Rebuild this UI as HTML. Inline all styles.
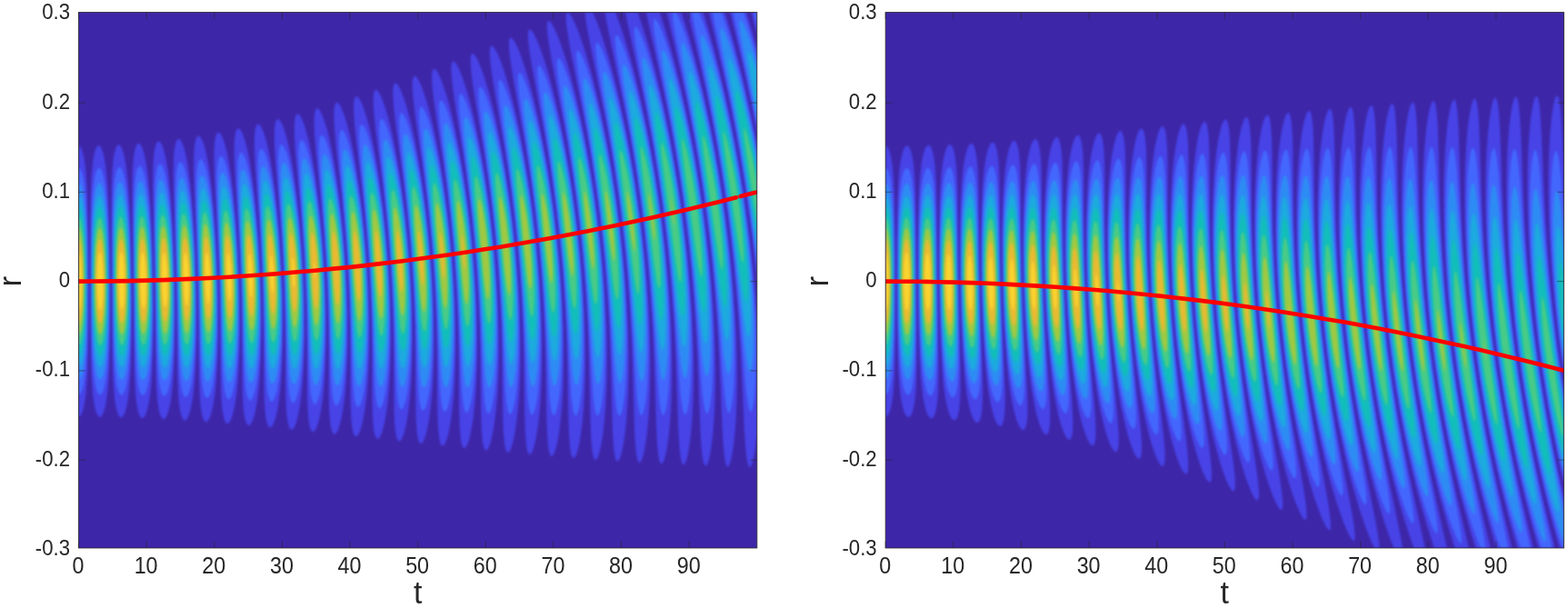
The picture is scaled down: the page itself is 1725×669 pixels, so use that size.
<!DOCTYPE html>
<html><head><meta charset="utf-8"><title>r versus t</title>
<style>
html,body{margin:0;padding:0;background:#fff}
body{width:1725px;height:669px;overflow:hidden}
svg{display:block}
text{font-family:"Liberation Sans",Arial,Helvetica,sans-serif;font-size:24px;fill:#262626;letter-spacing:0px}
text.l{font-size:34px;letter-spacing:0}
text.x{letter-spacing:0}
</style></head><body>
<svg width="1725" height="669" viewBox="0 0 1725 669" shape-rendering="geometricPrecision">
<defs>
<filter id="b" x="-1%" y="-1%" width="102%" height="102%" color-interpolation-filters="sRGB"><feGaussianBlur stdDeviation="0.8"/></filter>
<clipPath id="c0"><rect x="86.5" y="13.5" width="746.3" height="589.5"/></clipPath>
<clipPath id="c1"><rect x="974.2" y="13.5" width="746.3" height="589.5"/></clipPath>
</defs>
<rect width="1725" height="669" fill="#fff"/>
<g clip-path="url(#c0)"><g filter="url(#b)">
<rect x="80.5" y="7.5" width="758.3" height="601.5" fill="#3e26a8"/>
<path fill="#4743e7" d="M623.5 14.1l0.3-0.3 0.6-0.2 0.6 0.1 0.5 0.4 1.5 1.6 1.7 2.5 1.9 3.4 2 4.4 2.1 4.9 2.2 5.7 4.7 13.4 4.6 15 4.9 17.2 4.6 18.2 4.3 18.2 4.1 18.9 4 19.6 3.5 19.4 3.4 20 3.1 20.9 2.8 20.6 2.5 20.1 2.1 20.1 1.8 20 1.5 19.5 1.2 20 0.8 19.5 0.6 18.8 0.2 18.9-0.1 17.7-0.5 18.3-0.9 17.1-1.1 15.6-1.5 13.9-1 6.8-0.9 5.6-0.9 4.8-1.2 4.7-1.1 3.6-0.9 2.3-1.1 1.7-0.6 0.5-0.4 0.1-0.7-0.2-0.8-0.9-0.7-1.7-0.6-2.1-0.5-2.8-0.6-3.9-0.8-9.1-0.6-9.5-0.4-12.4-1.3-49.5-0.8-23.5-0.8-20.1-1-19.4-1.5-24.2-1.8-23.6-2.2-23.6-2.5-23.5-2.8-23-3-22.4-3.4-23-3.8-23.1-3.2-18.8-3.7-19.7-4.1-21.2-9.3-46.9-2.2-11.8-1.7-10-1.3-8.9-0.6-7-0.1-2.4 0.1-2.4 0.3-1.7zM643.6 13.5l8.4 0 0.9 2 2.5 5.6 2.4 6.2 2.6 7.2 2.8 8.2 5.6 18.1 5.6 20.1 4.7 18.5 4.6 20 4.5 20.9 4.1 21 3.9 21.9 3.6 21.9 3.1 21.8 2.9 21.8 2.3 20.6 2 20.7 1.8 20.6 1.3 20.1 1.1 20 0.7 20 0.3 18.9 0.1 18.9-0.4 18.8-0.7 18.3-1.1 16.2-1.5 15.2-0.9 7.3-1 6-0.9 5.1-1.1 5-0.9 3.2-1.2 3-1.1 1.9-0.5 0.5-0.4 0.1-0.8-0.1-0.7-0.9-0.7-1.7-0.6-2.1-0.6-2.8-0.5-3.8-0.9-9.1-0.6-10-0.5-12.4-1.5-50.7-0.8-24.7-1-21.8-1.2-20.7-1.7-25.3-2.1-25.4-2.5-25.3-2.8-24.8-2.8-21.8-3-21.2-3.3-21.2-3.7-22.1-3.9-21.8-4.3-22.5-12.7-62.1-3-15.4-2.7-15.3-0.8-5.9zM665.5 13.5l11.4 0 4.2 11.1 4.5 13.1 4.5 14.5 4.6 16.3 5.1 19.2 5 20.9 4.9 21.9 4.4 22.2 4.2 22.3 3.9 23.2 3.5 23.4 3 23 2.5 21.2 2.2 20.6 1.8 21.3 1.5 20.6 1.2 20.6 0.8 20.1 0.4 20 0.1 18.9-0.2 19.4-0.7 18.3-1.1 17.1-1.4 15.4-1.7 12.6-0.9 5.3-1.2 5.2-1.1 4.1-1.1 2.9-1.1 1.8-0.6 0.4-0.3 0.1-0.8-0.3-0.5-0.8-0.8-1.7-0.6-2-0.5-2.8-0.6-3.9-0.9-9.2-0.6-9.5-0.5-12.5-1.7-51.1-0.9-25.3-1.1-22.4-1.3-21.8-1.9-26-2.2-25.9-2.6-25.4-3-25.9-3.2-23.6-3.3-23-3.9-24.1-4.1-23.6-4-21.4-4.5-22.6-15.1-72.2-2.1-10.6zM688 13.5l13.4 0 3.6 10.3 3.5 10.8 3.8 12.2 3.5 12.3 5.4 20.2 5.4 22 5.1 22.3 4.8 23.5 4.3 22.8 4.1 24 3.7 24.2 3.3 23.5 2.5 21.3 2.3 21.2 1.9 21.2 1.6 21.2 1.3 20.7 0.8 20 0.6 20 0.2 19.5-0.2 19.5-0.6 18.8-1 17.1-1.3 15.9-1.8 13.6-1 5.9-0.9 4.5-1.1 4.2-1.1 3.1-0.6 1-0.6 0.8-0.5 0.4-0.4 0.1-0.4 0-0.3-0.3-0.6-0.7-0.7-1.8-0.6-2.1-0.6-2.8-0.5-3.9-0.9-9-0.6-9.4-0.7-13-1.8-51.9-1-24.7-1.2-23.6-1.4-21.8-2-26.6-2.3-25.9-2.8-26.5-3.1-26-3.4-24.7-3.6-24.2-4.1-24.8-4.4-24.7-4.1-21.2-4.6-22.7-4.8-22.9-9.8-44.6zM710.8 13.5l14.8 0 5.7 17.5 5.6 18.7 5.8 21.2 5.6 22.4 5.4 23.5 5 23.9 4.7 24.3 4.3 24.6 3.9 24.9 3.4 24.2 2.6 21.2 2.4 21.8 2 21.2 1.6 20.7 1.4 20.6 1 20.6 0.6 20.1 0.3 20-0.1 20.1-0.5 18.8-0.8 17.7-1.3 15.9-0.8 7.7-0.9 6.5-1 6.4-0.9 4.7-1 3.7-1.1 3.4-1.1 2.1-0.6 0.5-0.3 0.2-0.4 0-0.4-0.2-0.7-0.9-0.6-1.3-0.6-2.1-1.1-6-1-9.3-0.7-9.6-0.6-13.4-2.1-52.5-1.1-25.9-1.3-23.6-1.5-22.4-2.1-26.5-2.5-27.2-2.9-26.5-3.3-26.5-3.4-24.8-3.9-25.3-4.3-25.4-4.6-25.3-4.6-23.4-5.2-25.1zM733.7 13.5l15.9 0 4.5 13.9 4.3 14.4 5.9 21.6 6 23.5 5.6 24 5.2 24.5 4.9 24.8 4.5 25.4 4.1 25.4 3.6 25.9 2.7 21.2 2.5 21.9 2.1 21.8 1.7 21.2 1.4 21.2 1.1 20.6 0.7 20.7 0.4 19.4-0.1 20.1-0.4 19.4-0.8 17.7-1.2 15.9-1.6 14.2-1 6.1-0.9 4.9-0.9 3.9-1.1 3.5-1.2 2.1-0.5 0.6-0.4 0.1-0.4 0-0.3-0.2-0.6-0.7-0.7-1.7-0.6-2-1.1-6.3-1-9.1-0.7-9.5-0.7-13.6-2.3-53.6-1.2-25.3-1.4-24.2-1.6-22.4-2.2-27.1-2.6-27.1-3-27.2-3.4-26.5-3.6-25.3-4-26-4.5-25.9-4.8-25.8-5-25.2-5.4-25.5-5.6-25zM756.8 13.5l16.8 0 6 19.8 6.4 22.7 6.1 23.9 5.8 24.4 5.6 25.8 5.1 25.5 4.8 26.5 4.3 26.5 3.7 26 3.8 29.4 3.2 30.1 2.5 29.5 1.9 28.9 0 120.9-0.7 8.7-0.9 7.7-0.9 7.1-1 5.8-1.2 5-1.1 3.5-0.5 1.3-0.6 0.9-0.6 0.5-0.3 0.1-0.4 0-0.4-0.3-0.5-0.7-0.8-1.8-0.5-2.1-1.2-6.5-0.9-8.6-0.7-9.7-0.8-12.7-2.5-54.9-1.4-25.9-1.4-23.6-1.7-23-2.3-27.1-2.7-27.7-3-26.5-3.4-26.6-3.7-25.9-4.2-26.5-4.5-26-5-26.4-5.2-25.8-5.8-26.9-6.2-27.1zM780 13.5l17.4 0 4.8 15.9 4.9 17.2 4.6 17.5 4.7 18.7 4.5 19.1 4.1 18.6 4.1 19.8 3.7 19.3 0 152.8-1.8-18.3-2.1-18.3-2.2-18.2-2.4-18.3-2.6-18.3-2.6-17.7-3-18.3-3.1-18.2-3.2-17.7-3.4-17.7-3.6-18.1-4-18.6-8.2-36.6zM803.3 13.5l17.9 0 5.8 19.8 5.8 21.2 0 92.3-6.2-31.2-6.8-31.9-7.3-32.2zM826.5 13.5l6.3 0 0 25.4zM602.7 23.5l0.4-0.3 0.6-0.2 0.5 0.2 0.6 0.3 1.3 1.4 1.7 2.5 1.9 3.5 1.8 3.9 2.1 4.9 2.2 5.8 4.5 12.9 4.5 14.6 4.6 16.9 4.5 17.7 4.1 17.8 3.9 18.4 3.8 19.1 3.5 19.8 3.2 19.5 3 20.3 2.6 19.8 2.3 20 2 19.4 1.7 19.5 1.4 19.4 1 19.5 0.8 18.8 0.5 18.9 0.1 18.3-0.2 17.7-0.6 18.2-0.9 16.6-1.3 15.3-1.5 13.5-1 6.7-1 5.3-0.9 4.5-1.1 4.4-1.1 3.4-1 2.2-1.1 1.6-0.5 0.4-0.4 0.1-0.8-0.3-0.7-0.9-0.8-1.8-0.5-2.1-0.6-3-0.5-4-0.8-8.8-0.5-9.5-0.5-12.3-1.1-48.9-0.7-22.4-0.7-19.5-0.9-18.9-1.3-22.9-1.7-23-2-23-2.3-22.4-2.5-21.8-2.9-22.4-3.2-22.3-3.6-22.6-3-18.2-3.4-18.9-13-67.8-2.1-11.8-1.5-9.4-1.2-8.8-0.6-7.1 0-2.4 0.1-2.3 0.3-1.8zM582.4 32.4l0.4-0.1 0.5 0.1 1.4 1.1 1.4 1.9 1.7 2.8 1.7 3.4 1.9 4.2 2 5.1 2.1 5.5 4.3 12.9 4.3 14.4 4.3 16 4.2 17.6 4 17.5 3.7 18.2 3.5 18.8 3.2 18.4 3 19 2.7 19.5 2.5 19.4 2.2 19.5 1.8 18.8 1.5 19.5 1.3 18.9 0.9 18.8 0.7 18.3 0.3 18.3 0.1 17.7-0.3 17-0.7 17.1-0.9 16.6-1.3 14.7-1.7 13.4-1.8 11.2-1 4.3-1.1 4.3-1.1 3.4-0.9 2.1-1.2 1.6-0.5 0.4-0.4 0.1-0.5 0-0.4-0.3-0.8-1-0.7-1.9-0.6-2.2-0.5-3.1-0.6-4-0.7-9.2-0.5-9.7-0.4-11.8-1-47.1-0.5-21.8-0.7-18.3-0.7-17.7-1.3-22.4-1.4-21.8-1.8-21.8-2.1-21.8-2.4-21.8-2.7-21.3-3-21.8-3.3-22.4-2.9-17.4-3-18-12.6-68.3-2.1-11.8-1.5-9.5-1.2-10-0.3-4.1-0.1-3 0.2-2.9 0.3-1.8 0.5-1.1zM561 41.8l0.3-0.3 0.6-0.1 0.6 0.1 0.5 0.4 1.3 1.3 1.7 2.5 1.7 3.1 1.8 4 1.9 4.5 2.1 5.4 4.1 12.2 4.1 13.7 4.3 16 4.1 16.9 3.7 16.8 3.7 18.3 3.4 18 3.2 18.7 2.9 19.4 2.7 19 2.3 19.4 2.1 19.4 1.8 18.9 1.4 18.8 1.2 18.9 0.9 18.3 0.5 18.3 0.3 17.6-0.1 17.7-0.3 16.5-0.7 17.1-1 15.6-1.4 14.1-1.6 13.2-1.9 10.8-0.9 4.2-1.2 4.2-1.1 3.3-0.9 2-1.1 1.6-1 0.6-0.5-0.1-0.4-0.2-0.7-1-0.8-1.7-0.5-2.1-0.6-2.9-0.6-4.1-0.7-9.1-0.5-10-0.4-11.8-0.8-47.2-0.5-21.2-0.6-17.7-0.7-17.7-1.2-21.8-1.4-21.8-1.7-21.2-2-21.3-2.2-20.6-2.4-20.6-2.8-20.7-3.1-21.2-5.5-33.7-11.6-65.3-1.9-11.8-1.5-9.4-1.1-9.5-0.4-7 0-2.4 0.1-2.4 0.4-1.7zM540 50.6l0.4-0.2 0.6-0.1 0.6 0.1 0.5 0.4 1.3 1.4 1.5 2.2 1.7 3.1 1.7 3.6 1.8 4.5 1.9 5 3.9 11.6 4.1 13.9 4.1 15.6 4 16.4 3.7 17.2 3.3 16.9 3.4 18.5 3 18.1 2.8 18.8 2.5 18.7 2.2 18.9 1.9 18.9 1.7 18.8 1.3 18.3 1.1 18.3 0.7 17.7 0.5 17.6 0.2 17.7-0.1 17.1-0.4 16.5-0.8 16.5-1.1 15.4-1.3 13.8-1.7 12.6-1.9 10.3-0.9 4.1-1.1 4-1.1 3.2-1 2-1.1 1.6-0.9 0.5-0.6-0.1-0.4-0.2-0.7-0.9-0.7-1.7-0.6-2.1-0.6-2.7-0.5-4-0.9-10.4-0.4-9.2-0.4-12-1.1-66.6-1.1-33.6-1.1-21.2-1.2-20.7-1.6-20.6-1.8-20.6-2.1-20.1-2.2-19.4-2.6-20.7-2.8-20-5.1-32.4-11.1-64.9-1.8-11.8-1.4-9.4-1-9.4-0.4-7.1 0-2.9 0.3-2.4 0.4-1.5zM518.8 59.5l0.4-0.3 0.5-0.3 0.6 0.1 0.5 0.3 1.4 1.3 1.3 1.8 1.5 2.7 1.6 3.5 1.9 4.4 1.9 4.9 3.7 11.1 3.9 13.3 3.9 15 3.8 15.8 3.5 16.6 3.4 17.2 3.1 17.8 2.9 18 2.7 18.6 2.4 18.6 2.1 18.2 1.9 18.9 1.5 18.3 1.3 18.3 1 18.2 0.6 17.7 0.4 17.7 0.1 17.1-0.1 16.5-0.5 15.9-0.8 15.9-1.1 14.8-1.5 13.9-1.7 12-1.8 9.9-1 3.9-1.1 3.9-1.1 3-0.9 1.9-1.2 1.5-0.9 0.5-0.6-0.1-0.3-0.2-0.8-0.9-0.7-1.7-0.8-2.8-0.5-3.1-0.5-4-0.8-9.4-0.4-9.2-0.3-12.1-1-65.4-1-32.4-0.9-20.6-1.2-20.1-1.4-20-1.8-20.1-1.8-18.8-2.1-18.9-2.4-19.5-2.6-19.4-4.6-30.9-10.3-62.8-1.8-11.8-1.3-9.5-1-9.4-0.4-7.7 0.1-2.5 0.2-2.2 0.4-1.7zM497.9 67.7l0.4-0.2 0.5-0.1 0.6 0.2 0.6 0.3 1.3 1.4 1.3 2 1.5 2.7 1.6 3.6 3.4 8.6 3.5 10.7 3.8 13 3.7 14.6 3.5 15.4 3.4 16.1 3.2 16.7 3 17.2 2.8 18 2.5 18.4 2.3 18.2 2 18.4 1.7 18.2 1.5 18.3 1.1 17.7 0.9 17.7 0.5 17.1 0.3 17.1 0.1 17.1-0.3 16.5-0.6 15.3-0.8 15.3-1.2 14.2-1.5 13.4-1.6 11.4-1.9 9.4-0.9 3.8-1.2 3.7-1.1 2.9-0.9 1.8-1.1 1.4-1 0.4-0.5-0.1-0.4-0.3-0.7-0.9-0.8-1.7-0.7-2.8-0.6-3.1-0.5-4-0.8-10-0.6-17.7-0.7-61.3-0.5-18.8-0.5-17.7-0.9-19.5-1-19.4-1.3-18.9-1.5-18.9-1.7-18.2-1.9-18.3-2.2-18.9-2.4-18.8-2.5-17.7-2.6-18.1-9.4-59.7-2.4-17.7-1-10-0.3-7.7 0.1-3 0.3-1.9 0.4-1.6zM476.7 76l0.5-0.3 0.4-0.1 0.9 0.4 1.3 1.2 1.3 1.8 1.5 2.7 1.5 3.2 1.7 4 1.6 4.5 3.4 10.2 3.6 12.5 3.5 14 3.5 15.7 3.2 15.6 3.2 17.1 2.8 16.8 2.6 17.3 2.4 17.9 2.1 17.6 1.9 17.7 1.6 18.3 1.4 17.7 1 17.7 0.8 17 0.5 17.1 0.2 16.5 0 16.6-0.4 15.9-0.6 15.3-0.8 14.6-1.2 13.7-1.4 12.7-1.7 11.2-1.9 9.2-0.9 3.7-1.1 3.6-1.2 2.9-0.9 1.8-1.1 1.4-0.9 0.5-0.6-0.1-0.4-0.2-0.7-0.8-0.8-1.6-0.7-2.6-0.6-2.8-0.5-4.1-0.9-10.6-0.6-18.3-0.6-60.1-0.9-34.8-0.7-18.9-1-18.8-1.2-18.3-1.4-18.3-1.5-17.7-1.8-17.7-2-17.7-2.2-18-4.6-34.1-8.8-58.7-2.3-17.7-0.9-10-0.2-7.6 0.2-3 0.2-1.9 0.5-1.6zM456 83.7l0.9 0 1.1 0.9 1.3 1.6 1.3 2.1 1.5 3 1.5 3.4 3.1 8.6 3.2 10.2 3.4 12.3 3.3 14 3.2 14.7 3 15.3 3 16.9 2.6 16.5 2.4 16.9 2.2 17.4 2 17.1 1.6 17.1 1.5 17.7 1.2 17.1 0.9 17.1 0.7 17.1 0.3 16.5 0.2 16.5-0.2 15.9-0.4 15.3-0.6 14.8-1 14.7-1.3 13.5-1.5 12-1.7 10.2-1.8 8.5-1 3.4-1.1 3.3-1.1 2.5-0.9 1.6-1 0.9-0.9 0.4-0.6-0.1-0.3-0.3-0.8-0.9-0.7-1.7-0.8-2.7-0.5-3-0.6-4.3-0.8-10.3-0.6-18.3-0.5-57.7-0.7-33-0.7-17.7-0.8-17.1-1-17.7-1.2-17.1-1.4-17.1-1.6-17.1-1.8-17.7-2-17.7-4.4-33.6-8.3-58.3-1.2-10-1-8.9-0.8-10.6-0.1-4.1 0.1-3.6 0.3-2.5 0.5-2.2 0.6-1.2 0.3-0.3zM433.9 91.9l0.7-0.5 0.6 0 0.6 0.2 1.1 0.9 1.3 1.7 1.3 2.3 1.5 3.1 3 7.5 3.1 9.8 3.2 11.5 3.2 12.9 3.2 14.7 2.8 14.3 2.8 15.9 2.6 16.4 2.4 17.2 2.2 17.1 1.9 17.2 1.7 17.6 1.4 17.7 1.2 17.1 0.9 17.1 0.6 16.5 0.3 16.5 0.1 15.9-0.1 15.9-0.5 15.3-0.6 14.2-1 14.1-1.2 12.8-1.5 12-1.7 10.3-1.8 8.6-1 3.4-1.1 3.3-1.1 2.6-0.9 1.6-1 1.1-0.9 0.4-0.6 0-0.3-0.2-1-1.1-0.7-1.6-0.8-2.6-0.5-2.8-0.6-4.1-0.8-10.6-0.4-8.3-0.2-10.6-0.5-57.2-0.6-32.4-0.6-17.7-0.8-17.1-1-17.1-1.2-17.1-1.2-15.9-1.5-16.5-3.4-32.4-3.8-31.1-7.3-54.4-2.2-18.9-0.8-10.6-0.1-7.6 0.1-3 0.4-2.3 0.4-1.8zM412.9 99l0.9-0.2 0.5 0.2 0.6 0.4 1.1 1.1 1.1 1.7 1.3 2.4 1.3 2.8 1.5 3.7 1.5 4.1 3 9.6 3 11.1 3 12.7 2.9 14.3 2.8 15 2.7 15.5 2.4 16.1 2.2 16.7 2 16.6 1.8 16.7 1.5 16.9 1.3 17.1 1 16.5 0.8 16.5 0.5 16.5 0.2 15.9 0.1 16-0.3 15.3-0.5 14.7-0.7 14.2-1 13.5-1.3 12.7-1.5 11.2-1.6 9.7-1.9 8.1-0.9 3.2-1 2.6-1.1 2.5-0.9 1.6-1 0.9-0.9 0.4-0.5 0-0.4-0.2-0.8-0.8-0.7-1.4-0.8-2.3-0.6-2.8-0.5-3.5-0.9-8.9-0.4-9.4-0.3-12.4-0.4-54.2-0.5-28.3-0.9-27.7-1.3-26.5-1.1-17.7-1.4-17.7-1.5-17.7-1.8-18.3-3.8-33.6-7.3-58.3-2-18.9-0.6-10.6-0.1-4.1 0.1-3.6 0.3-2.9 0.4-2.3 0.6-1.5 0.3-0.5zM391.6 106.1l0.3-0.2 0.6 0.1 0.9 0.5 1.1 1.2 1.3 1.9 1.3 2.5 1.4 3 2.6 7 2.8 9.2 2.8 10.7 2.8 12.2 2.8 13.8 2.6 14.4 2.4 15 2.3 15.9 2.2 16.7 1.8 16.4 1.7 16.9 1.4 16.7 1.2 16.5 0.9 16.5 0.7 15.9 0.4 15.9 0.2 15.9 0 15.3-0.3 15.4-0.5 14.7-0.8 13.4-1 12.5-1.2 12.1-1.5 11-1.7 9.4-1.9 7.8-0.9 3-1 2.6-1.1 2.4-0.9 1.4-0.9 0.9-1 0.3-0.5-0.1-0.4-0.2-0.9-1.1-0.8-1.7-0.7-2.4-0.6-3-0.5-3.4-0.8-8.9-0.4-9.4-0.3-12.4-0.3-51.9-0.4-26.5-0.8-25.4-1.1-24.7-1-17.1-1.2-17.7-1.4-17.1-1.6-17.7-3.4-33.1-6.8-57.7-1.1-10.6-0.7-8.8-0.6-10.6 0-4.1 0.1-3.6 0.4-2.9 0.5-2.4 0.7-1.7zM369.7 113.1l0.8-0.3 0.9 0.2 1.1 0.9 1.1 1.5 1.3 2.2 1.4 2.8 2.6 6.8 2.6 8.5 2.8 10.7 2.6 11.5 2.6 13.2 2.4 13.6 2.4 15.3 2.3 15.9 1.9 15.7 1.8 16.1 1.6 16.9 1.4 16.5 1.1 16.5 0.9 16.5 0.6 16 0.4 15.9 0.1 15.3-0.1 15.3-0.3 14.8-0.6 14.1-0.7 13-1 12.5-1.3 11.7-1.3 9.9-1.7 9.3-1.9 7.8-0.9 3.1-0.9 2.5-1.2 2.3-0.9 1.5-0.9 0.9-1 0.3-0.9-0.3-0.9-1-0.8-1.6-0.7-2.4-0.7-3.5-0.6-3.5-0.8-9.4-0.4-9.5-0.3-12.3-0.3-50.7-0.3-25.4-0.7-23.6-0.9-23-0.9-16.5-1-16.5-1.3-16.5-1.4-17.1-3.1-32-6.1-55.8-1.7-19.5-0.5-10.6 0-4.7 0.1-3.5 0.3-3 0.5-2.3 0.6-1.8zM348.1 119.6l0.4-0.2 0.5-0.2 0.9 0.3 1 0.8 1.1 1.4 1.1 1.9 1.3 2.8 2.4 6.3 2.5 7.9 2.6 10.1 2.6 11.8 2.4 12.5 2.4 14.2 2.2 14.1 2.1 15.9 1.9 15.4 1.7 16.2 1.4 16.2 1.3 15.9 1 16.5 0.8 15.9 0.5 15.9 0.4 15.4 0.1 15.3-0.1 14.7-0.4 14.8-0.6 14.1-0.8 13-1 12.4-1.3 11.4-1.4 9.8-1.6 8.4-1.9 7.5-0.9 2.9-0.9 2.3-1 1.9-0.9 1.4-0.9 0.9-1 0.3-0.9-0.2-0.9-1.1-1-1.9-0.7-2.6-0.7-3.3-0.6-4.1-0.4-4.7-0.4-5.9-0.4-9.5-0.3-11.8-0.2-48.3-0.3-23.6-0.6-21.8-0.7-21.2-1.7-31.9-2.3-32.4-2.8-31-5.5-55.6-1.6-19.5-0.4-11.2 0.1-4.6 0.1-3.6 0.4-3 0.4-2.3 0.7-2zM326.8 125.5l0.8-0.1 0.9 0.3 0.9 0.9 1.1 1.5 1.2 2 1.1 2.5 2.4 6.5 2.4 8.3 2.3 9 2.4 11.4 2.2 12.1 2.3 13.7 2 14.2 1.9 15 1.8 15.9 1.5 15.5 1.4 16.3 1.1 15.9 1 16.5 0.7 16 0.4 15.3 0.3 15.3 0 14.8-0.2 14.7-0.4 14-0.6 13.7-0.8 12.4-1 11.8-1.3 10.8-1.4 9.2-1.6 8.3-1.7 6.5-0.9 2.9-0.9 2.3-1 1.8-0.9 1.4-0.9 0.8-1 0.3-0.5-0.1-0.6-0.4-0.9-1.1-0.9-2.2-0.8-2.7-0.7-4-0.6-4.3-0.8-11.3-0.4-9.4-0.2-11.2-0.3-49.5-0.4-25.9-0.6-25.4-1.1-25.3-1.3-24.2-1.8-24.8-2.1-26.5-4.9-54.2-1-13-0.5-10-0.1-10 0.1-3.6 0.3-3.5 0.4-2.4 0.6-2.3 0.7-1.5zM304.8 131.4l0.7-0.3 1 0.2 0.9 0.7 1.1 1.4 1.1 1.9 1.2 2.3 2.2 6 2.2 7.6 2.3 9.2 2.2 10.8 2.1 11.4 2 12.9 1.9 13.4 1.9 15.2 1.6 15.5 1.5 16 1.3 15.5 1 15.9 0.9 15.9 0.6 15.4 0.4 15.3 0.3 15.3 0 14.8-0.2 14.1-0.4 14.2-0.7 13.5-0.8 12.4-1 11.8-1.2 10.1-1.4 9.3-1.6 8.1-1.7 6.5-0.9 2.7-0.9 2.3-0.9 1.8-1 1.2-0.9 0.8-0.8 0.2-0.5 0-0.6-0.3-0.5-0.6-0.6-0.8-0.9-2.2-0.9-3.2-0.7-4.1-0.6-4.7-0.5-5.3-0.4-6.5-0.3-9-0.2-11.6-0.3-48.4-0.4-24.1-0.6-24.2-0.8-23.6-1.2-22.4-1.5-23.6-1.8-25.3-4.2-51.9-0.9-13-0.5-10.6-0.1-10 0.2-4.1 0.2-3.5 0.5-3.5 0.6-2.2 0.7-1.7zM283 136.7l0.7-0.3 0.9 0.1 1 0.7 1.1 1.4 0.9 1.5 1.1 2.3 2.1 5.5 2.1 6.9 2 8.5 2.1 10 2 11.7 1.9 12.2 1.8 14 1.7 14.4 1.6 15.4 1.3 15.4 1.2 15.9 1 15.9 0.8 16.5 0.6 15.3 0.4 15.4 0.1 15.3 0 14.7-0.2 14.2-0.5 13.5-0.6 13-0.8 12.1-1.1 11.5-1.2 9.9-1.3 8.4-1.5 7.5-1.6 6.3-1.7 4.5-1 1.8-0.9 1.2-0.9 0.8-0.8 0.3-0.7-0.1-0.6-0.4-0.5-0.6-0.6-0.8-0.9-2.3-1-3.5-0.7-4.2-0.6-5.2-0.5-6-0.4-7-0.5-20.6-0.4-46.6-0.3-23-0.5-22.4-0.7-21.8-1-21.2-1.1-21.3-1.6-24.1-3.7-51.3-0.7-13-0.4-10.6-0.1-11.2 0.2-4.1 0.4-4 0.4-3.1 0.7-2.6 0.7-1.7zM261.4 141.4l0.9-0.2 0.9 0.4 0.9 0.8 1 1.3 0.9 1.6 0.9 2 2.1 5.7 2 7.3 1.9 8.2 1.9 9.7 1.8 11.4 1.7 11.8 1.7 13.5 1.5 14.4 1.5 15.3 1.2 15.3 1 15.3 0.9 16 0.7 15.9 0.5 15.3 0.3 15.3 0.1 14.8-0.1 14.7-0.3 14.1-0.4 13.1-0.7 12.9-0.8 11.6-1 10.8-1.2 9.9-1.4 8.1-1.4 7.1-1.7 5.9-1.7 4.1-0.9 1.6-0.8 0.9-0.9 0.7-0.8 0.2-0.7-0.2-0.6-0.4-0.5-0.7-0.6-0.9-1.1-2.9-0.9-3.9-0.8-4.7-0.6-5.4-0.5-7-0.4-7.8-0.4-19.9-0.7-65.5-0.4-21.2-0.6-20-0.8-19.5-0.9-19.4-1.3-23.6-3.1-50.1-0.7-13.6-0.3-10.6 0-11.8 0.3-4.7 0.4-4.1 0.5-3.3 0.7-2.9 0.8-1.6 0.5-0.7zM239.1 146.1l0.8-0.5 0.7 0 0.9 0.5 1 0.9 0.9 1.4 0.9 1.8 1.9 4.7 1.9 6.3 1.8 7.8 1.9 9.7 1.7 10.3 1.7 12.1 1.5 12.5 1.4 14.4 1.4 14.6 1.1 15.5 1.1 16 0.8 15.9 0.6 15.9 0.5 15.3 0.3 15.3 0.1 14.8-0.1 14.7-0.3 14.2-0.5 13.5-0.6 12.4-0.8 11.5-0.9 10.2-1.2 9.6-1.3 8.1-1.5 7.3-1.4 5.4-1.7 4.3-1 1.6-0.7 1-0.9 0.8-0.8 0.2-0.7-0.1-0.6-0.3-0.7-0.8-0.6-1-1.2-3-1-4.4-0.8-5-0.7-6.5-0.5-7.1-0.4-8.8-0.4-20-0.7-63.1-0.8-37.2-0.7-20-0.9-21.2-3.5-68.4-0.6-20.6 0-12.4 0.3-5.1 0.3-4.5 0.6-4 0.7-2.9 0.8-2.2zM217.6 149.7l0.8-0.3 0.8 0.2 0.9 0.7 0.9 1.2 1.7 3.2 1.9 5.1 1.6 6.2 1.7 7.7 1.7 9.4 1.5 10 1.5 11.8 1.3 12 1.3 14 1.2 14.9 1 15.5 0.9 15.7 0.7 15.9 0.6 15.9 0.4 15.4 0.2 15.3 0 14.7-0.1 14.2-0.4 14.1-0.4 13-0.7 11.8-0.8 11.2-0.9 10.2-1.1 9-1.3 8-1.4 6.2-1.4 5.2-0.8 2-0.9 2-0.8 1.3-0.9 1.1-0.7 0.5-0.8 0.2-0.7-0.1-0.8-0.5-0.7-0.9-0.6-1-0.7-1.8-0.6-1.9-1-4.7-0.9-5.9-0.7-7.6-0.5-8.9-0.4-10.1-0.4-18.8-0.6-58.4-0.7-33-1.2-38.3-2.7-65.4-0.5-22.4 0.1-7.7 0.1-6.5 0.3-5.3 0.5-4.9 0.7-3.9 0.8-3.3 0.9-2.1 0.6-0.7zM195.4 153.2l0.8-0.4 0.8 0 0.7 0.4 0.9 1 0.8 1.1 0.9 1.8 1.7 4.4 1.7 6 1.5 6.8 1.5 8.3 1.4 10.3 1.4 10.7 1.3 12.8 1.1 13.4 1.1 14.6 1 15.5 0.8 15.9 0.6 16.3 0.5 16.1 0.5 31.3 0 14.7-0.1 14.8-0.3 13.5-0.5 13-0.6 12-0.8 11-0.9 9.7-1.1 8.6-1.2 7.4-1.3 6.2-1.5 5.3-1.4 3.6-0.8 1.3-0.9 1.2-1 0.7-0.7 0.1-0.9-0.3-0.8-0.6-0.7-1-0.8-1.6-0.7-2.1-0.6-2.1-1-5.2-0.9-6.5-0.7-8.6-0.5-9.6-0.4-11.8-0.3-18.9-0.6-54.2-0.5-27.7-0.9-34.8-1.9-61.9-0.3-13.6-0.1-11.2 0.3-14.7 0.3-5.9 0.5-5.3 0.7-4.3 0.8-3.4 1-2.7zM174.1 155.6l0.8 0 0.8 0.3 0.7 0.7 0.8 1.1 0.9 1.7 0.8 1.7 1.4 4.6 1.5 6 1.3 6.6 1.4 8.2 1.3 10.3 1.1 10.6 1.1 12.4 1 13.6 1 14.7 1.4 31.3 0.9 33 0.4 31.2-0.3 28.9-0.3 13.6-0.5 12.3-0.6 11.3-0.8 10.3-0.8 9.1-1 8-1.1 6.9-1.4 6.1-1.3 4.5-1.5 3.6-0.7 1.2-0.9 1.1-0.8 0.5-0.7 0.2-1-0.2-0.9-0.8-0.9-1.4-0.8-1.7-0.7-2.3-0.7-2.7-1.1-6.5-1-8.2-0.7-10.1-0.5-11.8-0.4-15.3-1.1-90.2-1.9-90.2-0.2-14.1 0.1-11.2 0.1-8.9 0.4-7.6 0.5-6.5 0.7-5.3 0.8-4.1 1.1-3.5 1.1-2.1 0.5-0.6zM151.7 157.9l0.8-0.2 0.8 0.2 0.7 0.5 0.8 0.9 0.7 1.2 0.8 1.5 1.5 4.2 1.3 5.1 1.3 6.7 1.3 8.1 1.1 9 1.1 10.6 1 12 1.6 26.9 1.3 31.2 0.8 33.6 0.3 32.5-0.3 30-0.3 13.6-0.5 12.7-0.5 11-0.7 10.5-0.8 8.8-1 8.3-1.1 6.4-1.3 6.1-1.3 4.5-1.5 3.5-0.7 1.2-0.8 0.9-0.7 0.5-0.7 0.2-1-0.2-0.9-0.7-0.9-1.4-1-2-0.9-3-0.7-3.1-1.3-7.6-1-9.8-0.7-11.5-0.6-14.1-0.3-18.3-0.9-79-1-74.2-0.1-19.5 0.1-15.3 0.3-9.5 0.4-8.2 0.6-7.1 0.6-5.3 0.9-4.7 1.1-4 1.1-2.4 0.6-0.7zM129.4 159.7l0.8-0.4 0.7 0 0.8 0.3 0.7 0.8 0.7 1 0.8 1.5 1.5 4 1.3 5.1 1.3 6.6 1.1 7.6 0.9 8.3 1 10.1 0.8 10.5 1.4 26.5 1.1 31.9 0.6 34.2 0.2 34.2-0.3 31.2-0.7 25.9-0.6 11.2-0.7 10.1-0.7 8.4-0.9 7.9-1.2 7-1.1 5.3-1.3 4.4-0.7 1.9-0.8 1.6-0.7 1.1-0.8 0.8-0.7 0.5-0.8 0.1-0.5-0.1-0.6-0.3-1.1-1.2-0.9-1.6-1-2.5-0.9-3.3-0.7-3.5-0.8-4.6-0.6-4.8-1-11.8-0.8-14.2-0.5-17.7-0.4-23-0.9-119.6 0.1-27.1 0.3-20.1 0.4-9.4 0.4-8.1 0.7-7.3 0.7-5.8 0.9-5 1.1-4.2 1.1-2.7 0.6-0.9zM108 160.3l0.7-0.1 0.7 0.3 0.8 0.6 0.7 1 1.3 2.7 1.4 4.2 1.1 4.9 1.1 6.6 0.9 7.2 0.9 9.1 0.8 10.1 0.6 10.6 1.1 26.1 0.8 32.8 0.4 36.6 0 34.7-0.4 30.7-0.7 24.8-0.5 10-0.7 9.4-0.7 8.3-0.9 7-1 6.5-1.2 5.1-1.3 4.2-1.3 2.8-0.7 1.1-0.6 0.6-0.7 0.5-0.8 0.2-0.7-0.2-0.6-0.4-0.7-0.7-0.6-0.9-1.1-2.3-1.1-3.5-1-3.9-0.9-5.4-0.7-5.7-0.7-6.2-1-15.3-0.7-18.9-0.5-24.2-0.3-33-0.1-48.9 0.1-40.1 0.4-27.7 0.7-20.8 0.5-8.7 0.7-7.6 0.7-6.5 0.9-5.9 1.1-4.9 1.1-3.4 0.6-1.2 0.8-1.2 0.7-0.8zM86.5 160.9l0-0.4 0.6 0.1 0.5 0.3 0.8 0.8 0.7 1.1 1.3 3.1 1.2 4.4 1.1 5.1 0.9 6.4 0.8 7.4 0.7 8.8 0.6 9.4 0.5 11.3 0.7 26.4 0.5 34.9 0.2 40.6-0.1 35.4-0.5 28.9-0.7 22.4-1.1 17.7-0.7 7.6-0.8 6.5-0.9 5.5-1.1 5.1-1.1 3.7-1.3 2.9-0.6 0.9-0.7 0.8-0.8 0.5-0.7 0.2z"/>
<path fill="#4367fd" d="M740.1 14.1l0-0.6 3.4 0 1.4 2.4 1.5 2.9 3.6 8.3 4.1 11.2 4.4 13.6 4.7 15.7 4.5 16.4 4.1 16.2 3.9 16.7 3.7 16.9 3.8 18.3 3.5 18.7 3.2 18.1 3 18.5 2.8 18.9 2.4 18.2 2.1 17.2 1.9 18.3 1.7 17.6 1.4 17.1 1.1 17.1 0.9 17.1 0.6 16.5 0.3 16.5 0 16-0.3 14.7-0.7 13.6-1 11.5-1.2 8.5-0.6 3.4-0.8 2.5-0.7 1.6-0.4 0.4-0.4 0.2-0.4 0-0.3-0.2-0.6-0.9-0.7-1.9-0.6-2.1-1.1-6-1.2-9.4-2-20.9-5.3-67.5-3.2-34.8-2.2-21.8-2.5-21.2-2.6-21.2-2.8-20.7-2.7-18.8-3.1-19.5-3.1-18.9-3.4-19.4-5.9-31.8-12-60.8-3.8-20-1.3-8.3-0.8-5.9-0.4-4.7zM761.5 13.5l7.6 0 4.2 10.6 4.5 12.9 4.6 14.9 4.7 16.2 4.5 16.8 4.3 17.3 4.2 18.7 4 18.3 3.9 19.8 3.5 19.3 3.4 19.9 3 19.4 2.6 18.6 2.3 17.8 2.1 18.3 1.8 18.3 1.6 18.2 1.3 17.7 1 17.1 0.7 17.1 0.5 17.1 0.1 16.5-0.3 15.3-0.5 13.6-0.9 12-1.2 9.2-0.7 3.7-0.7 2.7-0.8 1.6-0.3 0.5-0.4 0.2-0.4 0-0.4-0.3-0.5-0.8-0.6-1.4-0.5-1.9-1.2-6-1.3-9.1-2-20.8-5.9-70.9-3.6-37.2-2.4-22.4-2.6-21.8-2.9-22.4-3-21.2-2.8-18.3-2.9-17.7-6.3-36.5-7.3-37.8-14-69.5-2.5-13.6zM783.9 13.5l9.8 0 3.5 9.5 3.7 11.3 4.3 13.9 4.3 15 4.3 16.1 4.1 16.5 3.9 16.7 3.9 17.9 3.7 18.2 3.4 17.6 0 132.5-3.8-32.9-4.2-31.2-4.6-31.3-5.2-31.8-4.8-27.1-5.4-28.3-5.9-28.9-11.1-53.1zM806.6 13.5l11.4 0 3.6 10.6 3.7 11.9 3.8 12.5 3.7 13.4 0 78.2-4.4-22.8-4.7-23-13.7-64.3zM829.5 13.5l3.3 0 0 15.1zM720.3 20.6l0.7 0.3 1.2 1.2 1.3 2 1.5 2.9 3.3 7.6 3.9 10.6 4 11.8 4.1 13.6 4.1 14.8 4.1 16 3.7 15.7 3.5 15.9 3.4 16.2 3.4 17.3 3.1 17.7 2.8 16.9 2.6 17.2 2.5 17.4 2.2 17.7 1.9 17.1 1.8 17.7 1.5 17.1 1.2 17.1 1 16.5 0.7 15.9 0.4 15.9 0.2 16-0.1 14.7-0.4 13.5-0.7 13-1 10.6-1.3 8.8-0.7 3.5-0.8 2.4-0.7 1.5-0.4 0.4-0.4 0.2-0.3 0-0.4-0.2-0.6-0.8-0.7-1.8-0.6-2.1-1.3-7.3-1.1-9.2-1.9-21.1-4.7-63.9-2.8-32.4-1.9-19.5-2.2-20-2.3-19.4-2.4-19.5-2.7-19.5-2.9-19.4-3.2-20.1-3.3-20-6.8-37.1-11.8-61.3-3.2-18.3-1.3-9.4-0.5-7.1 0-2.4 0.3-1.7 0.4-1zM698.5 30l0.5-0.5 0.4 0 0.6 0.3 1.1 1.2 1.3 2 1.5 2.9 1.7 3.6 3.7 9.5 3.9 11.4 4.1 13.3 4.1 14.6 4.1 15.9 3.8 15.6 3.5 15.9 3.4 16.2 3.3 17.5 3.2 17.9 2.8 17.1 2.6 17.5 2.4 17.8 2.1 17.3 2 17.6 1.6 17.1 1.4 17.1 1.1 16.5 1 17.1 0.6 16 0.3 15.3 0.1 15.9-0.2 15.3-0.6 13.6-0.8 12.4-1.1 10.6-1.3 7.9-0.8 3-0.7 2.1-0.8 1.3-0.3 0.3-0.4 0.1-0.4-0.1-0.4-0.3-0.5-1-0.8-2-0.5-2.3-1.1-6.4-1.2-9.4-1.6-19.6-4.6-65-2.6-31.2-1.9-20.1-2-19.4-2.3-19.5-2.4-19.4-2.4-18.3-2.8-19.5-2.9-18.2-3.1-19.5-5.4-30.7-11.5-61.3-3.3-19.4-1.4-9.4-0.7-7.1 0-4.7 0.2-1.3zM677.3 38.8l0.3-0.3 0.3-0.2 0.4 0.1 0.6 0.3 1.1 1.2 1.3 2 1.5 2.8 1.5 3.3 3.5 9 3.8 10.9 3.9 12.8 4.1 14.7 3.9 15.3 3.5 15 3.6 16.2 3.4 16.6 3.1 16.8 3 17.3 2.7 16.6 2.5 17.7 2.3 17.1 2 17.1 1.9 17.7 1.5 16.5 1.3 16.8 1.1 16.8 0.7 15.9 0.6 15.9 0.3 15.3 0 15.4-0.3 14.7-0.6 13.6-0.9 11.8-1.2 10.6-0.6 4.4-0.8 3.8-0.7 2.8-0.8 2.1-0.7 1.2-0.4 0.3-0.4 0.1-0.3-0.1-0.4-0.3-0.6-0.9-0.7-2-0.6-2.2-1.1-6.4-1.1-9.6-1.5-18-4-60.1-2.8-36-1.9-20-1.8-18.9-2.1-18.9-2.2-18.2-2.3-17.7-2.6-18.3-2.6-17.7-3-18.8-5-29.5-11-60.7-3.3-20.1-1.3-9.4-0.6-6.5-0.1-4.7 0.2-1.8zM656.5 47.1l0.4-0.1 0.5 0.2 1 0.8 1.1 1.5 1.3 2.2 1.5 3.1 1.5 3.5 3.5 9.4 3.7 11.3 3.8 12.6 3.7 13.8 3.7 15.1 3.4 14.7 3.4 15.8 3.1 16.1 3 16.5 2.8 16.7 2.5 16 2.3 17.1 2.1 16.5 1.9 16.5 1.7 16.5 1.4 17.1 1.2 16.5 1 15.9 0.6 15.9 0.5 15.4 0.2 15.3-0.1 15.3-0.4 14.2-0.7 13.5-0.9 11.5-1.2 9.7-0.7 4.2-0.8 3.5-0.7 2.8-0.8 1.9-0.7 1.2-0.4 0.3-0.3 0.1-0.4-0.1-0.4-0.3-0.6-0.8-0.7-2-0.6-2.1-1.1-6.4-1.1-9.8-1.5-18.8-3.7-58-2.5-34.7-1.6-18.9-1.8-18.3-1.8-17.7-2.1-17.6-2.1-17.1-2.4-18.3-2.6-17.7-2.8-18.3-5.6-34.2-10.2-57.7-2.8-17.7-1.3-10-0.5-7.1 0.1-3 0.2-1.7 0.3-1.2zM634.9 55.9l0.3-0.2 0.4-0.2 0.4 0.1 0.5 0.3 1.1 1.2 1.2 1.8 1.5 2.8 1.4 3.3 3.4 8.6 3.6 10.6 3.7 12.5 3.7 13.8 3.6 14.4 3.3 14.7 3.2 15.1 3 15.3 3 16.6 2.8 17 2.4 16.2 2.4 17.7 2 16.5 1.8 16.5 1.6 16.5 1.3 16.1 1.1 16.4 0.9 15.9 0.6 15.9 0.4 14.7 0.1 14.8-0.2 14.7-0.4 14.1-0.8 13-0.9 10.9-1.3 9.7-1.3 7.5-0.8 2.7-0.7 2.1-1 1.5-0.3 0.3-0.4 0.1-0.4 0-0.4-0.3-0.5-0.8-0.8-1.9-0.5-2.2-1.1-6.3-1.2-10-1.3-16.8-3.5-59.6-2.4-33.6-1.5-17.7-1.6-18.2-1.9-18.3-1.9-17.1-2-17.1-2.3-17.1-5-34.8-5.1-32.4-9.6-56-2.7-17.7-1.1-9.4-0.6-7.1 0-2.3 0.1-2.4 0.3-1.3zM613.7 64.2l0.6-0.3 0.4 0.1 0.6 0.3 1.1 1.2 1.3 2.1 1.3 2.5 1.5 3.4 3.3 8.8 3.4 10.1 3.5 12.1 3.6 13.4 3.5 14.6 3.2 14.2 3.2 15.5 2.8 14.8 2.8 16 2.6 16.4 2.4 16.7 2.1 16.1 2 16.5 1.7 16.5 1.4 16 1.3 15.9 1 15.9 0.7 15.3 0.5 15.3 0.3 14.8 0 14.7-0.2 14.8-0.5 13.4-0.8 12.5-1.1 11.3-1.3 9.4-0.7 4-0.8 3.2-0.7 2.5-0.8 1.8-0.7 1.1-0.8 0.4-0.4-0.1-0.3-0.3-0.6-0.8-0.7-1.8-0.6-2.1-1.1-6.4-1.1-10-1.3-17.7-3.3-57.6-2.2-33-2.9-34.8-1.6-17.1-1.9-17.1-3.9-33-4.7-33.6-4.8-31.2-9.1-55.4-2.6-17.7-1.1-9.5-0.5-7 0-2.4 0.2-2.3 0.3-1.4zM592.3 72.4l0.6-0.3 0.3 0 0.6 0.3 1.1 1.2 1.1 1.7 1.3 2.5 1.5 3.3 3.2 8.2 3.4 10.2 3.3 11.5 3.4 12.8 3.3 14 3.2 14.4 3 14.8 2.8 15 2.6 15.3 2.6 16.6 2.3 15.9 2 16.2 1.9 16.3 1.6 15.9 1.3 15.9 1.2 15.9 0.9 15.5 0.7 15.2 0.4 15.3 0.2 14.7 0 14.2-0.3 14.1-0.6 13.6-0.8 11.8-1.1 10.6-1.3 9-1.5 7.2-0.7 2.5-1 2.2-0.7 1-0.7 0.4-0.4 0-0.4-0.3-0.6-0.8-0.7-1.8-0.6-2.3-1.1-6.5-1.1-9.9-1.3-18.5-2.9-54.7-2.1-32.4-2.6-33.6-3.3-33.6-3.6-31.3-4.4-33-4.5-30.7-8.5-53.6-2.5-17.7-1.1-9.4-0.4-7.1 0-2.9 0.2-2.4 0.2-1.3zM571.5 80.1l0.8 0.3 1 1 1.1 1.6 1.3 2.4 2.8 6.4 3 8.4 3.2 10.1 3.1 11.4 3.2 12.6 3.2 13.8 3 14.2 2.8 14.5 2.6 14.7 2.4 14.9 2.3 15.8 2.2 15.9 1.8 15.6 1.7 15.6 1.5 16 1.2 15.3 1 15.3 0.8 15.3 0.5 14.8 0.4 14.7 0.1 14.2-0.2 13.5-0.4 13.6-0.6 12.4-0.9 11.4-1.1 10.2-1.4 8.5-1.4 6.7-0.8 2.4-0.9 2.1-0.8 1-0.7 0.3-0.4-0.1-0.4-0.3-0.7-1.1-0.6-1.6-0.6-2.4-1.2-7.1-1-9.2-1.3-19.1-2.6-53.6-1.8-29.5-2.3-31.8-2.9-31.3-3.4-30.6-4.1-32.4-4.2-30.1-8.3-54.8-2.5-18.3-1-10.6-0.2-7.1 0.1-2.5 0.4-2 0.5-1.1zM549.3 88.4l0.3-0.3 0.4-0.1 0.3 0 0.6 0.3 0.9 0.9 1.1 1.7 1.3 2.4 1.3 2.9 3 7.7 3 9.2 3.2 11 3.2 12.4 3.1 13.6 2.8 13.2 2.8 14.5 2.6 14.7 2.5 14.9 2.2 15.2 2.1 15.5 1.8 15.4 1.8 16.4 1.4 15.4 1.2 15.3 0.9 15.3 0.8 15.3 0.5 14.8 0.3 14.7 0.1 13.6-0.2 13.5-0.5 13.6-0.7 12.9-0.9 11.4-1.1 9.8-1.3 8.3-1.5 6.6-0.8 2.4-0.9 2.2-0.8 1-0.7 0.5-0.4 0-0.3-0.2-0.6-0.6-0.8-1.6-0.5-1.8-1.1-5.8-1-7.9-0.7-9-0.8-12.2-2.5-53.1-1.5-27.8-1.8-26.5-2.1-25.9-3.3-33-4-33.6-4.3-31.9-8.1-56-2.2-17.1-0.9-9.4-0.3-7.1 0-2.9 0.2-2.4 0.4-1.5zM527.7 96l0.6-0.4 0.4 0 0.5 0.3 1 0.9 1.1 1.6 1.1 2 1.3 2.8 2.8 7.2 3 9.2 3 10.4 3.2 12.5 2.9 13.1 2.8 13.4 2.7 13.8 2.4 13.9 2.4 15.3 2.1 14.9 2 15.3 1.8 15.9 1.6 15.4 1.3 14.7 1.1 15.3 0.9 15.4 0.7 14.7 0.4 14.7 0.2 14.2 0 13.8-0.2 13.3-0.5 13.1-0.8 12.2-0.9 11.3-1.3 10-1.3 7.8-1.5 6.2-0.7 2.3-1 2-0.7 1-0.8 0.3-0.3 0-0.4-0.2-0.6-0.7-0.7-1.5-0.6-1.9-1.1-5.8-0.9-8-0.8-9.4-0.7-12.2-2.3-51.8-1.4-26.6-1.6-25.3-1.9-24.2-3-31.8-3.7-33-3.9-30.7-7.6-54.8-2.2-17.7-0.8-9.4-0.3-7.1 0.1-3 0.2-2.2 0.4-1.5zM506.7 103.1l0.7 0.1 0.9 0.8 1 1.2 1.1 1.9 2.4 5.4 2.8 7.7 2.8 9 3 11 2.8 11.6 2.8 12.8 2.6 13.1 2.4 13.3 2.3 13.5 2.2 14.9 2.1 15.1 1.8 14.8 1.6 14.7 1.4 15.5 1.2 15.2 1 14.7 0.8 14.8 0.5 14.1 0.4 14.2 0.1 13.5-0.1 13-0.3 13-0.6 12.3-0.8 11.8-1.1 11-1.2 9.1-1.4 7.9-1.5 5.8-0.9 2.5-0.7 1.4-0.8 0.9-0.7 0.3-0.8-0.3-0.7-1-0.8-1.8-0.5-2.2-0.6-2.9-0.6-4.1-1-10.1-1.1-17.7-2.3-54.8-1.6-31.2-2.2-32.4-2.9-32.5-2.2-21.8-2.6-23-3.1-24.7-6.5-49-1.4-11.7-1-9.5-0.6-8.8 0-6.5 0.2-2.4 0.4-1.7 0.5-1.2 0.4-0.4zM484.3 110.8l0.7-0.4 0.8 0.1 0.9 0.8 1.1 1.5 1.1 2 1.3 2.8 2.7 6.8 2.6 8.1 2.8 10 2.8 11.4 2.8 12.6 2.6 13.1 2.4 13.4 2.2 13.6 2.2 14.4 1.9 14.6 1.8 14.9 1.6 15 1.4 15 1.1 14.8 0.9 14.1 0.8 14.8 0.5 14.1 0.3 14.2 0.1 13.5-0.1 13-0.4 13-0.6 12.3-0.8 11.3-1.1 10.6-1.2 8.8-1.5 8.2-1.4 5.7-1 2.5-0.7 1.4-0.8 0.9-0.7 0.4-0.8-0.2-0.7-0.9-0.8-1.7-0.5-1.9-1.1-6.2-1.1-9.4-0.6-9.3-0.6-10.7-1.9-49.5-1.1-23.6-1.2-21.8-1.5-21.9-2.6-30.6-3.1-31.2-3.4-28.9-6.6-53.1-1.9-17.7-0.7-9.5-0.2-7.6 0.1-2.9 0.2-1.9 0.4-1.7zM462.6 117.8l0.6-0.4 0.4 0 0.5 0.2 1 0.8 0.9 1.3 1.1 2 1.1 2.3 2.5 6.2 2.6 8.1 2.6 9.4 2.8 11.5 2.6 12 2.4 12.3 2.4 13.7 2.3 14 2 14.2 1.9 14.4 1.7 14.7 1.5 14.8 1.3 14.8 1 14.7 0.9 14.2 0.6 14.1 0.5 14.2 0.2 13.5 0 13.6-0.2 12.9-0.5 12.4-0.6 12.4-0.9 10.6-1 9.7-1.3 9.1-1.5 7.6-1.5 5.3-0.9 2.3-0.8 1.3-0.7 0.8-0.8 0.2-0.7-0.3-0.8-1-0.7-1.7-0.6-2-1.1-6.3-1-9.7-0.6-9.4-0.6-11.2-1.7-46.6-1-22.9-1.1-21.3-1.3-20-2.3-29.5-2.9-30.1-3.1-28.2-6-51.3-1.9-18.3-0.7-10-0.1-7.7 0.4-4.7 0.5-1.8zM441.1 124.3l0.5-0.1 0.3 0 0.8 0.4 0.9 1 0.9 1.4 1.2 2.2 1.1 2.4 2.4 6.6 2.4 7.8 2.6 9.8 2.7 11.2 2.4 11.6 2.2 11.9 2.3 13.2 2 13.4 1.9 13.5 1.7 14 1.6 14.7 1.3 14.2 1.2 14.7 1 14.2 0.8 14.1 0.5 14.2 0.4 13.5 0.1 13.6-0.1 12.9-0.2 12.4-0.5 11.8-0.7 11.8-0.9 10.6-1.1 9.4-1.2 8.3-1.5 7.1-1.5 5.2-0.9 2.2-0.8 1.3-0.7 0.8-0.8 0.2-0.5-0.1-0.4-0.3-0.7-1.1-0.8-1.9-0.6-2-0.6-3.2-0.6-4.1-0.9-10-1.1-19.5-1.6-48.3-1.1-24.2-1.3-24.1-1.5-23.6-1.9-23-2.1-23.6-2.7-25.3-5.6-50.7-1.1-11.8-0.8-9.5-0.3-8.8 0.1-6.1 0.3-2.7 0.4-1.8 0.5-1.2zM419.4 130.8l0.7 0 0.7 0.4 1 1 0.9 1.4 1.1 2.2 1.1 2.5 2.3 6.1 2.4 8 2.4 9.3 2.5 10.6 2.2 11 2.2 12.2 2.1 12.5 1.9 12.6 1.8 14 1.7 14.3 1.5 14 1.2 14.1 1.1 14.2 0.9 13.6 0.7 14.1 0.5 13.5 0.2 13.6 0.1 12.9-0.1 13-0.3 12.4-0.5 11.2-0.8 11.8-1 10.6-1.1 9.1-1.3 8-1.5 6.8-1.5 4.8-0.7 1.7-0.8 1.2-0.7 0.8-0.7 0.3-0.6-0.2-0.4-0.2-0.7-1.1-0.8-1.8-0.7-2.8-0.7-3.6-0.5-4.1-1-10.6-1-19.5-1.4-44.8-1-23.6-1.1-23-1.4-23-1.7-21.8-1.9-22.4-2.3-23.6-5.2-50.7-1.1-11.7-0.6-9.5-0.3-8.8 0.2-6.5 0.2-2.4 0.4-2 0.6-1.3 0.4-0.5zM397.1 137.3l0.8-0.3 0.7 0.3 1 0.8 0.9 1.3 0.9 1.7 1.2 2.4 2.2 5.9 2.2 7.3 2.5 9.3 2.2 9.9 2.2 11.1 2.1 11.4 2 12.8 1.9 12.9 1.7 13.1 1.6 13.9 1.4 14 1.1 13.7 1.1 14.1 0.8 13.6 0.6 14.1 0.5 13.6 0.2 13 0 12.9-0.1 12.4-0.4 11.8-0.5 11.8-0.8 11.2-1 10.5-1.2 8.7-1.3 7.8-1.5 6.5-1.4 4.6-0.8 1.6-0.7 1.2-0.8 0.7-0.7 0.3-0.6-0.1-0.4-0.3-0.9-1.4-0.7-2-0.7-2.7-0.6-3.4-0.6-4.3-1-11.2-0.9-18.9-1.4-44.8-0.8-22.4-1.1-21.8-1.2-21.2-1.4-20.1-1.7-21.2-2-23-4.7-48.9-1-11.2-0.6-9.4-0.3-9.5 0.2-7 0.2-2.4 0.5-2.3 0.4-1.3zM375.3 143.2l0.8-0.2 0.7 0.4 0.9 0.9 1 1.3 0.9 1.8 1.1 2.5 2.1 5.6 2 6.8 2.3 8.7 2.2 10.2 2.1 10.5 2 11.8 1.9 12.1 1.7 12.2 1.6 13.2 1.4 13 1.3 13.6 1.1 13.5 1 14.2 0.7 13.5 0.6 13.6 0.3 13 0.2 12.9 0 12.4-0.2 12.4-0.4 11.8-0.5 11.2-0.8 10.5-0.9 9.5-1.1 8.8-1.4 7.7-1.4 6.6-1.5 4.6-0.8 1.6-0.7 1.2-0.8 0.8-0.7 0.4-0.6-0.1-0.4-0.2-0.9-1.2-0.9-2.3-0.8-2.9-0.6-3.7-0.6-4.8-1-11.7-0.9-18.9-2-64.3-0.9-20.6-1.1-20.1-1.2-18.8-1.5-20.1-1.8-22.4-4.1-45.9-0.9-11.8-0.6-10.1-0.3-10 0.1-4.1 0.2-3.5 0.4-3 0.4-1.9 0.6-1.4zM353 149.1l0.7-0.4 0.7 0.1 1 0.7 0.9 1.2 0.9 1.6 1 2 2 5.4 2.1 6.7 2 8 2.1 9.3 2 10.6 1.9 10.9 1.8 12.3 1.7 12.5 1.5 12.5 1.4 13.3 1.2 13.5 1.1 14.2 0.9 13.5 0.7 13 0.5 13.6 0.3 12.9 0.1 13 0 12.4-0.2 12.4-0.5 11.8-0.6 10.6-0.8 10.4-0.9 9.1-1.1 8.3-1.3 7.4-1.5 6.3-1.5 4.4-0.8 1.6-0.7 1.1-0.8 0.7-0.7 0.3-0.6-0.1-0.5-0.4-0.9-1.4-0.8-2-0.8-3.3-0.7-3.8-0.6-5-1-13-0.8-18.7-1.8-61.5-0.8-18.8-1-18.9-2.3-36.5-5.2-66.7-0.9-11.7-0.5-9.5-0.2-10 0.3-7.7 0.2-2.9 0.5-2.4 0.6-1.7zM331 154.4l0.7-0.3 0.7 0.1 0.8 0.6 0.9 1.1 0.9 1.6 1 1.9 1.8 4.9 1.9 6.1 2 8 2.1 9.5 1.9 9.9 1.8 11.3 1.7 11.5 1.5 11.6 1.5 13.1 1.3 13.1 1.1 13.3 1 13.6 0.9 14.1 0.6 13.6 0.4 12.9 0.3 13 0.1 12.4-0.1 11.8-0.3 11.8-0.4 11.2-0.7 10.6-0.8 10.6-1 8.9-1.1 8-1.3 7.1-1.3 5.4-1.5 4.4-0.8 1.5-0.7 1.2-0.8 0.7-0.7 0.3-0.6 0-0.5-0.4-1-1.3-0.9-2.4-0.9-3.8-0.7-4.3-0.6-5.1-1-13.7-0.8-18.3-1.6-59-1.5-35.3-1.9-33-4.6-64.9-0.7-11.8-0.5-10-0.2-10.6 0.1-4.7 0.3-3.6 0.3-2.9 0.5-2.5 0.6-1.6zM309.6 159.1l0.8 0.2 0.7 0.6 0.8 0.9 0.9 1.5 1.7 3.8 1.9 5.5 1.8 6.8 1.7 7.2 1.9 9.3 1.7 9.7 1.6 11 1.5 11.1 1.5 12.6 1.3 12.4 1.1 12.6 1.1 13.3 0.8 13.1 0.7 13.4 0.5 13 0.4 13 0.1 12.3 0 12.4-0.1 11.8-0.4 11.8-0.5 10.6-0.6 10-0.8 9.1-1 8.6-1.1 7.2-1.3 6.8-1.3 5.1-1.5 4.2-0.7 1.4-0.8 1.1-0.7 0.6-0.8 0.2-0.5-0.1-0.6-0.4-0.6-0.7-0.5-1.1-1-2.7-0.9-4.3-0.7-4.9-0.6-5.5-0.6-7.3-0.4-8.4-0.6-17.7-1.5-53.7-1.2-33-1.9-35.9-3.9-60.7-0.9-20.1 0-11.8 0.2-4.7 0.4-4 0.5-3.1 0.6-2 0.8-1.5 0.5-0.4zM287.1 163.8l0.7 0 0.8 0.4 0.7 0.7 0.8 1.1 1.6 3.3 1.9 5.3 1.9 6.7 1.6 7.2 1.7 8.5 1.7 9.9 1.5 10 1.5 11.5 1.3 11.5 1.3 12.9 1.1 13 0.9 13 1.4 25.9 0.8 25.4 0.1 12.3 0 12.4-0.2 11.8-0.3 11.2-0.5 10.6-0.7 9.9-0.8 9-0.9 8.2-1.1 7.1-1.3 6.8-1.3 5.1-1.5 4.1-0.7 1.4-0.8 1-0.7 0.7-0.8 0.2-0.7-0.2-0.6-0.5-0.5-0.8-0.6-1.1-0.9-2.9-1-4.3-0.7-5.2-0.7-6.6-0.5-7.7-0.5-9.2-0.6-16.7-1.3-51.9-1-28.9-1.5-33-3.3-58.4-0.7-20.6-0.1-12.4 0.3-5.3 0.3-4.1 0.6-3.6 0.6-2.2 0.7-1.6 0.6-0.6zM264.2 168.5l0.7-0.4 0.7-0.1 0.8 0.4 0.7 0.8 0.8 1 0.9 1.8 1.7 4.2 1.6 5.6 1.7 6.8 1.7 8.2 1.5 8.6 1.5 10 1.5 11.5 1.3 11.6 1.1 12 1.1 12.8 1 13.2 0.7 13.5 0.7 13.5 0.7 26 0.1 24.7-0.2 11.8-0.4 11.2-0.5 10.6-0.7 10.1-0.8 9.4-0.9 7.9-1.2 7.4-1.3 6.4-1.3 4.8-1.5 3.9-0.7 1.3-0.8 0.9-0.7 0.5-0.6 0.1-0.7-0.2-0.6-0.5-0.5-0.8-0.6-1.1-1.1-3.4-1-4.5-0.7-5.6-0.7-7.1-0.6-8.2-0.4-9.5-0.6-17.7-1.2-48.9-0.8-25.3-1.2-30.1-2.6-55.4-0.7-21.2 0-13 0.2-5.3 0.3-4.1 0.5-3.5 0.6-3 0.7-2.2zM242.3 172.1l0.5-0.2 0.8 0.1 0.7 0.5 0.8 0.8 1.5 2.7 1.7 4.4 1.6 5.9 1.5 6.4 1.5 7.8 1.5 9.1 1.3 9.4 1.3 10.8 1.2 11.2 1.1 12.4 1.8 25.4 1.2 26.5 0.6 25.4 0 24.7-0.2 11.8-0.4 11.2-0.5 10-0.7 9.7-0.8 8.6-0.9 8.2-1.1 7.1-1.3 5.9-1.3 4.8-1.3 3.4-0.7 1.4-0.8 0.9-0.7 0.6-0.6 0.2-0.7-0.2-0.8-0.6-0.7-1.1-0.6-1.2-1.1-3.6-1-5.2-0.9-6.5-0.6-7.6-0.6-9.5-0.5-11.7-2.1-81.4-0.9-27.7-2.1-53.6-0.6-23 0.2-13.9 0.2-5.6 0.5-4.7 0.5-3.5 0.6-3 1-2.4 0.3-0.6zM219.8 175.6l0.7-0.3 0.7 0 0.8 0.5 0.7 0.8 1.5 2.6 1.5 3.9 1.5 5.2 1.5 6.5 1.5 8 1.3 8.4 1.3 9.9 1.1 9.9 2 22.8 1.7 25.6 1.1 26.5 0.5 25.9 0 24.8-0.3 11.2-0.4 11.2-0.5 10-0.7 9.4-0.8 8.7-0.9 7.6-1.1 7-1.2 5.4-1.3 4.7-1.3 3.3-1.3 2-0.7 0.6-0.8 0.3-0.7-0.2-0.8-0.6-0.7-1.1-0.8-1.7-1.1-4.1-1.1-5.9-0.9-7.1-0.7-8.8-0.5-10.6-0.5-13-1.9-77.2-2.2-73.1-0.3-23 0.2-14.8 0.4-5.9 0.4-4.7 0.6-3.9 0.7-3.2 0.9-2.3zM197.4 178.6l0.7-0.4 0.7 0 0.6 0.3 0.7 0.7 0.8 1 0.7 1.4 1.5 3.9 1.5 5.3 1.3 5.8 1.3 7.2 1.3 8.7 1.1 8.8 1.2 10.6 1.8 22.7 1.5 25.5 1 27 0.4 25.9-0.1 24.8-0.7 22.4-0.6 10-0.6 8.8-0.8 8.3-0.9 7.1-1 6.7-1.2 5.3-1.3 4.6-1.3 3.2-0.7 1.3-0.8 0.8-0.7 0.5-0.6 0.1-0.9-0.4-0.8-0.7-0.7-1.3-0.7-1.8-0.8-2.4-0.5-2.6-1.2-6.9-0.8-8.2-0.7-10-0.6-12.4-0.5-15.3-2.9-128.5-0.2-17.1-0.1-13 0.4-15.3 0.4-5.9 0.5-5.3 0.7-4.2 0.8-3.5 0.8-2.1 0.6-0.9zM175.2 180.9l0.7-0.3 0.5 0 0.6 0.3 0.7 0.7 0.8 1 0.7 1.5 1.3 3.4 1.3 4.6 1.3 5.9 1.4 7.5 1.1 7.9 1.1 9.5 0.9 9.5 1.7 22.4 1.3 25.3 0.9 27 0.3 26.5-0.2 24.8-0.7 21.8-0.5 10-0.7 8.8-0.8 8.4-0.8 7-1 6.2-1.2 5.3-1.3 4.5-1.3 3.1-0.7 1.2-0.6 0.6-0.7 0.5-0.6 0.2-0.9-0.3-0.8-0.7-0.9-1.6-0.7-1.8-0.8-2.6-0.7-3.3-1.2-7.8-1-10-0.7-11.8-0.6-14.8-0.5-18.8-1.9-105.5-0.1-21.3 0.1-16.5 0.5-15.3 0.5-6.5 0.6-5 0.7-4.4 0.8-3.1 0.9-2.4 0.6-1zM153 182.7l0.7-0.2 0.7 0.2 0.6 0.4 0.7 0.8 1.3 2.5 1.3 3.8 1.3 5.1 1.2 5.7 1.1 7.1 0.9 7.3 0.9 8.8 0.9 9.8 1.4 21.8 1.1 25.3 0.7 27.1 0.2 26.6-0.2 24.7-0.7 21.8-0.6 9.9-0.6 8.4-0.7 7.7-0.9 7.2-0.9 5.8-1.2 5.3-1.1 3.9-1.3 3.2-0.5 0.9-0.8 1-0.7 0.5-0.6 0.1-0.5 0-0.6-0.4-0.9-1-1-1.8-0.9-2.6-0.8-2.9-0.7-3.8-0.7-4.8-0.6-5-0.9-11.2-0.8-14.5-0.6-17.6-0.5-24.2-0.6-47.2-0.3-37.1 0-23.6 0.3-17.7 0.4-8.2 0.4-6.8 0.5-6 0.8-5.5 0.7-3.9 1-3.3 0.9-2.1 0.6-0.8zM131.1 183.9l0.7 0 0.6 0.4 0.6 0.5 0.7 1.2 1.3 2.9 1.1 3.7 1.1 4.9 1.1 5.8 1 7.1 0.8 7.7 1.5 18.2 1.2 22.5 0.9 26.5 0.5 27.7 0.1 27.1-0.4 24.2-0.8 20.6-1.1 17.1-0.7 7.1-0.9 6.6-0.9 5.5-1.1 5.1-1.2 3.6-1.1 2.5-0.5 0.9-0.8 0.8-0.7 0.5-0.6 0.1-0.5-0.1-0.6-0.4-1.1-1.4-1.1-2.5-1-3.1-0.9-4.3-0.8-4.5-0.7-5.8-0.6-6-0.9-14.1-0.7-18.3-0.6-23.5-0.4-30.1-0.2-36.5 0.1-28.9 0.3-21.8 0.6-16.5 0.5-7.7 0.6-6.3 0.7-5.9 0.8-4.3 0.9-3.8 1-2.5 1.1-1.8 0.5-0.5zM86.5 185l0.4 0 0.7 0.4 0.8 0.9 0.5 1 1.1 2.7 1.1 3.9 1 4.7 0.8 5.3 0.7 6.5 0.7 7.9 1.1 18 0.8 21.8 0.5 27.2 0.1 30-0.1 28.3-0.5 24.2-0.7 20-1.1 15.9-0.6 6.4-0.8 6-0.9 5.6-0.9 4.3-1.2 3.7-1.1 2.5-1.1 1.5-0.6 0.4-0.7 0.1zM107.9 185l0.6-0.3 0.6 0 0.5 0.2 0.8 0.6 0.7 1 0.6 1.1 1.1 3 1.1 4.2 1.1 5.7 1 6.3 0.8 7.1 0.8 8.3 0.6 9.2 1.1 20.8 0.8 26 0.4 28.3 0 28.9-0.3 25.9-0.7 21.8-1.1 17.7-0.7 7.5-0.9 6.6-0.9 5.9-1 4.8-1.2 3.8-1.1 2.6-0.5 0.9-0.8 0.9-0.5 0.4-0.8 0.2-0.6-0.2-0.5-0.3-1.1-1.4-1.1-2.4-1-2.9-0.9-4-0.8-4.2-0.7-5.4-0.6-5.7-1.1-14.2-0.7-16.6-0.6-21.6-0.3-26-0.2-33.6 0.2-30.7 0.5-23.6 0.7-18.7 0.6-8.4 0.6-6.6 0.7-6.3 0.8-5 0.9-4.5 0.9-3.2 1.1-2.5 0.6-0.8z"/>
<path fill="#2d8cf3" d="M814.2 22.3l0.5-0.3 0.6 0.3 0.7 0.8 0.8 1.1 2 4 2.2 5.3 2.7 7 2.9 8.8 3 9.6 3.2 10.8 0 63-13.1-67.9-3.5-19.5-1.5-9.4-0.8-6.5-0.2-4.7 0.3-1.8zM793.2 30.6l0.6 0 0.6 0.5 0.7 1 0.9 1.5 2.1 4.3 2.2 5.5 2.6 7.2 2.8 8.5 3 9.7 3 10.5 5.8 22 5.4 22.9 5 23.6 4.9 25.2 0 113.2-3.3-26.3-3.5-25.9-3.8-25.4-3.9-24.7-3.3-20.1-3.9-21.8-13.6-72.5-3.3-19.5-1.2-8.2-0.5-5.9 0-3.5 0.3-1.2zM771.5 39.4l0.5-0.5 0.3 0 0.4 0.3 1 1 0.9 1.5 1.3 2.5 1.3 3 3 7.7 3.3 9.9 3.6 11.6 3.5 12.6 3.6 13.6 3.3 13.7 3.2 13.9 3 13.9 3 14.8 2.8 14.9 2.6 14.8 2.4 14.8 2.4 16 2.1 14.6 1.9 14.7 1.8 15.9 1.5 14.4 1.3 14.1 1.2 14.6 0.9 14.1 0.8 14.2 0.5 14.1 0.2 13 0 12.4-0.3 10.6-0.6 9.4-0.8 7.6-0.4 2-0.5 2.1-0.6 1.3-0.6 0.4-0.5-0.2-0.6-0.8-0.5-1.4-0.8-2.6-1.3-6.7-1.3-8.9-2.1-17.2-5.8-55.8-3.4-30-4.1-33.1-4.4-31.8-4.5-29.5-5.1-30.6-5.2-29.5-9.4-51.3-2.8-16.5-1.5-10-0.7-6.5-0.2-4.7 0.1-1.2zM750.2 47.7l0.1-0.3 0.4-0.2 0.4 0 0.4 0.3 0.7 0.8 1.1 1.8 2.4 5.1 3 7.8 3.4 10 3.3 11.1 3.4 12 3.5 13.8 3.2 13.2 3.2 14.1 3 14.2 2.8 14.2 2.6 14.2 2.6 15.2 2.4 15.2 2.3 15.3 2 15.2 1.9 15.1 1.5 14.1 1.5 14.6 1.2 14.9 1 13.6 0.9 14.1 0.6 13.6 0.4 13.5 0.2 13-0.1 11.8-0.4 10.6-0.7 9.4-0.8 6.5-0.5 2.6-0.5 1.9-0.6 1.2-0.5 0.4-0.6-0.3-0.6-0.8-0.5-1.4-0.8-2.7-1.3-6.8-1.3-9.2-2-18-5.4-52.9-3.3-30.7-3.9-32.4-4.1-30.7-4.3-28.9-4.7-29.4-4.9-28.3-9-50.7-3-17.7-1.3-9.5-0.6-6.4-0.2-4.8 0.1-1.1zM729.1 55.4l0.3-0.1 0.4 0.1 0.8 0.7 0.9 1.4 1.1 2 2.6 6 3 8.2 3.2 9.9 3.2 10.8 3.1 11.7 3.4 13.4 3 12.8 3 13.7 2.7 13.7 2.7 13.7 2.6 14.6 2.4 14.7 2.2 14.6 2.1 14.5 1.9 14.6 1.8 15.3 1.5 14.7 1.3 14.2 1.1 14.1 1 13.8 0.7 13.9 0.5 12.4 0.3 13.6 0.1 12.9-0.2 11.8-0.5 10-0.6 8.3-0.9 6.7-0.5 2.7-0.6 1.8-0.6 1-0.5 0.4-0.6-0.3-0.5-0.8-0.6-1.4-0.6-1.9-1.1-5.5-1.1-7.4-1.1-9-1.3-12.2-4.9-50.7-2.7-26-2.9-25.9-3.1-24.8-4.5-33-5.1-34.2-5.3-31.8-9.4-54.2-2.8-17.7-1.1-8.9-0.6-7.1 0-2.3 0.1-1.8 0.3-1.2zM707.4 63.6l0.2-0.2 0.4-0.1 0.7 0.4 1 1.2 0.9 1.6 2.4 5.2 3 8 3 9.1 3.2 10.8 3.3 12.4 3.2 12.7 3 12.9 2.8 13 2.8 13.8 2.6 13.9 2.4 13.9 2.4 14.9 2.3 14.9 2 14.9 1.7 13.6 1.7 14.7 1.5 14.8 1.3 14.7 1 14.1 0.9 13.6 0.6 13.6 0.5 12.9 0.2 13 0 12.4-0.3 11.2-0.5 9.9-0.7 8.7-1 6.5-0.5 2.5-0.6 1.7-0.5 1-0.6 0.3-0.6-0.2-0.5-0.8-0.6-1.4-0.5-1.9-1.2-5.4-1.1-7.6-2.2-20.2-4.8-51.5-2.6-25.9-2.7-24.8-2.9-24.7-4.3-32.5-4.7-31.8-5-31.2-8.9-53.1-2.5-16.5-1.2-8.8-0.6-7.1 0-4.7 0.2-1.6zM686.1 71.3l0.2-0.1 0.4 0.1 0.8 0.6 0.9 1.2 1.1 2.1 2.4 5.5 2.8 7.7 3 9.4 3 10.3 3.2 12 3 12.2 2.8 12.4 2.8 13.2 2.6 13.3 2.6 14.3 2.4 14.3 2.2 14.3 2.1 14.2 1.9 14.1 1.6 14 1.6 14.7 1.4 14.7 1.1 13.6 1 13.6 0.8 13.5 0.5 13 0.4 12.7 0.1 13.2-0.1 11.8-0.3 11.2-0.6 9.5-0.8 8.8-1 6.1-0.5 2.3-0.6 1.7-0.5 0.9-0.6 0.4-0.5-0.2-0.6-0.8-0.6-1.3-0.5-1.9-1.1-5.4-1.4-9.1-2-19.5-4.4-49.2-2.4-25.4-2.4-23.6-2.6-23-4.1-32.4-4.6-31.8-4.6-30.1-8.7-53.6-2.5-17.1-1.2-9.5-0.4-6.4 0-3 0.1-1.8 0.3-1.1zM664.1 79.5l0.4-0.5 0.4-0.1 0.4 0.2 0.9 0.9 0.9 1.4 2.3 4.6 2.6 6.8 3 9 2.9 10.2 3 11.1 3.2 13 2.8 12.3 2.8 13.3 2.6 13.4 2.4 13.4 2.3 13.3 2.2 14.4 2.1 14.4 1.8 14.6 1.7 14.2 1.5 14.2 1.3 14.2 1.1 14 0.9 14.1 0.7 13 0.5 13 0.3 12.3 0.1 13-0.2 12.4-0.4 11.2-0.6 9.4-0.8 8.3-1 6.2-0.6 2.2-0.6 1.6-0.5 0.9-0.6 0.4-0.3 0-0.4-0.3-0.6-0.9-0.5-1.4-0.6-2.1-1.1-5.7-1.1-8.1-2.1-20.2-4.2-49.3-2.2-24.7-2.4-23.6-2.5-22.4-3.7-30.7-4.1-30-4.4-29.5-8-50.7-2.5-17.1-1-8.8-0.6-7.1-0.1-4.7 0.2-1.8zM642.9 86.6l0.3-0.1 0.4 0.2 0.8 0.6 0.9 1.4 0.9 1.7 2.5 5.5 2.6 7.3 2.8 8.9 2.8 9.9 2.9 11.6 2.8 11.9 2.7 11.9 2.6 12.9 2.4 12.9 2.4 13.9 2.3 13.9 2 13.9 1.9 13.8 1.7 13.7 1.4 13.5 1.4 14.1 1.2 14.1 1 13.3 0.8 13.2 0.6 13.6 0.4 12.4 0.2 12.3 0 12.4-0.3 11.8-0.5 10.6-0.6 9.3-0.9 7.8-1 5.5-0.6 2.1-0.5 1.6-0.6 0.9-0.4 0.4-0.3 0.1-0.4-0.2-0.4-0.3-0.5-1-0.6-1.6-0.6-2.1-1.1-6.1-1.1-8.6-1.9-19.2-5.7-69.3-2.1-21.8-2.2-21.3-3.5-30.6-4.1-31.3-4.2-29.4-7.8-51.3-2.5-17.7-1-9.4-0.4-7.1 0-3 0.2-1.7 0.4-1.2zM620.9 94.3l0.5-0.3 0.8 0.3 0.9 1 0.9 1.5 2.3 4.8 2.6 7.1 2.8 8.8 2.8 9.8 2.8 10.9 2.8 11.9 2.6 12 2.6 13.1 2.4 13.1 2.3 13.1 2 13 2.1 14.2 1.8 14.2 1.6 13 1.4 13.5 1.3 13.8 1.1 13.8 1 13.6 0.7 13.6 0.5 12.4 0.4 12.4 0.1 12.4-0.1 12.4-0.3 11.2-0.5 10.6-0.7 8.8-0.9 7.1-1.1 6.2-0.6 2.1-0.5 1.5-0.6 1-0.3 0.3-0.4 0.2-0.4-0.1-0.4-0.3-0.5-1-0.6-1.4-0.5-2.1-1.2-5.9-1.1-8.6-1.9-19.9-3.6-46.9-1.8-22.4-1.9-20.6-2.1-20.6-3.3-30.1-3.8-29.5-3.9-28.3-7.4-50.7-2.2-17-0.9-8.9-0.5-7.1 0.1-2.9 0.1-1.8 0.3-1.4zM599.6 101.3l0.4 0.1 0.3 0.2 0.8 0.7 0.9 1.4 0.9 1.7 2.3 5.2 2.4 6.9 2.6 8.5 2.6 9.5 2.8 11.2 2.6 11.4 2.5 11.6 2.4 12.4 2.2 12.5 2.3 13.5 2 13.6 1.9 13.5 1.7 13.4 1.4 13.1 1.4 13 1.2 13.5 1 13.6 0.8 12.9 0.6 13 0.5 12.4 0.2 12.4 0.1 11.8-0.2 11.7-0.3 10.8-0.6 9.9-0.7 8.8-1 7.4-1.1 5.8-0.5 2.1-0.6 1.4-0.6 1-0.3 0.4-0.4 0.2-0.4-0.1-0.3-0.3-0.6-0.8-0.8-2-0.5-2.1-1.1-6.3-1.2-9-1.6-18.8-3.5-47.3-2-25.3-2.3-24.8-2.4-24.1-2.6-23-3-24.2-3.4-25.3-6.9-49.6-1.5-11.8-1-8.8-0.7-8.3-0.1-5.8 0.2-1.8 0.2-1.6 0.4-0.9zM577.2 109l0.6-0.5 0.5 0.1 0.8 0.6 0.9 1.3 0.9 1.6 1.1 2.4 2.5 6.3 2.6 8.1 2.6 9.1 2.8 11 2.6 11.3 2.4 11.4 2.5 12.5 2.2 12.5 2 12.4 2.1 13.6 1.9 13.6 1.6 13.5 1.5 13.4 1.3 13.2 1.2 13.1 0.9 12.9 0.8 13.5 0.6 13 0.4 12.4 0.2 12.3 0.1 11.8-0.2 11.8-0.4 10.6-0.6 10.1-0.9 9.2-0.9 6.9-1.2 5.6-1.1 3.5-0.5 1-0.4 0.4-0.4 0.1-0.4 0-0.3-0.2-0.6-0.8-0.7-1.8-0.6-2-1.1-6.1-1.1-9-1.7-19.3-4.7-65.9-3.3-37.2-2.8-27.7-3.3-28.9-3.4-26.5-6.6-48.9-2-17.1-0.9-9.5-0.4-7 0.2-4.8 0.2-1.7zM556 115.5l0.7 0.2 0.7 0.7 0.9 1.4 1 1.7 2 4.8 2.5 7 2.4 8.1 2.4 9 2.6 10.8 2.4 11.1 2.3 11.1 2.2 12 2.1 12.1 2 13.1 1.9 13.2 1.6 12.8 1.6 13.1 1.3 12.7 1.2 13.1 1 13.4 0.8 12.5 0.7 13 0.5 12.4 0.3 11.8 0.1 11.8-0.1 11.2-0.3 11.2-0.5 10.4-0.6 9-0.9 8.3-1.1 7.5-1.1 5-1.1 3.1-0.8 1-0.6 0.3-0.3-0.1-0.4-0.3-0.6-0.9-0.5-1.3-0.6-2-1.1-5.8-1.1-8.9-1.7-19.8-3.2-48-1.7-23-1.8-21.8-2-21.8-2.2-21.8-2.6-23-2.8-23-6.1-47-2.1-18.4-0.8-10-0.1-7.1 0.1-2.4 0.3-1.7 0.6-1.4 0.3-0.3zM533.6 122.6l0.5-0.3 0.7 0.3 0.8 0.7 0.9 1.4 2.1 4.3 2.2 6.1 2.4 7.7 2.5 8.9 2.4 9.8 2.4 10.9 2.3 11.1 2.2 12.1 2 12.1 1.9 12 1.9 13.2 1.7 13.2 1.4 13.1 1.4 12.9 1.1 12.6 0.9 12.9 0.9 13 0.6 12.4 0.4 12.4 0.3 11.8 0 11.7-0.1 11.2-0.3 11.2-0.5 10.7-0.7 9.1-1 8.5-1.1 7.1-1.1 4.9-1.1 2.9-0.8 1.1-0.5 0.3-0.4-0.1-0.4-0.2-0.7-1.2-0.8-2-0.5-2.3-1.2-6.6-1.1-9.9-1.5-19.1-2.7-43.2-1.6-23.6-1.7-21.8-1.9-21.3-2-20.6-2.3-21.2-2.6-22.4-5.7-46.6-1.3-11.3-0.9-9.3-0.6-8.9 0-5.8 0.1-2.4 0.3-1.7 0.4-1.2zM511.8 129l0.7 0 0.7 0.5 0.7 0.9 1 1.6 1.8 4 2.3 6.2 2.2 7.3 2.4 9 2.5 10.2 2.2 10.4 2.2 11.4 2.1 11.5 1.9 11.4 1.8 12.5 1.7 12.4 1.5 12.2 1.4 12.9 1.3 13 1 13 0.9 12.4 0.7 12.3 0.6 12.4 0.3 11.8 0.2 11.8 0 11.2-0.2 11.2-0.4 11.2-0.6 10-0.7 8.9-1 7.9-1.1 6.8-1.1 4.6-1.1 2.9-0.8 1.1-0.5 0.3-0.4 0-0.4-0.2-0.7-1.1-0.8-1.9-0.5-2.1-0.7-3.6-0.6-4.2-1.1-10.5-1.3-17.5-4.1-65.1-1.6-21.8-1.7-20-1.7-18.9-2.1-20-2.4-21.8-5.5-47.2-1.9-20-0.5-8.9-0.1-6.5 0.2-2.3 0.3-1.8 0.5-1.2zM489.7 135.5l0.5-0.1 0.8 0.4 0.7 0.8 1 1.5 1.8 3.9 2.3 6.2 2.2 7.4 2.3 8.4 2.2 9.5 2.2 10.5 2.1 10.6 2 11.7 1.9 11.8 1.7 11.5 1.7 12.9 1.5 12.7 2.4 24.9 0.9 12.2 0.9 13 0.6 11.9 0.5 12.3 0.3 11.8 0.1 11.8-0.1 11.2-0.2 10.6-0.4 10-0.7 10-0.8 9-0.9 7.3-1.2 6.4-1.1 4.5-0.5 1.6-0.8 1.6-0.7 0.8-0.6 0.2-0.4 0-0.3-0.3-0.8-1.2-0.7-2-0.6-2.5-0.7-3.8-0.6-4-1.1-11.1-1.3-18.7-3.6-61.5-1.4-19.4-1.5-19.5-1.6-18.3-1.9-19.4-7.2-66.6-1.9-20.1-0.5-9.4 0-6.5 0.2-2.4 0.4-2.2 0.4-1.3zM467.4 142l0.6-0.3 0.6 0.1 0.8 0.7 0.7 1 0.9 1.6 1 2 2 5.4 2.1 6.5 2.2 8.2 2.2 9.4 2.3 10.5 2 10.7 1.9 10.7 1.9 11.8 1.6 11.8 1.6 11.9 1.4 12.7 1.3 12.9 1.2 12.8 1.6 24.7 0.6 11.8 0.5 12.3 0.2 11.8 0.1 11.2-0.1 11.2-0.3 10.6-0.5 10.1-0.7 9.4-0.8 8.8-1 7.5-1.1 6.1-1.3 4.8-0.6 1.5-0.7 1.3-0.6 0.6-0.6 0.2-0.3 0-0.4-0.3-0.8-1-0.7-2-0.8-3-0.6-3.3-0.6-4.7-1.1-11.2-1.2-17.8-3.4-61.2-2.6-37.1-3.2-36-6.5-63.7-1.7-20-0.5-9.4 0-6.5 0.2-2.7 0.3-2 0.4-1.6zM445.4 147.9l0.6-0.2 0.8 0.4 0.7 0.7 0.8 1.2 1.8 3.8 1.9 5.1 2.1 6.7 2 7.7 2.2 9.7 2.1 10 1.9 10 1.8 11.1 1.7 11.1 1.7 12.3 1.5 12.3 1.3 11.9 2.1 24.1 1.5 24.2 0.9 23.6 0.2 11.2 0 11.2-0.1 10.6-0.4 10.6-0.5 10-0.7 9.8-0.9 8.5-1 6.7-1.1 5.8-1.3 4.6-0.6 1.4-0.7 1.4-0.6 0.5-0.5 0.3-0.6-0.2-0.4-0.3-0.7-1.2-0.8-2.1-0.7-3.1-0.7-3.8-0.6-4.7-1.1-11.8-1.1-17.7-3-57.1-2.4-36-2.7-33.6-6-62.5-1.6-20.6-0.5-9.4 0.1-7.2 0.2-2.4 0.4-2.3 0.5-1.6zM423.2 153.8l0.6-0.2 0.6 0.1 0.7 0.7 0.8 1 0.9 1.7 0.9 2 1.9 5 2.1 6.8 2 7.8 2.1 9.1 1.8 9.2 1.9 10.3 1.7 10.2 1.7 11.4 1.5 11.2 1.4 12.1 1.2 11.8 1.1 12.4 1 12.4 1.4 23.7 0.8 23.5 0.1 11.2 0 10.6-0.2 10.6-0.4 10-0.6 10-0.7 8.9-0.9 7.6-1.1 7.6-1.1 5.5-1.3 4.5-0.7 1.7-0.6 0.9-0.6 0.5-0.5 0.3-0.6-0.2-0.4-0.3-0.7-1.1-0.8-2-0.7-3-0.7-4.4-0.6-4.3-1.2-12.7-1-18.1-2.8-55-2.1-33.1-2.3-31.2-5.5-61.9-1.5-20-0.4-10.1 0.1-7.6 0.3-2.9 0.3-1.8 0.4-1.4zM400.7 159.7l0.6-0.5 0.5 0 0.8 0.4 0.7 0.9 0.8 1.1 0.9 1.9 1.8 4.7 1.9 5.9 1.9 7 2 8.8 1.9 9.2 1.9 10.2 1.6 10.4 1.7 11.6 1.4 10.9 1.4 12 1.2 11.6 1.1 12.1 0.9 12.4 1.3 23.8 0.7 23 0.1 11.2-0.1 11.2-0.3 10.6-0.4 9.5-0.6 9.2-0.7 9.1-0.9 7.6-1.1 7.1-1.2 5.3-1.3 4.3-0.5 1.3-0.8 1.2-0.6 0.5-0.5 0.2-0.6-0.1-0.3-0.3-1-1.5-0.7-2.2-0.8-3.2-0.7-4.3-0.6-4.8-1.1-13.2-1-16.8-2.5-53.7-1.8-31.2-2.5-34.2-4.7-57.5-1.1-16.8-0.4-10 0.1-7.7 0.2-2.9 0.3-2.4 0.5-1.9zM378.4 165l0.6-0.5 0.6 0 0.8 0.5 0.7 0.9 0.7 1.2 1 1.8 1.7 4.3 1.8 6 1.9 7.1 1.9 8.3 1.6 8.4 1.7 9.5 1.7 10.6 1.5 10.6 1.5 11.9 1.3 11.9 1.1 11.6 1.8 23.8 1.2 23 0.6 23 0 11.2-0.1 10.6-0.3 10-0.4 9.5-0.7 9.4-0.7 8.3-1 7.6-1 6.3-1.1 5.2-1.3 4.4-0.5 1.3-0.8 1.3-0.7 0.7-0.6 0.2-0.6-0.1-0.3-0.3-1-1.5-0.9-2.8-0.7-3.4-0.8-4.8-0.5-4.9-1.2-14.1-0.9-17.5-2.3-50.7-1.5-28.3-2.1-31.9-4.2-55.1-1-17.4-0.3-10.6 0.1-8.2 0.3-3 0.3-2.4 0.5-1.7zM356.4 169.7l0.6-0.2 0.6 0.2 0.7 0.7 0.8 1 1.7 3.3 1.6 4.6 1.7 5.6 1.9 7.5 1.7 7.8 1.6 8.8 1.7 10.1 1.5 9.6 1.3 10.3 1.3 11.2 2.3 23.2 1.6 23.6 1 22.5 0.4 22.4 0 10.6-0.2 10.6-0.3 9.4-0.5 9.5-0.7 9.4-0.8 7.9-0.9 7.1-1.1 6.2-1.1 5-1.3 3.8-0.8 1.5-0.6 0.8-0.5 0.4-0.6 0.2-0.5-0.2-0.6-0.5-0.9-1.7-1-3.1-0.7-3.6-0.7-5-0.6-5.4-1.2-15.8-0.8-15.9-2-47.8-1.3-25.9-1.8-30.6-3.6-52.5-1-18.9-0.3-11.2 0.3-8.2 0.3-3.1 0.6-2.8 0.5-1.5zM334.2 174.4l0.6-0.1 0.6 0.3 0.7 0.7 0.8 1.1 1.5 3 1.7 4.7 1.6 5.8 1.7 6.9 1.7 8 1.5 8.2 1.5 9.3 1.4 9.9 2.5 21 2 22.5 1.6 23.1 0.9 22.4 0.3 21.8-0.3 20.7-0.4 10-0.5 8.8-0.6 8.7-0.8 7.8-0.9 6.5-1.1 6.4-1.1 4.8-1.3 3.8-0.6 1.2-0.7 1.1-0.6 0.6-0.6 0.2-0.5-0.1-0.6-0.4-0.9-1.6-1-2.7-0.9-4.3-0.7-5.1-0.8-6.8-1.1-16.8-2.5-60.5-1.1-23.5-1.5-27.7-3.1-50.7-1-20.1-0.1-11.8 0.1-4.7 0.2-4.1 0.4-3.4 0.6-2.5 0.5-1.4 0.4-0.6zM311.4 179.1l0.7-0.3 0.5 0.1 0.6 0.3 0.7 0.8 1.5 2.6 1.7 4.4 1.5 4.9 1.7 6.7 1.7 8 1.5 8.2 1.4 9.4 1.3 9.3 2.5 21 1.9 21.9 1.4 23.2 0.9 22.8 0.2 21.8-0.3 20.6-0.4 9.5-0.5 8.8-0.7 8.3-0.8 7.8-1 6.6-1.1 6.1-1.1 4.5-1.3 3.7-0.6 1.1-0.7 1-0.6 0.5-0.5 0.1-0.6-0.1-0.6-0.5-0.5-0.8-0.6-1.2-0.9-3-1-4.7-0.7-5.5-0.7-7.4-1.2-18.1-3-76.8-1.3-25.9-2.6-48.4-0.9-20.6-0.1-12.4 0.4-8.8 0.3-3.6 0.5-2.6 0.7-2.1zM289 183.3l0.5-0.3 0.7 0 0.6 0.4 0.7 0.8 1.5 2.7 1.5 3.9 1.5 5 1.5 6.1 1.5 7.2 1.5 8.4 1.3 8.4 1.3 9.7 2.3 20.2 1.8 22.4 1.3 23 0.8 22.4 0.1 21.2-0.3 20-0.4 9.5-0.6 8.8-0.7 8.3-0.8 7-0.9 6.6-1.1 6-1.1 4.5-1.3 3.7-0.8 1.4-0.5 0.8-0.6 0.4-0.5 0.2-0.8-0.1-0.6-0.6-0.5-0.8-0.6-1.2-1.1-3.8-0.8-4.7-0.9-6.4-0.6-7.1-0.7-9.6-0.5-11.1-2.6-68.4-3.2-71.3-0.8-21.8 0-13 0.2-5.3 0.3-4.1 0.4-3.5 0.6-3 0.6-1.7zM266.8 186.8l0.7-0.1 0.5 0.2 0.6 0.5 0.7 1 1.3 2.5 1.5 4.1 1.5 5.3 1.3 5.6 1.5 7.6 1.3 7.8 1.3 9 1.2 8.9 2.1 20.7 1.6 21.8 1.2 23 0.6 21.8 0 21.2-0.5 20.1-1 17.1-0.7 7.6-0.8 7.1-0.9 5.9-1.1 5.6-1.1 4.2-1.3 3.5-0.6 1-0.7 0.9-0.6 0.4-0.5 0.2-0.8-0.3-0.5-0.6-0.8-1.3-0.5-1.4-1.2-4.2-0.9-5.6-0.8-7.1-0.7-8.8-0.6-10.7-0.6-13.5-2.2-63.1-2.5-63.1-0.5-23 0.1-12.9 0.2-5.3 0.4-4.7 0.6-3.6 0.6-2.8 0.8-1.6 0.4-0.5zM244.1 190.4l0.6-0.3 0.6 0.1 0.5 0.4 0.8 0.8 1.3 2.4 1.5 4 1.3 4.6 1.3 5.6 1.3 6.6 1.3 7.9 1.1 7.9 1.2 9.5 2 20.6 1.5 21.8 1.1 23 0.5 21.8 0 21.2-0.5 19.5-1.1 17.1-0.7 7.6-0.8 7.1-0.9 6-1.1 5.2-1.2 4.3-1.1 2.9-0.6 1-0.7 0.9-0.6 0.4-0.5 0.2-0.8-0.3-0.7-0.7-0.8-1.4-0.5-1.5-1.1-4.3-1.1-6.2-0.8-7.7-0.8-9.8-0.6-12-0.6-14.7-3.5-110.2-0.4-16-0.1-12.3 0.2-13.6 0.3-5.3 0.4-4.7 0.5-3.6 0.7-2.8 0.7-1.9 0.4-0.6zM221.7 193.3l0.4-0.2 0.6 0.1 0.6 0.4 0.7 0.8 1.3 2.4 1.3 3.5 1.3 4.6 1.3 5.8 1.3 7 1.2 7.2 2 16.7 1.9 20.3 1.4 21.6 0.9 23 0.4 21.8 0 21.2-0.6 19.5-1.1 16.5-0.7 7.2-0.8 6.9-0.9 5.9-1.1 4.9-1.1 4.1-1.1 2.8-0.6 1-0.7 0.9-0.6 0.4-0.5 0.2-0.8-0.3-0.7-0.7-0.8-1.3-0.7-2-0.7-2.7-0.6-2.7-1.1-7.5-0.9-8.9-0.7-11.2-0.7-14-0.6-17.2-2.4-92-0.4-18.8 0-14.2 0.4-13.5 0.3-5.4 0.5-4.6 0.6-3.5 0.7-3 0.7-1.8 0.6-0.8zM198.6 196.2l0.6-0.4 0.6-0.1 0.5 0.2 0.8 0.6 1.1 1.8 1.3 3.1 1.3 4.3 1.3 5.6 1.1 5.9 1.1 7.2 1.2 8.5 0.9 8.4 1.7 19.4 1.3 21.6 0.9 23 0.3 22.4-0.1 21.8-0.6 19.1-1 16.9-0.8 7.6-0.8 6.5-0.9 5.8-0.9 4.4-1.2 4.1-1.1 2.8-1.1 1.7-0.8 0.6-0.5 0.1-0.6-0.1-0.3-0.3-0.8-0.8-0.7-1.4-0.8-2.1-0.7-2.8-0.6-2.8-1.1-7.7-0.9-9.8-0.8-11.7-0.6-14.2-0.6-18.2-1.8-79.6-0.2-20.7 0.1-15.9 0.4-13.5 0.3-5.3 0.5-5.1 0.6-3.8 0.8-3.4 0.7-2.2zM176.5 198l0.7-0.1 0.5 0.2 0.6 0.4 0.6 0.7 1.3 2.5 1.1 3.2 1.1 4.2 1.1 5.3 1.1 6.6 1 6.6 1.8 16.4 1.4 19.4 1.2 21.9 0.7 22.9 0.2 22.5-0.2 21.2-0.6 18.8-1.1 16-0.7 7-0.9 6.6-0.9 5.6-0.9 4.2-1.1 3.8-1.2 2.6-1.1 1.5-0.5 0.4-0.6 0.1-0.6-0.1-0.3-0.2-1-1.2-0.9-2-0.8-2.3-0.7-3.2-0.7-4-1.2-9.2-0.9-11.8-0.7-14.4-0.7-18.2-0.5-24.2-0.7-36-0.3-27.1 0-20 0.3-15.3 0.7-13.1 0.6-5.2 0.5-4.1 0.8-3.8 0.7-2.5 1-1.8zM153.8 199.8l0.6-0.2 0.6 0.1 0.5 0.4 0.6 0.6 1.1 2 1.1 3.1 1.2 4.1 1.1 5.4 0.9 5.6 1 7.2 1.6 16.1 1.3 18.8 1 21.7 0.6 23.5 0.2 22.5-0.2 21.2-0.7 18.8-1.1 16-0.7 7-0.8 6.2-0.9 5.6-0.9 4.3-1.1 3.7-1.2 2.6-1.1 1.5-0.5 0.3-0.6 0.1-0.9-0.3-1-1.2-0.9-2-0.8-2.5-0.7-2.9-0.8-4.2-1.2-10.1-1-11.8-0.8-15.2-0.6-18.9-0.5-24.1-0.4-30.7-0.1-26.5 0.2-20.1 0.5-15.9 0.8-12.9 0.5-5.3 0.6-3.9 0.8-3.8 0.7-2.6 0.9-2.1 0.6-0.8zM131.2 201l0.6-0.2 0.6 0.2 0.6 0.4 0.5 0.6 1.1 2.2 1.2 3.2 1.1 4.6 0.9 4.9 0.9 5.9 0.8 6.3 1.4 15.5 1.2 18.8 0.8 21.3 0.5 23.5 0.1 23-0.3 21.9-0.7 18.3-1.1 15.8-0.6 6.3-0.8 6.1-0.9 5.6-0.9 4.3-1 3.3-1.1 2.7-1.1 1.6-0.6 0.4-0.5 0.2-0.6-0.1-0.3-0.2-1-1-0.9-1.8-0.9-2.7-1-3.8-0.7-4.2-1.3-10.2-1-12.4-0.8-15.9-0.5-19.4-0.4-23.6-0.3-28.3 0.1-25.3 0.4-20.1 0.6-15.8 0.9-12.5 0.7-5.3 0.6-4.5 0.8-3.5 0.9-3.1 1-2 0.5-0.7zM109.1 201.6l0.5 0 0.6 0.4 0.6 0.6 0.5 1 1.1 2.6 1 3.3 0.9 4.3 0.8 4.8 0.8 5.9 0.7 6.5 1.2 15.8 1 18.8 0.6 22 0.3 24.2 0 23-0.4 21.2-0.7 17.7-1.1 15.3-0.7 6.5-0.8 5.9-0.8 4.6-0.9 4.2-0.9 3-1.2 2.5-0.9 1.2-0.5 0.4-0.6 0.2-0.6-0.1-0.5-0.4-1-1.1-0.9-2-0.9-2.9-1-4-0.7-4.3-0.7-5.5-0.7-5.8-1-14.2-0.8-17.1-0.5-21.2-0.2-24.2 0-26.5 0.3-23 0.6-18.8 0.8-15.4 0.6-6.5 0.7-6.2 0.7-5 0.8-3.8 0.9-3.5 0.9-2.4 1-1.4 0.5-0.5zM86.5 202.1l0-0.3 0.6 0.1 0.3 0.3 0.6 0.6 0.6 0.8 1.1 2.7 0.9 3.4 0.9 4.6 0.8 4.8 1.3 12.1 1 15.7 0.8 18.9 0.5 23 0.1 24.8-0.1 23.5-0.5 21.3-0.7 17.1-1.1 14.7-0.6 5.7-0.7 5.7-0.8 4.4-0.9 4.2-0.9 3-1.1 2.5-1 1.2-0.5 0.4-0.6 0.1z"/>
<path fill="#1caadf" d="M823.5 57.1l0.2 0 0.3 0.1 1 1 0.9 1.7 1.1 2.4 2.6 6.9 3.2 9.6 0 45-5.9-33.7-2.8-17.7-0.8-6.4-0.4-4.8 0.1-2.9 0.1-0.6zM801.7 64.8l0.3-0.3 0.4 0.1 0.5 0.6 0.6 0.8 1.5 2.9 1.9 4.6 2 5.9 2.1 6.4 4.6 16.2 4.5 17.6 4.5 19.5 4.3 20.6 3.9 20.9 0 93.5-5.5-40.1-5.9-39.5-4.9-30.1-10.4-60.1-3-18.5-1.1-8-0.6-6.5-0.2-4.2 0.1-1.1zM779.8 72.4l0.4-0.5 0.5 0.1 0.6 0.6 0.8 1.1 1.8 4 2.3 5.9 2.4 7.4 2.6 8.7 2.8 10.2 2.8 11 5.2 22.6 4.9 23.7 4.4 24.8 4 24.8 3.3 24.5 2.8 24.5 2.3 23.9 1.5 23.3 0.6 11.2 0.3 10.6 0.1 10-0.1 8.8-0.3 7.1-0.6 5.3-0.6 3.1-0.4 0.9-0.2 0.2-0.3 0.2-0.6-0.3-0.6-1-1.1-3.7-1.3-6.5-1.5-9.3-2.4-18.1-8.3-66.3-3-22.4-3-21.2-6.5-42.5-11.3-68-3-19.2-0.9-7.1-0.6-5.9-0.1-4.1 0.1-1.6zM758.1 79.5l0.4-0.3 0.6 0.2 0.6 0.6 0.7 1.1 1.9 4.1 2.2 6 2.4 7.4 2.7 8.9 2.6 9.7 2.8 11.1 5 22.3 4.7 23.3 4.3 24.4 3.7 24.3 3.2 24 2.7 25.1 2.1 23.6 1.3 21.8 0.5 11.2 0.3 10.6 0 10-0.1 8.3-0.4 7.1-0.6 5.3-0.6 3.2-0.4 1-0.6 0.6-0.5-0.3-0.6-0.9-1.1-3.5-1.3-6.4-1.5-9.5-2.4-18.6-7.9-65.9-5.6-41.8-6.2-41.9-10.9-67.4-2.8-18.6-1-7.7-0.5-6-0.1-4 0.1-1.2zM736.4 86.6l0.3-0.3 0.6 0.2 0.7 0.8 0.8 1.2 1.8 4.1 2.3 6.1 2.4 7.6 2.4 8.4 2.6 9.8 2.6 10.6 4.9 21.8 4.5 22.9 4.1 23.9 3.7 25 3 23.5 2.6 24.9 1.9 22.9 1.2 22.4 0.4 11.2 0.2 10 0 9.5-0.3 8.2-0.4 7.1-0.6 5-0.7 3.4-0.4 0.8-0.5 0.5-0.6-0.3-0.6-1-1.1-3.6-1.3-6.5-1.5-9.9-2.2-17.8-7.4-63.8-5.5-42.4-5.7-40.1-10.5-67.2-2.8-19.4-0.9-7.7-0.5-5.9 0-4.1 0.2-1.2zM714.5 93.7l0.4-0.3 0.5 0.1 0.8 0.9 0.7 1.2 1.9 4.1 2.2 6.1 2.5 7.7 2.4 8.5 2.6 10 2.4 10 4.7 21.4 4.5 23.4 3.9 23.5 3.5 24.7 2.8 23.1 2.5 24.4 1.6 22.2 1.2 22.4 0.3 11.2 0.1 10-0.1 8.9-0.3 8.2-0.5 6.5-0.7 5.5-0.7 2.9-0.4 0.8-0.5 0.4-0.6-0.3-0.6-1-0.5-1.5-0.8-2.9-1.3-7-1.3-9-2-16.9-7.2-64.1-5-40.7-5.5-39.5-9.9-65.5-2.8-20-0.9-7.6-0.4-5.9 0.1-4.2 0.2-1.1zM692.6 100.7l0.3-0.3 0.5 0 0.6 0.5 0.7 1 1.9 3.9 2.1 5.5 2.2 6.9 2.4 8.4 2.6 10 2.5 10 2.4 10.8 2.2 10.7 4.3 22.8 3.9 23.9 3.4 23.9 2.8 23.8 2.2 23.6 1.7 23.3 0.9 21.3 0.3 10.6 0 10-0.1 8.8-0.4 8.3-0.5 7.1-0.6 4.7-0.5 2.2-0.4 1.2-0.4 0.7-0.5 0.4-0.6-0.3-0.6-0.9-0.5-1.5-0.8-2.9-1.3-7-1.3-9.3-2-17.6-6.6-61.7-4.9-40.7-5.2-38.9-9.4-64.2-2.5-18.3-0.9-8.3-0.4-5.9 0-4.1 0.2-1.6zM670.9 107.2l0.5 0 0.6 0.4 0.7 1 0.8 1.3 1.8 4.4 2.1 5.8 2.2 7.2 2.4 8.8 2.3 8.8 2.4 10.4 4.3 20.5 4.1 22.4 3.7 23.7 3.2 23.7 2.6 23.5 2.1 23.2 1.4 22.4 0.8 20.7 0.1 10.6 0 9.4-0.2 8.9-0.4 7.6-0.6 7.1-0.7 4.7-0.8 2.8-0.4 0.7-0.5 0.5-0.6-0.3-0.6-0.8-0.5-1.5-0.8-2.8-1.3-7-1.5-11-1.8-16.7-6.2-60.6-4.5-38.9-4.7-36.5-9.2-65.2-2.5-18.8-0.8-8.6-0.3-5.9 0.1-4.1 0.3-1.2zM648.6 114.3l0.4-0.5 0.6 0.1 0.5 0.5 0.8 1.1 1.7 3.5 2 5.5 2.3 7 2.2 7.9 2.2 8.7 2.5 10.2 4.3 20.5 4.1 22.6 3.5 22.7 3.2 24 2.5 23 2 23.1 1.3 22.3 0.8 21.2 0.1 10.6-0.1 9.5-0.2 8.8-0.5 7.5-0.5 6.3-0.8 5.2-0.3 1.7-0.6 1.8-0.4 0.8-0.5 0.5-0.6-0.2-0.5-0.8-0.6-1.3-0.8-2.7-1.3-7-1.4-11.1-1.9-17.3-5.9-59.4-4.1-37.8-4.5-35.9-8.5-62-2.4-19.4-0.8-8.2-0.4-6.5 0.1-4.1 0.2-1.4zM626.6 120.8l0.4-0.4 0.6 0.1 0.5 0.5 0.8 1.1 1.7 3.5 2 5.5 2.1 6.4 2.2 8 2.4 9.6 2.3 9.6 4.1 20 3.9 22.1 3.5 23.5 3 23.6 2.4 23.7 1.8 21.8 1.2 22.4 0.5 20.6 0.1 10.1-0.2 9.4-0.3 8.8-0.5 7.1-0.7 6.7-0.7 4.3-0.4 1.5-0.6 1.6-0.3 0.6-0.6 0.4-0.6-0.3-0.7-1.3-0.6-1.6-0.7-3-1.3-7.7-1.3-10.3-1.7-16.2-5.5-58.4-4-37.1-4-34.2-8.2-61.9-2.2-18.9-0.8-8.2-0.3-6.5 0.1-4.2 0.3-1.4zM604.5 127.3l0.5-0.5 0.6 0.2 0.5 0.5 0.8 1.1 1.6 3.5 1.9 5 2.1 6.5 2.2 8 2.2 9 2.3 9.8 2 9.8 2.1 10.6 3.7 21.6 3.4 23 2.8 23 2.2 22.9 1.7 22.7 1 21.9 0.5 20.1-0.1 10-0.2 8.8-0.3 8.3-0.6 7.7-0.7 5.9-0.9 4.9-0.5 1.5-0.5 1.2-0.3 0.5-0.6 0.3-0.5-0.3-0.8-1.3-0.7-2.4-0.6-2.4-1.3-7.9-1.3-10.8-1.7-17.1-5.1-56.4-3.5-34.8-3.8-33-7.6-60.2-2.2-19.4-0.7-8.9-0.3-6.4 0.1-4.2 0.2-1.1zM582.8 133.2l0.5 0 0.6 0.5 0.8 1 0.7 1.4 1.7 3.9 1.8 5.4 2.1 6.9 2.1 7.7 2 8.5 2.1 9.3 3.9 20.2 3.5 21.4 3 21.3 2.7 22.7 2 21.9 1.5 22.4 0.9 21.2 0.3 20 0 10-0.3 8.8-0.4 7.8-0.6 7-0.7 5.9-0.9 5-1 2.7-0.3 0.6-0.6 0.4-0.4-0.1-0.3-0.3-0.8-1.3-0.7-2.4-0.6-2.5-1.3-8.1-1.3-11.2-1.5-15.8-4.8-55.4-3.3-34.2-3.3-30.6-7.4-61.6-2.1-19.2-0.7-8.9-0.1-6.4 0.1-2.4 0.2-1.8 0.3-1.1zM560.2 139.7l0.4-0.4 0.5 0.1 0.6 0.4 0.8 1 1.6 3.4 1.9 5 2.1 6.6 2 7.5 2.1 8.4 2 9.3 3.7 19.1 3.6 21.6 3 21.7 2.6 23 2 22.4 1.4 21.2 0.8 21.2 0.2 20.1-0.1 9.5-0.4 9.3-0.4 7.7-0.6 7.1-0.8 5.9-0.8 4.1-0.9 2.8-0.6 0.9-0.6 0.3-0.3-0.1-0.4-0.3-0.8-1.4-0.7-2.4-0.6-2.5-1.3-8.3-1.3-11.5-1.5-16.6-4.3-52.9-3-32.4-3.2-30.6-6.8-59.3-1.9-18.2-0.7-9.2-0.2-6.5 0.2-4.7 0.3-1.5zM538.1 145.5l0.5-0.2 0.5 0.2 0.8 0.8 0.7 1.2 1.5 3.2 1.9 5.1 1.8 6.1 2.1 7.7 1.9 7.8 2 9.4 1.9 9.5 1.8 10.3 3.4 21.2 2.8 21.1 2.4 22.6 1.9 22 1.2 21.2 0.7 20.7 0 19.4-0.2 9.5-0.3 8.2-0.6 7.7-0.6 6.7-0.8 5.4-0.9 4.4-0.9 2.6-0.6 0.9-0.5 0.3-0.4-0.1-0.4-0.4-0.7-1.4-0.8-2.4-0.5-2.5-1.4-8.3-1.3-12-1.5-17.3-4-51.4-2.8-31.2-3.3-33.6-6.1-55.4-1.5-16-0.6-9.4-0.2-7.1 0.3-4.1 0.3-1.5zM515.8 151.4l0.6-0.2 0.5 0.2 0.6 0.5 0.7 1.2 1.5 3.1 1.9 5.1 1.9 6.1 1.8 7 2.1 8.7 1.8 8.8 3.6 19.1 3.2 20.5 2.8 21.8 2.2 21.9 1.7 21.4 1.1 21.1 0.6 20.6-0.1 18.9-0.2 9.4-0.5 8.9-0.6 7.2-0.7 6.8-0.7 4.8-1 4.1-0.9 2.4-0.6 0.7-0.5 0.3-0.4-0.1-0.4-0.4-0.7-1.3-0.8-2.4-0.5-2.5-1.3-8.4-1.3-12.3-1.3-15.7-3.9-51-2.4-29.5-3.2-33-5.5-53.2-1.5-16.4-0.6-10-0.1-7.1 0.3-4.7 0.4-1.7zM493.3 157.3l0.5-0.4 0.6 0 0.5 0.4 0.8 1 1.5 2.9 1.6 4.4 1.9 6 1.9 6.9 1.8 7.8 1.9 8.8 3.4 18.1 3.1 20.7 2.8 21.9 2.1 21.8 1.7 21.7 1 21.3 0.5 20.1-0.2 18.8-0.3 8.9-0.5 8.2-0.5 7.2-0.8 6.5-0.9 5.7-1 3.7-0.9 2.3-0.6 0.7-0.5 0.2-0.4-0.1-0.4-0.3-0.7-1.4-0.7-2.3-0.8-3.5-1.3-9-1.3-13.2-1.3-16.8-3.3-46.3-2.3-28.3-2.8-31.2-5-52.1-1.4-16.3-0.6-10-0.2-7.1 0.3-4.7 0.4-1.8zM471.2 162.6l0.4-0.2 0.6 0.1 0.5 0.5 0.8 1 1.4 3 1.7 4.5 1.7 5.5 1.9 7.1 1.8 8 1.9 9 3.2 17.8 3 20.3 2.4 20.7 2.1 21.8 1.4 20.7 1 21.2 0.3 20-0.2 18.3-0.4 8.2-0.5 8.3-0.7 7.7-0.8 6.1-0.9 5.2-0.9 3.5-1 2.1-0.5 0.7-0.6 0.2-0.4-0.2-0.3-0.3-0.8-1.3-0.7-2.3-0.8-3.4-1.3-9.2-1.4-14.7-4.2-61.3-2-25.9-2.5-30.1-4.6-50.1-1.4-17.1-0.5-10-0.1-7.7 0.2-2.9 0.3-2.4 0.4-1.5zM448.8 167.9l0.4-0.2 0.6 0.1 0.5 0.5 0.8 1 1.5 3 1.6 4.5 1.7 5.6 1.7 6.5 1.9 8.1 1.6 8.3 3.2 18.2 2.8 19.7 2.4 20.8 1.8 20.7 1.4 21.2 0.8 20 0.2 19.5-0.3 17.7-0.4 8.2-0.5 7.7-0.7 7.7-0.8 5.8-0.9 5.2-0.9 3.6-1 2.2-0.5 0.8-0.6 0.3-0.5-0.1-0.4-0.4-0.8-1.3-0.7-2.2-0.8-3.4-0.7-4.6-0.8-6-1.3-14.5-3.9-60.3-1.7-24.2-2.3-28.3-4.2-48.8-1.2-16.6-0.5-10.6 0-7.7 0.2-2.9 0.3-2.4 0.5-1.5zM426.2 173.3l0.4-0.4 0.6 0 0.5 0.4 0.8 0.9 1.5 2.9 1.5 3.9 1.7 5.5 1.6 6.4 1.7 7.3 1.7 8.3 3 17.4 2.8 20 2.2 20.2 1.8 20.9 1.3 20.7 0.7 20 0.1 18.9-0.4 17.7-0.4 8.2-0.5 7.7-0.7 7-0.8 5.9-0.9 4.8-1.1 4.2-0.9 2.1-0.6 0.7-0.6 0.3-0.5-0.2-0.4-0.3-0.7-1.3-1-2.9-0.7-3.6-1.3-9.7-1.4-15.3-5.1-80.2-2-27.1-3.7-46-1.2-18.8-0.5-10.6 0.1-8 0.4-5 0.5-2zM404 178l0.4-0.2 0.6 0.2 0.5 0.5 0.8 1 1.5 3.1 1.5 4.1 1.5 5.1 1.6 6.6 1.7 7.7 1.5 7.7 2.8 16.9 2.6 19.6 2.1 19.6 1.7 20.7 1.1 20.3 0.6 19.8 0 18.8-0.5 17.1-0.5 8.3-0.6 7.2-0.7 6.8-0.8 5.4-0.9 4.5-1.1 3.9-0.9 2-0.6 0.6-0.6 0.3-0.5-0.2-0.4-0.3-0.9-1.7-0.9-3.2-0.8-3.9-0.7-5.2-0.7-6.2-1.3-16.5-4.4-73.7-5.1-70.7-1.2-18.9-0.3-11.2 0.1-8.3 0.3-2.9 0.4-2.4 0.4-1.4zM381.4 182.7l0.4-0.2 0.6 0.1 0.6 0.5 0.7 1 1.3 2.6 1.5 4 1.5 5 1.7 6.7 1.5 6.8 1.5 7.8 2.8 17.4 2.4 18.8 2 20.3 1.5 20 1 20.1 0.5 19.4 0 18.3-0.6 17.1-0.5 7.3-0.6 7.4-0.8 6.5-0.8 5.4-1 4.5-1.1 3.7-0.5 1.2-0.6 0.8-0.6 0.5-0.3 0.1-0.6-0.1-0.4-0.4-0.9-1.7-0.9-3.1-0.9-4.4-0.7-5.3-0.7-6.5-1.4-18.3-3.7-67.2-4.6-69-1-19.4-0.3-11.8 0.2-8.3 0.3-2.9 0.4-2.4 0.4-1.3zM358.6 187.4l0.5-0.4 0.5 0 0.6 0.4 0.6 0.6 1.3 2.2 1.5 3.8 1.5 4.8 1.4 5.8 1.5 6.8 1.5 7.8 2.6 16.2 2.5 19.2 1.9 19.5 1.5 20.6 0.9 20 0.4 19.5-0.1 18.3-0.6 16.5-0.5 7.6-0.7 7.5-0.8 6.1-0.9 5.7-0.9 4.1-1.2 3.5-0.5 1.1-0.6 0.8-0.5 0.5-0.4 0-0.6-0.1-0.5-0.6-1-2-0.9-3.4-0.7-4-0.8-5.5-0.7-7.4-1.3-18.3-3.3-62.2-4-66.1-0.9-20-0.3-11.8 0.2-8.3 0.3-3.5 0.4-2.3 0.5-1.8zM336.1 191.5l0.4-0.2 0.6 0 0.5 0.3 0.8 0.8 1.3 2.5 1.3 3.4 1.3 4.2 1.5 5.9 1.5 6.9 1.3 7 1.3 7.9 1.3 9 2.2 18.4 1.8 19.4 1.4 20 0.8 19.5 0.3 19.5-0.2 17.6-0.7 16.5-0.5 7.1-0.6 6.8-0.8 6-0.9 5.6-0.9 4.2-1.2 3.5-0.5 1.2-0.6 0.8-0.5 0.5-0.4 0.1-0.6-0.1-0.5-0.4-0.6-0.9-0.5-1.3-1-3.4-0.9-4.9-0.8-6.2-0.7-7.9-1.3-19.8-3.1-62.2-3.1-57.3-0.8-20.5-0.2-11.8 0.3-8.8 0.4-3.5 0.4-2.4 0.5-1.8zM313.3 195.7l0.4-0.4 0.6-0.1 0.6 0.2 0.5 0.5 1.3 2.2 1.3 3.2 1.3 4.2 1.5 5.8 1.5 7 1.3 7.1 2.5 16.2 2 17.6 1.7 19 1.3 20.5 0.7 19.6 0.3 18.8-0.3 17.7-0.7 16.1-0.6 7.5-0.7 7-0.8 5.6-0.9 5.2-0.9 3.9-1.1 3.3-0.6 1.1-0.6 0.8-0.5 0.4-0.4 0.1-0.5-0.1-0.6-0.5-0.6-0.9-0.5-1.3-1-3.4-0.9-5.3-0.8-6.5-0.8-8.2-1.4-22.6-5-107.7-0.8-23-0.1-12.4 0.3-8.8 0.3-3.5 0.5-2.6 0.5-2.1zM290.7 199.2l0.5-0.3 0.5-0.1 0.6 0.3 0.6 0.6 1.3 2.2 1.3 3.3 1.3 4.4 1.3 5.3 1.3 6.2 1.3 7.4 2.2 15.4 2.1 18.4 1.5 18.4 1.1 19.9 0.7 19.4 0.1 18.9-0.3 17.7-0.8 15.9-0.6 7.4-0.8 6.7-0.7 5.2-1 4.9-0.9 3.7-1.1 3.1-0.6 1-0.5 0.7-0.6 0.4-0.4 0-0.7-0.3-0.6-0.6-0.5-1.1-0.6-1.5-1.1-4.6-0.9-5.5-0.8-7.2-0.7-9.1-1.4-25-3.9-93.1-0.6-15.4-0.3-12.4 0.1-12.3 0.4-8.9 0.4-3.7 0.6-2.8 0.6-1.8zM267.9 202.7l0.3-0.3 0.6-0.2 0.5 0.1 0.6 0.4 1.1 1.7 1.3 3 1.3 4.1 1.3 5.1 1.3 6.3 1.2 6.3 1.1 7.2 1.1 8.4 1.9 17.3 1.5 19 1.1 20.1 0.6 19.4 0.1 18.9-0.4 17.1-0.8 15.9-0.6 7.1-0.8 6.6-0.7 5.2-1 4.9-0.9 3.7-1.1 3.1-0.9 1.6-0.6 0.5-0.6 0.2-0.7-0.2-0.6-0.6-0.7-1.4-0.6-1.5-1.1-4.6-0.9-5.9-0.9-8.1-0.7-9.4-0.7-11.2-0.7-15.4-3-80.7-0.6-18.3-0.2-13.5 0.1-12.4 0.5-9.5 0.4-3.5 0.5-3.1 0.6-1.9zM245.2 205.7l0.4-0.4 0.6-0.1 0.6 0.2 0.5 0.5 1.1 1.8 1.4 3.1 1.3 4.4 1.1 4.7 1.1 5.5 1.1 6.6 2.1 15.1 1.7 17.5 1.4 19.4 1 19.3 0.5 19.1 0 18.9-0.5 17.1-0.9 15.3-0.6 7.3-0.8 6.2-0.7 4.9-0.9 4.6-1 3.5-1.1 2.9-0.6 1-0.5 0.6-0.6 0.3-0.3 0.1-0.8-0.3-0.6-0.6-0.7-1.5-0.6-1.5-1.2-5.1-1-7.1-0.9-9.2-0.8-10.6-0.7-13.8-0.7-17.1-2.2-69-0.4-18.8-0.1-14.2 0.3-12.3 0.6-8.9 0.4-3.2 0.6-2.8 0.7-2.2zM222.8 208l0.5-0.1 0.5 0.1 0.6 0.4 0.5 0.6 1.2 2.1 1.1 3 1.1 4 1.1 4.9 1.1 5.9 1.2 7.1 1.8 15.1 1.5 16.5 1.2 18.8 0.9 19.5 0.3 18.9 0 18.2-0.5 16.5-1 15-0.5 6.3-0.8 6-0.7 4.8-0.9 4.7-1 3.5-1.1 2.9-0.9 1.5-0.6 0.4-0.5 0.2-0.8-0.3-0.7-0.8-0.8-1.5-0.7-2.2-0.8-3.1-0.5-3.1-1.1-8.3-0.9-10.6-0.8-12.4-0.7-15.3-0.7-20.7-0.9-32-0.5-25.7-0.3-18.3 0.1-14.2 0.5-11.8 0.8-8.1 0.5-3.3 0.6-2.2 0.8-1.9 0.3-0.5zM199.9 210.4l0.4-0.2 0.6 0 0.5 0.3 0.6 0.6 1.1 1.9 1.1 3 1.1 3.9 1 4.2 1.1 6 0.9 6 1.8 14.4 1.5 17.1 1.1 18.8 0.7 19.5 0.4 19.4-0.2 18.3-0.5 16.5-0.9 14.8-0.7 6.8-0.7 5.9-0.8 4.7-0.9 4.4-1 3.3-0.9 2.4-0.9 1.4-0.6 0.5-0.5 0.2-0.6-0.1-0.4-0.3-0.7-0.9-0.8-1.5-0.7-2.3-0.8-3.2-0.5-3-1.1-8.6-1-10.9-0.7-12.8-0.7-16.1-0.6-20.6-0.7-28.3-0.3-24.2-0.1-18.3 0.2-14.1 0.5-11.2 0.4-4.7 0.5-4.4 0.6-3.2 0.7-2.8 0.8-1.7zM177.4 212.2l0.5-0.1 0.6 0.2 0.9 1 1.1 2.2 1.2 3.2 0.9 3.6 0.9 4.6 1 5.2 0.9 6.5 1.5 14.2 1.3 16.5 1 18.9 0.7 19.5 0.2 18.8-0.2 18.3-0.6 16.5-0.9 14-1.3 11.8-0.8 4.7-0.9 4.6-0.9 3.3-1 2.3-0.9 1.5-0.6 0.5-0.5 0.2-0.6-0.1-0.4-0.2-0.7-0.9-0.9-1.9-0.8-2.4-0.7-3.2-0.6-3.1-1.2-9.3-0.9-11.2-0.8-14.1-0.6-17.5-0.6-22-0.4-25.4-0.2-22.4 0.1-17.1 0.4-14.1 0.8-11.2 0.4-4.4 0.6-3.7 0.5-2.8 0.8-2.5 0.7-1.6 0.6-0.7zM154.2 213.9l0.4-0.2 0.6-0.1 0.5 0.2 0.6 0.6 1.1 1.9 0.9 2.5 1 3.3 1 4.8 0.9 5.3 0.9 5.9 1.5 14.1 1.2 16.6 0.8 18.2 0.6 20.1 0.2 19.4-0.3 18.9-0.6 16.5-1 14.1-0.6 6.2-0.7 5.8-0.8 4.5-0.9 4.3-0.9 3.1-1 2.2-0.9 1.4-0.6 0.4-0.5 0.1-0.6-0.2-0.3-0.3-0.8-0.9-0.7-1.6-0.9-2.6-0.7-2.9-0.7-3.9-1.1-8.7-0.9-11-0.8-14.1-0.6-17.1-0.5-19.9-0.3-23.8 0-21.8 0.2-17.6 0.5-14.8 0.7-11.2 0.6-5.1 0.5-3.9 0.6-2.8 0.7-2.8 0.8-1.9zM131.2 215.1l0.5-0.3 0.5-0.1 0.4 0.1 0.5 0.3 0.6 0.7 0.6 1 0.9 2.2 0.9 3.2 1 4.2 0.9 5.4 0.7 5.4 1.5 13.9 1.1 16.5 0.8 18.8 0.4 20.1 0.1 20-0.2 18.9-0.7 16.7-0.9 13.9-1.3 11.5-0.8 4.6-0.9 4.4-0.9 3.2-1 2.2-0.9 1.4-0.6 0.4-0.5 0.1-0.6-0.2-0.3-0.2-0.8-1-0.9-2-0.8-2.3-0.7-3.1-0.7-3.6-1.2-9.4-0.9-11.3-0.8-14.1-0.6-16.5-0.3-19.5-0.2-22.4 0.1-20.6 0.3-17.7 0.6-14.7 0.9-11.6 1.1-8.8 0.8-3.8 0.7-2.7 0.7-1.9zM86.5 215.7l0-0.1 0.4 0 0.5 0.4 1 1.3 0.9 2.2 0.7 2.6 0.8 3.6 0.8 4.7 1.3 11.2 1 14.2 0.7 16.5 0.5 19.4 0.1 20.7-0.1 20-0.5 18.3-0.7 15.3-1 13-1.2 10.2-0.7 4.3-0.8 3.4-0.9 3.1-0.9 2.1-1 1.2-0.3 0.2-0.6 0.1zM108.5 215.7l0.4-0.3 0.5-0.1 0.6 0.2 0.6 0.6 0.9 1.5 0.9 2.5 1 3.4 0.7 3.7 0.8 4.5 0.7 5.8 1.3 13.6 0.9 16 0.7 18.7 0.4 20.7 0 20.6-0.3 18.9-0.7 17.1-1 13.9-1.3 11.3-0.7 4.5-0.9 3.9-0.8 2.8-1 2.3-0.9 1.3-0.5 0.5-0.6 0.1-0.6-0.2-0.3-0.2-1-1.2-0.9-2.2-0.7-2.4-0.8-3.3-0.7-4-1.2-9.1-0.9-11.5-0.8-14.2-0.5-17.1-0.3-18.8-0.1-21.3 0.3-20.6 0.5-17.2 0.7-14.5 1-11.3 0.6-4.8 0.7-4.5 0.7-3.5 0.8-2.7 0.9-2.2z"/>
<path fill="#12beb9" d="M832.2 93.1l0.2 0.1 0.4 0.3 0 15.7-0.9-7.3-0.3-4.7 0-2.9 0.3-1zM809.7 99.6l0.3-0.3 0.2 0 0.4 0.3 0.6 0.8 1.1 2.3 1.1 2.9 3 9.3 3.3 12.3 3.4 13.8 3.4 15.2 3.1 15.8 3.2 17.4 0 71.9-7.9-53.9-10.9-69.1-2.5-16.1-1.1-8.5-0.8-7.1-0.2-4.7 0.1-1.2zM787.7 105.5l0.3-0.1 0.4 0.2 1.1 1.7 1.3 3.1 1.7 4.8 1.9 6.1 1.8 6.7 3.9 15.8 3.8 16.9 3.5 18 3.4 19 3 19 2.6 19 2.2 18.8 1.9 19 1.3 17.1 0.8 15.9 0.2 13.5-0.1 4.8-0.3 4.1-0.6 2.9-0.2 0.5-0.4 0.3-0.2 0-0.3-0.4-0.6-1.1-0.7-2.5-0.8-3.1-1.7-9.1-2-13.2-11.7-82.8-4.3-28.9-7.3-47.4-2.5-16.7-1.1-9-0.6-7-0.1-4.2 0.2-1.1zM765.4 111.9l0.2-0.4 0.4-0.1 0.4 0.3 0.5 0.8 1.3 2.8 1.5 4 1.9 5.9 1.9 6.6 3.9 15.6 3.7 16.9 3.6 18.1 3.3 19.3 3 19.3 2.6 19.5 2.3 19.6 1.6 18.1 1.3 17.7 0.7 16.5 0.1 13.5-0.2 5-0.4 4-0.5 2.5-0.2 0.3-0.4 0.3-0.5-0.4-0.6-1.2-1.3-4.8-1.7-8.9-1.9-12.2-11.4-84.2-13.4-90.8-1.1-8.8-0.7-7.7-0.2-4.7zM743.2 117.8l0.2-0.4 0.4 0 0.4 0.3 0.5 0.7 1.3 2.8 1.5 4 1.7 5.3 1.9 6.5 3.9 15.7 3.7 17.2 3.6 18.4 3.1 18.6 3 19.9 2.5 18.8 2 18.6 1.7 18.7 1.1 17.1 0.7 17.1 0.1 7.1-0.1 6.5-0.3 5.3-0.4 4.1-0.6 2.4-0.1 0.3-0.4 0.4-0.2-0.1-0.4-0.3-0.5-1.1-0.6-1.7-0.7-3-1.7-9.1-1.9-12.6-11.1-84.3-3.9-27.7-6.8-47-2.1-15.1-1.1-9.2-0.6-7.1-0.1-4.7 0-1.2zM721 123.7l0.2-0.4 0.4 0 0.4 0.3 0.5 0.7 1.3 2.7 1.5 4.1 1.7 5.3 1.9 6.6 3.9 15.9 3.5 16.6 3.6 18.8 3.2 19.2 2.8 19.4 2.4 19.6 1.8 18 1.6 18.3 1 18.3 0.5 16.5 0 7.1-0.1 5.8-0.3 4.9-0.4 3.4-0.6 2.3-0.3 0.7-0.4 0.2-0.6-0.5-0.5-1.2-0.8-2.5-0.7-3.3-1.5-8.5-1.9-13.1-10.3-81.4-3.8-27.7-6.6-47.1-2.1-15.6-1.1-9.8-0.5-6.5-0.1-4.7 0.1-1.2zM698.7 129.6l0.3-0.5 0.4 0 0.4 0.3 0.5 0.8 1.2 2.3 1.4 3.9 1.7 5.3 1.9 6.6 3.7 15.2 3.6 16.7 3.3 18.1 3 18.3 2.8 19.7 2.4 20.1 1.9 18.8 1.4 17.7 0.9 17.1 0.4 15.9 0 7.1-0.1 6.5-0.3 5.3-0.4 3.8-0.6 2.7-0.4 0.9-0.3 0.3-0.2 0.1-0.4-0.3-0.7-1.5-0.6-1.8-0.8-3.2-1.4-8.5-1.9-13.3-10-81.8-3.6-27.1-6.2-45.8-2-16.1-1-8.8-0.6-7.1-0.1-4.7 0.1-1.8zM676.6 134.9l0.4-0.1 0.4 0.2 0.5 0.7 0.6 1 1.3 3 1.5 4.3 1.7 5.6 1.7 6.2 3.5 14.9 3.5 17.3 3.2 17.7 2.8 17.8 2.6 19.3 2.3 19.5 1.6 18 1.4 18.2 0.8 16.8 0.3 16.5-0.1 7.1-0.2 5.9-0.4 4.7-0.4 3.7-0.6 2.5-0.4 0.8-0.4 0.3-0.1 0-0.4-0.2-0.8-1.4-0.5-1.8-0.8-3.2-1.6-9.9-1.9-14-9.3-78.8-9.4-72.7-2-16.9-1-9.4-0.4-7.1 0.1-4.7 0.2-1zM654.1 140.8l0.3-0.3 0.4 0 0.4 0.3 0.5 0.7 1.3 2.7 1.5 4.1 1.7 5.4 1.7 6.1 1.9 7.5 1.8 8.2 3.4 16.5 3.2 17.9 2.8 18.3 2.6 19.9 2 18.7 1.7 19 1.2 17.7 0.6 17.1 0.2 15.9-0.1 7-0.3 6-0.5 5.2-0.5 3.5-0.6 1.9-0.4 0.6-0.3 0.1-0.6-0.4-0.8-1.6-0.5-1.9-0.8-3.3-1.4-9-1.9-14.4-8.9-78.5-8.8-71.2-1.9-16-0.9-9.5-0.5-7.1 0-4.7 0.3-1.7zM631.9 146.1l0.5-0.1 0.4 0.3 1.1 1.7 1.3 3 1.5 4.4 1.7 5.6 1.7 6.4 3.3 14.6 3.4 17.1 3 17.5 2.6 17.7 2.4 19.3 1.9 18 1.5 18.4 1.1 18.1 0.6 16.7 0 15.3-0.4 12.4-0.5 5.3-0.6 3.5-0.6 2.3-0.4 0.7-0.4 0.2-0.5-0.2-0.8-1.5-0.7-2.5-0.8-3.4-1.4-9.4-1.9-15-8.1-74.9-8.5-71.2-1.9-16.7-0.9-10-0.3-7.1 0.1-4.4 0.3-1.5zM609.3 152l0.4-0.5 0.3 0 0.4 0.2 0.6 0.7 1.3 2.6 1.3 3.5 1.5 4.7 1.6 6.1 1.9 7.5 1.7 7.5 3.3 16.9 3 17.5 2.6 17.8 2.5 19.7 1.8 18.4 1.5 18.9 1 17.7 0.5 17.1 0 15.3-0.2 7.1-0.4 5.9-0.5 4.8-0.6 3.4-0.7 2.4-0.4 0.6-0.3 0.2-0.6-0.4-0.8-1.4-0.7-2.6-0.7-3.5-1.5-9.6-1.7-14-7.8-74.8-7.9-69-1.7-15.7-0.9-10.2-0.4-7.1 0.1-4.7 0.1-1.8zM586.8 157.3l0.5-0.5 0.3 0 0.4 0.3 0.6 0.7 1.3 2.6 1.3 3.5 1.5 4.7 1.7 6.2 3.3 14.4 3.2 16.2 3 17.8 2.6 18.5 2.2 18.8 1.9 19.5 1.3 17.6 0.9 17.7 0.4 16.5-0.2 15.8-0.3 6.6-0.4 5.9-0.5 4.7-0.7 3.5-0.7 2.2-0.4 0.5-0.3 0.1-0.6-0.3-0.7-1.5-0.8-2.5-0.7-3.6-1.5-9.8-1.7-14.5-7.2-72.5-7.4-67.1-1.7-16.6-0.8-10.6-0.4-7.1 0.1-5.2 0.2-1.4zM565 162.1l0.4 0.1 0.4 0.4 1.1 1.9 1.3 3.2 1.5 4.5 1.5 5.2 1.5 5.9 3.2 14.5 3 16.1 2.6 16.5 2.4 18.1 2.1 18.5 1.6 18.8 1.2 17.2 0.7 17.6 0.2 15.9-0.2 14.8-0.3 6.5-0.5 5.3-0.5 4.4-0.7 3.9-0.8 2-0.4 0.5-0.3 0.1-0.6-0.3-0.6-0.9-0.5-1.6-0.8-3-1.1-6.4-1.3-10.1-1.9-17.8-6.4-68.1-7-66.8-1.5-16.5-0.6-11 0-4.1 0.2-3 0.4-1.7 0.4-0.6zM542.1 167.4l0.4-0.2 0.4 0.1 0.5 0.5 0.6 0.9 1.3 2.8 1.3 3.7 1.5 5 1.7 6.4 3.1 14.4 3 16.2 2.6 16.8 2.3 17.1 2 18.9 1.5 17.6 1.2 18.3 0.6 17.7 0.2 15.9-0.4 14.7-0.3 6.5-0.5 5.6-0.6 4.2-0.7 3.6-0.8 1.9-0.4 0.5-0.3 0.2-0.4-0.1-0.4-0.4-0.7-1.6-0.8-2.7-0.7-3.7-1.5-10.5-1.7-15.7-6-66.8-6.5-65.1-1.6-18-0.7-10-0.2-7.7 0.1-2.9 0.2-2 0.3-1.5zM519.3 172.7l0.4-0.5 0.4 0 0.4 0.2 0.5 0.6 1.2 2 1.4 3.9 1.5 4.7 1.5 5.6 1.7 7.1 1.5 7 3 16.2 2.6 16.9 2.3 17.6 1.9 18.9 1.5 18.3 1.1 17.6 0.5 17.1 0.1 16-0.4 14.7-0.4 6.5-0.5 5.3-0.7 4.6-0.7 3.4-0.8 2-0.4 0.4-0.3 0.3-0.4-0.1-0.4-0.4-0.7-1.4-0.8-2.6-0.7-3.6-1.5-10.4-1.7-16.2-5.7-65.6-5.9-62.8-1.4-17.4-0.7-10-0.2-7.7 0.2-5.3 0.2-1.8zM496.9 177.4l0.4-0.3 0.4 0 0.4 0.3 0.5 0.7 1.4 2.5 1.3 3.6 1.4 4.9 1.5 5.7 3 13.7 2.8 15.5 2.5 16.2 2.2 17.9 1.9 18.7 1.3 17.9 0.9 17.7 0.5 17.1 0 15.9-0.5 14.1-0.5 6.5-0.6 5.3-0.6 3.9-0.7 3.3-0.8 1.9-0.4 0.5-0.5 0.3-0.4-0.1-0.4-0.4-0.7-1.6-0.7-2.7-0.8-3.7-1.5-10.8-1.7-17.1-5.1-62.5-5.3-59.9-1.5-18.6-0.6-11.1-0.2-7.7 0.1-2.9 0.3-2.4 0.2-1.2zM474.3 182.1l0.5-0.3 0.3 0 0.4 0.3 0.6 0.7 1.3 2.6 1.3 3.5 1.3 4.3 1.5 5.7 1.5 6.5 1.5 7.3 2.6 14.8 2.4 16.6 2.2 18.7 1.7 17.7 1.3 17.7 0.8 17.1 0.4 17.1-0.2 15.3-0.6 14.2-0.4 5.9-0.6 5.3-0.7 4-0.7 3.1-0.8 2-0.3 0.5-0.6 0.4-0.6-0.2-0.3-0.5-0.8-1.6-0.7-2.7-0.8-3.9-1.5-11.2-1.6-17.8-4.6-58.8-5-59.3-1.3-18.5-0.6-10.6-0.1-8.2 0.4-5 0.3-1.8zM451.5 186.8l0.5-0.4 0.4 0 0.5 0.3 0.6 0.7 1.1 2.2 1.3 3.4 1.3 4.3 1.5 5.7 2.8 13 2.6 15.1 2.5 17 2 17.7 1.5 17.1 1.3 18.3 0.7 17.1 0.3 16.5-0.2 15.3-0.7 14.2-0.6 5.8-0.6 5.2-0.8 4.2-0.7 2.8-0.8 1.7-0.3 0.5-0.6 0.2-0.5-0.2-0.4-0.5-0.8-1.7-0.7-2.8-0.8-4-1.5-11.4-1.6-18.7-4.4-59.6-4.2-53.6-1.3-18.9-0.5-10.6 0-7.6 0.3-5.3 0.4-1.8zM429.1 190.9l0.5-0.1 0.4 0.1 0.5 0.5 0.6 0.8 1.1 2.4 1.3 3.6 1.3 4.5 1.3 5.2 1.5 6.7 1.3 6.7 2.5 14.6 2.2 16.4 1.9 17.1 1.5 17.5 1 17.2 0.7 17.1 0.1 16.5-0.2 14.8-0.8 13.5-0.6 5.9-0.6 4.8-0.8 4.1-0.7 2.8-0.7 1.7-0.4 0.5-0.6 0.4-0.5-0.2-0.4-0.4-0.9-2-1-3.7-0.7-4.2-0.8-5.6-0.7-6.9-1.7-20.2-3.8-54.8-3.7-50.3-1.2-20.4-0.4-11.2 0-7.7 0.2-2.9 0.3-2.2 0.4-1.5 0.4-0.8zM406.7 195.1l0.3-0.1 0.6 0.4 0.9 1.3 1.1 2.4 1.4 3.7 1.3 4.6 1.3 5.3 2.6 13 2.4 15.2 2.1 15.9 1.7 16.7 1.4 17.7 0.9 17 0.5 16.6 0.1 15.9-0.4 14.1-0.8 13-0.6 5.3-0.6 4.7-0.8 4-0.9 3.3-0.7 1.6-0.4 0.4-0.6 0.3-0.5-0.2-0.4-0.4-0.9-2.1-1-3.7-0.9-5.6-0.9-7-0.8-8.5-1.7-22.5-6.1-93-1.3-23.4-0.3-11.2 0.2-7.7 0.2-2.9 0.4-2.2 0.6-1.4zM383.8 199.2l0.5-0.1 0.3 0.2 0.6 0.5 0.6 0.8 1.1 2.4 1.3 3.7 1.3 4.6 1.3 5.5 2.4 12.3 2.3 14.3 2 16.4 1.7 17.1 1.2 16.6 0.9 17.1 0.4 16.5 0 15.9-0.5 14.2-0.9 12.7-0.5 5-0.8 4.9-0.7 3.6-1 3-0.7 1.4-0.6 0.5-0.3 0.1-0.6-0.2-0.6-0.8-0.9-2.4-0.9-4-1-6-0.7-6.6-0.9-9.5-1.7-25.1-5.2-85.1-1.2-23-0.2-11.2 0.2-8.1 0.3-2.5 0.4-2.3 0.5-1.6zM360.7 203.3l0.4-0.3 0.6 0 0.4 0.3 0.5 0.6 1.2 2 1.1 2.9 1.3 4.3 1.3 5.2 2.4 12.1 2.2 14.2 2 15.3 1.6 16.8 1.3 17.4 0.8 17.1 0.4 16.5-0.1 15.9-0.5 14.2-1 12.9-0.5 5-0.8 4.8-0.7 3.5-1 3.1-0.7 1.4-0.6 0.6-0.3 0.2-0.6-0.2-0.6-0.6-0.9-2.1-0.9-3.7-1-5.6-0.7-6.1-0.8-8.5-1.6-23.3-4.7-82.2-1.1-25.4-0.2-11.8 0.2-8.2 0.6-5.3 0.5-2zM338.1 206.9l0.5-0.3 0.3 0.1 1 0.8 1.1 2.1 1.1 2.9 1.1 3.7 1.3 5.2 1.3 6.2 1.2 6.1 2 13.5 1.9 15.7 1.5 16.5 1.2 17.6 0.7 17.1 0.3 16.6-0.1 15.3-0.6 14.1-1.1 12.4-0.6 5.1-0.8 4.4-0.7 3.2-0.9 2.8-0.8 1.3-0.5 0.5-0.4 0.1-0.6-0.2-0.5-0.6-0.6-1.1-0.6-1.6-0.9-4.1-0.9-6-0.9-7.9-0.8-9.5-1.7-27-3.6-69-0.7-16.5-0.4-12.4 0-10.6 0.3-8.3 0.3-3.2 0.4-2.2 0.5-1.9zM315.1 210.4l0.5-0.3 0.4 0 0.4 0.1 0.5 0.6 1.1 1.9 1.2 2.8 1.1 3.7 1.3 5.2 2.2 11.6 2.1 13.8 1.8 15.4 1.4 16.5 1.1 17.1 0.6 16.5 0.2 16.5-0.2 15.4-0.6 14.1-1.1 11.8-0.6 4.9-0.8 4.3-0.7 3.2-0.9 2.8-1 1.7-0.5 0.4-0.4 0.1-0.6-0.3-0.5-0.6-0.6-1.2-0.5-1.6-1.2-5.1-0.9-6.4-0.9-8.7-0.8-10.2-1.7-29.5-2.8-60.5-0.6-16.5-0.3-13 0.1-10.6 0.3-7.7 0.4-2.9 0.4-2.4 0.5-1.8zM292.6 213.3l0.4-0.1 0.4 0.1 0.6 0.5 0.5 0.8 1 1.8 1.1 3.1 1.1 3.9 1.1 4.8 2.1 11.1 1.8 13.1 1.7 15.4 1.4 16.3 0.9 17.1 0.6 16.5 0.1 15.9-0.2 14.7-0.7 13.8-1.1 11.6-0.6 4.5-0.8 4.3-0.7 3.2-0.9 2.8-1 1.7-0.5 0.5-0.4 0.1-0.4 0-0.3-0.2-0.6-0.7-0.8-1.7-0.5-1.8-1.1-5.5-1-6.9-0.8-9.2-0.8-11.2-1.7-32.6-2.2-54-0.5-15.9-0.1-12.4 0.2-10.6 0.5-7.7 0.4-2.6 0.6-2.4 0.5-1.4zM269.6 216.3l0.5-0.2 0.5 0.2 1 1 0.9 1.8 1.1 3.1 1.2 4 0.9 4 2 11.2 1.9 13.7 1.5 14.4 1.3 16.9 0.8 16.5 0.5 16.6 0.1 15.9-0.4 14.7-0.7 13.6-1.1 11.2-0.7 4.6-0.7 4-0.8 3-0.9 2.6-0.9 1.5-0.6 0.4-0.4 0.1-0.7-0.3-0.6-0.8-0.7-1.6-0.6-1.9-1.1-5.4-1-7.4-0.9-9.5-0.7-11.1-0.8-14.8-0.9-20-1.7-48.4-0.3-16.5-0.1-12.4 0.3-10 0.6-7.6 0.5-2.7 0.5-2.3 0.6-1.3zM246.4 219.2l0.4-0.3 0.3-0.1 0.4 0 0.6 0.4 0.9 1.3 1.1 2.5 1.1 3.6 1 3.7 1.1 5.4 0.9 5.4 1.9 13.5 1.5 14.6 1.2 16.1 0.8 17.1 0.5 16.5 0 15.9-0.3 14.7-0.8 13.6-1 11.2-0.8 5.2-0.7 3.9-0.8 3.1-0.9 2.6-0.9 1.6-0.6 0.5-0.4 0.1-0.7-0.3-0.6-0.6-0.7-1.5-0.6-1.7-1.1-5-1-6.7-0.9-9-0.7-10.5-0.8-13.4-0.7-17.8-0.9-25.4-0.6-22.4-0.3-17.1 0-13.5 0.3-10.3 0.6-8 0.4-3 0.5-2.7 0.5-1.8zM223.4 221.6l0.4-0.4 0.4-0.1 0.4 0 0.5 0.4 1 1.2 1.1 2.6 1.1 3.6 0.9 3.8 1.9 10.2 1.7 12.7 1.5 15.4 1.1 16.5 0.7 16.6 0.4 17.1-0.1 15.9-0.4 14.8-0.8 13.1-1.1 10.6-0.8 4.9-0.7 3.7-0.8 2.8-0.9 2.5-0.9 1.4-0.6 0.4-0.4 0.1-0.7-0.3-0.6-0.7-0.7-1.6-0.6-1.7-1.1-5.2-1.1-7.8-0.9-9.8-0.8-11.6-0.7-14.4-0.6-16.5-0.7-23-0.4-20.6-0.1-16.5 0.1-13 0.4-10.6 0.7-8.3 0.4-2.9 0.5-2.3 0.6-1.7zM200.7 223.4l0.5-0.3 0.4 0 0.4 0.2 0.5 0.6 1 1.5 0.9 2.4 0.9 3.2 1 4 0.9 5 0.9 5.9 1.5 12.3 1.3 14.8 1 15.8 0.7 16.5 0.2 16.5-0.1 15.9-0.4 14.8-0.8 12.3-1.1 10.7-0.8 4.8-0.7 3.7-0.8 2.9-0.9 2.5-0.9 1.5-0.4 0.3-0.6 0.2-0.7-0.2-0.7-0.9-0.8-1.6-0.6-1.8-1.2-5.6-1-7.6-0.9-9.9-0.8-11.9-0.7-15.4-0.6-18-0.5-22-0.2-19.5 0-15.3 0.3-13 0.5-10 0.9-7.7 0.5-3 0.6-2.2 0.5-1.4zM177.6 225.1l0.5-0.3 0.4 0 0.4 0.1 0.5 0.4 0.9 1.4 1 2.3 0.9 3.2 0.9 4 1.7 10 1.5 12.5 1.2 14.2 0.9 15.9 0.6 17.1 0.2 17.1-0.2 15.9-0.5 14.7-0.9 12.8-1.1 10-0.7 4.7-0.8 3.5-0.7 2.7-1 2.4-0.9 1.3-0.6 0.4-0.3 0.1-0.8-0.4-0.7-1-0.8-1.6-0.5-1.8-0.7-3-0.6-3.3-1.1-7.9-0.9-10-0.7-12.4-0.7-15.3-0.4-17.1-0.4-20.1-0.1-18.2 0.1-15.4 0.4-12.9 0.6-10.1 0.9-7.9 0.6-3 0.5-2.2 0.8-1.9zM154.8 226.3l0.5-0.2 0.4 0 0.4 0.2 0.6 0.6 0.9 1.6 0.7 2 1 3.3 0.8 3.7 0.8 5 0.8 5.2 1.3 12 1.1 14.9 0.8 15.4 0.4 17.1 0.2 17.1-0.2 15.9-0.6 14.1-0.8 12.4-1.3 10.8-0.7 4.4-0.7 3.1-0.8 2.8-0.9 2.2-0.8 1.1-0.4 0.3-0.5 0.1-0.8-0.2-0.7-0.9-0.8-1.6-0.7-2.3-0.8-3.3-0.5-3.1-1.1-8.1-0.9-10.6-0.7-12.4-0.6-15.3-0.4-17.1-0.2-19.5 0-17.6 0.3-15.4 0.5-12.3 0.7-10.1 1.1-7.9 0.5-2.7 0.8-2.5 0.7-1.5zM131.6 227.5l0.4-0.4 0.4-0.1 0.4 0.1 0.5 0.3 1 1.4 0.9 2.2 0.9 3.3 0.8 3.5 1.4 9.1 1.2 11.8 1 14.2 0.8 15.9 0.4 17.1 0.1 17.1-0.3 16.5-0.5 14.2-0.9 12.9-1.2 10.3-0.7 4.6-0.8 3.4-0.7 2.6-0.9 2.3-0.8 1.1-0.4 0.3-0.5 0.2-0.8-0.2-0.7-0.9-0.8-1.4-0.7-2.2-0.7-3-0.6-3-1.1-8.2-1-10.4-0.7-12.6-0.6-14.7-0.3-15.9-0.2-18.9 0.1-17.7 0.4-15.3 0.6-12.8 0.8-10.2 1.1-8 0.5-2.9 0.8-2.8 0.7-1.8zM86.5 228.1l0-0.3 0.6 0.2 0.9 1 0.9 2.2 0.8 2.5 0.7 3.4 0.7 3.9 1.1 10.1 1 12.3 0.6 14.2 0.5 16.5 0.1 17.1-0.1 17.1-0.5 15.9-0.6 13.6-0.9 11.4-1.1 9.2-0.8 4.2-0.7 3.3-0.8 2.3-0.7 1.7-0.8 1-0.3 0.3-0.6 0.2zM108.6 228.1l0.5-0.4 0.3-0.1 0.4 0.1 0.6 0.3 0.9 1.4 0.8 1.9 0.7 2.5 0.8 3.7 0.7 4.1 0.7 5.4 1.2 11.4 0.9 14.5 0.6 15.9 0.3 17.1 0.1 17.7-0.4 17.1-0.6 14.7-0.9 12.4-1.2 9.9-0.7 4.4-0.7 3.3-0.8 2.5-0.9 2.1-0.8 1-0.3 0.3-0.6 0.1-0.8-0.3-0.7-1-0.7-1.5-0.8-2.3-1.3-6.2-1.1-8.3-0.9-10.6-0.8-12.9-0.5-14.7-0.3-15.9 0-17.7 0.2-17.1 0.5-14.7 0.7-12.9 0.9-10.6 1.1-7.9 0.6-2.8 0.7-2.8 0.8-1.9z"/>
<path fill="#48cb86" d="M818.6 141.4l0.2-0.1 0.2 0.1 0.6 0.8 1.3 3.4 1.8 6.4 2.1 8.2 2 9.3 2.1 10.1 2 11 1.9 10.9 0 44.3-8-52.3-4.3-29.4-1.1-8.7-0.8-7-0.2-4.6 0-1.8zM795.8 145.5l0.2-0.4 0.2 0.1 0.4 0.4 0.8 1.5 0.9 2.6 2 7.2 2.3 9.2 2.4 11.2 2.2 11.6 2.3 12.7 2 13 1.9 13.3 1.5 11.9 1.3 12.2 0.9 10.4 0.8 11.1 0.2 8.2-0.1 5.3-0.3 1.7-0.4 0.5-0.2 0-0.3-0.6-0.8-2.1-0.9-3.9-1-4.6-2.4-14.2-3.5-23.1-7.1-48-3.6-25.4-1.6-14.7-0.3-4.7zM773.4 149.1l0.4 0.3 0.8 1.4 1.7 4.9 2 7.6 2.4 10.4 2.3 10.8 2.2 12 2.1 12.2 2 13.6 1.7 12.5 1.5 12.6 1.1 11.1 1 11.4 0.6 10.1 0.2 8.8-0.2 5.9-0.3 1.5-0.3 0.7-0.4-0.1-0.4-0.7-0.7-2.2-1-4-1.3-6.9-3-18.7-4.6-32.1-6.2-43.4-2.8-21.4-0.9-8.3-0.4-5.3 0-3.5 0.2-0.9zM750.5 153.2l0.2-0.1 0.2 0 0.7 1.1 0.8 1.8 0.9 2.8 2.1 7.3 2.4 10.3 2.4 11.7 2.3 12.1 2 12.3 2.1 13.8 1.6 12.7 1.5 13 1.3 13.7 0.9 10.7 0.5 10.6 0.2 8.9-0.3 5.9-0.3 1.8-0.4 0.6-0.2 0-0.4-0.4-0.7-2-0.9-3.7-1-4.8-2.4-14.9-3.5-24.6-7.9-56.9-3-23.1-0.9-8.6-0.5-6.1-0.1-4.1 0.2-1.2zM727.8 157.3l0.1-0.1 0.4 0.1 0.6 0.8 0.7 1.7 1 2.7 2.2 8 2.4 10.3 2.4 11.9 2.3 12.3 2.2 13.8 1.9 13 1.7 13.3 1.5 13.8 1.1 12.4 0.9 12.8 0.4 10.6 0 8.8-0.1 3.6-0.3 2.3-0.4 1.4-0.3 0.3-0.2-0.1-0.4-0.5-0.7-2.1-1-3.9-0.9-4.9-2.4-15.4-3.4-24.3-7.6-57.4-3-23.9-1-8.9-0.4-5.9-0.1-4.1 0.2-1.8zM705 161.5l0.2-0.2 0.4 0 0.5 0.7 0.9 2.1 1 2.7 2.2 8.1 2.4 10.5 2.5 12 2.2 12.6 2.2 14.2 1.9 13.4 1.7 14 1.3 12.7 1.1 13.3 0.8 12.4 0.4 11.2-0.1 8.8-0.1 3.3-0.4 2.6-0.4 1.4-0.4 0.3-0.5-0.6-0.8-2.1-0.9-3.9-0.9-5-2.3-14.6-3.3-25-7.7-59.5-2.8-23.3-0.9-9.2-0.5-6.5 0-4.1 0.1-1.6zM682.3 165.6l0.3-0.2 0.2 0 0.7 1 1 2.1 0.9 2.7 2.2 8.2 2.5 10.6 2.4 12.2 2.2 12.9 2.1 13.3 1.9 13.8 1.6 14.5 1.3 13.5 1 12.1 0.7 12.8 0.4 12-0.2 8.8-0.2 3.5-0.3 2.4-0.4 1.5-0.4 0.3-0.4-0.2-0.3-0.6-0.8-2.2-0.7-3.2-1-5-2-13.5-3-22.9-7.8-63.2-2.8-24-1-9.7-0.5-7 0-4.2 0.1-1.4zM659.6 169.7l0.2-0.2 0.2 0 0.4 0.3 0.4 0.6 0.9 2 0.9 2.7 2.3 8.1 2.4 10.6 2.4 12.4 2.3 13 2 13.6 1.9 14.3 1.5 13.3 1.3 14.2 1 13.6 0.6 13 0.3 11.8-0.2 8.8-0.3 3-0.3 2.5-0.4 1.4-0.2 0.4-0.3 0.2-0.4-0.2-0.4-0.7-0.7-2.2-0.8-3.2-0.9-5.1-2-14-3-23.8-7.7-64.2-2.6-23.5-0.9-9.7-0.3-6.5 0-4.1 0.1-1.3zM636.9 173.8l0.2-0.1 0.4 0 0.7 1 0.9 2.1 1 2.8 2.2 8.2 2.4 10.8 2.3 11.5 2.2 13.3 2.1 14 1.8 14.8 1.5 14 1.2 13.8 0.9 12.9 0.5 13 0.2 11.2-0.2 9.4-0.3 3.8-0.4 2.4-0.4 1.3-0.2 0.4-0.3 0.3-0.4-0.3-0.4-0.6-0.7-2.1-0.8-3.2-0.9-5.1-2.1-14.4-2.8-23.1-7.6-66.9-2.4-22.8-0.8-9.1-0.3-6.8 0-4.1 0.1-1.2zM614.1 178l0.2-0.2 0.4 0 0.7 0.9 1 2.1 0.9 2.7 2.2 8.1 2.5 10.9 2.2 11.7 2.2 13.6 2.1 14.4 1.7 13.7 1.5 14.6 1.1 13.6 0.8 13.5 0.5 12.4 0.1 11.8-0.3 9.1-0.3 3.9-0.4 2.7-0.4 1.3-0.2 0.4-0.4 0.4-0.3-0.1-0.4-0.5-0.8-2-0.7-3-0.9-5.1-1.9-13.1-2.6-22.2-7.5-67.9-2.4-23.9-0.8-9.1-0.4-7.7 0.1-4.7 0.2-1.2zM591.3 182.1l0.3-0.2 0.3 0 0.6 0.6 0.9 1.8 1 2.5 2.2 8 2.4 10.8 2.3 11.7 2.2 13.7 2.1 14.7 1.6 14.2 1.5 14.7 1 13.6 0.8 13.6 0.4 12.9 0 11.2-0.3 9.5-0.4 3.9-0.4 2.4-0.5 1.9-0.2 0.3-0.4 0.3-0.3-0.1-0.4-0.5-0.8-2-0.7-3.1-0.9-5.2-1.9-13.5-2.4-21.4-7.1-67.5-2.5-25.1-0.7-9.9-0.3-6.7 0.1-4.7 0.2-1.4zM568.5 186.2l0.3-0.3 0.2 0 0.4 0.1 0.3 0.5 1 1.8 0.9 2.5 2.2 7.9 2.5 10.9 2.2 11.9 2.2 14.1 1.9 13.7 1.7 14.7 1.3 14.2 1.1 14.7 0.7 13.6 0.3 12.4-0.1 11.8-0.5 9.4-0.3 3.5-0.5 2.5-0.5 1.8-0.6 0.6-0.4-0.1-0.3-0.5-0.8-2-0.7-3-1-5.2-1.8-13.8-2.3-20.6-6.9-68.8-2.2-24.4-0.7-9.7-0.2-7.1 0.1-4.7 0.2-1.6zM545.6 190.4l0.2-0.4 0.4-0.2 0.4 0.2 0.4 0.5 0.9 1.8 0.9 2.5 1.2 3.6 1.1 4.3 2.4 11 2.2 12.2 2.1 13.1 1.9 14.1 1.6 15.3 1.3 14.9 0.9 13.7 0.6 13.2 0.3 12.8-0.1 11.2-0.6 9.4-0.4 3.6-0.5 2.9-0.5 1.7-0.6 0.6-0.4-0.1-0.3-0.4-0.8-1.8-0.7-2.9-1-5.1-1.6-12.4-2.3-21.1-6.5-68.2-2.3-25.8-0.6-9.5-0.2-7.1 0.1-4.8 0.2-1.7zM523.1 193.9l0.4-0.1 0.3 0.2 0.8 1 0.9 2.1 0.9 2.8 2.3 8.3 2.2 10.6 2.1 11.5 2 13.6 1.9 14.9 1.5 14.4 1.2 14.4 0.8 14.8 0.5 12.9 0.1 12.4-0.2 11.2-0.7 9.4-0.4 3.3-0.6 2.6-0.5 1.4-0.6 0.4-0.4-0.1-0.3-0.5-1-2.5-0.7-3.3-0.9-5.5-1.9-15.1-2.6-26.8-5.6-62-1.9-23.5-0.5-9.8-0.1-6.5 0.2-4.2 0.4-1.7zM500 198l0.3-0.3 0.4-0.1 0.7 0.7 1 1.8 0.9 2.5 1.1 3.7 1.1 4.4 2.3 10.4 2.2 12.6 2.1 13.9 1.7 13.8 1.4 14.9 1.2 14.4 0.7 14 0.5 13.6 0 12.9-0.3 11.6-0.7 9.1-0.5 2.9-0.5 2.4-0.5 1.5-0.4 0.5-0.4 0.1-0.4-0.2-0.3-0.5-1-2.5-0.7-3.3-0.9-5.6-1.9-15.7-2.2-23.9-5.3-60.9-1.8-24.9-0.5-9.6-0.1-7.1 0.2-4.7 0.4-1.7zM477.4 201.6l0.3-0.2 0.4 0.2 0.8 0.9 0.9 2 0.9 2.6 1.2 3.9 1.1 4.5 2.2 10.8 2.1 12.1 1.8 13.1 1.7 14.3 1.4 14.7 1 14.7 0.7 14.2 0.3 13.6 0 12.4-0.4 10.6-0.8 8.8-0.5 3.2-0.6 2.4-0.5 1.3-0.4 0.5-0.4 0.1-0.4-0.2-0.3-0.5-1-2.5-0.9-4.3-0.9-5.9-1.9-16.7-2.6-29.9-4.3-53.4-1.7-24.9-0.3-9 0-7 0.3-4.4 0.4-1.4zM454.8 205.1l0.4 0.1 0.3 0.3 0.8 1.2 0.9 2.1 1.1 3.5 2.1 8.1 2.2 11.3 2.1 12.7 1.7 12.7 1.5 13.6 1.2 14.6 1 14.7 0.5 13.6 0.2 12.9-0.1 12.4-0.5 10.6-0.8 8.3-0.6 3.2-0.6 2.2-0.5 1.2-0.4 0.5-0.4 0.1-0.5-0.4-0.6-1-0.6-1.7-0.5-2.2-0.9-5.3-1.2-8.6-2-21.6-3.6-45.3-2.6-35.9-0.7-12-0.4-8.8-0.1-7.7 0.3-5.3 0.5-2.9 0.4-1zM431.3 209.2l0.4-0.4 0.3-0.1 0.4 0.1 0.4 0.4 0.9 1.6 0.9 2.4 1 3 1.1 4.2 2.2 10.6 2.1 12.1 1.9 13.6 1.5 13.4 1.3 15.2 0.9 14.1 0.6 14.7 0.2 13.6-0.2 12.4-0.5 10.6-0.9 8.8-0.5 3.2-0.8 2.9-0.5 1.2-0.4 0.5-0.4 0.1-0.3-0.2-0.6-0.7-0.9-2.6-1-4.4-0.7-4.8-1.7-15.3-2-25.1-4-55-1.5-25.5-0.3-9.8 0.1-7.1 0.3-4.7 0.3-1.9zM408.9 212.2l0.4-0.1 0.3 0.3 0.8 1 0.9 2 1 2.7 2 7.9 2.1 10.4 1.8 11.7 1.7 13 1.5 14.3 1.2 14.6 0.8 14.1 0.4 13.9 0.1 13.2-0.2 11.8-0.6 10.5-1 8.4-0.5 3.1-0.8 2.7-0.5 1.2-0.4 0.5-0.4 0.1-0.5-0.2-0.6-0.9-0.9-2.7-1.1-5.7-1-6.9-0.9-8.9-0.9-10.8-2.5-33.7-2.8-43.5-0.7-14-0.4-10 0-8.2 0.2-6.5 0.6-3.7 0.3-1zM385.7 215.7l0.3-0.2 0.3 0 0.8 0.6 0.9 1.6 0.9 2.5 1 3 1.1 4.4 2 10.1 1.9 11.6 1.7 13 1.5 14.7 1.1 14.5 0.7 13.9 0.5 14.1 0 12.9-0.3 12.4-0.6 10.6-1 8.5-0.6 3-0.8 2.6-0.5 1.2-0.4 0.5-0.4 0.2-0.5-0.2-0.6-0.7-0.9-2.6-0.9-4.3-1-6.2-0.8-7.3-0.9-9.5-2-28.6-2.8-46.2-0.8-14.7-0.4-12.4-0.1-9.4 0.2-6.9 0.5-4.6 0.4-1.3zM363 218.6l0.4 0 0.4 0.2 0.9 1.3 0.9 2.1 0.9 2.8 1 3.5 1.1 4.8 1.9 10 1.6 11.3 1.7 13.6 1.2 13.5 1 14.2 0.6 14.1 0.3 13.6 0 12.9-0.4 11.8-0.8 10.3-0.6 4.6-0.5 3.4-0.6 2.6-0.7 2.3-0.6 1-0.4 0.4-0.3 0.1-0.6-0.2-0.6-0.8-0.5-1.4-0.6-2-0.9-4.8-1-7.2-0.9-8.8-0.9-11.7-2.2-35.2-2.1-38.6-0.6-14.2-0.2-10 0.1-8.3 0.4-5.8 0.3-2.3 0.4-1.6 0.3-0.9zM339.5 222.2l0.4-0.4 0.3-0.2 0.4 0.1 0.4 0.3 0.9 1.5 1 2.2 0.9 3 0.9 3.6 2.1 10.1 1.8 12.1 1.5 12.3 1.3 13.8 1 14.1 0.7 14.7 0.3 13.6-0.1 13.5-0.4 11.8-0.7 10.2-0.6 4.9-0.5 3.6-0.6 2.8-0.7 2.5-0.8 1.6-0.4 0.4-0.3 0.1-0.6-0.1-0.6-0.7-0.9-2.4-0.9-4.1-1-6.1-0.8-7.9-0.8-9.3-1.7-25.5-2.3-43.4-0.6-15.6-0.3-12.4 0-10 0.3-7.1 0.5-4.7 0.4-1.7zM317 224.5l0.3 0 0.4 0.1 0.9 1.1 0.7 1.5 1 2.6 0.9 3.3 0.9 3.9 1.9 9.9 1.7 11.7 1.5 13.4 1.1 13.3 0.9 14.7 0.5 13.6 0.2 13.5-0.2 13-0.5 11.2-0.9 10.4-1.1 7.4-0.6 2.5-0.7 2.3-0.8 1.3-0.3 0.3-0.4 0.1-0.6-0.2-0.5-0.8-0.6-1.2-0.6-1.9-1.1-5.6-0.9-7.1-0.9-9.3-0.8-10.6-1.9-33.2-1.5-37.5-0.4-13-0.1-10.6 0.2-8.3 0.5-6.5 0.4-2.2 0.4-1.5 0.4-1zM293.6 227.5l0.4-0.3 0.3-0.1 0.8 0.5 0.7 1.1 1 2.2 0.9 2.9 0.9 3.7 1.9 9.5 1.7 11.4 1.5 13.3 1.1 13.4 0.8 14.3 0.5 14.2 0.2 13.5-0.2 13-0.5 11.8-1 10.6-1.1 7.5-0.6 2.4-0.7 2.3-0.8 1.4-0.3 0.4-0.4 0.1-0.6-0.1-0.5-0.7-0.6-1.1-0.6-1.7-1.1-5.2-0.9-6.5-0.8-8.2-0.8-10.7-1.6-27.6-1.5-38.4-0.3-14.1-0.1-11.8 0.1-8.9 0.5-7 0.7-4.8 0.4-1.3zM270.6 229.8l0.4-0.2 0.4 0 0.7 0.5 0.8 1.2 0.9 2.2 1 3.1 0.9 3.8 1.7 8.8 1.6 11.9 1.4 12.5 1.1 14 0.7 14.2 0.4 14.1 0.1 13.6-0.3 12.9-0.6 11.5-0.9 9.7-1.1 7.1-0.8 3-0.7 2.1-0.7 1.2-0.4 0.3-0.4 0.1-0.6-0.2-0.5-0.6-0.6-1.2-0.5-1.7-1.2-5.3-0.9-6.7-0.9-9.2-0.8-10.8-1.4-28.7-1.2-36-0.2-13.6 0-11.2 0.3-8.8 0.5-6.7 0.7-4.3 0.6-1.7zM247.4 232.2l0.5-0.4 0.4 0 0.7 0.4 0.8 1.1 0.9 2.2 0.9 3 0.8 3 1.6 8.8 1.5 10.6 1.4 12.6 1 14.1 0.8 14.8 0.4 14.1 0 13.6-0.3 12.9-0.6 11.2-1 10-1.1 7-0.7 3-0.8 2.1-0.7 1.3-0.8 0.5-0.4 0-0.3-0.3-0.6-0.7-0.6-1.2-0.5-1.7-1-4.6-1-6.5-0.8-8.5-0.8-10-0.7-13.3-0.6-14.2-0.7-18.9-0.4-17.1-0.1-14.1 0-11.2 0.4-8.9 0.5-7 0.4-3 0.5-2.2 0.6-1.7zM224.5 234l0.4-0.3 0.4 0 0.8 0.6 0.7 1.2 0.9 2.3 1 3.1 0.7 3.2 1.7 9.5 1.5 11.6 1.1 12.4 0.9 13.6 0.6 13.5 0.3 14.2-0.1 13.5-0.3 12.4-0.7 11.2-1 9.4-1.2 6.9-0.7 2.9-0.8 1.9-0.7 1.1-0.4 0.3-0.4 0.1-0.3 0-0.4-0.3-0.6-0.8-0.5-1.2-0.6-1.8-1.1-5.3-0.9-6.8-0.9-9.3-0.8-10.7-0.6-12.3-0.6-16-0.5-17.1-0.2-15.9-0.1-13.5 0.3-11.2 0.4-8.9 0.7-7 0.4-2.4 0.5-2 0.6-1.4zM201.4 235.7l0.4-0.3 0.4 0 0.7 0.5 0.8 1.1 0.9 2.3 0.9 3.2 0.8 3.3 1.5 8.7 1.3 10.5 1.1 12.4 0.9 13.8 0.5 14.1 0.3 14.7-0.1 13.6-0.5 13-0.7 10.6-1 8.9-0.5 3.6-0.8 3.6-0.7 2.6-0.8 1.8-0.7 1-0.4 0.3-0.4 0-0.7-0.4-0.6-0.8-0.5-1.3-0.6-1.7-1.1-5.4-0.9-6.9-0.9-8.9-0.7-11.2-0.7-13.5-0.4-14.8-0.4-16.5-0.2-15.3 0.1-13 0.3-11.2 0.5-8.8 0.7-6.5 0.6-2.9 0.4-1.8 0.5-1.3zM178.6 236.9l0.4-0.1 0.4 0.1 0.8 0.8 0.7 1.4 0.8 2.1 0.7 2.7 0.7 3.4 1.5 9.2 1.3 11.1 1 12.3 0.7 13.6 0.5 13.6 0.1 14.1-0.1 13.6-0.5 11.8-0.7 10.9-1 9.1-1.3 6.8-0.7 2.6-0.8 1.9-0.7 1.1-0.7 0.3-0.4 0-0.4-0.3-0.6-0.7-0.7-1.7-0.6-1.8-1.1-5.4-0.9-6.9-0.9-9.4-0.7-11.2-0.6-13.6-0.4-15.4-0.3-16.4 0-14.8 0.2-12.9 0.4-10.7 0.6-8.2 0.9-6.9 0.6-2.5 0.6-1.8 0.5-1.1zM155.3 238.1l0.4-0.2 0.4 0.1 0.7 0.5 1 1.7 0.7 2.1 0.8 2.8 0.7 3.5 1.3 8.5 1.1 10.3 1 12.4 0.6 13.7 0.4 14.2 0.1 14.7-0.2 13.6-0.5 12.3-0.8 10.6-0.9 8.3-0.6 3.5-0.7 3.4-0.8 2.5-0.7 1.7-0.8 1-0.4 0.2-0.3 0.1-0.8-0.4-0.5-0.8-0.8-1.7-0.5-1.9-1.2-5.5-0.9-7.4-0.9-9.4-0.7-11.2-0.5-13-0.3-14.7-0.2-15.4 0.1-14.7 0.2-13 0.5-10.6 0.7-8.2 0.9-6.8 0.6-2.7 0.5-1.9 0.6-1.3zM109.3 239.3l0.7 0 0.8 0.7 0.7 1.5 0.7 2.2 1.4 5.9 1.1 8.5 1 10.7 0.7 12.3 0.5 13.6 0.3 14.7-0.1 14.2-0.3 13.5-0.6 12.4-0.8 10.3-1 8.6-1.2 6-0.8 2.5-0.7 1.7-0.8 0.9-0.7 0.3-0.8-0.4-0.5-0.8-0.8-1.7-0.6-2-1.2-6.2-1-7.4-0.8-10-0.6-11.4-0.5-13.4-0.2-14.1 0-14.8 0.3-14.1 0.5-12.4 0.7-10.6 0.8-8.3 1.2-6.7 0.5-2.3 0.8-2.1 0.7-1.3zM131.8 239.3l0.8-0.6 0.4 0.1 0.3 0.2 0.8 0.8 0.7 1.6 0.8 2.4 0.7 3.1 1.4 8.3 1.1 10 0.9 12.4 0.7 14.1 0.4 14.2 0.1 14.7-0.3 14.2-0.5 12.9-0.8 10.7-1 8.8-1.2 6.7-0.8 2.6-0.7 1.8-0.8 1.1-0.7 0.3-0.8-0.3-0.5-0.7-0.8-1.6-0.5-1.7-1.2-5.2-1-7.1-0.8-9.3-0.7-10.2-0.5-12.4-0.3-14.1-0.1-14.7 0.1-14.8 0.3-13 0.5-11.2 0.7-8.6 0.9-7.4 0.6-3 0.5-2.2 0.6-1.6zM86.5 239.9l0-0.5 0.4 0.1 0.5 0.4 0.4 0.6 0.8 1.6 0.7 2.5 1.2 6.5 1 8.4 0.9 10.4 0.6 12.4 0.4 13.6 0.1 14.7-0.1 14.2-0.4 13.5-0.6 12.4-0.9 10-1 8.3-1.2 5.8-0.6 1.9-0.7 1.8-0.8 1-0.7 0.3z"/>
<path fill="#9fc942" d="M642.9 210.4l0.2 0 0.3 0.4 1 2.5 1.1 4.4 1.1 5.4 2.4 14.3 2.1 15.7 1.5 15.2 0.8 14 0.2 5.9-0.1 4.3-0.3 2.8-0.3 0.6-0.1 0.1-0.2-0.1-0.4-0.7-0.6-1.9-1.5-7.9-1.8-13-2.3-18.3-2-18.9-1.1-12.5-0.5-8.8 0.1-2.3 0.2-0.9zM666.1 210.4l0.1-0.4 0.2-0.2 0.3 0.5 0.4 0.8 1 3.2 1.1 4.9 2.2 12.4 2.1 14.6 1.5 13.8 1 13.5 0.2 5.9 0 4.1-0.3 2.8-0.2 0.5-0.2 0.1-0.4-0.5-0.5-1.7-1.3-6.5-1.7-11.1-1.9-14.3-1.8-16-1.3-13-0.6-8.7-0.1-2.9zM689.7 210.4l0.2-0.2 0.2 0.2 0.7 1.8 1.7 7.1 1.9 10.6 1.6 11.7 1.3 11.5 1 11.5 0.2 4.7 0.1 4.2-0.1 2-0.2 0.9-0.2 0.1-0.4-0.5-0.5-1.8-1.2-5.6-1.5-9.5-1.8-13.9-1.7-14.2-1.1-11.2-0.4-6.5 0-1.7zM619.5 211.6l0.2-0.2 0.2 0.2 0.4 0.6 0.9 2.6 1.1 4.3 1.3 6.3 2.5 14.4 2.2 17.5 1.5 16.2 0.6 7.9 0.3 8 0.1 5.9-0.1 4.7-0.3 3.1-0.2 0.7-0.2 0.3-0.2 0-0.2-0.1-0.4-0.7-0.7-2.5-1.5-8.2-1.9-13.5-2.2-19-2-19.5-1.4-14.9-0.3-5.9-0.2-4.1 0.2-2.9zM713.4 212.8l0.2-0.6 0.2 0.1 0.3 0.8 1.3 5.1 1.5 8.2 1.5 10 1.3 11.1 0.8 8.8 0.2 6-0.2 1.7-0.2 0.2-0.4-0.7-0.4-1.3-0.9-4.6-1.1-6.8-1.3-9.2-2.2-18.9-0.6-7zM596.1 213.3l0.3-0.4 0.4 0.3 0.9 2 1.3 4.7 1.3 6 1.5 8.2 1.3 8.4 1.1 8.2 1.2 9.5 0.9 9.3 0.7 9.3 0.8 15.3 0.1 7.1-0.1 5.3-0.4 3.6-0.2 0.7-0.3 0.7-0.2 0-0.4-0.5-0.6-1.5-0.7-3.2-0.8-4.2-1.8-13.2-2.1-17.6-2.6-25.2-1.5-17.4-0.5-10.6 0.1-3zM572.8 215.1l0.3-0.4 0.2 0 0.3 0.3 1 2.1 1.3 4.6 1.5 6.8 1.5 8.3 1.3 8.5 1.3 9.9 1.1 9.9 0.9 10.1 0.7 8.9 0.5 8.8 0.2 8.3 0 7-0.2 5.8-0.5 3.1-0.3 0.8-0.4 0.2-0.5-0.7-0.8-2.3-0.7-3.6-0.8-4.5-1.8-14.2-2.3-20.3-2.4-24.9-1.3-16.4-0.5-10.8 0.1-3.5zM549.8 216.9l0.3-0.2 0.6 0.6 1.1 2.9 1.3 4.9 1.5 7.1 1.5 8.6 1.3 8.8 1.1 8.8 1.2 10.3 0.8 10.1 0.7 8.8 0.4 9.4 0.3 8.3-0.1 7.7-0.2 5.9-0.5 3.5-0.3 1.3-0.4 0.5-0.2 0-0.4-0.4-0.7-2-0.8-3.3-0.9-5.5-1.9-14.5-2.2-21.2-2.4-26.2-1.3-17.7-0.4-7.1 0-4.7 0.2-3.5zM737.8 218.6l0.2-0.5 0.8 2.5 0.9 4.8 0.9 6.1 0.8 5.9 0.5 5.9 0.2 3.1-0.2 1.2-0.1-0.2-0.2-0.5-0.6-2.5-1.5-9.2-1.3-10.6zM526.5 219.2l0.3-0.4 0.2 0 0.4 0.4 0.5 1 0.6 1.4 1.5 5.5 1.5 7 1.5 8.6 1.3 8.8 1.3 10.4 1.1 10.8 0.9 10.8 0.6 9.4 0.4 9.5 0.2 8.8-0.2 7.7-0.3 5.9-0.3 2.1-0.4 1.8-0.3 0.8-0.4 0.2-0.6-0.6-0.7-2.2-0.8-3.4-0.9-5.8-1.9-15.1-2-20.4-2.4-27.5-1.3-18.4-0.3-6.5-0.1-5.3 0.2-3.3zM503.3 221.6l0.4-0.5 0.2 0 0.3 0.3 0.6 1 0.6 1.4 1.5 5.3 1.4 7 1.5 8.5 1.3 8.8 1.4 10.6 1.1 10.9 0.9 10.9 0.6 10.1 0.3 9.8 0.2 9-0.2 7.7-0.4 6.5-0.6 4.1-0.5 1.4-0.3 0.4-0.4-0.2-0.4-0.6-0.7-2.2-0.8-3.5-0.7-4.5-1.7-13.6-2-20.8-2.5-28.5-1.4-20.4-0.3-7.1 0-5.9 0.1-3.5zM480.1 224l0.4-0.6 0.4 0.1 0.6 0.8 0.7 1.7 1.5 5.2 1.5 6.9 1.5 8.5 1.5 10.3 1.3 11 1 10.3 0.9 11.2 0.5 10.5 0.4 10.1 0 8.9-0.2 8.1-0.5 6.6-0.6 3.9-0.4 1.2-0.2 0.3-0.3 0.3-0.4-0.1-0.4-0.6-0.7-2.1-0.8-3.5-0.7-4.5-1.7-13.8-2.1-21.8-2.2-27.9-1.4-21.6-0.2-7.7-0.1-5.6 0.2-3.8zM456.9 226.3l0.5-0.5 0.6 0.2 0.5 0.9 0.8 1.9 1.5 5.3 1.5 7.1 1.5 8.7 1.4 10.7 1.2 9.9 1 11.2 0.8 11.2 0.5 10.6 0.3 10.1 0 9.4-0.2 7.7-0.6 6.6-0.7 4.4-0.4 1-0.5 0.7-0.4-0.1-0.4-0.5-0.7-1.9-0.8-3.3-0.9-5.7-1.7-14.5-1.9-20.9-2.2-29.8-1.2-20.9-0.2-7.1 0-5.9 0.2-4.1 0.3-1.5zM433.8 228.7l0.5-0.6 0.5 0.3 0.6 0.8 0.7 1.8 1.5 5.3 1.7 8 1.5 9.1 1.3 9.6 1.3 11.6 1 11.2 0.7 11.2 0.4 10.7 0.2 10-0.1 9.4-0.3 7.9-0.6 6.3-0.4 2.3-0.5 2.2-0.4 0.9-0.5 0.4-0.4-0.1-0.4-0.6-0.7-2-0.8-3.4-0.9-5.8-1.7-15.1-1.9-22.2-2-29.5-1.1-20.9-0.1-7 0.1-5.9 0.3-3.6 0.2-1.5zM410.7 231l0.4-0.5 0.6 0.3 0.6 0.8 0.7 1.7 1.5 5.1 1.7 8.1 1.5 9.1 1.3 9.9 1.1 10.5 1 12.2 0.7 11.2 0.4 11.2 0.1 10.6-0.1 9.5-0.4 8.2-0.8 6.6-0.3 2-0.6 1.9-0.4 0.7-0.5 0.3-0.4-0.2-0.4-0.5-0.7-2.1-1-4.3-0.7-4.9-0.8-6.2-0.9-9.4-1.9-23.5-1.8-29.2-0.9-20.2-0.1-7.7 0.1-5.3 0.4-3.5 0.3-1.7zM387.5 233.4l0.5-0.5 0.6 0.2 0.5 0.8 0.8 1.6 1.5 5.1 1.6 8.1 1.5 9.3 1.3 10.2 1.2 11 0.9 11.4 0.6 10.6 0.3 11.2 0.1 10.6-0.1 9.4-0.5 8.3-0.7 6.5-0.8 4.3-0.6 1.4-0.5 0.5-0.4-0.1-0.4-0.3-0.6-1.2-0.3-1.2-1-4.2-0.7-4.9-0.7-6.2-1-9.7-1.7-22.1-1.7-28.9-0.5-11.7-0.3-10.1-0.1-7.6 0.2-5.9 0.4-3.8zM364.8 235.2l0.3-0.1 0.3 0.3 0.6 0.7 0.7 1.7 0.8 2.2 1.5 6.1 1.5 8.2 1.3 9 1.2 10.8 1 10.9 0.7 10.9 0.6 11.2 0.2 10.6 0 10-0.3 9.4-0.6 8.3-0.8 5.7-0.4 2-0.5 1.6-0.6 1-0.5 0.3-0.4-0.2-0.6-0.8-0.9-3-0.9-4.9-0.8-5.5-0.8-8-0.9-9.7-1.8-28.2-1.3-26.8-0.3-10.2-0.1-8.2 0.1-6.5 0.4-4.7 0.5-3 0.3-0.6zM341.4 237.5l0.5-0.2 0.4 0.3 0.4 0.4 0.5 1 0.8 2 1.5 5.6 1.5 7.7 1.3 8.7 1.3 11.1 0.9 10.6 0.8 11.8 0.5 11.2 0.3 11.2-0.1 10.6-0.3 9.4-0.6 8-0.9 6.2-0.4 2.2-0.6 1.7-0.6 1-0.5 0.3-0.6-0.3-0.4-0.6-0.9-2.8-0.9-4.7-0.8-5.4-0.8-7.4-0.8-10-1.5-23.7-1.3-28-0.4-11.4-0.1-8.8 0.1-7.1 0.4-5.1 0.5-3.7 0.4-1.1zM318 239.9l0.6-0.5 0.6 0.3 0.7 1.1 0.8 1.8 1.4 5.3 1.5 7.7 1.3 8.7 1.3 10.9 1 11 0.7 11.4 0.5 11.8 0.2 11.2-0.1 10.4-0.4 9.5-0.6 7.8-0.9 6.5-0.5 2.5-0.6 1.7-0.6 1-0.5 0.3-0.5-0.2-0.4-0.6-1-2.5-0.9-4.5-0.8-5.2-0.7-6.7-0.8-8.7-1.4-23.5-1.3-28.4-0.3-11.2-0.1-9.5 0.2-7.6 0.3-5.9 0.6-3.9 0.4-1.3zM295 241.6l0.3-0.1 0.4 0 0.5 0.4 0.8 1.3 0.7 1.9 1.5 5.8 1.3 7 1.3 9.1 1.1 10.2 1 11.2 0.6 11.6 0.4 11.2 0.2 11.2-0.2 10-0.4 9.5-0.6 8.2-1 6.5-0.5 2.4-0.6 1.7-0.6 0.9-0.5 0.4-0.6-0.2-0.3-0.4-0.6-1.2-0.4-1.3-0.9-4-0.9-6.4-0.8-7-0.7-9.1-1.4-24.2-1.1-27.7-0.2-10.6 0.1-9.4 0.1-7.1 0.5-5.9 0.7-4 0.3-1.1zM271.9 243.4l0.2-0.1 0.4 0 0.8 0.7 0.5 1.1 0.8 2 1.5 5.9 1.3 7.2 1.2 9.1 1 10.1 0.9 11.6 0.6 11.4 0.4 11.7 0 10.7-0.2 10.6-0.4 8.8-0.7 7.7-1 6.5-0.5 2-0.6 1.6-0.5 1-0.4 0.4-0.4 0.1-0.6-0.3-0.5-0.9-0.9-2.7-1-4.7-0.7-5.4-0.8-7.3-0.7-9.6-1.3-24.7-0.8-26.8-0.1-11.2 0.1-8.8 0.3-7.1 0.5-5.2 0.7-3.8 0.4-0.9zM248.6 245.2l0.6-0.2 0.4 0.1 0.3 0.4 0.6 1 0.7 1.9 0.8 2.5 0.7 3.2 1.3 7.3 1.3 9.1 1 10.4 0.7 10.3 0.6 11.7 0.3 11.2 0.1 11.2-0.3 10.7-0.5 9.3-0.7 7.9-1 5.9-0.5 2.4-0.6 1.6-0.5 1.1-0.4 0.4-0.4 0.1-0.5-0.2-0.6-0.7-0.9-2.5-1-4.4-0.9-6.6-0.8-7.5-0.7-9.8-1.1-23-0.7-25.9 0-10.6 0.1-9.5 0.4-7.6 0.6-5.7 0.7-3.7 0.4-1zM225.2 246.9l0.5-0.4 0.4 0 0.3 0.2 0.6 0.7 0.7 1.6 0.8 2.3 0.7 3 1.3 7 1.3 9.2 1 10.3 0.7 10.9 0.6 11.8 0.3 11.8 0 11.2-0.3 10.6-0.6 9.5-0.8 8.2-1 6-0.6 2.1-0.6 1.5-0.5 0.9-0.4 0.4-0.4 0-0.5-0.2-0.6-0.8-0.9-2.6-1-4.4-0.8-5.8-0.7-7.1-0.7-9.2-0.6-10.8-0.5-12.4-0.4-13.6-0.1-12.4 0-10.6 0.2-9.4 0.3-7.1 0.6-5.9 0.7-3.9 0.4-1.4zM202.1 248.1l0.3-0.2 0.3-0.1 0.6 0.3 0.6 0.7 0.7 1.7 1.3 4.7 1.3 7.1 1.1 8.6 1 10.2 0.7 11.2 0.6 12.4 0.2 11.8-0.1 11.2-0.3 10.6-0.6 9.2-0.8 7.9-1 6-0.6 2.2-0.6 1.5-0.5 0.9-0.4 0.4-0.4 0.2-0.5-0.2-0.6-0.7-0.9-2.4-1-4-0.9-6.3-0.7-7.3-0.7-9.7-0.6-10.7-0.4-11.7-0.3-13-0.1-12.4 0.1-11.2 0.2-9.4 0.5-7.7 0.7-5.9 0.8-3.7 0.5-1.5zM178.8 249.3l0.2-0.3 0.4-0.1 0.6 0.2 0.5 0.7 0.8 1.5 0.7 2.4 0.6 2.3 1.3 7.2 1.1 9.1 0.9 10.6 0.7 11.2 0.4 11.8 0.2 11.8-0.1 11.2-0.4 10.6-0.7 9.4-0.8 7.6-1.1 6.1-0.6 2-0.5 1.3-0.6 0.9-0.4 0.3-0.3 0.1-0.6-0.3-0.6-0.7-0.9-2.4-1-4.3-0.9-6.4-0.7-7.3-0.7-9.8-0.5-10.7-0.4-11.7-0.2-12.4 0-12.4 0.1-10.6 0.4-9.2 0.5-7.9 0.7-5.3 0.8-4.2 0.6-1.6zM155.8 249.9l0.7-0.1 0.5 0.5 0.8 1.3 0.5 1.4 0.8 2.8 0.5 2.6 1.2 7.1 0.9 8.3 0.8 10.3 0.6 11.2 0.3 11.8 0.1 11.8-0.2 11.2-0.3 10-0.7 9.4-0.9 7.7-1 5.6-0.6 2-0.5 1.5-0.6 0.9-0.4 0.3-0.3 0.2-0.6-0.2-0.6-0.6-0.5-1.2-0.6-1.7-0.9-4.2-0.9-6.5-0.8-7.9-0.7-10-0.4-10.6-0.4-12.4-0.1-13 0.1-11.8 0.3-10.6 0.4-8.8 0.7-7.1 0.8-5.9 0.4-1.9 0.6-1.8 0.5-1.1zM132.7 250.5l0.6 0 0.6 0.5 0.7 1.4 0.6 1.7 1.1 4.8 1.1 7.4 1 9.2 0.7 10.3 0.5 11.2 0.2 11.8 0 11.8-0.2 11.2-0.5 10.5-0.6 8.4-0.9 7.1-1.1 5.8-0.6 1.8-0.5 1.4-0.6 0.8-0.4 0.3-0.3 0.1-0.6-0.2-0.5-0.7-0.6-1.2-0.6-1.8-1-5.2-0.9-6.4-0.7-7.7-0.6-10-0.4-11.2-0.3-11.8 0-12.4 0.1-11.2 0.4-10.6 0.5-8.8 0.7-7.2 0.9-5.9 0.6-2.3 0.6-1.6 0.5-0.9zM86.5 251.1l0-0.2 0.2 0 0.4 0.3 0.5 0.7 0.8 1.7 0.5 2 1 4.9 0.9 7.3 0.7 9.2 0.6 10 0.3 11.8 0.1 11.8-0.1 11.8-0.4 11.2-0.5 9.6-0.7 8.9-0.9 6.8-1 4.9-0.5 1.9-0.6 1.3-0.6 0.9-0.3 0.3-0.4 0.1zM109.1 251.1l0.3-0.2 0.4-0.1 0.6 0.3 0.7 1.1 0.6 1.5 1.1 4.5 1.1 7 0.8 8.3 0.7 10 0.5 11.2 0.2 12.4 0 11.8-0.2 11.8-0.5 10.6-0.6 8.8-0.9 7.3-1.1 6-0.6 2-0.5 1.4-0.6 0.9-0.3 0.4-0.4 0.1-0.6-0.1-0.5-0.7-0.6-1.1-0.6-1.6-1-4.6-0.9-6.5-0.8-8.2-0.6-9.4-0.4-10.7-0.2-11.2 0-11.7 0.2-11.8 0.4-10.6 0.5-9.1 0.8-7.7 0.9-6.1 1-3.8 0.5-1.3z"/>
<path fill="#eaba31" d="M413.2 254l0.2-0.3 0.4 0 0.3 0.4 0.4 0.8 0.9 3.2 1 4.6 0.9 5.9 0.7 5.8 1.3 14 0.8 14 0.1 6.4-0.1 5.9-0.2 5.3-0.4 3.7-0.5 2.5-0.2 0.3-0.4 0.2-0.5-0.7-0.6-1.8-1.1-6.3-1.3-11.6-1.1-13.8-1-15.5-0.3-11.2 0.1-8.2 0.2-2zM436.7 254l0.2-0.4 0.2 0 0.2 0 0.5 1 0.8 2.4 0.9 4.4 1.5 9.9 1.3 13.4 0.8 12.9 0.2 11.8-0.1 4.7-0.3 3.9-0.4 2.1-0.2 0.5-0.4 0.4-0.3-0.2-0.6-1.4-0.6-2.5-0.5-3.3-1.1-9.1-1.2-12.3-0.9-13.6-0.6-12.8 0.1-7.7 0.1-2.4zM389.7 254.6l0.4-0.5 0.3 0.1 0.8 1.3 0.9 3.2 0.9 4.5 1 5.8 0.9 7.3 0.8 7.5 0.5 7.2 0.7 14.9 0.1 7.1-0.1 5.9-0.3 5.3-0.4 3.9-0.5 2.7-0.4 0.7-0.4 0.2-0.6-0.7-0.5-1.7-0.6-2.5-0.7-4.8-1.1-10.2-1.2-14-0.9-16.1-0.4-13.5 0.1-8.9 0.3-2.9zM460.2 254.6l0.2-0.4 0.2-0.2 0.2 0.1 0.3 0.6 0.8 2.4 0.7 3.4 1.5 9.7 1.2 10.9 0.8 11.8 0.2 10.6-0.1 4.7-0.2 3.6-0.4 2-0.4 0.6-0.3-0.3-0.6-1.6-0.9-4.8-1.1-8.9-1-9.8-0.9-12.7-0.5-10.5-0.1-7.7 0.2-2.3zM366.3 255.2l0.2-0.4 0.4 0 0.4 0.3 0.6 1.2 0.9 3.1 1.1 5.5 0.9 6 1 7.7 0.7 7.8 0.5 7.1 0.4 8.3 0.3 7 0 7.1-0.1 6.5-0.3 5.4-0.6 4.9-0.6 2.3-0.3 0.7-0.4 0.3-0.6-0.6-0.5-1.4-0.8-3.3-0.5-3.6-1.3-11.8-1.2-14.8-0.9-17.6-0.3-13.6 0-5.3 0.2-4.1 0.3-2.8zM343.1 255.8l0.3-0.2 0.4 0.2 0.4 0.5 0.5 1.4 1 3.3 1.1 5.7 0.9 6.3 0.8 6.4 0.7 7.9 0.6 8 0.3 7.7 0.2 8.2 0.1 7.7-0.2 6.4-0.4 5.9-0.5 4.2-0.7 3.2-0.3 0.8-0.4 0.3-0.4-0.1-0.4-0.5-0.7-2.2-0.7-3.7-0.6-3.7-1.3-12.4-1-15.3-0.9-18.3-0.2-14.2 0.1-5.3 0.3-4.2 0.4-2.5 0.2-0.9zM484 255.8l0.1-0.3 0.2 0 0.5 0.9 0.6 2 0.6 2.7 1.1 7.1 1.1 10.2 0.7 10.4 0.3 8.2 0 4.2-0.2 2.9-0.2 1.6-0.2 0.5-0.2 0.2-0.4-0.4-0.4-1.1-0.9-4.9-0.9-7.3-1-9.5-0.7-9.9-0.4-8.7-0.1-5.9 0.1-1.7zM319.5 257l0.4-0.4 0.4 0 0.4 0.4 0.5 1.1 0.9 3 1.2 5.4 0.9 6 0.9 7.8 0.8 8.2 0.5 8.5 0.4 8.3 0.2 8.3 0 7.6-0.3 7.1-0.4 6.5-0.6 4.3-0.8 2.9-0.3 0.7-0.4 0.2-0.4-0.1-0.3-0.5-0.8-2.1-0.7-3.6-0.6-3.8-1.1-11-1.1-16-0.8-18.2-0.3-15.3 0.2-5.9 0.3-4.7 0.4-3zM296.5 257.6l0.5 0 0.5 0.7 0.9 2.4 1.2 4.8 0.9 5.4 0.9 7.1 0.8 7.4 0.6 7.5 0.4 8.3 0.3 8.2 0.1 8.3-0.1 7.1-0.3 7-0.5 5.4-0.6 4.7-0.8 2.9-0.4 0.7-0.4 0.2-0.4-0.1-0.3-0.5-0.8-2-0.7-3.4-0.8-5.1-0.7-6.9-0.6-7-1-17.2-0.6-18.2 0-8.3 0-6.5 0.3-5.3 0.4-4 0.5-2.6 0.4-0.8zM272.9 258.7l0.4-0.2 0.5 0.3 0.6 0.9 0.5 1.4 1.2 4.4 0.9 5.2 0.9 6.9 0.8 7.3 0.6 8 0.5 8.9 0.3 8.8 0 8.3-0.1 8-0.3 6.7-0.6 5.9-0.6 4.5-0.8 2.8-0.3 0.8-0.6 0.5-0.4-0.1-0.3-0.5-0.8-1.8-0.7-3.2-0.8-4.9-0.7-6.4-0.6-7-0.9-16.7-0.6-18.7 0.1-15.3 0.2-5.9 0.4-4.2 0.5-2.9 0.3-1.1zM507.9 258.7l0.3 0 0.3 0.8 0.8 3.2 0.9 6.1 0.8 6.6 0.5 7.1 0.3 6.9-0.1 5.2-0.2 1.2-0.2 0.4-0.2-0.1-0.3-0.9-0.8-3.7-0.7-5.7-0.8-7.3-0.5-7.1-0.4-6.8 0-4.1 0.2-1.4zM249.4 259.9l0.4-0.4 0.5 0.1 0.6 0.7 0.5 1.3 1.2 4 0.9 5 0.9 6.8 0.8 7.3 0.7 8.8 0.4 8.9 0.3 8.8 0 8.8-0.1 7.7-0.4 7.7-0.6 5.9-0.7 4.8-0.4 1.6-0.5 1.5-0.4 0.6-0.6 0.3-0.3-0.2-0.4-0.6-0.8-1.9-0.7-3.4-0.8-5.1-1.1-12.4-0.9-17.1-0.5-18.8 0.1-15.4 0.2-5.3 0.4-4.7 0.5-3.1 0.4-1.4zM226.3 260.5l0.5-0.1 0.4 0.3 0.5 0.9 0.6 1.4 1.1 4.5 0.9 5.4 0.9 7.1 0.7 7.6 0.6 8.3 0.4 8.8 0.2 8.9 0 8.8-0.3 8.3-0.4 6.9-0.6 5.6-0.7 4.5-0.4 1.5-0.5 1.6-0.4 0.6-0.6 0.3-0.5-0.3-0.4-0.6-0.7-2.1-0.8-3.5-0.7-5.2-0.7-6.4-0.6-7.7-0.8-17.7-0.3-18.2 0.1-8.3 0.2-7 0.4-5.7 0.5-4.4 0.6-2.6 0.4-0.9zM202.6 261.7l0.5-0.5 0.4 0 0.5 0.6 0.6 1 1.1 3.9 1 4.9 0.9 7 0.7 7.7 0.6 8.4 0.4 9.4 0.2 9.5 0 8.8-0.2 8-0.5 7.3-0.6 6.5-0.8 4.8-0.9 3-0.4 0.7-0.6 0.4-0.5-0.2-0.4-0.5-0.7-1.9-0.8-3.3-0.7-4.9-0.7-5.8-0.5-7-0.8-17.1-0.3-18.3 0-8.3 0.3-7.6 0.3-5.9 0.5-5.3 0.6-3.1 0.4-1.3zM179.3 262.3l0.5-0.4 0.5 0.1 0.4 0.5 0.6 1.1 1.1 3.9 0.9 5.2 0.9 7.3 0.7 7.6 0.6 8.9 0.3 9.4 0.1 9.4 0 8.9-0.3 8.2-0.6 7.7-0.6 5.9-0.9 4.7-0.4 1.3-0.5 1.4-0.4 0.5-0.5 0.3-0.6-0.4-0.4-0.5-0.7-2-0.8-3.3-0.7-5.1-0.6-5.8-0.6-7-0.4-8.3-0.3-9.4-0.2-18.9 0.2-8.2 0.2-7.1 0.5-5.9 0.5-4.7 0.7-3.3 0.4-1.2zM133.1 262.9l0.6 0.2 0.6 0.8 0.9 2.6 0.9 4.6 0.8 5.3 0.7 7.7 0.5 7.6 0.4 8.9 0.2 8.8 0 8.9-0.2 8.8-0.4 7.7-0.5 7.1-0.7 5.6-1 4.7-0.9 2.6-0.4 0.5-0.5 0.3-0.6-0.3-0.4-0.6-0.9-2.5-0.7-3.6-0.8-5.6-0.6-6.5-0.5-7.8-0.4-9.2-0.1-9.5-0.1-9.4 0.2-8.9 0.3-8.2 0.5-6.7 0.5-5.4 0.8-4.5 0.4-1.7 0.5-1.3 0.4-0.7zM155.9 262.9l0.6-0.5 0.3 0.1 0.6 0.6 0.6 1.1 0.9 3.2 1 5.5 0.8 7.1 0.7 7.6 0.5 8.9 0.3 9.4 0.1 9.4-0.1 8.9-0.3 8.8-0.5 7.1-0.6 5.9-1 5.2-0.9 2.8-0.4 0.6-0.5 0.4-0.6-0.2-0.4-0.5-0.9-2.4-0.8-3.5-0.7-4.8-0.6-5.9-0.5-7.6-0.7-16.5-0.1-18.3 0.2-8.3 0.4-7.9 0.5-6.2 0.6-4.9 0.8-3.4zM86.5 263.4l0-0.2 0.4 0.1 0.5 0.7 1 2.6 0.8 3.9 0.7 5.9 0.6 7.1 0.5 8.1 0.3 9 0.1 9.4-0.1 8.9-0.3 8.8-0.4 7.7-0.6 7-0.7 5.7-0.9 4.6-1 2.5-0.3 0.5-0.6 0.3zM109.3 263.4l0.5-0.3 0.6 0.3 0.5 0.6 0.4 1.1 0.9 3.6 0.8 4.8 0.7 6.3 0.6 7.8 0.5 8.9 0.2 10 0 9.4-0.2 8.9-0.3 8.3-0.6 7.7-0.7 6.4-0.8 4.3-0.9 3.1-0.6 0.9-0.5 0.4-0.6-0.2-0.4-0.5-0.4-1-0.5-1.3-0.7-3.3-0.8-5.1-0.6-6.2-0.5-7.6-0.3-8.3-0.2-8.8-0.1-9.5 0.2-8.8 0.3-8.3 0.5-7.6 0.5-5.8 0.8-5 0.7-3.2 0.4-1zM532.5 269.3l0.1-0.2 0.4 1.6 0.3 3.3 0.2 3.6-0.2 0.7-0.3-1.9-0.4-3.5z"/>
<path fill="#fad42e" d="M86.5 278.2l0-0.5 0.6 0.4 0.7 2 0.6 2.8 0.5 4.3 0.8 10.4 0.2 12.4-0.2 11.8-0.4 5.9-0.4 4.5-0.5 4.2-0.6 2.7-0.6 1.6-0.3 0.6-0.4 0.2zM109.4 278.2l0.2-0.3 0.4-0.2 0.4 0.2 0.4 0.6 0.7 2.4 0.7 3.8 0.4 4.1 0.5 5.9 0.4 13 0 7-0.1 6.5-0.3 5.9-0.4 4.7-0.5 4.2-0.7 3.2-0.6 1.5-0.3 0.5-0.4 0.1-0.6-0.6-0.5-1.4-0.6-2.5-0.5-3.8-0.8-8.9-0.4-11.7 0.1-11.8 0.5-10.7 0.4-4.1 0.5-4 0.6-2.4zM132.9 278.2l0.2-0.4 0.4-0.1 0.4 0.2 0.4 0.7 0.7 2.4 0.6 3 0.5 4.4 0.5 5.7 0.5 12.4 0 13-0.2 5.7-0.4 5.3-0.6 4.8-0.5 2.9-0.6 1.7-0.4 0.6-0.3 0.2-0.6-0.4-0.6-1.4-0.5-2.1-0.6-3.8-0.8-9.4-0.4-11.2 0-11.8 0.4-10.6 0.3-4.2 0.5-3.9 0.6-2.5zM156.4 278.2l0.3-0.4 0.3-0.1 0.4 0.2 0.4 0.7 0.7 2.5 0.6 3 0.5 4.3 0.6 5.7 0.5 12.4 0 12.4-0.5 10.6-0.5 4.7-0.6 3.2-0.6 1.7-0.4 0.5-0.3 0.2-0.6-0.6-0.5-1.4-0.6-2.5-0.6-3.8-0.7-8.5-0.5-11.2 0-11.2 0.3-10.6 0.4-4.7 0.3-3.2 0.6-2.7zM179.9 278.2l0.3-0.4 0.3-0.1 0.4 0.3 0.4 0.7 0.7 2.5 0.6 3.1 0.5 4.2 0.6 5.6 0.5 11.2 0.1 11.8-0.4 10.6-0.4 4-0.5 3.6-0.6 2-0.4 0.8-0.3 0.3-0.3-0.1-0.3-0.3-0.6-1.3-0.5-2.3-0.6-3.6-0.8-8.4-0.5-11-0.1-11.4 0.3-10.6 0.6-7.1 0.5-2.9zM203.4 278.2l0.3-0.4 0.3-0.1 0.4 0.4 0.4 0.7 0.5 1.9 0.7 3.4 0.6 4.1 0.5 4.7 0.6 11.8 0.2 11.8-0.2 5.3-0.3 5.3-0.4 3.9-0.5 3.3-0.6 1.6-0.2 0.3-0.4 0.3-0.1-0.1-0.4-0.4-0.6-1.4-0.5-2.6-0.4-2.4-0.8-8.4-0.6-10.6-0.2-11.8 0.3-10 0.5-7.1 0.4-2zM227.1 278.2l0.3-0.3 0.3 0.2 0.6 1 0.7 2.7 0.6 3.2 1 8.5 0.6 11.2 0.1 11.2-0.3 9.4-0.4 3.6-0.4 2.8-0.6 1.8-0.2 0.4-0.4 0.2-0.1-0.1-0.4-0.4-0.6-1.6-0.9-5.4-0.8-7.8-0.5-10.6-0.2-11.2 0.2-9.2 0.5-6.6 0.4-1.9zM250.5 278.8l0.2-0.3 0.4-0.2 0.5 0.8 0.8 2.4 0.5 3 1 7.8 0.7 10.6 0.2 10.7-0.3 8.8-0.3 3.5-0.5 3-0.4 1.5-0.2 0.4-0.4 0.3-0.1-0.1-0.3-0.3-0.5-1.2-0.5-2.4-0.4-2.6-0.8-7.3-0.5-9.4-0.3-10.2 0.1-9.1 0.4-6.2 0.3-2.3zM274.2 279.4l0.4-0.3 0.2 0.1 0.3 0.6 0.6 1.8 0.5 2.8 1 7.3 0.6 9.5 0.3 9.4-0.2 8.3-0.5 5.8-0.4 1.7-0.2 0.5-0.4 0.4-0.3-0.2-0.6-1.3-0.7-3.9-0.8-6.9-0.6-8.5-0.3-10 0.1-8.3 0.3-5.9 0.3-1.9zM297.9 280.5l0.2-0.1 0.2 0 0.5 1.1 1 4.3 0.7 6.1 0.6 8.1 0.2 8.2-0.1 7.1-0.2 3-0.3 2.5-0.4 1.4-0.4 0.4-0.3-0.3-0.4-1.1-0.8-4-0.6-6-0.5-7.7-0.3-8.2 0-7.1 0.3-5.3 0.2-1.2zM321.6 282.9l0.2-0.2 0.2 0.1 0.3 0.8 0.8 3.4 0.6 5.3 0.5 6.3 0.2 6.1 0 5.9-0.4 4.3-0.2 0.9-0.3 0.6-0.2 0-0.4-0.9-0.8-4-0.5-5.4-0.4-5.5-0.2-6.5 0-5.3 0.2-4.1zM345.4 288.2l0.3-0.4 0.1 0.2 0.4 1.3 0.4 2.4 0.4 4 0.2 7.2-0.2 3-0.2 1.2-0.2 0-0.2-0.4-0.4-1.8-0.5-5.4-0.3-7.2 0.1-2.9z"/>
</g></g>
<path d="M86.5 603.0v-7.5M86.5 13.5v7.5M161.1 603.0v-7.5M161.1 13.5v7.5M235.8 603.0v-7.5M235.8 13.5v7.5M310.4 603.0v-7.5M310.4 13.5v7.5M385.0 603.0v-7.5M385.0 13.5v7.5M459.6 603.0v-7.5M459.6 13.5v7.5M534.3 603.0v-7.5M534.3 13.5v7.5M608.9 603.0v-7.5M608.9 13.5v7.5M683.5 603.0v-7.5M683.5 13.5v7.5M758.2 603.0v-7.5M758.2 13.5v7.5M86.5 506.1h7.5M832.8 506.1h-7.5M86.5 407.9h7.5M832.8 407.9h-7.5M86.5 309.6h7.5M832.8 309.6h-7.5M86.5 211.3h7.5M832.8 211.3h-7.5M86.5 113.1h7.5M832.8 113.1h-7.5" stroke="#262626" stroke-opacity="0.55" stroke-width="1" fill="none"/>
<g clip-path="url(#c0)" fill="none" stroke="#f00" stroke-width="4.6" stroke-linejoin="round" stroke-linecap="round"><polyline points="86.5,309.6 105.1,309.5 123.6,309.4 142.2,309.1 160.7,308.6 179.3,308.1 197.8,307.4 216.4,306.6 234.9,305.7 253.5,304.7 272.0,303.5 290.6,302.3 309.1,300.9 327.7,299.3 346.2,297.7 364.8,295.9 383.3,294.1 401.9,292.1 420.4,289.9 439.0,287.7 457.5,285.3 476.1,282.8 494.6,280.2 513.2,277.5 531.8,274.6 550.3,271.7 568.9,268.6 587.4,265.3 606.0,262.0 624.5,258.5 643.1,255.0 661.6,251.3 680.2,247.4 698.7,243.5 717.3,239.4 735.8,235.2 754.4,230.9 772.9,226.5 791.5,221.9 810.0,217.3"/><polyline points="814.5,216.1 821.4,214.3 828.2,212.6 835.0,210.8"/></g>
<rect x="86.5" y="13.5" width="746.3" height="589.5" fill="none" stroke="#262626" stroke-opacity="0.8" stroke-width="1"/>
<text class="x" transform="translate(86.0 630.6) scale(0.97 1.05)" text-anchor="middle">0</text>
<text class="x" transform="translate(160.6 630.6) scale(0.97 1.05)" text-anchor="middle">10</text>
<text class="x" transform="translate(235.3 630.6) scale(0.97 1.05)" text-anchor="middle">20</text>
<text class="x" transform="translate(309.9 630.6) scale(0.97 1.05)" text-anchor="middle">30</text>
<text class="x" transform="translate(384.5 630.6) scale(0.97 1.05)" text-anchor="middle">40</text>
<text class="x" transform="translate(459.1 630.6) scale(0.97 1.05)" text-anchor="middle">50</text>
<text class="x" transform="translate(533.8 630.6) scale(0.97 1.05)" text-anchor="middle">60</text>
<text class="x" transform="translate(608.4 630.6) scale(0.97 1.05)" text-anchor="middle">70</text>
<text class="x" transform="translate(683.0 630.6) scale(0.97 1.05)" text-anchor="middle">80</text>
<text class="x" transform="translate(757.7 630.6) scale(0.97 1.05)" text-anchor="middle">90</text>
<text transform="translate(77.0 610.9) scale(0.925 1.02)" text-anchor="end">-0.3</text>
<text transform="translate(77.0 512.6) scale(0.925 1.02)" text-anchor="end">-0.2</text>
<text transform="translate(77.0 414.4) scale(0.925 1.02)" text-anchor="end">-0.1</text>
<text transform="translate(77.0 316.1) scale(0.925 1.02)" text-anchor="end">0</text>
<text transform="translate(77.0 217.9) scale(0.925 1.02)" text-anchor="end">0.1</text>
<text transform="translate(77.0 119.7) scale(0.925 1.02)" text-anchor="end">0.2</text>
<text transform="translate(77.0 21.4) scale(0.925 1.02)" text-anchor="end">0.3</text>
<text class="l" transform="translate(459.6 663.5) scale(1 1.02)" text-anchor="middle">t</text>
<text class="l" transform="translate(23.2 309.6) rotate(-90) scale(1 1.02)" text-anchor="middle">r</text>
<g clip-path="url(#c1)"><g filter="url(#b)">
<rect x="968.2" y="7.5" width="758.3" height="601.5" fill="#3e26a8"/>
<path fill="#4743e7" d="M1712.3 105.5l0.4-0.3 0.3 0 0.6 0.3 0.6 0.9 0.5 1.5 0.6 2.2 0.5 3.1 1 8.2 0.8 10 0.8 12.4 2.1 45.8 0 223.6-3.4-22.8-3-22.6-2.6-22.4-2.3-23-1.9-23-1.5-21.8-1.2-21.8-0.7-21.2-0.4-22.4 0-21.9 0.6-20.6 0.9-18.4 1.4-17 0.9-7.5 0.9-6.6 0.9-5.3 1.1-4.8 1.2-3.2zM1689.6 106.1l0.5-0.4 0.4 0 0.3 0.2 0.4 0.5 0.8 1.6 0.5 2 0.6 2.9 0.5 3.8 1 10 1.2 20 2.6 60.2 1.8 34.7 2.5 36 1.4 17.7 1.6 17.1 3 28.9 3.5 28.8 3.9 28.9 4.4 28.3 0 105.6-6.7-29.7-6.2-29.9-5.6-30.1-4.8-29.4-4.3-29.6-3.7-30-3-28.9-2.5-29.1-1-15.7-0.8-15.3-0.7-15.3-0.4-14.7-0.3-14.8-0.1-14.1 0.1-14.2 0.3-13.5 0.5-13 0.8-13 0.9-11.6 1.1-10.7 1.3-9.4 1.3-6.9 0.8-3 0.7-2.4 0.8-1.7zM1667.1 106.6l0.4-0.1 0.4 0 0.4 0.2 0.3 0.5 0.8 1.7 0.5 2.1 0.6 2.9 0.6 4 0.8 9.4 0.7 9.2 0.6 12.6 2.8 69.5 1.8 34.2 1.5 21.3 1.6 20.6 1.8 20.6 2.1 20.7 3 25.9 3.4 25.9 3.8 26 4.1 25.9 4.7 26.5 5 26 5.6 27.1 6.1 27.4 0 56.3-4.8 0-7-24.6-6.5-24.8-6.1-25.2-5.8-25.7-4.1-19.5-3.8-19-3.5-19.4-3.4-19.8-3-19.5-2.8-19.4-2.5-19.5-2.2-19.4-1.8-18.3-1.7-18.9-1.4-18.8-1.1-18.3-0.8-18.3-0.5-17.7-0.3-17.7 0-17.1 0.3-17.6 0.6-16.6 1-15.3 1.1-13.6 1.5-12.5 1.7-9.9 0.9-4 1-3 0.9-2.1zM1644.2 107.8l0.4-0.3 0.3-0.2 0.4 0.1 0.4 0.3 0.7 1.2 0.6 1.7 0.5 2.4 0.6 3.4 0.9 8.7 0.7 9.8 0.6 12.7 2 54.5 1.1 26 1.3 24.1 1.5 23 2.2 27.7 2.5 27.2 3 27.1 3.3 26.5 3.7 25.9 4.2 26.6 4.6 26.5 5.2 27 5.6 27.3 6 27.6 6.8 28.9 7.2 29.5-18 0-0.2-0.6-7.4-26.3-6.9-26.2-6.6-26.9-6.1-27.7-5.6-27.6-5.1-27.6-4.4-27.5-3.9-27.1-2.7-20.8-2.3-21.1-2-20.6-1.7-20.6-1.3-20.7-1-20-0.7-20.1-0.3-19.4 0.1-20.1 0.4-18.8 0.8-18.4 1.2-16.4 1.4-14.3 1-7 0.9-5.7 0.9-4.7 1.1-4.4 1-2.7 0.5-1.1zM1622.1 108.4l0.6 0.1 0.8 0.8 0.5 1.4 0.6 2 1 5.7 0.9 9 0.6 9.3 0.5 12.4 1.8 53 1 25.4 1.2 23.6 1.3 22.4 2.1 27.1 2.4 27.1 2.8 26.5 3.3 26.6 3.7 26.5 4.1 26.5 4.6 26.5 5.1 27.3 5.5 27 6.1 28 6.7 29 7.6 31.4-17.5 0-2.8-9.6-7.1-25.2-6.7-25.8-6.4-26.5-5.8-26.4-5.2-26.2-4.8-26.9-4.3-26.8-3.8-26.5-2.6-21.1-2.2-20.7-2-21.3-1.6-20.6-1.2-20.6-0.9-20.1-0.6-20-0.2-19.5 0.2-20.6 0.6-19.5 1-18.2 1.3-16.3 1.7-14.1 1-6 1.1-5.8 0.9-3.9 1.1-3.5 1.1-2.2 0.4-0.4zM1599.6 109.6l0.6 0.2 0.7 0.9 0.6 1.4 0.5 2.2 1 5.7 0.8 8.5 0.6 9.4 0.5 12.4 1.6 52.4 0.9 25.4 1.1 23.6 1.3 22.4 2 27.1 2.3 26.5 2.7 25.9 3.2 26.6 3.6 25.9 4.1 26.5 4.5 26.6 5.1 27.3 5.5 27.5 6.1 27.8 6.5 28.4 7.9 32.8-16.9 0-5.4-18-6.7-24.1-6.5-25.3-6-25.2-5.6-25.9-5-25.6-4.7-26.3-4.1-25.9-3.5-25.4-2.5-20.6-2.2-21.2-1.9-20.6-1.5-20.7-1.2-20.6-0.8-20-0.5-20.1-0.1-19.4 0.2-20.1 0.7-19.4 1-17.7 1.5-16.3 0.9-8 0.9-6.6 1-5.6 1.1-5.4 1.1-4.2 0.9-2.6 1.2-2 0.3-0.4zM1576.1 111.4l0.7-0.5 0.4 0.1 0.4 0.2 0.7 1.1 0.6 1.6 0.5 2.3 0.6 3.2 1 9.1 0.6 9.4 0.5 13 1.5 53.6 0.9 25.3 1 23.6 1.3 22.4 1.9 26.6 2.3 26.5 2.7 26.5 3.2 26.5 3.6 26 3.8 25.3 4.5 26.6 5 26.6 5.3 26.4 5.9 27.5 6.5 28.7 8.1 34-16.1 0-3.8-12-3.7-12.6-6.5-23.4-6.2-24-5.8-24.6-5.2-24.2-4.8-24.8-4.5-25.3-3.9-24.9-3.4-24.7-2.5-20.6-2.2-20-1.8-20.7-1.5-20-1.2-20.1-0.8-20-0.5-19.5-0.1-19.4 0.2-19.5 0.6-18.8 1-17.7 1.4-16.3 1.6-14.2 1-6.1 1.1-6 0.9-4.2 1.1-3.9 1.2-2.8zM1553.8 112.5l0.6 0 0.8 0.6 0.7 1.5 0.6 2 0.6 2.8 0.4 3.2 0.8 8.2 0.6 9.4 0.4 12.4 1.4 53.1 0.7 24.7 1 23 1.2 22.4 1.8 26.6 2.2 25.9 2.6 25.9 3.2 26.6 3.4 25.3 3.9 25.9 4.3 25.4 4.8 26.5 5.3 26.5 5.6 26.8 6.4 28.3 8.7 37.5-15.2 0-5.3-16.8-5.2-17.6-6.2-22.4-5.8-22.9-5.4-23.3-5-23.8-4.7-24.3-4.1-23.7-3.7-24.2-3.2-23.8-2.4-20.1-2.1-20.6-1.8-20.6-1.4-20.1-1.1-20-0.8-20.1-0.4-19.4 0-19.5 0.3-19.4 0.8-19 1.1-17.4 1.5-16 1.8-14.1 1-5.5 1.1-5.4 0.9-3.7 1.1-3.4 1.2-2.3 0.5-0.7zM1530.8 114.3l0.5-0.2 0.4 0 0.7 0.6 0.7 1.4 0.6 1.7 0.6 3 0.4 2.9 0.9 8.9 0.5 9.4 0.5 12.4 1.1 52.5 0.7 24.7 1 23 1.1 21.8 1.8 26.5 2.1 26 2.5 25.3 3 26 3.3 24.7 3.8 25.4 4.1 24.7 4.6 26 4.8 24.4 5.4 26.1 5.4 24.8 10.5 46.7-13.9 0-3.3-9.9-3.4-10.5-6.7-22.6-5.8-21.3-5.4-21.6-5.2-22.8-4.7-22.3-4.3-22.6-3.9-23.2-3.6-23-3.1-23.6-2.4-20.5-2-20.2-1.7-20-1.4-20.1-1.1-20-0.6-19.5-0.4-19.4 0-18.9 0.4-19.4 0.7-18.3 1.1-17.1 1.5-15.3 1.8-13.9 0.9-5.5 1.2-5.6 1.1-4.5 1.1-3.5 1.1-2.4zM1508 116.1l0.6-0.3 0.3 0.1 0.8 0.6 0.7 1.3 0.5 1.8 0.6 3 0.5 2.9 0.8 8.8 0.5 10.1 0.5 12.3 1 50.7 0.6 24.8 0.8 22.4 1.1 21.8 1.7 26 2 25.3 2.5 25.9 2.9 25.4 3.1 24.2 3.6 24.1 3.9 24.2 4.5 25.3 4.2 22.2 4.8 24.1 4.9 22.9 9.1 42.3 3.1 14.7-12.1 0-4.2-11.8-4.3-13-4.3-14-4.3-14.9-5.4-20.3-5-20.6-4.7-20.7-4.5-21.9-4.1-22.1-3.6-21.7-3.3-21.8-3-22.7-2.2-19.7-2-20.1-1.6-19.4-1.3-20.1-1-20-0.7-19.5-0.2-18.8 0-18.9 0.4-19.1 0.8-18 1.2-17.1 1.6-15.6 1.8-13.5 1-5.2 1.1-5.4 1.1-4.3 1.1-3.3 1.2-2.3zM1485.4 117.8l0.8 0 0.7 0.6 0.8 1.6 0.5 1.8 0.6 2.8 0.4 3.3 0.8 8.8 0.5 9.4 0.4 12.4 0.9 50.7 0.6 24.2 0.8 21.8 0.9 20.6 1.6 25.4 1.9 25.3 2.3 24.8 2.8 24.7 2.9 23 3.2 23 3.6 23 4 23.6 3.5 19.1 3.9 20.2 4.9 24 10.3 49.3 2.4 12.4 1.7 9.4-9.7 0-5.1-13-5.4-15.7-5.4-17.4-5.4-19.1-4.9-18.6-4.6-19.6-4.5-20.4-4.1-20.6-3.7-20.6-3.5-21.3-3.1-21.2-2.7-21.2-2.1-19.5-1.9-20-1.6-20.1-1.2-19.4-0.9-19.5-0.5-19.4-0.2-18.9 0.2-18.3 0.5-18.8 0.9-17.7 1.2-16.5 1.6-15 1.9-12.7 1.1-5.9 1.1-4.9 1.1-4 1.2-3 1.1-2zM1462.1 120.2l0.4-0.3 0.5-0.1 0.8 0.3 0.7 1.1 0.8 2.1 0.5 2.5 0.6 3.6 0.8 9.1 0.5 9.4 0.4 12.4 0.7 50.1 0.6 23.6 0.6 21.2 0.9 20 1.4 24.8 1.9 24.8 2.1 24.1 2.6 24.2 2.5 20 2.7 20.1 3 20.4 3.4 20.8 3.8 21.9 4.2 22.6 4.3 22 8.5 42.6 2.9 14.7 1.4 8.3 1.1 7.1 0.6 5.3 0.2 4.1-5.2 0-3-5.8-3.4-7.8-5-13.3-5.4-16.2-5.2-17.4-5.3-19.2-4.4-18-4.1-18-4-18.7-3.7-19.5-3.3-19.3-3-19.1-2.8-20-2.5-19.7-2-19.2-1.8-19.4-1.4-19-1.1-19.3-0.8-18.9-0.5-18.8-0.1-18.3 0.1-17.7 0.6-18.3 0.9-17.3 1.2-16.3 1.6-14.3 1.9-12.8 0.9-5 1.1-5.2 1.1-4.2 1.1-3.2 1.2-2.4zM1439.8 122l0.5-0.1 0.3 0.1 0.8 0.8 0.7 1.7 0.6 2 0.5 3 0.5 3.1 0.8 9.4 0.4 9.4 0.3 11.8 0.7 47.8 0.4 22.4 0.5 19.4 0.8 18.3 1.2 23 1.4 22.4 1.9 22.4 2.2 22.4 2.4 21.8 2.8 21.8 3.1 21.8 3.6 23 3 18 3.3 18.9 4.1 21.5 9 47.2 2.1 11.2 1.5 9.4 1.1 8.8 0.4 5.9-0.1 1.8-0.3 1.8-0.4 0.8-0.6 0.3-0.5-0.2-0.6-0.4-1.3-1.4-1.7-2.7-1.7-3.2-2-4.4-2.1-4.8-4.4-11.9-4.5-13.3-4.7-15.4-4.5-16.2-4.2-16.9-4-16.9-3.7-17.6-3.4-17.2-3.1-17.8-3-18.6-2.6-18-2.4-18.8-2.2-18.9-1.8-18.8-1.5-18.9-1.3-18.9-0.8-18.3-0.6-18.2-0.3-18.3 0-17.7 0.3-17.7 0.7-17.7 1.1-16.5 1.3-14.5 1.7-13.7 0.9-6.1 1.1-6.2 1-4.4 1.1-4.4 1.1-3.5 1-2.3 1.1-1.8 0.5-0.6zM1416.6 124.3l0.5-0.2 0.4 0.1 0.7 0.5 0.8 1.4 0.7 2.3 0.6 2.8 0.5 3.7 0.8 9.4 0.4 9.5 0.3 11.8 0.6 47.2 0.3 21.8 0.5 18.2 0.7 17.7 1.1 22.4 1.4 21.8 1.7 21.8 1.9 21.3 2.2 20.6 2.6 20.6 2.8 21.3 3.2 21.2 2.9 17.9 3.1 18 12 66.1 1.9 10.6 1.4 9.4 1.1 8.8 0.3 5.9 0 2.2-0.2 1.4-0.5 1.2-0.3 0.3-0.3 0.1-0.4 0-0.6-0.3-1.3-1.3-1.5-2.2-1.7-3-1.8-3.9-2.1-4.8-4.3-11.3-4.3-12.8-4.4-14.9-4.3-15.7-4.1-16.6-3.8-16.4-3.3-16.2-3.4-17.7-3-17.3-2.8-18-2.4-17.3-2.2-18-2-18.5-1.7-18.3-1.4-18.3-1.1-18.2-0.9-18.3-0.5-18.3-0.2-17.7 0.1-17.7 0.4-16.5 0.7-17.1 1-15.3 1.3-14.1 1.7-13.2 1.8-11.3 1-4.5 1.1-4.6 1.1-3.7 1.1-2.8 1.1-2zM1393.6 126.7l0.8-0.2 0.5 0.2 0.4 0.3 0.7 1.3 0.8 2.3 0.6 2.6 0.5 3.9 0.8 9.6 0.4 9.5 0.3 11.7 0.5 47.2 0.3 20.6 0.4 17.7 0.6 16.5 1 21.3 1.2 21.2 1.5 20.6 1.9 20.6 2 20.1 2.3 20 2.6 20.1 3 20.6 5.2 33 11.2 64.3 1.9 11.8 1.3 8.8 1 8.8 0.2 5.9-0.1 2.4-0.3 1.4-0.5 1-0.6 0.2-1-0.3-1.3-1.3-1.5-2.2-1.6-3.1-1.9-4-1.9-4.3-3.9-10.4-4.1-12.4-4.1-13.8-3.9-14.6-3.9-16.1-3.6-15.9-3.1-15.7-3.2-17.1-2.8-16.7-2.6-17.3-2.5-18-2-17.5-1.9-17.8-1.6-18.1-1.2-17.7-1.1-18.3-0.7-17.7-0.4-17.7-0.2-17.1 0.2-17.1 0.4-16.5 0.8-15.9 1-15 1.3-13.7 1.7-13.2 1.9-10.9 0.9-4.3 1.1-4.5 1.1-3.6 1.2-2.7 0.9-1.7zM1370.6 129l0.4-0.1 0.6 0 0.8 0.6 0.7 1.2 0.7 2.3 0.6 2.6 0.6 4.1 0.8 10 0.4 9.4 0.3 11.8 0.6 66 0.9 32.4 0.9 20.7 1.1 20 1.4 20.1 1.6 19.4 1.9 19.5 2.1 18.8 2.4 19.5 2.6 19.4 4.7 31.3 10.4 62.5 1.6 10.6 1.3 9.4 1 8.9 0.2 3.5 0 2.9-0.2 2.4-0.4 1.8-0.6 0.8-0.5 0.2-1-0.3-1.3-1.3-1.5-2.2-1.4-2.7-1.7-3.5-1.9-4.3-3.7-9.9-3.8-11.3-3.9-13.4-3.7-14.1-3.7-15.6-3.2-14.6-3.2-16-3-16.6-2.7-16.7-2.4-17.1-2.2-17.1-2-17.2-1.7-17.6-1.5-17.7-1.2-17.7-0.9-17.6-0.6-17.1-0.3-17.7-0.1-17.1 0.2-16.5 0.5-15.9 0.8-16 1.2-14.7 1.4-13.7 1.6-12.2 1.9-10.2 0.9-4.1 1.2-4.1 1.1-3.3 0.9-2.2 1.1-1.8zM1347.8 131.4l0.9 0 0.5 0.4 0.4 0.4 0.7 1.6 0.8 2.5 0.5 2.9 0.6 4 0.7 9.4 0.3 8.3 0.3 10 0.5 61.3 0.3 18.9 0.5 17.7 0.8 19.4 1 18.9 1.2 18.8 1.5 18.9 1.6 18.3 1.9 18.2 2.2 18.9 2.4 18.9 4.1 28.9 9.6 61.3 1.7 11.2 1.1 8.8 0.9 9.4 0.2 3.6 0 2.9-0.2 2.4-0.3 1.3-0.6 1.2-0.4 0.3-0.3 0.1-1-0.3-1.3-1.3-1.3-1.8-1.5-2.7-1.6-3.4-1.7-3.9-3.6-9.4-3.7-11.4-3.5-12.2-3.6-13.6-3.5-15.2-3.2-15.1-3-15.6-2.8-16.3-2.4-15.7-2.3-16.1-2-16.9-1.9-17.1-1.5-17.1-1.4-17.7-1.1-17.1-0.8-17.7-0.5-17.1-0.3-17.1 0.1-16.5 0.3-16.5 0.6-15.7 0.9-15.5 1.1-14 1.5-13.4 1.7-11.4 1.9-9.5 0.9-3.8 1.1-3.9 1.1-3 1-1.9 0.9-1.4 0.6-0.5zM1324 134.3l0.6-0.3 0.5-0.2 0.6 0.2 0.4 0.2 0.9 1.4 0.8 2 0.7 3.4 0.6 3.8 0.5 4.9 0.3 5.3 0.4 8.2 0.2 10.6 0.5 60.8 0.3 18.2 0.4 17.1 0.7 18.9 1 18.9 1.1 18.2 1.4 18.3 1.5 17.1 1.7 17.1 1.8 17.1 2.2 17.5 4.4 33 8.3 55.6 2.2 17.1 0.8 9.4 0.1 6.5-0.2 2.4-0.3 1.7-0.6 1.2-0.4 0.3-0.3 0.2-0.4 0-0.6-0.2-1.1-1-1.3-1.7-1.5-2.5-1.5-3-1.7-3.8-3.3-8.9-3.6-10.8-3.3-11.7-3.4-13.1-3.2-13.9-2.8-13.5-2.8-14.9-2.6-15.5-2.4-16-2.2-16.2-1.9-16.1-1.7-16.3-1.5-17.1-1.3-17.1-1-17.1-0.7-17.1-0.5-16.5-0.2-16.5 0-16.5 0.3-15.9 0.6-14.7 0.8-14.8 1.1-13.5 1.4-13 1.6-11.3 1.8-10 1.9-7.4 0.9-2.8 1.2-2.8 0.9-1.7zM1301.2 136.7l0.4-0.3 0.6 0 0.6 0.2 0.3 0.3 1 1.5 0.7 2.2 0.8 3.4 0.5 3.9 0.8 10 0.4 8.3 0.2 10.6 0.4 58.9 0.7 33.6 0.6 18.3 0.8 17.7 1 17.7 1.2 17.1 1.3 15.9 1.5 16.5 1.7 16.5 1.9 16.8 4 31.6 7.6 54.2 2 17.1 0.7 9.4 0.1 4.1-0.1 3-0.2 2.3-0.4 1.8-0.6 1-0.8 0.5-0.9-0.3-1.1-0.9-1.3-1.7-1.3-2.2-1.5-3-1.5-3.3-3.4-8.9-3.1-9.8-3.2-11.2-3.2-12.6-3-13.4-2.8-13.9-2.6-14.5-2.4-15.1-2.2-15.1-2-15.9-1.8-15.9-1.6-16.5-1.4-16.2-1.1-16.8-0.9-16.5-0.7-17.1-0.4-16.5-0.1-16.5 0.1-16 0.4-15.3 0.6-14.7 0.9-14.2 1.1-12.9 1.3-11.8 1.6-10.9 1.9-9.6 1.9-7 0.9-2.7 1.1-2.6 0.9-1.5zM1278.3 139.1l0.4-0.2 0.6 0.1 0.5 0.3 0.4 0.4 0.7 1.2 0.8 2.1 0.5 2.3 0.6 3.3 0.9 8.7 0.5 10.1 0.3 12.3 0.3 55.5 0.5 28.8 0.9 27.7 1.3 27.2 1.2 18.2 1.3 17.7 1.6 18.3 1.8 18 3.9 34 7.5 57.6 1.9 17.7 0.5 9.5 0 3.5-0.1 2.9-0.3 2.4-0.5 1.6-0.4 0.7-0.3 0.4-0.8 0.2-0.9-0.3-1.1-1-1.3-1.7-1.4-2.2-1.3-2.7-1.5-3.3-2.9-8-3-9.3-3-10.7-3-12.2-2.8-12.9-2.6-13.5-2.4-14.1-2.3-14.5-2-14.9-1.9-15.3-1.7-16-1.5-16.2-1.2-16.3-1-16.5-0.8-16.5-0.6-16.5-0.3-16.5 0-16.5 0.1-15.9 0.5-14.9 0.7-14.6 0.9-13.5 1.2-12.8 1.4-11.4 1.6-9.9 1.8-8.8 1.9-6.5 1.1-2.8 1-1.8 0.9-1.3zM1254.5 142l0.5-0.4 0.6-0.1 0.5 0 0.4 0.2 0.9 1.1 1 2.1 0.7 2.9 0.6 3.1 0.5 4.6 0.5 5.4 0.4 10 0.3 12.4 0.3 53.6 0.5 27.1 0.7 26 1.1 24.7 1 17.1 1.2 17.7 1.4 17.1 1.6 17.7 3.5 32.4 6.7 56.6 1.7 17.7 0.5 9.4 0 4.2-0.2 2.9-0.4 2.4-0.4 1.6-0.8 1.1-0.7 0.4-1-0.2-0.9-0.8-1.1-1.3-1.3-2-1.3-2.5-1.5-3.3-2.8-7.3-2.8-8.7-2.8-10.1-2.8-11.6-2.6-12.3-2.5-12.8-2.2-13.4-2-13.7-2.1-15.1-1.7-14.8-1.6-15.9-1.4-15.8-1.1-15.4-0.9-16-0.8-16.5-0.5-15.9-0.3-15.9 0-15.9 0.2-15.3 0.4-14.8 0.6-14.1 0.9-13.6 1.2-12.4 1.3-11 1.5-9.8 1.6-8.3 1.9-6.9 0.9-2.7 1-2.1 0.9-1.6zM1231.4 144.4l0.5-0.3 0.5-0.1 0.6 0.1 0.5 0.3 1 1.3 0.9 2.5 0.8 3.1 0.5 3.5 0.6 4.9 0.4 5.3 0.4 10 0.3 12.4 0.3 51.3 0.3 25.3 0.6 23 0.9 22.4 0.8 16.5 1.1 17.1 1.2 17.1 1.5 17.1 3.1 32.4 5.9 54.3 0.9 10 0.7 8.3 0.4 9.4-0.1 4.1-0.1 3-0.4 2.3-0.5 2-0.8 1.3-0.3 0.4-0.6 0.2-0.9-0.2-0.9-0.7-1.2-1.3-1.3-2-1.3-2.5-1.3-2.9-2.6-6.8-2.6-8.3-2.6-9.6-2.6-11-2.5-11.8-2.2-12.4-2.1-12.7-1.9-13.6-1.8-14.3-1.6-14.6-1.5-15.4-1.2-15.3-1.1-15.9-0.9-16.5-0.6-15.9-0.4-15.9-0.3-16 0.1-15.9 0.2-15.3 0.5-14.1 0.7-14 0.9-13.2 1.1-11.7 1.3-10.5 1.5-9.2 1.7-8 1.9-6.4 0.9-2.4 0.9-2 1-1.4zM1208.2 146.7l0.5-0.2 0.6-0.1 0.5 0.2 0.6 0.4 0.9 1.4 1 2.5 0.7 3.2 0.7 4.4 0.6 5.3 0.4 5.9 0.4 9.4 0.2 11.8 0.3 52.5 0.4 27.7 0.8 27.1 1.2 26 1.5 25.9 2 26.5 2.5 27.7 5.1 51.9 0.9 11.8 0.6 9.4 0.1 8.9-0.2 2.9-0.3 3-0.4 2-0.6 1.6-0.7 1.1-0.4 0.3-0.5 0.1-1-0.2-0.9-0.7-1.1-1.3-1.1-1.8-1.2-2-1.3-2.9-2.4-6.3-2.4-7.6-2.4-9.1-2.5-10.5-2.2-11.2-2.1-11.7-1.8-12.1-1.9-13.7-1.7-14.1-1.5-14.5-1.3-15.1-1.2-15.3-0.9-16-0.8-16.4-0.6-16-0.4-15.9-0.1-15.9 0-15.3 0.3-14.8 0.5-14.1 0.7-13.6 0.9-12.4 1.1-11.2 1.3-9.8 1.5-9.1 1.7-7.7 1.6-5.6 1-2.4 0.9-2 0.9-1.4zM1184.8 149.1l0.6-0.3 0.7 0 0.6 0.2 0.6 0.5 0.9 1.5 1 2.8 0.8 3.5 0.6 4.6 0.6 5.7 0.4 6.8 0.4 9.5 0.2 11.8 0.3 50.1 0.4 25.9 0.7 25.3 1 24.8 1.3 24.2 1.6 24.7 2.1 26.2 4.5 51.1 0.8 11.2 0.4 9.4 0.1 9.4-0.2 3.6-0.3 2.9-0.5 2.4-0.7 2-0.8 1-0.3 0.3-0.6 0.1-0.9-0.2-1-0.7-0.9-1-1.1-1.6-2.2-4.4-2.5-6.3-2.2-7.1-2.3-8.5-2.2-10-2-10.6-1.9-11.1-1.9-12.8-1.7-13.2-1.4-13.4-1.4-14.5-1.2-14.8-1.1-14.7-0.8-15.3-0.7-16-0.6-15.9-0.3-15.9-0.1-15.9 0.1-15.3 0.3-14.8 0.5-13.9 0.7-13.2 1-12.4 1-10.6 1.2-9.5 1.5-8.8 1.7-7.5 1.7-5.4 0.7-1.8 1-1.9 0.9-1.4zM1161.2 151.4l0.7-0.4 0.6-0.1 0.7 0.2 0.6 0.5 0.5 0.6 0.6 1.1 1.1 3.2 0.8 3.8 0.8 5.3 0.6 6.5 0.4 7.6 0.3 9.5 0.2 11.2 0.4 48.3 0.3 24.2 0.6 23.6 0.8 23 1 22.4 1.4 22.9 1.7 25 3.8 48.7 0.7 11.8 0.4 10 0 10.1-0.2 4.1-0.4 3.3-0.5 2.7-0.8 1.9-0.9 1.2-1 0.3-0.9-0.2-0.9-0.7-1-1-1.1-1.6-2-4.1-2.3-5.9-2-6.6-2.1-8-2-9.5-1.9-10-1.7-10.5-1.6-12.2-1.5-12.4-1.4-13.4-1.2-13.7-1.2-14.7-0.9-15.2-0.8-15.3-0.7-15.9-0.4-16-0.3-15.9 0-15.9 0.1-15.3 0.3-14.2 0.5-13.5 0.7-13 0.9-11.2 1-10.6 1.2-9.4 1.4-8.3 1.5-6.7 1.7-5.5 0.9-2.3 0.8-1.5 0.9-1.4zM1138.2 153.2l0.7-0.2 0.6 0.1 0.8 0.4 0.5 0.6 1.1 2.2 1.2 3.7 0.8 4.4 0.7 5.9 0.6 7.1 0.4 8.2 0.4 20.1 0.4 46 0.3 22.9 0.5 21.9 0.7 21.2 0.8 20 1 20.7 1.5 24.1 3.1 48.4 0.7 12.3 0.3 9.5 0 5.9-0.1 5.3-0.3 4.1-0.4 3.5-0.6 2.9-0.8 2-0.9 1.3-0.6 0.4-0.5 0.1-1-0.2-0.9-0.6-0.9-1-1-1.3-2-4-2.1-5.4-2-6.7-1.9-7.5-1.8-9-1.7-9.6-1.6-10.3-1.5-11.8-1.4-12.4-1.2-12.9-1.1-13.6-1-14.7-0.8-15.3-0.7-15.4-0.6-16.5-0.4-15.9-0.1-15.9 0-15.9 0.1-15.4 0.4-14.1 0.5-13.5 0.8-12.4 0.9-11.2 1-9.6 1.1-8.7 1.5-7.9 1.5-6.3 1.6-5 0.8-1.7 0.9-1.6 1-1.1zM1115 155l0.8-0.1 0.8 0.3 0.7 0.7 0.6 0.8 0.5 1.2 0.7 1.8 1 4.1 0.8 4.7 0.7 6.6 0.6 8.1 0.3 8.9 0.5 19.5 0.6 64.8 0.9 39.5 0.8 20.6 0.9 21.9 3.6 67.8 0.6 18.8 0 6.5-0.1 5.9-0.4 4.7-0.5 3.7-0.7 3.4-0.8 1.9-0.5 1-0.6 0.6-0.5 0.3-0.6 0.2-0.7-0.1-1-0.6-0.9-0.9-0.9-1.3-1.2-1.9-0.9-2-1.9-4.9-1.8-6.3-1.9-7.7-1.7-8.6-1.5-9-1.4-10.2-1.3-11.2-1.2-11.8-1.1-13.1-1-14-0.9-14.4-1.3-30.4-0.5-16.6-0.3-16.5-0.1-15.9 0-15.9 0.3-15.3 0.4-14.2 0.5-12.9 0.7-11.8 0.9-10.9 1-9.2 1.2-8.8 1.3-6.9 1.5-5.9 1.7-4.7 0.8-1.6 0.9-1.4 0.7-0.8zM1091.2 156.7l0.9-0.2 0.8 0.2 0.7 0.6 0.8 1 0.7 1.5 0.6 1.5 1.2 4.9 0.9 5.9 0.8 7.6 0.5 8.9 0.4 10.6 0.4 19.4 0.6 60.2 0.7 34.8 1.3 39.5 2.7 64.2 0.4 11.8 0.1 9.4 0 7.1-0.3 5.9-0.4 5.3-0.6 4.2-0.7 3.3-0.9 2.4-0.6 0.9-0.6 0.7-0.5 0.3-0.8 0.2-0.7-0.1-1-0.6-0.9-0.9-0.9-1.3-1.9-3.7-1.7-4.4-1.6-5.8-1.7-7.2-1.5-8-1.3-8.3-1.3-10.1-1.1-10.3-1.1-11.4-1-12.4-1.6-27.7-1.2-30.7-0.6-33.6-0.1-32.4 0.3-15.3 0.3-14.2 0.6-12.9 0.6-11.4 0.8-9.9 1-9.4 1-7.8 1.3-7.3 1.5-6.1 1.5-4.3 1.5-2.9 0.9-1.1zM1068.3 157.9l0.9 0.1 0.9 0.7 0.7 0.9 0.8 1.5 0.7 2 0.6 1.9 1.2 5.9 0.9 6.9 0.7 9 0.5 10.6 0.4 13 0.8 70.1 0.5 29.5 0.9 36 2 62.5 0.3 12.9 0 10.6-0.1 7.7-0.3 6.5-0.4 5.3-0.7 4.7-0.8 3.6-1.1 3-0.5 0.9-0.8 0.9-0.5 0.4-0.8 0.2-0.7-0.1-0.9-0.5-1-0.9-0.9-1.3-1.7-3.3-1.7-4.5-1.5-5.3-1.5-6.7-1.3-7.4-1.3-9-1.1-9.5-0.9-10-0.9-11.2-0.9-13-1.4-28.3-1-31.8-0.4-34.8 0.1-33 0.2-14.7 0.4-13.6 0.6-12.4 0.7-11.2 0.8-9.4 0.9-8.8 1.1-7.1 1.3-6.7 1.5-5.5 1.5-3.8 0.7-1.3 0.9-1.2 0.8-0.7zM1044.5 159.1l1 0 0.9 0.5 0.9 1.2 1 1.8 0.7 2.1 0.8 2.7 1.2 7 1 8.5 0.7 10.8 0.6 13.2 0.3 15.9 1.1 89.6 1.9 90.2 0.1 13.5 0 10.6-0.3 8.3-0.4 7.1-0.5 5.9-0.8 5.3-1 3.9-1.1 2.8-0.6 0.9-0.7 0.9-0.8 0.4-0.7 0.2-0.8-0.2-0.7-0.4-0.8-0.7-0.9-1.2-1.7-3.2-1.5-4.1-1.5-5.5-1.3-6.2-1.1-6.6-1.1-8.4-1-8.6-0.8-10-1.5-23-1.1-28.3-0.8-31.8-0.4-36 0.2-34.2 0.6-28.3 0.5-12.4 0.7-10.6 0.7-9.4 0.9-8.3 1-7.3 1.2-5.8 1.3-5.1 1.5-4 0.7-1.4 0.8-1.1 0.7-0.7zM1020.2 160.3l0.6-0.4 0.6-0.1 0.6 0.1 0.5 0.3 1.1 1.2 1 1.6 0.9 2.5 0.9 3 0.7 3.6 0.7 4.1 1.1 9.8 0.8 12.6 0.6 15.9 0.4 20.7 0.8 76.6 1 74.9 0 20-0.2 15.3-0.3 8.9-0.5 7.6-0.7 6.5-0.9 5.3-1 4.2-1.3 3.2-0.8 1.2-0.7 0.8-0.8 0.5-0.7 0.1-0.8-0.1-0.7-0.4-0.8-0.7-0.7-1-1.5-2.7-1.3-3.5-1.3-4.7-1.1-5.2-1.2-6.7-0.9-7.2-0.8-7.8-0.7-8.9-1.2-21.2-1-25.9-0.6-30.6-0.3-38.4 0.1-36 0.6-30 0.4-12.4 0.5-10.8 0.7-9.9 0.8-8.2 0.8-7.1 1.1-6.3 1.3-5.8 1.3-4 0.7-1.7 0.8-1.3 0.7-1zM974.2 160.9l0-0.4 0.6 0.1 0.5 0.3 1 0.8 0.7 1.1 1.3 2.9 1.3 4.5 1.1 5.5 1 6.4 0.7 7.1 0.7 8.8 0.9 19.5 0.6 25.9 0.4 37.1 0.1 48.4-0.1 36.5-0.4 26.6-0.6 20-1 15.9-0.7 7.1-0.8 5.9-0.9 5.3-1 4.1-1.3 3.8-1.3 2.5-1.3 1.5-0.8 0.4-0.7 0.2zM996.4 160.9l0.7-0.4 0.6-0.2 0.8 0.2 0.5 0.3 0.8 0.7 0.5 0.7 1.1 2.3 1.2 3.3 0.9 3.9 0.8 4.5 0.7 5.3 1.1 12.4 0.9 16.5 0.5 20.6 0.4 28.3 0.7 115.6-0.1 25.9-0.5 19.3-0.5 9-0.7 7.7-0.8 6.4-1 5.8-1.3 4.7-1.3 2.9-0.8 1.2-0.7 0.7-0.8 0.5-0.7 0.1-0.8-0.1-0.7-0.5-1.3-1.4-1.3-2.3-1.3-3.5-1.1-4-1.2-5.5-0.9-5.9-0.7-6.2-0.7-7.1-0.6-8.2-1-18.9-0.6-23.6-0.5-30-0.2-41.9 0.2-40.1 0.5-30.6 0.9-23 0.6-9.5 0.7-8.2 0.8-7.4 1-5.9 1.1-5.3 1.3-4.3 1.3-2.9 0.8-1.1z"/>
<path fill="#4367fd" d="M1506.3 162.1l0.4 0.1 0.4 0.3 0.5 0.9 0.6 1.5 0.5 2.2 1.2 6.8 0.9 9.1 1.3 19.4 3.2 62.2 2 30.1 1.5 19.4 1.6 18.9 1.8 18.3 2.1 18.8 2.2 18.3 2.5 18.9 2.7 18.9 2.9 18.8 5 30.1 11.1 62.5 3.2 19.4 1 8.3 0.5 5.9 0 1.7-0.2 1.8-0.4 1.1-0.2 0.2-0.3 0.1-0.8-0.3-1.1-1.3-1.3-2.2-1.5-2.9-3.4-8.1-3.7-10.3-3.9-12.1-3.9-13.4-3.9-14.5-4-15.7-3.3-14.6-3.4-15.7-3.2-16.1-2.8-15.5-2.6-15.6-2.4-15.9-2.2-16.3-2.1-16.6-1.8-16.5-1.5-16.4-1.3-16.3-1.1-16.3-0.8-15.9-0.6-15.9-0.3-15.3 0-15.4 0.3-15.3 0.5-14.1 0.8-13 1.2-12 1.4-10.4 0.8-4.6 0.7-3.3 0.8-2.6 0.9-2.3 0.8-1 0.3-0.3zM1528.5 162.1l0.4-0.3 0.4 0 0.3 0.2 0.4 0.4 0.8 1.5 0.5 1.8 1.1 6 1.1 9.2 0.7 9.5 0.8 11.2 3.5 64.8 2.2 31.8 1.7 20.7 1.8 19.4 2.1 20.1 2.3 19.4 2.4 18.9 2.6 18.8 2.9 18.9 3.1 19.5 5.3 31.2 11.7 63.1 3.4 20 1.1 8.3 0.5 5.9 0 2.3-0.2 1.2-0.3 0.7-0.2 0.2-0.3 0.2-0.4-0.1-0.6-0.4-0.9-1.1-1.5-2.5-1.5-3.1-3.5-8.5-3.9-10.9-4.1-12.7-4.2-13.8-4.1-15-3.9-15.5-3.5-15.1-3.4-15.4-3.3-16.6-3-16-2.8-16.2-2.6-16.6-2.3-16.1-2.2-16.5-1.9-16.6-1.7-16.6-1.4-16.4-1.2-16.5-0.9-16.5-0.6-15.3-0.5-15.3-0.1-15.3 0.1-15.4 0.4-14.1 0.7-14 0.9-12.1 1.2-10.5 1.4-9 0.8-3.3 0.9-3.2 0.8-1.7zM1551.3 162.1l0.3-0.3 0.4-0.1 0.4 0.1 0.4 0.4 0.7 1.4 0.6 1.8 1.1 5.8 1.1 9.5 1.5 19.8 3.9 66.5 2.5 34.8 1.8 20.6 2 20.6 2.3 20.7 2.5 20.6 2.6 19.4 2.8 19.5 3 19.5 3.4 20 6 33.6 12 62.5 3.6 20 1.2 8.3 0.5 5.9 0.1 2.3-0.2 1.6-0.2 0.8-0.5 0.5-0.4-0.1-0.4-0.2-1.1-1.3-1.5-2.5-1.5-3-3.5-8.4-4.1-11.3-4.3-13-4.3-14.3-4.3-15.4-4.3-16.6-3.7-15.6-3.6-15.8-3.3-16.2-3.2-16.4-3-16.8-2.6-16-2.6-17.4-2.3-16.6-2-17-1.8-17.1-1.6-16.5-1.3-16.6-1-16.5-0.8-16.5-0.5-15.9-0.3-15.3 0-15.9 0.4-15.4 0.6-14.1 0.9-12.8 1.2-11.4 1.4-9.1 0.7-3.4 0.8-2.7 0.7-1.9zM1574.2 162.1l0.4-0.3 0.4 0 0.5 0.4 0.8 1.3 0.5 1.8 1.2 5.5 1.1 9.1 0.8 9.3 0.9 12.2 4.2 68.5 2.8 36.6 2 22.4 2.4 22.4 2.6 22.4 2.8 21.8 2.6 18.3 2.8 18.2 3.1 18.9 3.1 18.3 3.5 19.4 3.9 20.7 14.2 71.3 2.3 13.6 1.2 8.8-5.3 0-3.1-7.1-4.8-13-5.1-15.1-5.2-17.4-5-18.2-4.3-16.7-4.1-17.2-4-17.7-3.5-17.3-3.4-17.7-3.1-18.2-3-18.8-2.6-18.1-2.3-17.4-2-17.7-1.7-17.1-1.5-17.2-1.2-17-1-17.1-0.6-16.5-0.4-16.5-0.1-16.5 0.2-15.9 0.5-14.7 0.9-13.6 1.1-12 1.4-9.1 0.7-3.7 0.7-2.9 1-2.5zM1597.5 162.1l0.4 0 0.4 0.3 0.6 0.8 0.5 1.5 0.6 2.1 1.1 6.4 0.9 8.1 0.8 8.3 0.9 12.8 4.4 67.5 1.4 19.5 1.6 18.8 2.2 23 2.4 22.4 2.8 23 3 22.4 3 20.7 3.2 20 3.5 21.2 3.7 20.7 7 35.9 13.3 64.9 3.9 20.6-8.4 0-4.3-11.8-4.6-14.1-4.7-15.3-4.5-15.7-4.6-17.6-4.5-18.2-4.3-18.7-4.1-19.3-3.7-19.1-3.6-19.8-3.2-19.4-2.9-20.2-2.5-18.3-2-17.5-1.9-17.9-1.5-17.1-1.3-17.7-1-17.7-0.8-17.1-0.4-16.5-0.1-17.1 0.2-16.5 0.5-15.3 0.9-13.4 1.1-11.5 0.7-5.5 0.8-4.4 0.7-3.3 0.8-2.5 0.7-1.6 0.4-0.5zM1482.9 162.6l0.6-0.1 0.4 0.1 0.4 0.4 0.7 1.5 0.6 1.8 0.6 2.5 0.6 3.9 1 9.6 1.2 16.9 2.9 59.5 2.2 36 1.3 18.3 1.7 18.8 1.7 18.3 2 18.3 2 17.7 2.2 17.1 2.5 17.6 2.6 17.7 4.5 28.3 10.2 59.6 3 18.8 1.1 8.9 0.4 6.5 0 1.7-0.2 1.8-0.4 1-0.6 0.5-0.7-0.3-1.1-1.3-1.1-1.7-1.5-2.9-3.2-7.5-3.6-9.8-3.7-11.6-3.7-12.7-3.7-13.9-3.8-15.2-3.2-14-3.1-15-3-15.4-2.8-15.8-2.6-15.9-2.3-15.2-2-15.5-2-16.5-1.6-15.3-1.5-15.9-1.2-15.9-1-15.9-0.7-16-0.5-15.3-0.3-14.7 0-14.8 0.3-14.7 0.6-14.1 0.8-13 1-11.2 1.4-10.5 1.5-7.9 0.8-2.8 0.7-2.2 0.8-1.6zM1620 162.6l0.3-0.1 0.4 0 0.5 0.4 0.8 1.5 0.5 1.8 1.2 5.8 1.1 8.9 1.7 19.9 4.7 70.3 1.7 20.6 1.7 19.5 2.4 24.2 2.6 23 2.8 22.4 3.2 22.9 3.2 21.3 3.5 21.8 3.8 21.8 4 21.8 3.9 20 4.3 21.3 15.1 71.3-10.3 0-3.3-9.8-3.6-11-3.5-11.7-3.4-11.6-5-18.4-5.1-19.9-4.6-19.9-4.3-19.7-4.1-20.4-3.8-20.2-3.3-19.9-3.2-20.9-2.4-17.7-2.3-18.2-2-18.3-1.6-17.7-1.4-17.1-1.1-17.7-0.9-17.7-0.6-16.5-0.2-17.1 0-16.5 0.4-15.3 0.7-14.1 1.1-13.2 1.4-9.9 0.7-3.9 0.7-2.9 0.8-2 0.4-0.6zM1459.9 163.2l0.5-0.2 0.4 0.1 0.7 0.6 0.8 1.6 0.5 1.9 0.6 2.6 0.6 3.6 1 9.3 1.1 18.3 2.7 58.3 2 33.6 1.3 18.3 1.4 17.7 1.6 17.1 1.8 17.7 1.9 17.1 2 16.5 4.6 33.6 4.9 31.8 9.1 55.4 2.6 17.1 1 8.9 0.3 6.4-0.1 1.8-0.2 1.8-0.4 0.9-0.6 0.3-0.4-0.1-0.5-0.4-0.9-1.1-1.4-2.1-1.3-2.6-3.1-7.5-3.4-9.4-3.5-11.2-3.6-12.3-3.5-13.5-3.6-14.7-3-13.4-2.9-14.6-2.8-14.9-2.6-15.1-2.5-15.4-2.2-15.6-2-15.4-1.7-15.3-1.6-15.3-1.3-15.9-1.1-15.4-0.9-15.3-0.6-15.3-0.4-14.7-0.2-14.8 0.1-14.1 0.3-14.8 0.6-13.2 0.9-12.1 1.1-11.2 1.4-10.3 1.5-7.6 0.7-2.8 0.8-2.1 0.7-1.6zM1642.9 163.2l0.4-0.1 0.3 0.1 0.6 0.5 0.6 1.2 0.5 1.7 1.1 5.6 1.1 8.6 1 9.6 0.9 11.6 3.4 49.1 1.7 22.4 1.7 20 1.7 18.9 2.4 23.6 2.8 24.1 3 23 3.2 23 3.3 21.8 3.6 21.8 3.9 21.8 4.3 23 4.5 22.4 4.6 22.4 14 63.7-11.8 0-5.1-15.8-5-16.9-5.4-19.5-5.2-20.2-5.1-21-4.6-20.9-4.3-20.9-4.1-21.7-3.8-21.7-3.3-21.6-2.6-18.5-2.3-18-2-18-1.7-17.6-1.5-17.8-1.2-18.2-0.9-17.1-0.7-17.1-0.3-17.7 0-16.5 0.3-15.9 0.7-14.2 1-12.8 1.3-10.3 0.7-4 0.8-2.9 0.7-2zM1437.2 163.8l0.5-0.1 0.3 0.1 0.8 0.8 0.7 1.7 0.6 2.1 0.5 2.7 0.6 3.8 0.9 9.1 1.1 18 2.5 56.7 1.7 31.9 1.2 17.1 1.3 17.1 1.5 17.1 1.6 16.5 3.6 32.4 4.2 32.4 4.5 30.7 8.6 54.2 2.3 17.1 1 8.8 0.3 6.5-0.1 1.8-0.3 1.8-0.5 1-0.5 0.3-0.8-0.3-1.1-1.2-1.1-1.8-1.3-2.5-3-7-3.3-9.4-3.4-10.6-3.4-11.8-3.3-13-3.4-14.1-3-13.8-2.8-14-2.6-14.2-2.4-14.4-2.3-15.3-2.2-15.3-1.8-15.4-1.7-15.3-1.5-15.3-1.2-15.4-1-15.3-0.8-15.3-0.5-14.7-0.3-14.8-0.1-14.1 0.1-14.2 0.5-14.1 0.7-13 0.9-12 1.1-10.4 1.5-9.9 1.5-7 0.8-2.5 0.7-2 0.7-1.3zM1665.4 164.4l0.6-0.5 0.4 0 0.4 0.3 0.7 1.3 0.6 1.7 0.7 3.1 0.6 3.5 1.1 8.8 1.9 20.7 5.1 68.4 3 34.8 2.2 21.8 2.4 21.2 2.7 21.2 2.9 21.8 2.9 19.5 3.1 20 3.2 18.9 3.6 20.1 3.8 20.6 4 20 4.4 21.2 4.8 22.1 0 48.1-2 0-4.2-13.4-4.1-14-4.8-17.4-4.9-18.5-4.4-18.2-4.3-18.5-3.4-15.5-3.3-16.3-3-15.5-3-16.5-2.8-16.6-2.4-15.5-2.5-16.8-2.1-16-2-16.5-1.7-15.9-1.5-16-1.3-15.9-1.1-15.9-0.8-15.3-0.6-15.4-0.4-14.7-0.2-15.3 0.1-14.2 0.4-13.5 0.6-11.7 0.9-11.4 1.1-8.8 1.2-5.9 0.7-2.2zM1413.8 165l0.7-0.4 0.4 0 0.4 0.1 0.7 1 0.6 1.3 0.5 1.9 0.7 3.2 1 7.9 0.8 9.2 0.7 12.9 2.2 54.3 1.5 28.9 1.8 28.3 2.2 27.1 1.6 17.1 1.8 17.1 1.9 17.1 2.2 17.6 4.7 33.6 8.3 56 2.2 16.6 0.8 8.2 0.2 6.5-0.1 2.3-0.3 1.8-0.4 0.8-0.6 0.4-0.7-0.2-0.9-0.9-1.2-1.7-1.3-2.4-2.8-6.4-3.1-8.8-3.2-10-3.2-11.1-3.2-12.3-3.1-13.5-2.8-12.9-2.8-14.2-2.4-13.5-2.5-14.7-2.1-14.2-2-14.7-1.8-15.3-1.6-14.8-1.4-15.3-1.1-14.7-1-14.8-0.7-14.7-0.5-14.7-0.3-14.2 0-14.1 0.2-13.6 0.4-13.6 0.6-12.3 0.9-11.8 1.2-10.6 1.2-8.8 1.5-7.6 0.7-2.9 1-2.8 0.7-1.6zM1688.6 165l0.6-0.1 0.5 0.4 0.6 1.1 0.5 1.6 1.2 5.2 1.1 8 0.9 8.6 1.1 12.6 4 52.2 2.3 26.5 2.1 23 2.3 23 3.2 27.1 3.4 26.6 3.9 27.1 4.2 26.4 0 91.9-5.8-25.1-5.2-24.8-4.9-25.2-4.4-25.7-4-25.3-3.5-25.8-2.9-25.4-2.5-24.7-2-26.6-1.4-25.3-0.8-24.8-0.2-23 0.2-11.7 0.4-10.7 0.5-9.4 0.7-8.9 0.9-8 0.9-5.4 1-3.5 0.5-1.2zM1391.3 165.6l0.6-0.1 0.8 0.5 0.7 1.4 0.6 1.6 0.6 2.3 0.5 3.2 0.9 7.9 0.7 9.1 0.7 11.4 2 54.1 1.3 26.5 1.6 26.5 1.9 25.4 1.5 16.5 1.6 16.5 1.8 16.5 2 17.1 4.2 32.4 7.8 54.8 2.1 16.8 0.7 8.6 0.2 6.5-0.1 2.3-0.3 1.5-0.5 1.3-0.6 0.3-0.8-0.2-0.9-0.9-1.1-1.6-1.1-2.1-2.8-6.3-3-8.3-3-9.4-3.2-11.3-3.1-12.5-3-13-2.6-12.5-2.6-13.7-2.5-13.9-2.2-14.2-2.1-14.4-1.8-14.7-1.7-14.8-1.4-14.4-1.3-14.7-1-15.1-0.9-14.4-0.6-14.7-0.4-14.2-0.1-14.1 0-13.6 0.3-13.5 0.5-13.1 0.8-12.3 1-11.2 1.2-10.1 1.5-9 1.5-6.4 0.8-2.3 0.7-1.9 0.7-1.3zM1711.4 166.2l0.5-0.2 0.6 0.4 0.5 1 0.6 1.5 1.1 5.1 0.9 6.1 1 8 1.1 11.5 2.8 34.3 0 171.8-2.6-18.2-2.4-18.5-2.1-17.7-1.9-17.9-1.6-18.1-1.3-17.7-1.1-17.1-0.7-17.1-0.6-17.6-0.1-16.5 0.1-15.4 0.5-14.4 0.7-12.1 1.2-10.6 0.5-3.6 0.8-3.5 0.7-2.3zM1368.2 166.8l0.4-0.2 0.4 0 0.7 0.5 0.8 1.3 0.5 1.6 0.6 2.3 0.6 3.3 1 8.9 0.6 8.6 0.7 12 1.8 51.3 1.2 25.9 1.3 24.2 1.7 24.2 2.8 31.8 3.5 33 3.8 30.7 7.2 53.6 2 17.1 0.7 8.8 0.1 6.5-0.2 2.4-0.2 1.3-0.6 1.3-0.6 0.4-0.7-0.2-0.9-0.8-1.2-1.6-1.1-2-2.6-5.9-2.8-7.7-2.8-8.8-3-10.7-3-11.9-2.8-12.3-2.6-12.7-2.4-13-2.2-13.2-2.1-13.3-1.9-13.9-1.8-14.4-1.6-14.5-1.4-14.7-1.2-14.2-1-14.7-0.7-14.7-0.6-14.2-0.3-14.1-0.1-13.6 0-13.6 0.4-12.9 0.5-12.5 0.8-12.3 1-11.2 1.2-9.3 1.5-9 1.5-6.4 0.7-2.3 0.8-1.9 0.7-1.4zM1345.2 167.9l0.5-0.2 0.3 0.1 0.8 0.5 0.7 1.3 0.7 1.9 0.6 2.8 0.6 3.4 0.9 8.5 0.7 9.5 0.6 11.7 1.7 49.6 1 24.7 1.2 22.4 1.4 21.8 2.5 30.7 3.2 31.8 3.5 30.7 6.5 51.3 1.8 17.1 0.7 9.4 0.1 6.5-0.2 2.3-0.4 1.8-0.6 1.2-0.5 0.3-0.8-0.2-0.9-0.8-0.9-1.3-1.2-1.9-2.4-5.4-2.8-7.6-2.8-8.9-2.8-10.2-2.8-11.3-2.6-11.8-2.4-12.1-2.3-12.2-2.2-13.6-2-13.3-1.7-13.1-1.7-14.2-1.5-14.3-1.3-14.4-1.1-14.7-0.9-14.1-0.7-14.2-0.4-14.1-0.3-13.6-0.1-13.6 0.2-12.9 0.4-13 0.6-12.4 0.8-11.3 1-10.5 1.2-9.3 1.5-8.5 1.5-6.1 0.8-2.2 0.7-1.8 0.8-1.3zM1322.3 169.1l0.4-0.1 0.4 0 0.7 0.6 0.8 1.3 0.8 2.4 0.7 3.4 0.5 3.6 1 9.5 0.5 8.9 0.6 11.7 1.4 46 0.9 23 1 20.6 1.2 20 2.3 30.7 2.8 30.6 3.2 28.9 6 51.3 1.8 17.7 0.6 9.4 0 6.5-0.3 2.4-0.4 1.8-0.5 1.1-0.4 0.3-0.4 0.1-0.7-0.3-1-0.8-0.9-1.3-1.1-2-2.4-5.4-2.7-7.3-2.6-8.5-2.8-10.4-2.6-10.9-2.4-11.3-2.2-11.5-2.1-11.7-2.1-13-1.8-13.1-1.7-13.2-1.6-14.1-1.4-14.1-1.1-13.6-1-14.1-0.8-14.2-0.6-14.1-0.4-13.6-0.1-13.5 0-13.6 0.2-12.4 0.4-12.4 0.7-11.8 0.9-11.2 1-10 1.2-8.6 1.5-8.1 1.5-5.8 0.7-2.1 0.8-1.7 0.7-1.2zM1298.6 170.9l0.4-0.3 0.6-0.3 0.5 0.1 0.4 0.2 1 1.4 0.7 2 0.7 3.2 0.7 3.7 0.5 4.7 0.5 5.9 0.6 9 0.5 11.1 1.5 48.9 0.9 24.8 1.2 24.1 1.5 23.6 1.8 23 2.2 24.2 2.5 25.3 5.4 48.9 1.1 11.8 0.7 8.3 0.3 7.7-0.2 5.8-0.4 2.4-0.4 1.3-0.5 0.9-0.4 0.3-0.4 0.1-0.7-0.3-0.9-0.9-1-1.3-1.1-1.9-2.2-5-2.5-6.8-2.4-7.9-2.4-9-2.4-10.1-2.5-11.5-2-10.7-2.1-12-1.8-12-1.8-12.8-1.6-12.9-1.5-13.6-1.3-13.6-1-13-0.9-13.5-0.8-14.2-0.5-13.5-0.4-13.6-0.2-13.6 0.1-12.9 0.2-12.4 0.4-11.8 0.7-11.8 0.8-10.6 1-10 1.2-8.6 1.3-7.4 1.5-6.2 1.5-4.3 0.7-1.4zM1275.8 172.1l0.5-0.3 0.5-0.1 0.6 0.3 0.4 0.3 0.9 1.7 0.7 2.3 0.8 3.4 0.5 4 1.1 10.8 0.5 8.8 0.4 11.2 1.4 47.2 0.9 23.6 1 22.9 1.3 21.9 1.6 21.8 1.8 22.4 2.3 23.6 4.9 48.8 0.9 10.7 0.6 8.8 0.3 8.9-0.3 5.7-0.3 1.9-0.4 1.5-0.6 0.9-0.4 0.3-0.4 0.1-0.7-0.2-0.9-0.8-1-1.2-0.9-1.6-2.2-4.9-2.3-6.1-2.2-7.3-2.4-9-2.3-9.6-2.2-10.7-2.1-11-1.8-11.2-1.9-12.5-1.7-12.7-1.5-12.7-1.3-12.7-1.2-13.6-1-13.5-0.8-13.6-0.7-13.5-0.5-13.6-0.3-13.5-0.1-13 0.1-13 0.3-12.4 0.5-11.4 0.7-11 0.8-10.1 1-9.3 1.2-8.6 1.3-7 1.5-5.8 1.5-4 0.8-1.4zM1253.1 173.3l0.4-0.2 0.6 0.2 0.5 0.4 0.4 0.5 0.9 2 0.8 2.7 0.7 3.8 0.6 4.5 0.9 11.2 0.9 19.7 1.2 44.8 0.8 21.8 0.9 21.8 1.2 20.6 1.3 20.1 1.6 21.2 1.9 22.4 4.4 47.1 0.9 11.2 0.5 8.9 0.2 8.8-0.1 3.6-0.2 2.9-0.4 2.3-0.5 1.7-0.6 0.8-0.7 0.4-0.8-0.2-0.9-0.8-1-1.2-0.9-1.6-2-4.5-2.3-6.1-2.2-7.4-2.3-8.6-2-9-2.1-10.1-1.8-10.3-1.9-11.7-1.7-11.8-1.5-11.8-1.4-12.7-1.2-12.9-1.1-13.6-1-13.5-0.7-13.6-0.6-13.6-0.4-13.5-0.2-13.6-0.1-13 0.2-12.3 0.4-12.3 0.5-11.3 0.8-11.2 0.9-9.4 1-8.9 1.3-7.8 1.3-6.4 1.5-5.2 0.7-2 0.8-1.5 0.7-1.1zM1229.4 175l0.6-0.3 0.6-0.1 0.5 0.2 0.6 0.5 0.9 1.7 0.9 3.1 0.8 3.8 0.6 4.7 0.6 5.9 0.5 7.1 0.8 19.4 1.9 64.3 0.7 19.4 1 19.5 1.1 18.8 1.4 20.1 1.7 21.8 3.8 44.8 0.8 11.2 0.5 8.8 0.2 9.5-0.2 4.1-0.2 2.9-0.5 2.7-0.5 1.7-0.8 1-0.7 0.3-0.8-0.3-0.7-0.6-1-1.1-0.9-1.6-2-4.4-2.1-5.6-2-6.8-2.1-8-2-9.1-1.9-9.5-1.7-9.6-1.7-10.7-1.6-12.1-1.4-11.7-1.4-12.4-1.1-12.4-1-12.9-0.9-13-0.6-13-0.6-13.6-0.4-13.5-0.1-13 0-12.4 0.1-12.4 0.4-11.7 0.5-11.2 0.7-10.7 0.9-9.8 1.1-9 1.1-7.5 1.3-6.5 1.3-4.8 1.5-3.8 0.8-1.3zM1206.6 176.2l0.6-0.2 0.6 0.2 0.6 0.4 0.5 0.7 0.9 2.1 0.9 3.3 0.7 4.1 0.7 5.2 0.5 6.3 0.5 8 0.8 18.8 1.6 60.7 1.5 36.6 2.1 34.8 4.7 64.8 0.7 11.2 0.4 8.9 0.2 10.6-0.2 3.5-0.3 3.6-0.4 2.4-0.5 1.8-0.8 1.3-0.4 0.3-0.5 0.1-0.8-0.2-0.7-0.6-1-1.1-0.9-1.5-1.9-4-2-5.6-2.1-7-1.8-7.4-1.9-8.5-1.9-9.9-1.6-10.1-1.5-10.3-1.5-11.6-1.3-11.6-1.2-12-1-12.4-1.7-25.4-0.6-13.3-0.5-13.2-0.2-13-0.1-12.9 0-12.4 0.3-12.4 0.3-11.2 0.6-11.2 0.8-10 0.8-9.1 1.1-8.6 1.2-7 1.3-6.1 1.5-5 0.7-1.9 0.8-1.4 0.7-1zM1182.9 178l0.6-0.4 0.8-0.1 0.5 0.2 0.6 0.5 0.6 0.9 0.5 1.3 1 3.5 0.9 4.6 0.7 6 0.6 6.8 0.5 8.5 0.7 18.9 1.5 57.7 1.3 33.6 1.9 36.6 3.9 60.7 0.8 17.7 0.1 11.2-0.2 4.1-0.4 3.6-0.5 2.9-0.7 1.8-0.7 1-0.4 0.3-0.5 0.1-0.8-0.2-0.7-0.6-0.8-0.8-0.9-1.5-1.9-3.9-1.8-5.1-1.9-6.3-1.7-6.7-1.7-7.8-1.6-8.9-1.5-9.1-1.5-10.5-1.3-10.4-1.3-12-2.1-23.7-1.6-25.4-1-25.9-0.2-13-0.1-13 0-12.3 0.3-12.4 0.4-11.2 0.5-10.6 0.7-10.1 0.8-8.5 1.1-8.5 1.1-7.1 1.3-6.5 1.4-4.7 1.3-3.2 0.7-1.3zM1159.9 179.1l0.7-0.3 0.5 0.1 0.8 0.4 0.6 0.6 0.5 1 0.6 1.4 1.1 4.3 0.8 4.9 0.7 6.5 0.6 7.7 0.5 9.2 0.6 17.9 1.4 54.8 1 30.1 1.6 34.2 3.2 57.2 0.7 18.8 0 11.8-0.2 4.7-0.4 3.6-0.6 2.9-0.6 2-0.4 0.7-0.5 0.8-0.4 0.3-0.5 0.1-0.8-0.1-0.7-0.6-0.8-0.8-0.9-1.4-1.7-3.4-1.9-5.1-1.6-5.7-1.7-6.8-1.7-8.1-1.5-8.3-1.5-9.7-1.2-9.3-1.2-10-1.1-11.2-2-23.6-1.4-25.6-0.9-26.3-0.2-25.9 0.1-12.4 0.3-11.8 0.4-11.2 0.6-10 0.7-9.4 0.8-8.9 1-7.7 1.1-6.8 1.3-6 1.3-4.4 0.8-1.9 0.7-1.5 0.8-1.1zM1136.9 180.3l0.6-0.2 0.7 0.2 0.7 0.6 0.6 0.8 0.6 1.1 0.6 1.7 1 4.5 0.9 5.5 0.7 7.1 0.6 8.8 0.5 10.6 0.6 17.7 1.2 50.1 0.8 26.5 1.2 30.7 2.6 54.8 0.6 20.6-0.1 12.4-0.3 4.7-0.4 4.2-0.6 3.4-0.8 2.2-0.9 1.4-0.4 0.3-0.6 0.2-0.7-0.2-0.8-0.5-0.7-0.8-0.7-1-1.7-3.4-1.7-4.5-1.7-5.7-1.5-6.1-1.5-7.3-1.5-8.6-1.3-8.8-1.2-9.6-1.1-10-1-10.9-1.8-23.9-1.3-25.3-0.7-26.6-0.2-25.9 0.2-12.4 0.3-11.8 0.5-11.2 0.6-9.8 0.7-9.4 0.9-8.5 1-7.3 1.1-6.4 1.3-5.6 1.3-4 1.3-2.8 0.7-1zM1113.6 181.5l0.7-0.2 0.8 0.2 0.7 0.7 0.7 1.1 0.6 1.4 0.6 1.7 1.1 5.1 0.9 6.6 0.8 8.1 0.6 10.1 0.5 12.3 2 82.6 1 28.3 2 53.6 0.4 12.4 0.1 10-0.2 13-0.3 5.3-0.5 4.2-0.7 3.5-0.8 2.4-1 1.5-0.5 0.5-0.6 0.1-0.7-0.1-0.8-0.5-0.7-0.8-0.8-1-1.5-3-1.6-4.5-1.5-5.2-1.5-6.3-1.3-6.7-1.3-7.8-1.2-8.7-1.2-9.4-1.9-20.8-1.6-23.5-1.1-25.3-0.6-26.5-0.1-26 0.5-23.5 0.5-10.8 0.5-9.9 0.8-9.1 0.9-8.6 0.9-7 1.1-6.3 1.2-4.7 1.3-4.1 1.3-2.8 0.7-1zM1090.1 182.7l0.9-0.3 0.7 0.2 0.8 0.6 0.7 1.2 0.8 1.7 0.7 2.4 1.1 5.5 1 7.1 0.8 9.3 0.6 11.8 0.5 14.1 1.8 77.8 2.1 73.1 0.3 13 0 10-0.1 7.1-0.2 6.5-0.4 5.3-0.6 4.7-0.7 3.7-0.9 2.8-0.6 1-0.6 0.7-0.5 0.4-0.6 0.1-0.5-0.1-0.8-0.4-0.7-0.7-0.8-1.1-1.5-2.9-1.5-4-1.5-5.2-1.3-5.7-1.3-7-1.1-7.1-1.1-8.5-0.9-8.4-1.8-20.1-1.4-23-1-25.3-0.5-27.1 0-26 0.5-23.5 0.4-10.6 0.6-9.6 0.7-8.7 0.8-8.1 0.9-7.1 1.1-6.1 1.1-5.2 1.4-4.1 1.3-2.7 0.5-0.8zM1067.5 183.3l0.7 0.1 1 0.7 0.9 1.5 0.7 1.8 0.8 2.5 0.7 3.4 1.2 7.5 0.9 9.6 0.7 11.8 0.5 14.7 0.5 19.5 2.5 120.2 0.2 17.1 0 13-0.3 8.2-0.3 6.5-0.5 5.3-0.7 4.6-0.8 3.7-1.1 2.6-0.5 0.9-0.6 0.6-0.5 0.4-0.6 0.1-0.6-0.1-0.7-0.5-0.8-0.8-0.7-1-1.5-3.1-1.3-3.7-1.3-4.8-1.3-6-1.1-6.3-1.2-7.8-0.9-7.9-0.9-9.4-1.5-20.4-1.2-23.6-0.8-26.5-0.3-27.7 0.1-26 0.7-23 0.4-10 0.7-9.4 0.7-8.3 0.8-7.1 0.9-6.3 1.2-5.7 1.1-4.2 1.3-3.6 1.3-2.1 0.7-0.7zM1043.2 184.5l1-0.5 0.5 0 0.6 0.3 0.9 1 1 1.8 0.9 2.7 0.7 3 0.8 4 0.5 3.8 1 9.8 0.9 13 0.6 15.9 0.5 21.2 1.7 104.9 0.1 21.8-0.2 16-0.3 7.6-0.5 7.1-0.6 5.9-0.7 4.7-0.8 3.5-1.1 2.9-0.6 1-0.5 0.7-0.6 0.4-0.7 0.3-0.6-0.1-0.7-0.4-1.3-1.5-1.3-2.5-1.4-3.6-1.3-4.7-1.1-5.3-1-6-0.9-6.5-1.6-15.2-1.4-19-1-22.4-0.7-25.3-0.4-28.3 0.1-27.2 0.6-24 0.9-19.6 0.7-8.2 0.7-7.7 0.8-6.6 1-5.6 1.1-5 1.1-3.7 1.3-2.9 0.6-0.8zM974.2 185l0.4 0 0.7 0.4 0.8 0.8 0.5 0.9 1.1 2.5 1.2 3.9 0.9 4.4 0.8 5.4 0.8 6.5 0.6 7.1 1 17.1 0.7 21.8 0.5 28.3 0.1 33-0.1 29.5-0.4 24.1-0.7 18.9-1 15.3-0.6 6.7-0.8 5.7-0.9 5.4-0.9 3.9-1.2 3.4-1.1 2.3-1.1 1.4-0.6 0.4-0.7 0.1zM996.8 185l0.7-0.2 0.6 0.1 0.5 0.3 0.6 0.6 1.1 1.8 1.1 3 1 3.6 0.9 4.9 0.8 5.4 0.7 7.1 1 14.7 0.8 18.9 0.5 24.7 0.4 32.5 0.1 36.5-0.1 27.7-0.4 21.2-0.7 15.9-0.6 7.1-0.6 6-0.8 5.1-0.9 4.6-1.1 3.7-1.1 2.5-1.2 1.4-0.5 0.3-0.8 0.2-0.5-0.1-0.8-0.5-0.5-0.5-0.8-1.1-1.1-2.4-1.1-3.3-1-3.7-0.9-5.1-0.9-6-0.8-6.4-1.1-14.7-0.9-18.3-0.7-22.4-0.3-26.5-0.1-31.3 0.3-28.3 0.6-23 1-18.8 0.6-8.3 0.7-7 0.9-6 0.9-5.1 0.9-3.8 1.2-3.4 1.3-2.4 0.5-0.7zM1019.7 185l0.6-0.3 0.5-0.2 0.6 0.1 0.6 0.3 0.5 0.5 0.6 0.8 0.9 1.9 0.9 2.8 0.9 3.6 0.8 4.7 0.7 4.7 1 11.3 0.9 15.2 0.6 19.5 0.5 25.3 0.6 49 0.3 36.5-0.1 23-0.5 17.7-0.4 8.2-0.5 6.5-0.7 5.9-0.9 4.7-0.9 3.8-1.1 2.8-1.2 1.6-0.5 0.4-0.8 0.3-0.5-0.1-0.8-0.4-0.5-0.5-0.8-0.9-1.3-2.6-1.1-3.1-1.1-4.2-1-4.7-0.9-5.3-0.9-6.8-1.5-15-1.1-18.3-0.8-21.8-0.6-24.8-0.2-29.5 0.1-28.3 0.5-23.5 1-20.1 0.6-8.2 0.7-7.4 0.7-6 1-5.8 1.1-5.2 1.1-3.7 1.1-2.6 0.6-0.9z"/>
<path fill="#2d8cf3" d="M1344.2 193.3l0.4-0.2 0.3 0.1 0.8 0.6 0.7 1.4 0.8 2.5 0.7 3.7 0.6 3.8 1.1 10.9 1.2 18.5 3.3 63.6 1.4 20.7 1.4 19.4 1.6 18.9 1.8 20 6.9 64.9 1.7 19.4 0.4 8.9-0.1 5.9-0.2 1.7-0.4 1.6-0.5 1-0.6 0.2-0.7-0.3-0.8-0.8-1.7-2.8-2-4.9-2.1-5.9-2.2-7.5-2.3-8.6-2.2-9.5-2-9.7-2.1-10.7-1.9-10.8-1.6-10.6-1.7-11.5-1.5-11.9-1.3-11.5-2.3-23.7-0.9-12.4-0.7-12.1-1-23.9-0.3-11.7-0.1-11.2 0.1-11.2 0.3-10.7 0.4-10 0.7-10 0.8-8.7 0.9-7.7 1.1-6.7 1.2-4.9 1.3-3.8 0.5-1zM1366.9 193.3l0.4-0.3 0.4-0.1 0.4 0.1 0.3 0.3 0.8 1.2 0.7 2.2 0.7 3.1 0.6 3.7 1.2 10.4 1.3 18.3 2.4 46 1.3 21.8 1.4 20.6 1.6 20.7 1.9 21.2 2.1 20.6 2.4 22.4 5.1 45.2 1.9 19.1 0.4 7.6 0 5.9-0.2 1.8-0.4 1.7-0.4 0.8-0.5 0.5-0.6-0.1-0.7-0.6-0.8-1-0.9-1.7-2-4.6-2.3-6.3-2.2-7.3-2.5-9-2.4-10-2.2-10.3-2.1-10.3-2-11.3-1.9-11.4-1.7-11.3-1.6-12.1-1.4-11.8-1.4-12.4-1.1-12.4-1-12.4-0.9-12.3-0.6-11.8-0.5-12.4-0.3-11.8-0.2-11.8 0-11.2 0.2-10.6 0.4-11.1 0.6-9.7 0.7-9.1 1-8.4 1.1-7.3 1.1-5.2 1.1-3.6 0.6-1.2zM1389.8 193.3l0.5-0.4 0.3-0.1 0.4 0.1 0.4 0.3 0.7 1.2 0.8 2.2 0.7 3.2 0.6 3.7 1.1 9.9 1.4 18.8 2.5 46 1.4 22.4 1.7 23 1.8 21.8 2.1 21.8 2.2 21.8 2.7 23 5.7 46.8 1.1 10.4 0.8 8.8 0.5 7.7 0 5.3-0.2 2-0.4 1.5-0.4 0.8-0.5 0.3-0.8-0.3-0.7-0.8-1.7-2.9-2-4.8-2.5-6.9-2.4-8.1-2.4-9-2.4-10-2.5-11-2.2-11.1-2.1-11.2-1.8-11.1-1.9-12.2-1.7-12.1-1.5-12-1.3-12-1.3-12.9-1-12.4-0.9-12.4-1.3-24.2-0.4-12.4-0.2-11.7 0-11.2 0.1-11.2 0.4-11.2 0.5-10.1 0.7-9.4 0.8-8.1 1.1-7.8 1.2-5.6 1.1-3.8 0.5-1.3zM1412.9 193.3l0.7-0.4 0.4 0.1 0.3 0.2 0.8 1.3 0.7 2.2 0.6 2.4 0.6 3.6 1.1 9.5 1.5 18.4 2.8 48.2 1.5 23.6 1.9 24.1 1.9 22.4 2.3 22.4 2.6 23.6 2.9 24.2 6.3 48.9 1.2 11.2 0.8 7.7 0.4 7 0.1 5.3-0.2 1.8-0.3 1.4-0.4 0.7-0.5 0.3-0.8-0.3-0.7-0.8-0.9-1.5-1-1.8-2.2-5.4-2.4-7.1-2.5-8-2.6-9.6-2.6-10.7-2.4-10.9-2.3-10.9-2.2-12-2.1-11.9-1.8-11.9-1.7-11.7-1.7-12.9-1.5-12.9-1.2-12.4-1.2-12.8-0.9-12.2-0.8-12.7-0.7-12.4-0.4-12.4-0.3-11.8-0.1-11.8 0.1-11.2 0.3-11.2 0.5-11.2 0.7-9.4 0.9-8.7 0.9-6.9 1.1-6 0.6-2.3 0.7-2.3 0.6-1.2zM1436.1 193.3l0.6-0.2 0.4 0.2 0.4 0.4 0.7 1.5 0.6 1.8 1.1 5.6 1.1 9.1 1.6 19.3 2.8 46 1.5 21.8 1.5 20.1 1.7 20 2.9 29.5 3.4 29.5 3.6 28.3 6.6 48.9 1.9 15.9 0.8 8.8 0.2 6.5-0.1 2.4-0.2 1.2-0.4 1.1-0.5 0.5-0.4 0-0.4-0.2-0.7-0.8-1-1.5-0.9-1.8-2.2-5.3-2.7-7.5-2.6-8.6-2.8-10.2-2.6-10.5-2.6-11.5-2.4-11.6-2.3-11.7-2-11.5-2.1-12.6-1.8-12.6-1.8-13.4-1.6-12.9-1.4-13.1-1.2-12.7-1.1-13.2-0.8-12.4-0.7-13-0.5-12.9-0.4-12.4-0.1-11.8 0.1-11.7 0.2-11.3 0.5-11.2 0.7-10 0.8-8.7 1.1-8.2 1.1-5.7 1.2-3.7 0.5-1.1zM1320.8 193.9l0.4-0.3 0.6-0.1 0.7 0.5 1 1.7 0.7 2.4 0.7 3.5 0.6 4 1.2 11.9 1.2 18.8 3 60.7 2.4 37.2 3 36.5 6.2 63.7 1.6 19.5 0.4 8.8-0.1 5.9-0.2 1.9-0.4 1.8-0.6 1.2-0.5 0.4-0.6-0.1-0.7-0.6-0.8-1-0.9-1.5-1.9-4.2-2-5.7-2.1-6.8-2.2-8.4-2.1-8.8-2-9.7-1.9-9.8-1.8-10.9-1.7-10.8-1.5-10.7-2.7-23-2.2-23.6-1.5-23.6-0.9-23.5-0.3-22.4 0.1-11.2 0.3-10.1 0.4-10 0.7-9.4 0.8-8.9 0.9-7.6 1.1-6.5 1.2-5.7 1.2-3.4 0.5-1.1zM1458.9 193.9l0.6-0.4 0.4 0.1 0.3 0.2 0.8 1.3 0.5 1.6 1.2 5.4 1.1 8.9 0.9 8.8 0.8 10.2 3 47.6 1.8 24.2 1.8 22.4 1.8 20.6 3.2 30.1 3.5 29.4 3.8 28.3 7.2 50.7 2.1 16.5 0.8 8.9 0.3 5.9-0.3 3.5-0.3 1.2-0.6 0.6-0.3 0-0.4-0.3-0.8-0.8-0.9-1.4-0.9-1.8-2.3-5.4-2.6-7.4-2.8-9-2.8-10.1-2.8-11-2.8-12-2.4-11.4-2.4-12.2-2.3-12.2-2.2-13.4-1.9-12.1-1.8-13.3-1.7-13.2-1.5-13.4-1.3-12.7-1.2-13.2-1-13.6-0.8-12.9-0.5-12.4-0.5-12.4-0.2-12.4 0-11.8 0.1-11.7 0.4-11.2 0.6-10.7 0.8-9.4 1-8 1.1-6.5 1.1-4.2 0.6-1.4zM1275.5 194.5l0.4 0 0.6 0.4 0.7 1.2 0.7 2 0.9 3.5 0.6 4.1 0.6 4.6 1.1 13.5 0.9 17.3 2.5 54.8 1.9 33 2.1 30 5.1 61.4 1.3 18.8 0.2 9.5-0.2 6.5-0.3 2.3-0.4 2-0.6 1.1-0.4 0.3-0.3 0.1-0.6-0.1-0.7-0.6-0.8-0.9-0.9-1.6-1.9-4.3-1.8-5.3-1.9-6.3-2.1-8.1-1.8-8.4-1.9-9.4-1.7-9.5-1.7-10.6-2.8-21.1-2.3-22.2-1.7-23-1.3-23.6-0.5-23-0.1-11.2 0.1-11.2 0.3-10 0.4-10 0.7-9.9 0.7-8.4 0.9-7.9 1-6.3 1.1-5.2 1.3-4.5 0.8-1.8 0.5-1 0.6-0.7zM1297.7 194.5l0.4-0.4 0.6-0.2 0.5 0.2 0.4 0.4 0.9 1.7 0.8 2.5 0.7 3.7 0.7 5 1.2 12.6 1 18.1 2.8 58.4 2.1 34.7 2.6 33.6 5.6 62.5 1.4 18.9 0.4 9.4-0.2 6.5-0.3 2.4-0.5 1.6-0.6 0.9-0.5 0.2-0.6-0.1-0.7-0.6-0.8-1-0.9-1.6-1.9-4.2-1.8-5.3-1.9-6.2-2.1-7.8-2-8.9-1.9-9-1.8-10.1-1.7-10-3-21-2.5-22.5-2-22.9-1.5-23.6-0.8-22.4-0.1-11.2 0-11.2 0.1-10.6 0.3-10.1 0.5-10 0.6-8.8 0.8-8.3 0.9-7.6 1.1-6.5 1.1-5 1.3-4.1 0.6-1.1zM1481.8 194.5l0.6-0.4 0.4 0 0.4 0.3 0.7 1.3 0.6 1.6 1.1 5.3 1.1 8.4 0.8 7.5 0.9 11.4 3.4 50.1 1.8 23.5 2 23.6 2.1 21.8 3.3 30.7 3.9 31.2 4.1 29.5 7.8 52.5 2.2 16.5 0.8 8.2 0.3 5.9-0.2 3.6-0.3 1.1-0.2 0.2-0.4 0.2-0.4 0-0.3-0.3-0.8-0.9-0.9-1.5-1-1.8-2.4-5.9-2.8-8-2.8-9-3-10.7-3-11.7-2.8-11.9-2.6-12-2.4-12-2.4-13-2.3-13.1-2-12.9-1.9-13-1.8-14.1-1.6-13-1.4-13.6-1.2-13-1.1-13.5-0.8-13-0.7-13-0.5-12.9-0.3-12.4-0.1-11.8 0.2-12.4 0.3-11.2 0.5-10 0.7-9.8 0.9-8.5 1.1-7 1.2-4.5 0.5-1.5zM1504.9 195.1l0.7-0.3 0.5 0.3 0.8 1.3 0.5 1.7 1.2 5.3 1.1 8.2 0.9 9.5 0.9 11.4 3.5 48 2 26 2.1 24.2 2.5 24.1 3.6 31.9 4.3 32.4 4.5 30.6 7.9 51.5 2.3 16.3 1 8.9 0.4 5.9-0.1 2.3-0.2 1.7-0.4 0.9-0.3 0.2-0.4 0-0.4-0.3-0.7-0.9-1-1.5-1.1-2.2-2.6-6.4-2.8-8.1-3-9.7-3.2-11.3-2.9-11.6-3-12.5-2.6-11.8-2.6-12.8-2.5-12.7-2.4-13.8-2.1-12.6-2-13.7-1.9-13.8-1.7-13.9-1.4-13.3-1.4-13.8-1.1-13.6-1-13.5-0.7-13-0.5-13-0.4-13-0.2-12.3 0.1-12.4 0.3-11.8 0.4-10.6 0.7-9.8 1-8.8 1.1-7.1 1.1-4.4 0.6-1.4zM1251.5 195.7l0.5-0.5 0.6-0.1 0.5 0.2 0.6 0.6 0.9 1.9 0.9 3.2 0.8 4.4 0.6 5 0.7 7 0.6 7.7 0.9 18.1 2.2 52.1 1.6 30.6 2.2 33.6 4.2 55.4 1 16.6 0.3 10-0.1 4.1-0.2 3.3-0.3 2.6-0.5 1.8-0.7 1.3-0.4 0.3-0.3 0.1-0.6-0.2-0.8-0.6-0.7-0.9-0.7-1.3-1.7-3.6-1.9-5.3-1.7-5.6-1.8-7.3-1.9-8.4-1.7-8.5-1.5-8.5-1.5-9.9-1.5-10.3-1.2-10.3-2.3-21.8-1.6-21.8-1.2-22.5-0.6-22.4 0-21.2 0.3-10 0.3-10 0.6-9 0.6-8.7 0.9-7.8 0.9-6.9 1.1-6.3 1.1-4.6 1.3-3.7 0.6-1.1zM1228.5 196.2l0.6-0.3 0.5-0.1 0.6 0.3 0.5 0.6 1 2.1 0.9 3.5 0.8 4.2 0.7 6.1 0.6 6.6 0.6 8.9 0.9 17.5 2 50.3 1.3 26.5 1.8 31.2 3.6 53.1 1 18.3 0.2 10.6-0.1 4.1-0.3 3.5-0.3 2.4-0.5 1.9-0.7 1.4-0.4 0.3-0.4 0.2-0.5-0.1-0.8-0.6-0.7-0.9-0.8-1.2-1.7-3.6-1.6-4.7-1.7-5.6-1.7-6.7-1.7-7.5-1.6-8.7-1.5-8.8-1.4-9-2.6-20.2-2-21-1.6-21.9-1-22.4-0.5-22.4 0.1-21.2 0.2-10.1 0.4-9.4 0.6-8.8 0.7-8.3 0.9-8.2 0.9-6.6 1.2-5.9 1.1-4.3 1.1-3 0.6-1.1zM1527.7 196.2l0.6-0.5 0.6 0.2 0.7 1.1 0.6 1.4 1.1 4.9 1.1 7.7 1 8.7 0.9 10.6 4 53.2 2.2 27.1 2.5 25.9 2.5 24.2 4 33 4.5 32.5 4.8 31.8 8.7 53.6 2.2 15.6 1 8.6 0.4 5.9 0 1.8-0.1 1.7-0.3 0.9-0.2 0.3-0.4 0.2-0.4-0.1-0.3-0.3-0.8-0.9-0.9-1.6-1.1-2.3-2.6-6.4-3-8.6-3.2-10.2-3.2-11.2-3.1-12.1-3.2-13.2-2.8-12.5-2.6-12.4-2.6-13.5-2.5-13.4-2.2-13.4-2-13.3-2.1-14.5-1.7-13.6-1.7-14.2-1.3-12.9-1.2-13.6-1-13.5-0.9-13.6-0.6-13-0.5-12.9-0.2-13-0.1-13 0.2-11.8 0.4-11.2 0.6-10 0.9-9.4 0.9-6.7 1.2-5.2 0.5-1.6zM1205.5 196.8l0.6-0.2 0.6 0 0.5 0.4 0.6 0.7 0.6 1.1 0.5 1.6 0.8 3.5 0.9 5.3 0.7 5.9 0.6 7.8 0.6 9.1 0.7 16.3 1.8 47.6 1.1 24.1 1.5 28.9 3.1 50.7 0.9 18.9 0.1 11.2-0.2 4.1-0.2 3.6-0.4 2.9-0.6 2-0.8 1.4-0.7 0.4-0.6-0.1-0.7-0.5-0.8-0.8-0.7-1.2-1.5-3.2-1.7-4.6-1.6-5.7-1.5-6-1.7-7.7-1.5-8-1.3-7.8-1.4-9.5-2.4-19.4-1.9-20.7-1.4-22.4-1-22.4-0.4-22.4 0.2-21.2 0.8-18.9 0.6-8.8 0.7-8.2 0.9-7.7 1-6 1.1-5.5 1.1-4 1.1-2.8 0.6-0.9zM1551.4 196.8l0.2 0.1 0.4 0.3 0.6 0.9 0.5 1.5 0.6 2.1 1.1 6.2 1.1 9 1.5 15.9 4.2 53.6 2.6 30.1 3.2 31.2 3.5 30.7 4 30.1 4.5 30.6 4.8 30.1 8.5 50.7 2.6 16.9 1.1 8.4 0.4 5.9 0 1.8-0.2 1.8-0.4 1.1-0.3 0.2-0.6-0.2-0.9-1.1-1.1-2-1.2-2.3-2.8-7-3.1-9.1-3.4-10.9-3.4-11.8-3.3-12.9-3.2-13-3-13.2-2.8-13.3-2.6-13.2-2.6-14.3-2.2-13.2-2.3-14.2-2-14.3-1.9-14.3-1.7-14.3-1.5-14.3-1.3-14.3-1.1-13.9-0.8-13.6-0.7-13.6-0.5-13.5-0.3-13 0-13.5 0.2-12.4 0.5-11.2 0.7-10.6 0.9-8.9 1.1-6.6 0.6-2.2 0.6-1.6 0.5-0.9 0.4-0.4zM1182.7 197.4l0.7-0.1 0.5 0.2 0.6 0.6 0.5 1 0.6 1.4 0.5 1.8 1 4.6 0.7 5.3 0.8 7.6 1.1 18.2 3 79.1 1.2 25.9 2.7 49.5 0.7 20.1 0.1 11.8-0.2 4.4-0.4 3.8-0.4 2.6-0.6 2.2-0.7 1.3-0.4 0.4-0.5 0.2-0.6-0.1-0.7-0.5-1.3-1.7-1.5-3.1-1.7-4.6-1.5-5.1-1.5-6-1.5-7.1-1.5-8.1-1.3-8.2-1.3-9.4-2.1-18.8-1.8-21.1-1.3-21.9-0.8-22.4-0.3-22.4 0.3-20.7 0.4-10 0.5-8.8 0.6-8.7 0.8-7.5 0.9-7.2 0.9-5.6 1.2-5.1 1.1-3.7 1.3-2.8 0.5-0.8zM1159 198.6l0.7-0.5 0.5 0 0.8 0.4 0.5 0.7 0.6 1 0.5 1.5 1.2 4.6 0.9 6 0.7 7.2 0.8 9.8 0.5 11.3 2.6 72.4 3.2 72.5 0.7 21.2-0.1 12.4-0.2 4.1-0.4 4.1-0.4 3-0.7 2.4-0.4 0.9-0.5 0.8-0.4 0.3-0.6 0.2-0.5-0.1-0.8-0.6-1.3-1.7-1.5-3.2-1.5-4.1-1.4-5.3-1.5-6.2-1.3-6.5-1.4-7.5-2.2-16-2-18.7-1.7-20.2-1.1-21.2-0.8-22.4-0.2-21.2 0.3-20.7 0.8-18.3 0.6-8.2 0.7-7.7 0.8-6.3 0.9-6.1 1.2-5.5 1.1-4 1.1-2.8 0.5-1zM1573.7 198.6l0.5-0.5 0.4 0.1 0.4 0.2 0.7 1.4 0.6 1.7 1.2 5.9 1.2 8.9 1.7 16.9 4.6 56.2 3 32.4 3.5 33.6 4.1 33 4.2 30.7 4.8 30.6 4.8 28.9 8.9 51.3 2.5 15.9 1.2 8.5 0.5 6.3 0 3.5-0.3 1.1-0.4 0.4-0.4 0-0.3-0.3-0.8-0.8-0.9-1.6-1.1-2.2-2.8-6.8-3.2-9-3.4-10.6-3.5-12.2-3.6-13.2-3.3-13.4-3-12.8-3-13.7-2.8-13.7-2.8-14.7-2.4-13.7-2.4-14.8-2.1-13.7-2-14.8-1.7-13.5-1.7-14.7-1.5-14.7-1.1-13.6-1.1-14.1-0.8-13.6-0.6-13.6-0.4-13.5-0.2-13.6 0-12.3 0.3-11.8 0.5-11 0.8-9.3 0.9-7.5 1.1-5.5 0.6-1.7zM1136 199.2l0.7-0.4 0.8 0.2 0.7 0.7 0.6 0.9 1.1 3 1.1 5.3 0.9 6.8 0.8 8.1 0.7 10.8 0.6 13.3 2.2 69.2 2.4 61.9 0.5 22.4-0.2 13-0.3 4.7-0.4 4.1-0.5 3-0.7 2.6-0.5 0.9-0.5 0.7-0.3 0.3-0.6 0.2-0.6-0.1-0.7-0.4-1.3-1.7-1.3-2.7-1.5-4.1-1.5-5.3-1.3-5.6-1.3-6.6-1.1-6.6-2.2-15.9-1.8-18.2-1.5-20.1-1.1-21.2-0.6-22.4-0.2-21.8 0.4-20.1 0.9-18.2 0.6-8.3 0.7-7.1 0.8-6.8 1-5.7 0.9-4.3 1.1-4 1.2-2.7 0.5-1zM1112.9 199.8l0.7-0.3 0.7 0.2 0.8 0.7 0.7 1.3 0.8 2 0.5 2.1 1.2 6.4 0.9 7.6 0.8 10 0.7 12.3 0.6 16 3.3 111.5 0.4 15.9 0.1 12.4-0.4 12.9-0.4 5.3-0.5 4-0.7 3.6-0.8 2.1-0.3 0.6-0.6 0.7-0.4 0.2-0.5 0.1-0.6-0.1-0.7-0.6-1.3-1.8-1.3-2.8-1.3-3.8-1.4-4.7-1.3-5.8-1.1-6-1.1-6.9-2-15.9-1.6-17.7-1.4-20-0.9-21.3-0.5-22.4 0-21.8 0.4-20 0.9-17.7 0.7-7.7 0.7-7 0.9-6.8 0.9-5.2 1-4.1 1.1-3.7 1.1-2.4 0.6-0.8zM1597 199.8l0.5-0.1 0.6 0.5 0.8 1.6 0.5 1.9 1.1 5.6 1.3 9.8 1.7 16.7 4.8 55.4 3 31.8 3.7 34.2 4.2 33.6 4.6 31.8 5.2 33 5.4 31.3 9.6 53.4 2.6 15.6 1.2 8.8 0.6 5.9 0 2.3-0.1 1.5-0.3 0.9-0.5 0.2-0.5-0.3-0.9-1.1-1.2-2-1.3-2.8-3-7.5-3.3-9.7-3.6-11.3-3.5-12.2-3.5-13.2-3.6-14.1-3.2-13.5-3.1-14.4-2.8-13.6-2.8-14.5-2.6-14.6-2.5-14.6-2.2-14.5-2.1-14.6-1.8-14.6-1.7-14.5-1.5-14.5-1.3-14.6-1.1-14.7-0.9-13.5-0.6-13.6-0.5-13.5-0.2-13.6 0-13 0.3-12.3 0.5-10.6 0.8-10.1 0.9-7 0.6-3 0.6-2.1 0.5-1.3zM1089.8 200.4l0.8-0.2 0.6 0.2 0.4 0.3 0.7 1 0.7 1.7 0.8 2.3 0.7 2.9 1.2 7.7 0.9 9.6 0.7 11.5 0.7 14.8 0.6 19.5 2.3 90.8 0.2 18.3 0 14.1-0.2 7.1-0.3 5.9-0.5 5.1-0.5 4-0.7 3.3-0.8 2.2-0.9 1.4-0.6 0.4-0.6 0.1-0.5-0.1-0.6-0.4-0.5-0.6-0.8-1.1-1.3-2.7-1.3-3.8-1.3-4.8-1.1-5.2-1.1-6.2-1-6.1-1.8-15.8-1.5-17.5-1.2-20-0.8-21.2-0.4-22.4 0-21.9 0.5-19.4 1-17.7 0.6-7.7 0.7-7 0.9-6 0.9-5.3 0.9-4 1.2-3.5 1.1-2.3 0.5-0.8zM1066.5 201l0.8-0.3 0.6 0.2 0.3 0.3 1 1.2 0.7 1.7 0.8 2.3 0.7 3.3 0.7 4.2 0.6 4.4 0.9 9.9 0.9 13.4 0.6 17.1 0.6 21.8 1.5 76.1 0.2 20-0.2 15.4-0.6 12.3-0.5 5.3-0.6 4.2-0.7 3.3-1 2.7-0.9 1.5-0.6 0.4-0.5 0.2-0.6-0.1-0.5-0.3-0.6-0.5-0.7-1-1.4-2.7-1.1-3.2-1.1-4.1-1.1-5.1-0.9-5.1-1-6.7-1.7-14.7-1.4-17.7-1-19.4-0.8-21.8-0.3-23 0.1-21.9 0.5-20 0.9-17.1 0.6-7.7 0.7-6.4 0.8-5.9 1-5.3 0.9-4.2 1-3.2 1.1-2.4 0.6-0.8zM1020.5 201.6l0.5 0 0.6 0.2 0.9 1.1 1 1.9 0.9 2.9 0.8 3.3 0.8 4.7 0.6 5 0.7 6.2 0.9 14.1 0.8 17.7 0.6 23 0.4 28.3 0.2 28.9-0.1 22.4-0.3 17.1-0.7 14.1-0.4 6-0.6 5.2-0.7 4.8-0.7 3.5-0.8 2.7-1 2.2-0.9 1.2-0.5 0.3-0.6 0.1-0.6-0.1-0.5-0.3-1.1-1.4-1.2-2.3-1.1-3.4-0.9-3.7-0.9-4.6-1-6-0.7-5.9-1.3-14.2-1.1-17.7-0.7-20.6-0.5-22.4-0.1-24.2 0.3-22.9 0.7-19.5 1-16.2 1.3-12.6 0.7-5 1-4.8 0.9-3.6 1.1-3 1.2-1.8 0.5-0.5zM1043 201.6l0.4-0.3 0.6-0.1 0.5 0.1 0.4 0.2 0.9 1.2 1 2 0.9 3.1 0.8 3.5 0.7 4.4 0.6 4.6 1 11.3 0.8 14.8 0.6 18.2 0.6 24.8 0.6 37.1 0.3 28.9-0.1 20.1-0.4 15.3-0.3 7.1-0.5 5.8-0.6 4.7-0.7 4.2-0.8 3.1-0.9 2.4-0.9 1.3-0.6 0.4-0.6 0.2-0.5-0.1-0.6-0.4-1.1-1.3-1.1-2.1-1.1-3.1-1.2-4.1-0.9-4.3-0.9-5.3-1-6.8-1.5-14.1-1.2-17.1-0.9-19.4-0.6-21.3-0.3-23.6 0.2-22.4 0.5-20 0.9-17.1 0.6-7.1 0.7-6.8 0.7-5.6 0.9-5.4 1-4.1 0.9-3.1 1.1-2.5 0.6-0.8zM1619.9 201.6l0.2-0.2 0.4-0.1 0.6 0.5 0.5 1.1 0.8 2.4 1.1 5.6 1.3 9.4 1.7 16 5.1 57.2 3.3 33.6 4 34.8 4.6 35.4 4.9 33 5.6 34.2 5.8 32.4 10 53.6 2.7 16 1.2 7.6 0.6 6.5 0.1 3.5-0.3 1.2-0.4 0.4-0.4-0.1-0.4-0.3-0.7-1-1.1-1.9-1.3-2.8-3-7.4-3.6-10.1-3.7-11.8-3.7-12.7-3.8-13.7-3.7-14.6-3.4-14.1-3.1-14.1-3-14.2-2.8-14.1-2.6-14.1-2.6-15.2-2.5-15.2-2.2-15.3-1.9-14-1.8-15.3-1.7-15.4-1.3-14.1-1.3-15.3-1-14.2-0.7-13.9-0.5-13.2-0.4-14.2 0-12.9 0.1-12.4 0.4-10.6 0.8-10.5 0.9-7.8 0.6-3.2 0.5-2.1 0.6-1.6zM974.2 202.1l0-0.3 0.7 0.2 0.8 0.7 0.6 0.9 1.1 2.5 0.9 3.2 0.9 4.5 0.8 4.7 0.7 6 0.6 6.2 1 15.1 0.7 19 0.4 23.4 0.2 25.9-0.2 24.8-0.4 21.2-0.7 17.1-1 14-0.6 5.5-0.7 5.5-0.8 4.3-0.9 4-0.9 2.9-1.1 2.4-1 1.1-0.5 0.4-0.6 0.1zM996.5 202.1l0.5-0.3 0.5-0.1 0.6 0.2 0.5 0.4 0.6 0.7 0.6 1 0.9 2.3 0.9 3.4 0.8 3.7 0.7 4.8 0.7 5.8 1.1 12.9 0.8 16.5 0.6 20.7 0.4 25.3 0.1 28.9-0.1 25.3-0.5 19.5-0.8 15.3-0.5 6.5-0.6 5.9-0.8 5.3-0.8 3.8-0.9 3.4-0.9 2.2-0.6 1-0.5 0.6-0.6 0.4-0.6 0.2-0.5-0.1-0.6-0.3-1.1-1.3-1.1-2.4-0.9-2.8-1-3.7-0.7-3.8-0.8-4.8-0.7-6-1.2-12.9-0.9-15.9-0.6-18.9-0.4-21.8 0-25.4 0.2-23.5 0.6-20.7 0.9-16.5 1.2-13.6 0.7-5.7 0.8-4.5 0.9-4.2 1-3 1.1-2.5zM1643.1 203.3l0.5 0 0.6 0.7 0.6 1.2 0.5 1.9 1.1 5.4 1.3 9.1 1.9 17.2 5.3 57.1 3.6 34.8 4.2 35.9 4.9 36 5.2 34.2 6 35.3 5.2 28.3 11.1 57.8 3.4 18.9 1.3 8.2 0.6 5.9 0 3.5-0.2 1.1-0.4 0.3-0.4-0.1-0.4-0.3-0.9-1.3-1.1-2.1-1.3-2.8-3.2-8-3.5-10.1-3.9-12.3-4-13.2-3.9-14.2-3.7-14.5-3.4-13.8-3.3-14.7-3.2-14.7-3-14.8-2.8-14.9-2.6-14.8-2.6-15.9-2.3-14.9-2-14.8-1.9-14.9-1.7-14.8-1.5-15.3-1.2-14.2-1.2-15.1-0.8-14.3-0.7-14.2-0.4-14.7-0.1-13.6 0.1-12.9 0.4-11.2 0.6-9.8 0.9-8.3 0.6-3.1 0.6-2.2 0.5-1.3zM1665.8 205.7l0.6-0.4 0.6 0.4 0.5 1 0.8 2.3 1.1 5.3 1.3 8.8 2.2 20.1 6.1 62.1 3.4 31.2 2.4 20.1 2.4 18.9 2.6 18.8 2.8 19.5 5.4 33.6 6 34.2 6.5 34.2 10 50.2 0 30.7-3-7.9-3.2-9.2-3.5-11.1-3.5-11.8-3.6-12.6-3.4-12.6-3.3-13.2-3.4-14-5.9-27-2.8-13.8-2.8-14.6-4.9-27.9-2.2-14.3-2.1-14.1-2-15.4-1.7-13.8-1.5-13.9-1.5-14.7-1.1-13.6-1.1-14.1-0.8-13.6-0.6-13-0.4-13.5-0.1-13 0-11.8 0.4-11.2 0.5-9.9 0.8-7.3 0.9-5.3 0.6-1.8zM1688.8 208l0.5-0.3 0.6 0.3 0.6 0.9 0.7 2.1 1.1 5.2 1.3 8.4 2.3 19.2 6.9 68.6 4.5 38.9 3 23 3.2 22.4 3.3 22.4 3.7 22.6 0 77.6-5-21.6-4.7-21.6-4.3-21.7-3.9-21.8-3.6-21.8-3.1-21.7-2.8-21.8-2.4-21.9-2.1-22.5-1.6-22.3-1.1-21.2-0.5-20 0.1-18.9 0.2-8.3 0.4-7.7 0.6-6.4 0.6-4.7 0.7-3.5 0.4-1.1zM1712.1 210.4l0.4-0.2 0.4 0.2 0.3 0.5 0.6 1.2 0.9 3.3 0.9 4.8 1 6.1 1.1 8.6 2.8 25.5 0 137.1-2.1-14.9-1.8-14.7-1.7-14.7-1.5-14.3-1.3-14.7-1.1-13.6-0.8-13-0.7-13.5-0.5-13.6-0.3-12.4 0-12.3 0.2-10.6 0.5-9.5 0.7-7.6 0.9-5.2 0.5-1.7z"/>
<path fill="#1caadf" d="M1228.6 213.3l0.5 0 0.5 0.3 1 1.6 0.9 2.9 0.9 4.7 0.8 5.5 0.7 7.4 1.3 19.1 3.2 63.5 3.9 67.8 0.8 19.4 0.2 11.2-0.4 7.7-0.3 2.9-0.5 1.8-0.4 0.9-0.3 0.6-0.4 0.3-0.4 0.1-0.5-0.2-0.6-0.5-1.3-2-1.3-2.9-1.5-4.4-1.5-5.3-1.3-5.4-1.5-7.1-1.3-7-2.4-15.7-2.2-18-1.7-18.6-1.3-19.4-0.9-19.8-0.3-19.4 0.1-18.3 0.7-16.4 0.5-7.8 0.6-6.5 0.8-6.1 0.9-6 0.9-4.4 0.9-3.1 1.2-2.4 0.5-0.7zM1251.6 213.3l0.4-0.1 0.6 0.3 0.5 0.7 0.4 0.7 0.9 2.8 0.8 3.9 0.7 4.7 0.8 6.6 1.3 18.2 3.8 71.9 4.5 69 1 18.8 0.2 11.2-0.1 4.2-0.2 3.5-0.3 2.3-0.5 2.2-0.6 1.1-0.4 0.4-0.3 0.1-0.6-0.2-0.5-0.5-1.4-2-1.3-2.9-1.5-4.3-1.4-5.2-1.5-6-1.5-6.9-1.5-7.7-2.6-16.3-2.3-17.6-1.9-19-1.4-20-1-20.1-0.5-19.5 0.1-18.3 0.6-17.1 0.5-8.2 0.6-7.1 0.8-6.5 0.7-5 1-4.8 0.9-3.4 1.1-2.7 0.6-0.8zM1274.8 213.3l0.5 0.1 0.4 0.3 0.6 0.7 0.3 0.8 1 3.1 0.7 3.8 0.8 5.2 0.6 5.5 1.2 16.3 4.4 77.4 1.7 26 3.4 47.1 1 17.1 0.3 10.6 0 4.2-0.2 3.5-0.3 2.6-0.4 1.6-0.5 1.2-0.4 0.3-0.4 0.1-0.5-0.2-0.6-0.5-1.3-2-1.5-3.4-1.5-4.4-1.5-5.2-1.7-6.7-1.6-7.7-1.5-7.8-2.7-15.9-2.4-18.6-2-19.6-1.6-19.9-1-20.7-0.5-19.4 0-18.9 0.5-17.1 0.5-8.2 0.6-7.1 0.7-6.7 0.9-6.3 1-4.6 0.9-3.3 0.6-1.4 0.5-1 0.6-0.7zM1159.2 213.9l0.6 0 0.8 0.6 0.7 1.2 0.6 1.5 1.1 4.5 0.9 6 0.8 7.5 0.8 10 0.7 11.6 0.7 16.5 3.6 91 0.5 15.9 0.2 11.8-0.2 11.7-0.3 4.8-0.3 3.5-0.6 2.9-0.6 2.2-0.8 1.2-0.7 0.3-0.6-0.1-0.5-0.4-1.2-1.6-1.1-2.3-1.3-3.7-1.3-4.6-1.1-4.7-1.3-6.5-1.1-6.5-2.1-14.6-1.7-16.4-1.4-18.3-1-18.9-0.6-19.4-0.2-18.9 0.4-17.7 0.8-15.8 0.5-7.1 0.7-6.5 0.8-5.9 0.8-4.4 0.9-4.1 0.9-3 1.2-2.3 0.5-0.7zM1181.9 213.9l0.7-0.3 0.6 0.1 0.7 0.8 0.6 1.1 0.5 1.5 0.6 2.1 0.9 4.9 0.9 6.9 0.7 8.3 0.7 10 0.7 13 4.9 109.9 0.7 23.3 0 11.8-0.3 4.7-0.3 3.5-0.4 3-0.7 2.3-0.7 1.3-0.4 0.2-0.4 0.1-0.5-0.2-0.6-0.4-1.1-1.6-1.3-2.8-1.3-3.8-1.3-4.6-1.3-5.5-1.3-6.4-1.2-6.3-2.1-14.8-1.9-16.5-1.5-17.6-1.1-18.9-0.7-18.9-0.2-18.8 0.2-17.7 0.6-15.9 1.1-14.1 0.8-6.4 0.7-4.9 1-4.7 0.9-3.5 1.1-2.8zM1204.8 213.9l0.8-0.5 0.5 0.1 0.6 0.4 0.5 0.8 1 2.5 1 4.4 0.8 5.8 0.8 7.1 0.7 9.5 0.7 11.2 3.1 67.2 3 57.8 0.8 19.4 0.1 11.8-0.2 4.7-0.3 3.6-0.4 2.9-0.4 1.9-0.8 1.5-0.4 0.4-0.3 0.1-0.6-0.1-0.5-0.4-1.2-1.5-1.3-2.8-1.3-3.6-1.5-5.1-1.3-5.3-1.3-6.1-1.3-7.1-2.2-14.5-2.1-17-1.7-18.3-1.2-19.4-0.9-19.4-0.3-18.9 0.1-17.7 0.7-16.5 0.5-7.6 0.6-7.3 0.7-6.5 0.8-5.1 0.9-4.8 0.9-3.6 1-2.5zM1297.3 213.9l0.4-0.3 0.6-0.1 0.5 0.4 0.4 0.6 0.9 2.3 0.8 3.1 0.7 4.4 0.7 5.5 1.3 14.8 1 15.4 2.7 47.1 1.5 23 2 28.3 3.7 46.5 1.2 17.7 0.4 10.6-0.2 7.1-0.3 2.7-0.3 1.7-0.6 1.1-0.6 0.4-0.5-0.1-0.6-0.5-1.3-2-1.5-3.3-1.5-4.3-1.7-5.7-1.6-6.6-1.7-7.5-1.5-7.4-2.8-16.2-2.6-18.6-2.2-19.8-1.7-20-1.2-20.1-0.8-20-0.1-18.9 0.3-17.6 0.4-8.3 0.5-7.7 0.7-7.1 0.7-6.1 1-5.7 0.9-4.2 0.9-2.8 0.6-1.1zM1320.7 213.9l0.5-0.1 0.4 0.2 0.6 0.7 0.3 0.7 0.8 2.2 0.7 3.3 0.7 4.2 0.6 5.1 1.3 14.6 3.8 61.7 1.9 27.1 2.3 29.5 4.3 50.7 1.2 15.9 0.4 9.4-0.1 7.1-0.3 2.7-0.4 1.6-0.6 1.1-0.5 0.2-0.6-0.2-0.5-0.5-0.8-1.1-0.7-1.4-1.5-3.6-1.7-5-1.7-5.8-1.8-7.5-1.7-7.5-1.7-8.4-3-17.5-2.6-18.6-2.2-19.8-1.8-20.1-1.3-20.7-0.7-20-0.2-19.5 0.3-17.6 0.4-8.3 0.5-7.7 0.7-7.5 0.8-6 0.9-5.5 0.9-3.9 1.1-3 0.6-0.8zM1112.9 214.5l0.5-0.1 0.4 0.2 0.7 0.6 0.8 1.4 0.7 2.1 0.7 2.9 0.6 2.9 1 7.7 0.9 9.6 0.8 12.8 0.7 15.7 0.7 22.6 1.8 63.7 0.3 17.1-0.1 13-0.4 11.2-0.4 4.1-0.4 3.6-0.6 2.7-0.8 2.3-0.7 1.2-0.4 0.3-0.5 0.1-0.6-0.1-0.6-0.4-1.1-1.5-1.1-2.5-1.1-3.2-1.1-4.1-1.1-5-1.2-6-0.9-5.9-1.7-13.9-1.5-16-1.2-17.6-0.8-18.9-0.4-19.5 0.1-18.2 0.4-17.1 0.8-15.4 0.6-6.4 0.7-6.6 0.8-5.3 0.8-4.6 1-4.2 1-2.6 0.9-1.8 0.6-0.6zM1135.6 214.5l0.7-0.4 0.8 0.3 0.7 0.8 0.6 1.1 0.7 2.2 0.6 2.3 1.1 6.1 0.9 8.3 0.8 10 0.7 12.4 0.7 15.9 2.8 83.7 0.5 17.7 0.1 12.9-0.3 12.4-0.3 4.7-0.4 3.6-0.6 2.9-0.6 2-0.7 1.3-0.4 0.3-0.6 0.2-0.5-0.1-0.6-0.4-1.1-1.5-1.1-2.4-1.3-3.7-1.2-4-1.1-4.9-1.1-5.7-1.1-6.7-1.9-14-1.6-15.8-1.2-17.1-0.9-18.3-0.6-18.8-0.1-18.3 0.3-17.1 0.8-15.9 1.1-13.3 0.7-6.1 0.8-4.8 0.9-4.5 0.9-3.3 1-2.4 0.5-0.9zM1343.6 214.5l0.4-0.2 0.6 0.1 0.7 1 0.7 1.8 0.8 3 0.7 3.8 0.6 4.6 1.3 13.3 1.1 15.5 3.3 51.4 2 27.7 2.6 31.9 4.8 51.9 1.3 16.5 0.4 9.4-0.1 6.5-0.1 1.7-0.4 1.9-0.5 1.1-0.2 0.2-0.4 0.1-0.6-0.2-0.5-0.5-1.3-2.1-1.7-4-1.7-5-1.8-6.4-1.9-7.4-1.9-8.2-1.7-8.3-3.1-18-2.8-19.2-2.4-20-1.8-20.1-1.4-20.6-0.9-20.7-0.3-19.4 0.2-18.3 0.4-8.8 0.4-7.7 0.7-7.6 0.7-6.5 0.8-5.3 1-4.3 0.9-2.8 0.6-1.1zM1066.5 215.1l0.8 0 0.6 0.3 0.3 0.4 1 1.8 0.7 2.2 0.7 3 0.6 3 1.2 9.4 0.9 11.2 0.8 14.7 0.7 18.3 0.6 23.5 0.6 27.8 0.2 22.4-0.1 17-0.3 13-0.7 10-0.5 4.5-0.6 3.4-0.7 3-0.8 1.9-0.7 1.1-0.4 0.3-0.6 0.2-0.3 0-0.6-0.3-1.1-1.3-1.1-2.3-1-2.7-1.1-4.1-0.9-4.4-0.9-5.2-0.9-5.9-1.5-12.9-1.2-15.6-0.9-17.4-0.6-18.9-0.3-20 0.2-18.9 0.5-17.1 0.9-14.7 1.1-12 0.8-5.2 0.9-4.6 0.8-3.3 0.9-2.7 0.9-1.9 0.6-0.6zM1089.3 215.1l0.8-0.4 0.5 0.2 0.4 0.2 0.7 1 0.8 1.7 0.7 2.4 0.7 3.2 1.2 7.9 0.9 9.7 0.9 13 0.7 15.9 0.7 21.5 0.8 33.4 0.6 26.5 0.1 18.3-0.2 14.1-0.5 11.2-0.5 4.3-0.5 3.8-0.6 2.6-0.8 2.3-0.9 1.4-0.3 0.2-0.6 0.2-0.4-0.1-0.5-0.4-1.1-1.4-1.2-2.3-1.1-3.3-1.1-4.1-0.9-4.3-1.9-11.1-1.6-13.1-1.3-15.4-1.1-17.1-0.7-18.2-0.4-18.9 0.1-18.9 0.4-17.1 0.8-15.3 1.2-13.3 0.7-5.6 0.8-4.3 0.7-3.5 1-3.2 0.9-2.2 0.6-0.9zM1366.7 215.1l0.4-0.1 0.4 0 0.7 0.9 0.8 1.8 0.7 2.9 0.7 3.9 0.6 4.3 1.4 12.9 1.3 17.5 3.4 51.4 2.2 29.5 2.5 27.7 5.7 57.8 1.5 17.6 0.4 8.9 0 6.5-0.2 2.3-0.2 1.5-0.4 1-0.6 0.5-0.5-0.1-0.6-0.5-0.7-1.1-0.8-1.4-1.7-4-1.6-4.9-1.9-6.4-1.9-7.2-1.8-8-1.9-8.9-3.4-18.4-3-19.7-2.5-20.8-2-20.6-1.6-21.3-1-20-0.4-20.1 0.1-18.8 0.3-8.9 0.5-8.2 0.5-7.7 0.8-7.1 0.9-5.8 0.9-4.4 0.9-2.9 0.6-1zM974.2 215.7l0-0.1 0.4 0 0.5 0.4 1 1.2 0.9 2.2 0.7 2.5 0.8 3.4 0.7 4.4 0.7 5.5 0.6 5.9 1 13.2 0.7 16.8 0.4 19.5 0.2 21.8-0.2 20.6-0.4 18.3-0.7 15.9-0.9 12.4-1.2 9.8-0.7 4.3-0.8 3.3-0.9 3.1-0.9 2-1 1.2-0.3 0.2-0.6 0.1zM996.8 215.7l0.3-0.2 0.6 0.1 0.6 0.3 0.3 0.4 1 1.5 0.9 2.6 0.8 3 0.7 3.8 0.7 5 0.6 5.1 1 12.6 0.8 15.9 0.6 19.5 0.3 21.8 0 22.4-0.3 20-0.5 16.5-0.8 13.3-1.1 10.6-0.7 4.6-0.8 3.4-0.7 2.4-1 2.1-0.9 1.2-0.4 0.2-0.5 0.1-0.4-0.1-0.6-0.3-0.9-1.2-0.9-2-1-2.9-0.7-3.1-0.8-4.1-1.4-10-1-12.4-0.8-14.7-0.6-17.1-0.3-19.5 0-20.6 0.3-19.5 0.6-17.1 0.8-14.1 1.1-11.4 0.8-5.3 0.7-4 0.8-3.1 0.9-2.9 0.9-1.8zM1019.8 215.7l0.5-0.2 0.5-0.1 0.6 0.3 0.4 0.4 0.9 1.5 0.8 2 0.7 2.8 0.7 3.6 0.7 4.4 0.7 5.3 1 11.8 0.7 14.8 0.7 18.2 0.4 21.9 0.2 24.7-0.1 21.2-0.3 17.1-0.6 13.6-1 10.6-0.5 4.1-0.7 3.9-0.8 2.9-0.9 2.4-0.9 1.3-0.4 0.3-0.6 0.1-0.4 0-0.5-0.3-0.6-0.6-0.5-0.8-1-1.9-0.9-2.8-0.9-3.7-0.8-3.8-1.5-10.2-1.1-12.1-1-14.8-0.7-17.1-0.4-18.8-0.2-20.1 0.3-19.4 0.5-17.6 0.9-14.2 1.1-11.8 0.6-4.8 0.8-4.3 0.7-3.4 1-3.1 0.9-2 0.6-0.9zM1042.8 215.7l0.4-0.3 0.6-0.2 0.6 0.2 0.3 0.3 1 1.3 0.7 1.8 0.8 2.6 0.7 3.5 1.2 8.5 1 11.2 0.9 14.1 0.6 17.7 0.6 22.4 0.4 26.5 0.1 23-0.2 17.7-0.5 14.2-0.8 11.2-0.5 4.1-0.8 4-0.7 2.8-0.7 1.9-1 1.3-0.3 0.2-0.6 0.1-0.4 0-0.5-0.4-1.2-1.4-0.9-1.9-0.9-2.8-1-3.5-0.9-4.4-1.6-10.6-1.4-12.9-1.1-14.8-0.7-16.6-0.6-18.2-0.2-20.1 0.2-18.8 0.5-17.1 0.8-14.8 1.1-12.1 0.8-5.6 0.7-4.1 0.8-3.6 0.9-3.1 0.9-2.1zM1389.4 216.3l0.5-0.5 0.4 0 0.3 0.1 0.4 0.4 0.8 1.5 0.7 2.6 0.7 3.6 0.6 3.8 1.3 11.8 1.5 18.6 3.8 54.2 2.5 30.6 2.9 31.3 6.1 58.3 1.6 17.7 0.5 8.9 0.1 5.9-0.2 2.3-0.3 1.6-0.4 0.9-0.5 0.4-0.6-0.2-0.6-0.6-0.7-1.1-0.8-1.4-1.6-4.1-1.7-5-1.9-6.3-2-7.8-2.1-8.8-1.9-8.8-3.3-18-3.2-20.2-2.6-20.2-2.2-21.4-1.7-21.1-1.1-20.6-0.6-20 0-18.9 0.2-9.4 0.3-8.3 0.6-8.2 0.6-6.8 0.7-6 1-5.2 0.9-3.5 0.6-1.4zM1412.9 216.9l0.3-0.1 0.4 0.1 0.7 0.9 0.8 1.9 0.5 2.2 0.7 3.8 0.6 4.1 1.3 11.9 1.4 15.8 4 54.9 2.9 34.8 3.2 32.4 6.6 59.6 1.8 18.2 0.6 8.2 0.1 6.1-0.2 2.2-0.2 1.5-0.4 1-0.5 0.5-0.6-0.2-0.6-0.6-1.4-2.5-1.7-4.1-1.9-5.5-2-7-2.1-7.8-2-8.7-2.1-9.5-3.5-18.7-3.4-21-2.8-21.1-2.3-21.9-1.8-21.4-1.2-21.6-0.7-20.6 0-19.5 0.2-9.4 0.4-8.9 0.5-8.2 0.7-6.5 0.7-5.9 1-4.7 1-3.4 0.6-0.9zM1435.9 218.1l0.3-0.1 0.3 0 0.4 0.3 0.4 0.5 0.7 1.9 0.6 2.2 1.3 7.6 1.2 10.5 1.4 16 4.5 58.9 3.2 35.4 3.6 34.2 7.2 61.5 1.8 18.1 0.6 8.2 0.1 5.9-0.1 1.8-0.3 1.7-0.4 0.8-0.4 0.2-0.6-0.2-0.7-0.9-1.5-2.8-1.7-4.2-2-6.1-2.1-7.1-2.2-8.6-2.1-8.6-2-9.5-3.8-19.4-3.3-20.6-3-21.8-2.4-21.7-1.9-21.5-1.4-21.9-0.8-21.2-0.1-19.4 0.1-9.5 0.3-8.8 0.5-8.3 0.6-7.4 0.8-6.1 0.9-5.2 1-3.2 0.5-1.1zM1458.6 219.8l0.3-0.3 0.4-0.2 0.4 0.1 0.3 0.4 0.8 1.5 0.5 1.9 0.7 3.1 0.7 3.7 1.3 10.5 1.6 18.3 4.8 59.5 3.5 37.1 4 36 7.7 62.9 2 18.4 0.6 7.7 0.2 5.9-0.1 1.7-0.3 1.6-0.3 0.9-0.4 0.2-0.6-0.1-0.5-0.6-1.5-2.6-1.7-4-2.1-6-2-6.9-2.3-8.3-2.2-9.2-2.2-9.9-3.9-19.8-3.6-20.8-3.2-22.1-2.6-22-2.1-21.9-1.5-21.8-0.9-21.2-0.4-20 0.1-10.1 0.2-8.8 0.3-8.2 0.6-8.2 0.7-7.2 0.8-4.9 0.9-4.1 0.6-1.5zM1482.1 221l0.5 0 0.4 0.3 0.4 0.5 0.5 1.4 0.6 2 1.1 5.9 1.3 10 1.7 17.4 5.3 62.7 3.8 38.3 4.4 38.9 8.3 64.2 2.1 17.8 0.6 7.6 0.2 5.4-0.3 3.2-0.3 1.1-0.4 0.3-0.6-0.2-0.5-0.5-1.5-2.6-1.9-4.6-2.2-6.6-2.3-7.6-2.2-8.3-2.4-9.9-2.3-10-4.1-20.5-3.7-21.7-3.2-21.6-2.8-23-2.2-23.1-1.6-21.9-1-21.8-0.4-20.6 0-10.1 0.2-9.4 0.4-8.8 0.6-7.7 0.7-6.5 0.9-5.3 0.9-3.3 0.4-0.8zM1505.2 222.8l0.6 0 0.5 0.7 0.8 1.8 0.5 2.1 1.1 6 1.3 10.1 1.7 16.9 5.5 62.6 2.1 20.6 2.2 21.2 2.3 19.5 2.6 20.6 8.8 65.7 2.2 18 0.6 7.1 0.3 5.3-0.3 3.1-0.3 1-0.4 0.4-0.6-0.2-0.5-0.6-0.8-1.2-0.9-1.9-1.9-4.7-2.2-6.7-2.3-7.6-2.4-9-2.4-9.8-2.4-10.7-4.3-21.1-3.8-21.2-3.3-22.3-3-23.6-2.3-23-1.8-22.8-1.1-21.5-0.6-21.2 0-10 0.2-10 0.4-9.3 0.5-7.8 0.7-6.5 0.8-5.3 1-3.4 0.3-0.7zM1527.9 225.1l0.2-0.2 0.4-0.2 0.6 0.3 0.5 1 0.8 2.2 1.3 6.5 1.3 9.6 1.9 18 5.9 64.2 2.2 21.8 2.4 21.3 2.4 20 2.8 21.8 9.4 66.7 2.4 18.8 0.7 7.1 0.2 5.3-0.1 1.7-0.2 1.2-0.3 0.8-0.4 0.1-0.6-0.3-0.5-0.7-1.7-3.2-2.1-5.3-2.2-6.7-2.4-8.2-2.5-9-2.4-9.8-2.4-10.5-4.3-20.7-4.1-22.8-3.5-22.9-3-22.7-2.5-22.6-1.9-22.9-1.3-21.9-0.7-21.2-0.1-10.6 0.1-9.4 0.2-9.5 0.4-7.6 0.5-6.9 0.8-6.1 0.9-4.4 0.4-1.1zM1550.9 227.5l0.6-0.5 0.5 0.1 0.6 0.8 0.7 2.1 0.6 2.2 0.7 3.9 1.3 9.1 2.1 19 6.4 67 2.5 22.4 2.4 20.7 2.8 22.4 3 21.8 9.9 68.1 2.5 18.2 0.7 6.8 0.2 4.7 0 2-0.2 1.6-0.2 0.7-0.3 0.4-0.6-0.2-0.6-0.6-0.7-1.2-0.9-1.9-2.1-5.1-2.2-6.7-2.5-8-2.6-9.5-2.6-10.3-2.6-11.2-4.7-22-4.1-22.3-3.7-23.3-3.2-23.2-2.6-23.2-2-23-1.5-22.8-0.8-20.7-0.2-10.6 0-10 0.2-9.4 0.3-8.3 0.5-7 0.7-6.4 0.8-4 0.4-1.4zM1574.1 229.8l0.3-0.3 0.4-0.1 0.5 0.4 0.6 1.1 0.6 1.7 1.3 6.2 1.3 9 2 18.3 6.3 62.8 4.1 36.5 3.3 26.6 3.9 28.3 4 26.5 7.3 47.7 2.3 15.9 0.9 8.2 0.4 5.4-0.1 3.5-0.3 1.2-0.4 0.4-0.5-0.3-0.6-0.6-1.7-3.2-2-5.2-2.4-7.2-2.6-8.7-2.7-9.5-2.6-10.2-2.6-11-4.6-21.6-4.5-23.6-3.9-23.9-3.4-23.8-2.8-23.8-2.2-23.5-1.6-22.4-0.9-21.8-0.3-11.2 0-10 0.1-9.5 0.3-8.2 0.5-7.6 0.7-6 0.8-4.4 0.4-1.2zM1597.6 232.2l0.5 0 0.6 0.6 0.5 1.3 0.6 1.9 1.1 5.5 1.3 8.8 2.1 17.7 6.6 63.8 4.7 40.1 3.7 28.3 4.1 28.3 4.1 26.5 7.5 47.5 2.3 15 1.1 8.9 0.5 5.9-0.1 3.5-0.2 1.1-0.4 0.4-0.5-0.2-0.6-0.6-1.7-3.2-2.2-5.7-2.4-7.2-2.7-8.6-2.8-10.1-2.8-10.8-2.8-11.7-4.8-22.2-4.5-23.2-4.1-24.4-3.5-24.4-3-24.5-2.3-23.4-1.8-24.1-1-21.8-0.3-11.2-0.1-10.7 0.1-9.6 0.3-8.6 0.4-7.1 0.8-6.3 0.7-3.6 0.6-1.4zM1620.7 235.2l0.5-0.1 0.4 0.3 0.6 1.1 0.5 1.7 1.2 5.1 1.3 8.2 2.2 18.4 7.3 67.8 4.9 40.1 3.9 28.3 4.3 28.9 4.5 28.3 7.9 47.9 2.5 15.8 1 8.2 0.5 5.9 0 3.5-0.2 0.8-0.4 0.4-0.6-0.3-0.7-1-1.7-3.3-2.2-5.8-2.5-7.3-2.8-9.2-2.8-10-2.9-11.5-2.8-11.5-5.3-23.6-4.6-23.9-4.1-23.8-3.7-25-3.2-25.3-2.4-23.6-1.9-23.6-1.2-21.8-0.3-11.2-0.2-10.6 0-10.1 0.3-8.8 0.4-7.7 0.6-5.6 0.7-4 0.6-1.6zM1643.6 238.7l0.6-0.5 0.6 0.4 0.5 1 0.6 1.6 1.1 5 1.3 8 2.4 19.3 7.8 68.9 2.6 21.3 2.8 21.2 4.1 28.9 4.6 30 4.7 28.3 8.3 48.4 2.4 15.3 1.2 8.2 0.5 5.4 0 3.5-0.2 0.9-0.3 0.6-0.6-0.2-0.6-0.6-0.7-1.3-1.1-2.4-2.1-5.2-2.6-7.7-2.8-9.1-2.8-9.8-3-11.2-3-12-5.2-23-4.8-23.9-4.5-25.1-3.9-25.1-3.4-25.2-2.6-23.7-2.1-23.6-1.4-23.4-0.5-11.3-0.3-10.8-0.1-9.9 0.2-9.4 0.3-8 0.5-6.9 0.8-4.8 0.4-1.3zM1666.8 242.2l0.5-0.5 0.4 0 0.6 0.7 0.5 1.4 1.3 5.4 1.3 7.7 2.5 18.5 8.3 71.2 2.9 23 3 21.8 4.3 29.4 4.8 30.1 4.9 28.9 8.7 48.9 2.6 15.7 1.2 7.9 0.6 5.9 0 3.5-0.1 1-0.4 0.5-0.5-0.2-0.6-0.7-0.9-1.6-1-2-2.2-5.8-2.6-7.6-3-9.7-3-10.4-3-11.2-3-11.9-5.6-24.2-5-24.5-4.5-24.6-4.1-25.6-3.5-25.7-2.8-24.4-2.3-24.2-1.5-22.2-0.5-11.7-0.4-10.9-0.1-10 0-9.5 0.3-8.1 0.5-6.6 0.6-5 0.4-1.6zM1690.1 245.8l0.5-0.5 0.6 0.3 0.6 1.1 0.5 1.6 1.3 5.9 1.3 7.9 2.5 18.2 7.3 61.6 4.1 31.2 5.5 37.7 6.2 39.1 0 61.7-4.1-17.1-4.1-18.5-3.7-18.3-3.6-18.9-3.2-18.5-2.9-19.3-2.7-18.9-2.2-18.3-2-19.6-1.7-18.9-1.1-17.6-0.8-17.1-0.3-16.5 0.2-13.6 0.3-5.6 0.4-3.9 0.5-3.4zM1713.8 249.3l0.2-0.1 0.3 0.2 0.8 1.3 0.7 2.4 0.8 3.2 1.7 9.7 2.2 16.2 0 105.8-2.8-22.3-2.4-23-1.8-20.9-1.2-20.3-0.7-19.2 0-8.8 0.1-7.7 0.3-6.5 0.4-5.3 0.6-3.2 0.4-1z"/>
<path fill="#12beb9" d="M974.2 228.1l0-0.3 0.6 0.2 0.9 1 0.9 2.1 0.8 2.6 0.7 3.2 0.6 3.6 1.2 10 0.8 11.8 0.7 14.7 0.4 16.5 0.1 17.7-0.1 17.1-0.4 15.9-0.6 14.2-0.9 11.2-1.1 9.4-0.7 3.7-0.7 3.2-0.8 2.4-0.7 1.6-0.8 1.1-0.3 0.2-0.6 0.2zM996.6 228.1l0.5-0.3 0.4 0 0.8 0.5 0.9 1.4 0.7 2 0.8 2.8 0.7 3.6 1.2 8.4 0.9 11.1 0.8 14.1 0.5 16.5 0.3 18.3 0 18.8-0.2 17.1-0.5 14.3-0.7 12.3-1.1 10.2-0.6 3.4-0.7 3.5-0.8 2.5-0.7 1.6-0.8 1-0.4 0.3-0.5 0.1-0.4-0.1-0.6-0.4-0.7-1-0.7-1.7-0.8-2.3-0.7-3-0.7-3.5-1.2-8.9-1-11.2-0.8-12.9-0.5-14.8-0.3-16.5 0-17.1 0.3-16.5 0.5-14.7 0.8-12.4 1-10.2 1.3-8.3 0.8-3.1 0.7-2.4 0.7-1.6zM1019.8 228.1l0.5-0.3 0.4 0 0.7 0.4 0.7 1.1 0.8 1.8 0.7 2.6 0.8 3.6 1.2 8.5 0.9 10.6 0.8 13.5 0.6 16.5 0.4 18.3 0.1 20.1-0.1 17.6-0.4 15.4-0.6 11.8-0.9 9.4-0.5 3.9-0.6 3.2-0.7 2.6-0.8 1.9-0.7 1.1-0.4 0.3-0.6 0.2-0.7-0.2-0.9-1.1-1-2-0.7-2.2-0.8-2.9-0.7-3.7-1.3-8.8-1.1-11.1-0.9-13-0.6-14.8-0.4-15.9-0.1-17.1 0.2-15.9 0.5-15.1 0.7-12.6 1-10.6 1.3-8.3 0.7-3.2 0.7-2.5 1-2.1zM1042.9 228.1l0.5-0.3 0.4 0 0.7 0.4 0.8 1.1 0.7 1.9 0.8 2.6 0.5 2.7 1.3 8.7 0.9 10.6 0.8 13 0.7 16.5 0.4 18.9 0.3 20.6 0 18.8-0.2 15.3-0.5 11.8-0.9 9.9-0.5 4.1-0.6 3-0.5 2.1-0.8 1.9-0.7 1.1-0.4 0.3-0.6 0.2-0.3-0.1-0.6-0.4-0.9-1.3-1-2.2-0.7-2.3-1.5-6.8-1.5-9.7-1.2-11-0.9-12.9-0.7-14.8-0.5-15.9-0.1-17.1 0.1-15.9 0.5-14.6 0.7-12.6 1.1-10.5 1.2-8.1 0.7-3.4 0.8-2.5 0.9-2.1zM1066 228.1l0.6-0.3 0.3 0 0.8 0.4 0.7 1.1 0.8 1.9 0.7 2.8 0.6 2.7 1.1 7.9 0.9 10.1 0.8 12.9 0.7 16.2 0.6 18.6 0.4 21.8 0.2 20-0.2 15.3-0.4 12.4-0.7 10-0.4 3.9-0.6 3.2-0.6 2.3-0.7 2-0.8 1-0.7 0.4-0.7-0.3-1-1-0.9-1.9-0.9-2.7-1-3.5-0.7-3.4-1.6-10-1.3-11.2-1.1-13-0.8-14.7-0.6-15.9-0.2-16.5 0.1-16.5 0.4-14.8 0.7-12.9 1-10.5 1.3-8.7 0.8-3.4 0.7-2.6 0.8-1.9zM1089.2 228.1l0.7-0.3 0.7 0.2 0.8 1 0.7 1.8 0.8 2.6 0.5 2.7 1.2 7.9 0.9 10 0.9 13 0.7 15.9 0.6 19.4 0.6 23.6 0.3 20.7 0 15.3-0.3 12.4-0.6 9.5-0.4 3.5-0.5 3.6-0.6 2.4-0.7 1.9-0.8 1-0.7 0.3-0.4-0.1-0.6-0.4-0.9-1.3-0.9-2.1-1-2.8-1.6-7.1-1.7-10.1-1.4-11.9-1.2-13.5-0.9-14.8-0.6-15.3-0.3-16.5 0.1-15.9 0.3-14.8 0.8-12.9 1-10.9 1.3-8.8 0.7-3.5 0.8-2.5 0.9-2.2zM1112.3 228.1l0.7-0.3 0.8 0.3 0.7 1 0.8 1.8 0.6 2.5 0.6 2.9 1.1 7.1 0.9 10 0.8 12.4 0.8 15.8 0.7 19 0.8 25.9 0.4 21.2 0.2 16-0.2 12.3-0.5 10.1-0.4 4.1-0.4 2.9-0.6 2.5-0.6 1.6-0.7 1.2-0.4 0.2-0.4 0.1-0.3-0.1-0.6-0.4-0.9-1.3-0.9-2-1-2.7-0.9-3.3-0.9-4.2-1.9-10.8-1.5-11.8-1.3-14.1-1-14.4-0.7-15.9-0.3-15.9-0.1-16 0.4-15.3 0.7-12.9 1-11.2 1.3-9 0.7-3.5 0.8-2.6 0.9-2.2zM1135.6 228.1l0.4-0.2 0.3 0 0.8 0.5 0.7 1.3 0.6 1.5 1.1 4.7 1.1 7.5 0.9 9.4 0.8 11.6 0.8 14.4 0.7 18.8 1.7 51.3 0.3 16.5-0.1 12.4-0.3 10-0.7 7.1-0.5 2.8-0.6 1.8-0.7 1.3-0.4 0.3-0.4 0.1-0.4 0-0.5-0.4-0.9-1.3-1-1.9-1.1-3.3-1.1-4.1-1-4.2-1.8-10.6-1.7-12.9-1.3-13.3-1.1-15.6-0.7-15.3-0.5-16.5 0-16 0.3-14.7 0.7-13.5 0.9-10.8 0.6-4.6 0.8-4.7 0.7-3.4 0.9-3.2 0.8-1.7zM1159 228.1l0.7 0 0.5 0.5 0.8 1.4 0.5 1.6 1.2 5.3 1.1 7.8 0.9 9.9 0.7 11.5 1.7 35.5 1.9 52 0.4 16 0.1 11.7-0.3 9.5-0.6 7.1-0.5 2.9-0.5 1.8-0.7 1.1-0.3 0.3-0.4 0.1-0.4-0.1-0.5-0.3-1-1.3-1.1-2.4-1.1-3.3-1.1-4.2-1-4.1-2-11.4-1.7-12.3-1.5-14.5-1.2-15.4-0.8-16.5-0.5-16.5-0.1-16 0.3-14.7 0.7-13.5 1-11.8 0.6-4.4 0.8-4.5 0.7-3.3 0.9-3 1-1.8 0.3-0.4zM1181.6 228.7l0.6-0.4 0.6 0.1 0.7 0.8 0.6 1.2 0.6 1.7 0.5 2.3 0.9 5.4 1 7.9 0.8 9.3 0.8 12.3 0.8 16.1 3 68.2 0.5 16.5 0.2 12.4-0.1 10.6-0.5 7.7-0.5 2.9-0.4 1.8-0.7 1.3-0.4 0.4-0.3 0.1-0.4-0.1-0.6-0.4-0.9-1.3-1.1-2.4-1.2-3.3-1.1-4-1.1-4.8-2-11.1-1.9-13.1-1.5-13.5-1.3-15.6-0.9-15.8-0.6-16-0.3-15.9 0.2-15.4 0.6-13.5 0.9-11.8 1.2-9.9 0.8-3.9 0.7-3 0.9-2.5zM1205.2 228.7l0.5 0 0.6 0.4 0.6 0.9 0.5 1.5 1.1 4.6 1 6.2 0.8 8.2 0.9 10.2 1.6 29.4 3.4 70 0.6 15.4 0.3 11.7-0.1 10.1-0.4 7.3-0.4 2.5-0.6 2.2-0.5 1-0.4 0.4-0.4 0.1-0.4-0.1-0.5-0.5-1.1-1.7-1.1-2.6-1.2-3.4-1.1-4.1-1.1-4.8-2.2-11.9-1.9-12.8-1.7-14.7-1.4-15.9-1-16.5-0.6-16.5-0.3-16.5 0.2-15.3 0.6-13.6 1-12.8 0.6-4.6 0.7-4.7 0.8-3.5 0.9-3.1 0.7-1.6 0.4-0.5zM1228 229.3l0.5-0.2 0.6 0.2 0.5 0.7 0.6 1.1 0.9 3.3 0.9 5.1 0.9 6.9 0.8 8.6 1.6 23.2 4.6 86.6 1 24.8 0.1 10.6-0.4 7.7-0.3 2.9-0.4 1.8-0.6 1.3-0.4 0.4-0.3 0.2-0.4 0-0.6-0.4-1.1-1.6-1.1-2.6-1.1-3.2-1.3-4.7-1.1-4.7-2.3-11.5-2-13.4-1.9-15.4-1.5-16.1-1.1-16.1-0.7-17.1-0.4-16 0.1-15.3 0.5-14.1 0.9-12.4 0.5-5.3 0.8-5.1 0.7-3.9 0.8-2.9 0.9-2.4zM1251.2 229.8l0.4-0.1 0.6 0.2 0.6 0.8 0.3 0.8 1 3.1 0.9 4.9 0.7 5.7 0.9 8.2 1.6 22.3 5.5 96.2 1.1 21.8 0.1 10.6-0.2 7.7-0.4 2.9-0.4 1.8-0.5 1.3-0.4 0.4-0.4 0.1-0.3-0.1-0.6-0.4-0.9-1.4-1.1-2.5-1.3-3.8-1.2-4-1.3-5.3-2.4-12.2-2.2-14.3-1.9-14.9-1.6-16-1.2-16.8-0.8-16.8-0.4-16.5 0-15.9 0.4-14.2 0.8-12.3 0.6-5.3 0.7-5.5 0.8-4 0.7-3 0.9-2.4zM1273.8 231l0.4-0.4 0.6-0.2 0.5 0.4 0.4 0.5 0.9 2.3 1 4 0.9 5.8 0.8 6.9 1.5 19 6.8 109.1 1.1 19.5 0.2 10.6-0.1 7.7-0.3 2.9-0.5 2.2-0.5 1.1-0.6 0.4-0.4-0.1-0.5-0.4-1-1.4-1.1-2.5-1.3-3.8-1.3-4.5-1.3-5.4-2.4-11.9-2.3-13.6-2-15.5-1.7-15.9-1.3-16.6-1-16.5-0.5-16.5-0.2-15.9 0.3-14.7 0.7-13 0.5-5.6 0.6-5.6 0.7-4.4 0.8-3.6 0.7-2.5zM1297.2 231.6l0.5-0.2 0.4 0.1 0.6 0.5 0.3 0.7 1 2.8 0.7 3.8 0.8 5.3 0.8 7.1 1.6 18.7 4 60.8 3.8 54.9 1 16.5 0.3 10.6-0.1 7.6-0.3 2.7-0.3 2.1-0.6 1.3-0.5 0.3-0.4 0-0.6-0.5-1.1-1.7-1.1-2.6-1.3-3.9-1.3-4.6-1.3-5.3-2.6-12.7-2.5-14.6-2-15.2-1.9-17.2-1.4-16.5-1-17.1-0.6-17-0.1-16 0.2-14.7 0.8-13.6 0.5-5.9 0.6-5.3 0.8-4.7 0.8-3.1 0.7-2.2zM1320.2 232.8l0.5-0.3 0.3 0 0.6 0.5 0.4 0.6 0.9 2.6 0.8 3.5 0.7 4.7 0.8 6.7 1.6 18.4 4.2 60.6 4.6 60.7 1.1 17.3 0.4 10.4-0.1 7.7-0.2 2.3-0.3 1.8-0.5 1.3-0.6 0.3-0.4 0-0.5-0.5-1.1-1.9-1.2-2.6-1.3-3.9-1.3-4.6-1.5-6-2.8-13.5-2.4-14.4-2.2-16.1-1.9-16.7-1.5-16.9-1.1-17.1-0.6-16.5-0.3-15.9 0.2-15.4 0.6-13.5 1.1-11.2 0.7-4.8 0.7-3.6 0.8-2.5 0.3-0.8zM1343.5 234l0.5-0.2 0.4 0.1 0.7 1.1 0.9 2.9 0.8 3.6 0.7 4.8 0.8 6.2 1.5 16.4 4.7 64.7 5 61.3 1.3 18.9 0.5 10.6-0.1 7.1-0.2 2.3-0.3 1.8-0.5 0.9-0.5 0.3-0.4-0.1-0.6-0.5-1.1-2-1.3-3.2-1.3-4-1.5-5.4-1.5-6.1-2.8-13.5-2.6-15.4-2.2-16-1.9-16.1-1.6-17.4-1.2-17.6-0.7-17.1-0.3-16 0.1-15.3 0.6-13.5 0.5-6.5 0.5-5.3 0.8-5 0.7-3.3 0.8-2.3zM1366.3 235.7l0.5-0.4 0.3 0 0.4 0.2 0.4 0.4 0.9 2.4 0.8 3.1 0.7 4.3 0.7 5.6 1.5 15 5.5 70.8 5.7 65.9 1.3 16.1 0.5 10 0 7.1-0.1 2.3-0.4 2-0.3 1-0.6 0.4-0.4-0.1-0.5-0.5-1.1-1.9-1.4-3.2-1.3-3.9-1.5-5.3-1.4-6-3-14-2.6-14.9-2.5-16.4-2-16.9-1.7-17.2-1.3-17.6-0.9-16.9-0.4-16.5 0-15.4 0.5-14.7 0.9-11.8 0.6-5 0.8-3.8 0.7-2.8zM1389.4 237.5l0.5-0.4 0.4-0.1 0.3 0.2 0.4 0.6 0.8 1.8 0.7 2.9 0.7 4.2 0.8 5.3 1.5 14.1 6.2 76.3 6.1 65.8 1.3 16.2 0.6 10 0.1 7.1-0.1 2.3-0.3 1.8-0.3 1.1-0.2 0.2-0.4 0.3-0.3-0.1-0.6-0.5-1.1-1.9-1.3-3.2-1.3-3.9-1.5-5.2-1.5-5.9-3.2-14.6-2.8-15.5-2.4-16-2.2-17.6-1.9-18-1.3-17.1-1-17.1-0.6-16.5-0.1-15.9 0.4-14.8 0.4-6.4 0.5-5.9 0.6-5.2 0.6-3.7 0.7-2.8zM1412.7 239.3l0.3-0.3 0.4 0 0.4 0.2 0.3 0.6 0.8 1.9 0.7 3 0.8 4.2 0.7 5.3 1.5 13.9 6.6 77.3 6.8 69.5 1.4 15.4 0.7 10 0.1 6.5-0.1 2.3-0.2 1.8-0.4 1.2-0.1 0.3-0.4 0.2-0.4 0-0.5-0.6-1.2-1.9-1.3-3.2-1.5-4.6-1.5-5.2-1.6-6.7-3.2-14.6-2.8-15.3-2.6-16.7-2.3-17.2-2-18.9-1.4-17.6-1.1-17.1-0.6-17.1-0.2-15.9 0.4-15.4 0.3-6.5 0.5-5.9 0.6-5.1 0.6-3.3 0.7-3zM1435.7 241.6l0.3-0.3 0.3-0.2 0.4 0.2 0.4 0.4 0.7 1.7 0.8 2.8 0.7 3.9 0.8 5 1.5 13.1 7.3 81.9 2.6 25.9 4.8 45.4 1.5 15.9 0.6 9.5 0.2 6.5-0.3 3.5-0.3 0.9-0.2 0.3-0.4 0.2-0.3-0.1-0.6-0.5-1.1-2.1-1.3-3.2-1.5-4.6-1.5-5.2-1.7-6.6-3.4-15.2-2.9-16.1-2.6-16.3-2.5-18-2-18.4-1.6-17.7-1.2-17.7-0.7-17.1-0.3-15.9 0.3-15.3 0.7-12.8 0.5-5.4 0.6-3.7 0.7-3.2zM1458.9 244l0.6-0.4 0.4 0.1 0.3 0.4 0.8 1.7 0.7 2.8 0.8 4 0.7 4.9 1.5 12.7 7.9 84 2.9 27.1 5.1 46.1 1.5 14.8 0.7 9.5 0.2 6.9-0.2 3.8-0.4 1.2-0.3 0.4-0.4-0.1-0.6-0.5-1.1-2-1.3-3.2-1.5-4.5-1.7-5.8-1.7-6.6-3.3-14.9-3.2-16.7-2.8-17.1-2.6-18.7-2-17.7-1.7-17.9-1.3-18.3-0.8-17.1-0.4-16.5 0.1-15.3 0.6-13 0.5-5.3 0.6-4.1 0.7-3zM1482.4 246.4l0.2-0.2 0.4 0.1 0.4 0.4 0.3 0.7 0.6 1.6 0.7 3.1 1.5 9.2 1.5 12.7 5.7 59 2.6 25.4 3.2 28.8 5.5 47.4 1.5 14.5 0.8 9.5 0.2 6.5-0.1 2.3-0.2 1.4-0.3 0.9-0.4 0.2-0.4-0.1-0.5-0.7-1.3-2.5-1.5-4-1.5-4.7-1.7-6.1-1.7-6.6-3.5-15.9-3.2-16.7-3-18.1-2.4-17.3-2.3-18.8-1.8-19.5-1.3-17.7-0.9-17.1-0.4-16.5 0.2-15.9 0.6-12.4 0.5-5.2 0.5-3.7 0.8-2.9 0.4-0.8zM1505.6 249.3l0.3-0.1 0.2 0 0.4 0.4 0.4 0.7 0.5 1.5 0.8 3 1.5 9 1.5 12.2 6 60 2.8 26.5 3.6 30.6 5.8 48.4 1.7 15.2 0.7 8.4 0.3 5.9-0.1 2.3-0.1 1.4-0.3 1-0.5 0.3-0.3-0.2-0.6-0.7-1.1-2.1-1.5-3.9-1.7-5.2-1.7-6-1.8-7.3-3.6-15.8-3.3-17.2-3-17.7-2.6-18-2.3-18.2-1.8-17.9-1.6-18.7-1-18.3-0.5-17.1-0.1-15.9 0.6-12.9 0.4-5.3 0.6-4.2 0.6-2.7 0.4-0.9zM1528.5 252.8l0.6-0.4 0.3 0.1 0.4 0.4 0.6 1.3 0.7 2.7 1.5 8.2 1.5 11.3 1.7 15.1 5.1 49.2 3 27.1 3.7 30.6 6.3 49.5 1.7 14.5 0.7 8 0.4 6.4 0 2.4-0.2 1.8-0.2 0.7-0.4 0.4-0.3 0-0.6-0.6-1.1-2-1.5-3.9-1.5-4.5-1.7-5.8-1.8-7.1-3.8-16.1-3.3-16.7-3.2-18-3-19.6-2.4-18.7-2.1-19-1.5-17.2-1.1-17.6-0.7-17.7-0.2-16.5 0.3-13.5 0.4-5.6 0.5-4.4 0.7-3.2zM1551.8 256.4l0.2-0.4 0.4-0.2 0.6 0.4 0.5 1.2 0.8 2.5 0.7 3.5 0.8 4.4 1.4 10.8 1.9 16 5.5 50.8 3.2 27.1 3.3 27.1 7 53.1 2.1 16.8 0.8 8.5 0.4 5.9-0.1 2.2-0.1 1.4-0.3 0.6-0.3 0.4-0.4-0.2-0.6-0.6-1.1-2.2-1.5-3.9-1.7-5.2-1.8-6.5-1.9-7.2-3.7-16.1-3.6-17.5-3.1-17.8-2.8-17.9-2.6-19.4-2.1-18-1.7-18.3-1.3-18.1-0.8-17.2-0.3-16 0.2-14.1 0.3-5.9 0.4-4.2 0.6-3.6zM1575.3 259.9l0.4-0.3 0.6 0.4 0.5 1.2 0.8 2.6 1.3 6.7 1.7 11.7 1.8 15.5 5.7 50.6 3.6 29.5 3.5 27.1 7.4 53.8 2.2 17.4 0.8 7.8 0.4 5.9-0.1 3.8-0.1 0.8-0.4 0.5-0.4-0.1-0.5-0.6-1.2-2.2-1.5-3.9-1.6-5.1-1.9-6.5-1.9-7-3.9-16.7-3.5-17.1-3.4-18.3-3.2-19.8-2.6-18.9-2.2-19-1.9-19.3-1.3-17.5-0.9-17.6-0.4-16.5 0.2-13.6 0.3-5.9 0.4-4.4 0.6-3.3zM1598.6 264l0.4-0.4 0.6 0.5 0.6 1.2 0.7 2.5 1.3 6.6 1.7 11.4 2 16.5 5.9 50.2 3.9 31.2 3.9 28.9 7.6 53.2 2.3 16.9 0.9 8.2 0.4 5.4 0 3.6-0.2 1.1-0.4 0.5-0.4-0.1-0.3-0.4-1.4-2.4-1.4-3.9-1.7-5.2-3.8-13.4-4.1-17.2-3.7-17.7-3.4-18-3.1-19.2-2.8-19.4-2.4-19.7-1.9-18.1-1.5-18.3-1.1-17.9-0.5-17.1 0.1-14.1 0.2-5.3 0.4-4.8 0.5-3.4zM1622.1 268.2l0.4-0.2 0.6 0.6 0.6 1.4 0.7 2.7 1.3 6.8 1.7 11.2 2.1 16 6 49.9 4.2 31.8 4.2 30.7 8.1 54.8 2.3 16.2 0.9 8 0.4 5.3 0 3.5-0.2 0.8-0.4 0.5-0.4-0.1-0.5-0.8-1.1-2.2-1.5-3.9-1.9-5.8-3.9-14.2-4.1-17.1-3.8-17.5-3.5-18.7-3.2-18.8-3-20.2-2.4-19-2-19.1-1.7-19.6-1.1-17.1-0.6-17.1 0.1-14.1 0.2-5.9 0.4-4.1 0.4-3 0.4-1.2zM1645.5 272.9l0.4-0.3 0.5 0.5 0.6 1.2 0.7 2.6 1.3 6.5 1.7 10.8 2.1 15.4 6.6 52.3 4.3 31.8 4.5 31.3 8.5 55.4 2.4 16.9 0.9 7.8 0.5 5.3-0.1 3.6-0.2 0.7-0.4 0.3-0.3-0.2-0.6-0.8-1.1-2.4-1.5-4-1.9-5.8-2-7.1-2.1-7.6-4.1-17-3.9-18.2-3.6-18.4-3.3-19.5-3-19.6-2.6-19.8-2.1-18.3-1.6-18.2-1.3-18.6-0.8-17.1-0.1-14.2 0.2-5.3 0.3-4.7 0.5-3.6 0.2-0.9zM1669.3 277.6l0.3 0 0.2 0.2 0.5 1.1 1.1 3.9 1.3 6.7 1.7 10.8 8.9 66.9 4.7 33.6 4.6 31.2 8.9 55.9 2.4 16.4 0.9 7.3 0.6 5.9 0 3-0.2 1-0.2 0.3-0.2 0.1-0.3-0.2-0.6-0.8-1.3-2.8-1.5-4-1.9-5.9-2-7-2.3-8.4-4.3-17.7-3.9-18-3.7-19.1-3.4-19.2-3.1-20.4-2.6-19.3-2.3-19.3-1.8-19.7-1.3-17.7-0.8-17.1-0.1-14.1 0.2-5.4 0.3-4.1 0.5-3 0.4-0.9zM1692.7 282.9l0.4 0 0.5 0.7 0.6 1.5 0.6 2 1.1 5.3 1.5 8.9 2.2 15.3 6.6 48.8 4.1 28.9 4.7 31.3 5.5 34.3 0 42.1-3.4-13.2-3.1-13.6-3.2-14.8-3.2-16-3-16.5-2.6-15.8-2.4-16.2-2-15.4-1.9-15.7-1.7-16.6-1.3-16-0.9-14.5-0.4-13-0.1-11.2 0.5-7.1 0.3-2.2 0.3-0.7zM1716.1 288.8l0.3-0.3 0.2-0.1 0.4 0.3 0.3 0.7 0.6 1.6 1.1 4.6 1.5 8.1 0 72.1-1.7-14.8-1.3-13.3-1.1-13.8-0.8-13.3-0.5-12.4 0-9.4 0.4-7 0.2-1.8z"/>
<path fill="#48cb86" d="M974.2 239.9l0-0.5 0.2 0 0.5 0.3 0.4 0.5 0.8 1.4 0.7 2.4 0.8 3.2 0.5 3.3 1 8.2 0.8 10.6 0.6 12.3 0.4 13.8 0.2 15.2-0.2 14.7-0.3 13.6-0.6 11.8-0.8 9.6-0.9 8.1-0.6 3.5-0.7 2.9-0.6 1.9-0.7 1.8-0.8 1-0.7 0.3zM996.5 239.9l0.6-0.5 0.4 0 0.4 0.2 0.7 0.9 0.8 1.7 0.7 2.6 0.6 2.7 1.1 7.6 0.9 10 0.7 11.3 0.5 13.6 0.3 14.7 0.1 15.9-0.2 14.8-0.5 12.9-0.7 10.8-0.9 8.9-1.1 6.4-0.6 2.1-0.7 1.9-0.8 1.2-0.7 0.4-0.8-0.3-0.7-0.9-0.8-1.6-0.5-1.7-1.3-5.9-1-7.1-0.9-9-0.7-11.6-0.5-12.4-0.3-13 0-14.7 0.2-14.2 0.4-12.4 0.7-11.2 1-9.6 1-6.9 1.2-4.8 0.7-1.9zM1019.7 239.9l0.6-0.4 0.4 0 0.3 0.2 0.8 1 0.7 1.7 0.6 2.2 0.7 2.9 1 7.1 0.9 9.4 0.8 11.8 0.5 13.6 0.4 15.9 0.1 15.9-0.1 15.3-0.4 13-0.6 10.7-0.7 8.2-1.1 6.6-0.6 2.2-0.7 1.9-0.8 1.1-0.4 0.2-0.3 0.1-0.8-0.4-0.7-1-0.8-1.6-0.5-1.8-1.3-5.7-1.2-8.1-1-9.4-0.8-11.2-0.5-12.4-0.3-13.6-0.1-14.1 0.1-13.6 0.5-12.4 0.7-11.3 0.9-9.6 1-6.8 1.2-4.8 0.8-1.8zM1042.9 239.9l0.7-0.3 0.4 0.1 0.4 0.3 0.7 1.2 0.6 1.5 0.6 2.5 0.6 2.9 1.1 7.1 0.8 9.2 0.8 11.8 0.6 13.8 0.4 15.9 0.2 17.1-0.1 15.3-0.2 13-0.6 10.5-0.7 8.4-0.9 5.8-0.6 2.2-0.7 2-0.6 0.8-0.4 0.3-0.3 0.1-0.8-0.3-0.7-1-0.8-1.6-0.7-2.2-1.3-5.6-1.3-8.3-1.1-9.9-0.9-11.2-0.6-13-0.4-13.6-0.1-13.5 0.1-13.6 0.4-12.4 0.7-11.3 0.9-9.5 1.1-7.2 0.6-2.5 0.8-2.4 0.7-1.7zM1066.4 239.9l0.3-0.1 0.4 0.2 0.6 0.5 0.7 1.5 0.6 1.6 0.5 2.3 0.7 3.4 1 7.9 0.9 9.8 0.7 11.8 0.6 14.1 0.4 15.9 0.3 16.5 0 15.4-0.2 12.9-0.4 10.1-0.6 7.6-0.9 6.1-0.6 2.2-0.6 1.6-0.5 0.9-0.4 0.3-0.4 0.1-0.7-0.2-0.8-0.9-0.9-2-0.7-2.2-1.5-6.5-1.3-8.3-1.2-10-0.9-11.6-0.7-13.1-0.4-13.6-0.2-14.1 0.1-13.6 0.5-12.9 0.6-10.6 1-9.5 1.2-6.9 0.5-2.3 0.8-2.2 0.7-1.5 0.4-0.4zM1089.1 240.5l0.6-0.4 0.4 0.1 0.3 0.2 0.8 1.1 0.5 1.4 1.2 4.6 1.1 7.4 0.9 9.6 0.8 11.1 0.6 13.8 0.6 15.9 0.4 18.3 0.2 16.5-0.1 13.5-0.3 10.7-0.6 8.8-0.8 6-0.6 2.3-0.6 1.5-0.5 0.8-0.4 0.3-0.4 0-0.7-0.3-0.8-1-0.7-1.6-0.8-2.2-1.4-6.1-1.5-8.8-1.3-10.4-1-11.3-0.7-12.2-0.6-13.6-0.2-13.6 0-13.5 0.3-12.4 0.6-11.2 0.8-9.2 1.1-7.9 0.6-2.7 0.7-2.7 0.8-1.9zM1112 241l0.6-0.5 0.6 0.1 0.7 0.7 0.6 1.1 0.6 1.7 0.7 2.8 1 6.5 0.9 8.3 0.8 11.2 0.8 13.5 0.6 15.9 0.6 19.5 0.3 18.1 0.1 14.3-0.2 11.2-0.5 8.9-0.8 6.5-0.4 2-0.6 1.7-0.5 0.9-0.4 0.3-0.4 0.1-0.7-0.3-0.8-1-0.7-1.6-1-2.7-1.4-6-1.5-8.6-1.3-10.1-1.2-11.8-0.8-12.5-0.6-12.9-0.4-13.6 0-13.5 0.3-12.4 0.5-11.2 0.8-9.5 1-7.8 0.5-3.1 0.8-3 0.7-2zM1135.7 241l0.6 0.1 0.6 0.5 0.7 1.5 0.6 1.7 1.1 5.4 1 7.1 0.8 9.7 0.8 11.8 0.8 14.9 0.6 16.3 0.7 19.5 0.3 15.9 0.1 13-0.1 10.6-0.5 8.2-0.7 5.9-0.4 2.2-0.5 1.4-0.6 1-0.6 0.2-0.4-0.1-0.3-0.2-1-1.3-0.7-1.7-1-2.8-1.6-7-1.5-8.7-1.4-10.1-1.2-12.4-0.9-12.9-0.6-13.6-0.4-13.6 0-13.5 0.2-12.4 0.6-11.8 0.9-9.4 1.1-7.7 0.7-3.3 0.7-2 0.6-1.5 0.4-0.5zM1158.9 241.6l0.6 0.1 0.7 0.9 0.6 1.2 0.5 1.9 1.1 5.4 0.9 7 0.8 8.9 0.9 12.4 1.6 32.3 1.1 36 0.2 13 0 10.6-0.4 8.3-0.6 5.8-0.3 1.9-0.6 1.8-0.6 0.9-0.5 0.3-0.4-0.1-0.4-0.3-0.9-1.3-0.7-1.7-1-2.8-1.7-6.8-1.6-9.3-1.5-11.1-1.3-12.7-1-12.5-0.7-14-0.4-14.2-0.1-13.5 0.3-13 0.6-11 0.9-10.2 1.1-7.3 0.6-2.5 0.7-2.3 0.8-1.5zM1181.4 242.8l0.6-0.4 0.6 0.1 0.6 0.6 0.5 1.2 0.6 1.7 0.5 2.4 1 5.6 0.9 7.7 0.8 9.4 0.8 12.4 0.8 15.9 1.9 44.2 0.4 15.3 0.2 12.4-0.3 9.5-0.5 6.6-0.4 2.3-0.5 1.9-0.6 1-0.5 0.2-0.4 0-0.4-0.3-0.7-1-1-2.1-0.9-2.7-0.9-3.5-1-4.1-1.6-9.2-1.5-10.6-1.3-12-1.1-13.1-0.8-13-0.5-13.5-0.2-13 0.1-12.8 0.5-11.4 0.7-10 1.1-8.8 1.1-5.5 0.7-2.2zM1204.9 243.4l0.5-0.1 0.5 0.3 0.6 0.9 0.5 1.4 1.2 4.8 0.9 6.4 0.9 8.1 0.8 10.2 1.8 31.8 2 44.1 0.5 13.8 0.1 10.9-0.1 8.3-0.5 6.5-0.5 2.3-0.3 1.3-0.6 1-0.6 0.3-0.3-0.2-0.4-0.3-0.7-1-1-2.1-0.9-2.8-1.9-7.4-1.8-10.1-1.7-11.7-1.3-11.7-1.2-13-0.8-13.6-0.5-13.6-0.3-13.5 0.1-13 0.5-11.8 0.7-10 1.1-8.3 0.6-2.9 0.7-2.8 0.7-1.8zM1227.9 244.6l0.4-0.2 0.6 0.2 0.5 0.7 0.6 1.4 0.9 3.6 1 5.6 0.8 7.5 0.8 9 1.9 28.3 2.6 50 0.6 14.7 0.3 11.8-0.1 9.5-0.3 6.4-0.4 2.4-0.4 1.8-0.4 0.9-0.6 0.5-0.4-0.1-0.3-0.2-0.8-1-0.9-2-0.9-2.7-1-3.3-1.1-4.7-1.9-9.8-1.6-11.1-1.5-12.6-1.2-12.9-1-13.5-0.6-14.2-0.3-13.6 0-12.9 0.4-11.8 0.7-10.6 1-8.7 0.6-3.1 0.6-2.4 0.7-1.9zM1251.2 245.8l0.4-0.1 0.6 0.4 0.6 1 0.5 1.6 0.9 4.2 0.9 5.8 0.8 7.2 1 10.7 1.8 27.8 2.8 49.8 0.8 15.9 0.3 11.2 0 8.9-0.3 6.5-0.3 2.3-0.5 1.8-0.3 0.7-0.6 0.4-0.4-0.1-0.4-0.3-0.9-1.4-0.9-2.2-1-2.9-2-8.2-1.9-9.8-1.8-12.4-1.5-12.5-1.3-13.8-0.9-13-0.7-14.1-0.4-13.6 0.1-12.9 0.3-11.8 0.6-10 1.1-8.9 0.6-3.5 0.6-2.1 0.7-1.9zM1274 247.5l0.4-0.3 0.6 0.1 0.5 0.7 0.6 1.2 0.9 3.6 0.9 5.3 0.8 6.5 0.9 9.4 1.9 25.2 3.5 57.1 0.9 16.2 0.4 11.7 0.1 9.5-0.2 6.5-0.6 3.6-0.6 1.2-0.5 0.3-0.4-0.2-0.4-0.3-0.9-1.6-0.9-2.3-1-2.9-2-8.3-1.9-9.6-1.9-12-1.4-11.8-1.4-12.7-1.1-14.2-0.7-13.5-0.5-13.5-0.1-13 0.2-12.4 0.6-10.9 0.9-9.1 0.6-3.8 0.5-2.6 0.6-1.8zM1297.1 249.3l0.4-0.4 0.6 0.1 0.6 0.7 0.3 0.9 1 3.3 0.9 5.2 0.8 6.1 0.9 8.7 1.8 23.6 4.1 61.1 1 15.7 0.6 12.4 0.2 9.4-0.2 7.1-0.3 2.6-0.3 1.8-0.4 0.9-0.6 0.3-0.3-0.1-0.4-0.3-0.9-1.5-1-2.3-0.9-2.9-2.1-8.1-2-10.4-1.9-11.7-1.7-12.8-1.4-13.3-1.1-13.6-0.8-13.5-0.6-14.2-0.1-12.9 0.1-11.8 0.5-11.2 0.8-9 0.6-3.9 0.6-2.7 0.5-1.9zM1320.4 251.1l0.5-0.2 0.5 0.3 0.4 0.5 0.4 1.1 0.9 3.2 0.9 5.3 0.8 5.8 0.9 8.9 1.9 22.5 4.8 67.5 1.5 24.8 0.3 9.4-0.1 6.5-0.2 2.4-0.4 1.9-0.3 1-0.6 0.5-0.4-0.1-0.3-0.3-0.8-1.1-0.9-2.2-1.1-3.4-2.1-8-2.2-11.2-2.1-12.6-1.7-12.6-1.4-13.7-1.2-13.1-0.9-14.2-0.6-13.5-0.2-13.6 0.1-12.4 0.5-11.2 0.8-8.7 0.5-3.9 0.6-2.7 0.5-1.8zM1343.5 253.4l0.5-0.3 0.4 0.1 0.3 0.4 0.6 1.2 0.9 3.5 0.8 4.1 0.7 5.4 1 8.3 1.8 21.1 5.4 70.5 1.8 26 0.3 10 0 7.1-0.2 2.6-0.3 1.5-0.4 1.2-0.4 0.3-0.4-0.1-0.4-0.4-0.7-1.1-0.9-2.2-1.2-3.4-2-8-2.3-10.9-2-12.2-1.9-13.4-1.5-12.9-1.3-14.1-1-14.1-0.6-14.2-0.4-12.9 0.1-12.4 0.3-11.2 0.8-9.5 0.5-3.8 0.5-3 0.6-2zM1366.8 255.8l0.5-0.2 0.4 0.3 0.7 1.4 0.8 2.6 0.9 5 0.8 5.2 0.9 8.2 1.9 20.1 6.1 75.6 1.7 23.9 0.5 9.4 0 7.1-0.4 4.1-0.3 1.2-0.2 0.3-0.4 0.3-0.3-0.1-0.4-0.3-0.7-1.3-1-2.2-1.1-3.4-2.2-8.7-2.3-11-2-12-1.9-13-1.7-14.2-1.3-13.5-1.1-14.7-0.7-13.5-0.4-13.6 0-12.4 0.3-11.8 0.7-9.4 0.5-3.5 0.5-3 0.6-1.9zM1389.9 258.7l0.4-0.3 0.3 0 0.4 0.4 0.4 0.7 0.7 2.3 1 4.5 0.7 4.9 0.9 7.5 2.1 20.9 6.9 80.2 1.7 22.2 0.5 10 0.1 6.5-0.3 4.1-0.3 1.2-0.2 0.3-0.4 0.3-0.4-0.2-0.3-0.3-0.8-1.3-0.9-2.3-1.1-3.5-2.3-8.7-2.2-10.8-2.1-11.7-2-13.9-1.7-13.6-1.5-14.8-1.1-14.3-0.8-13.1-0.4-13.5-0.2-12.4 0.3-11.6 0.5-9.2 0.4-3.5 0.6-3.6 0.5-2.2zM1413.2 261.7l0.4-0.2 0.4 0.1 0.3 0.5 0.4 0.7 0.7 2.5 1 4.8 1.7 12.5 2 20.3 7.5 82.2 1.8 22.2 0.5 9.4 0.1 6.5-0.1 2.4-0.3 1.7-0.3 1-0.4 0.2-0.4-0.2-0.4-0.4-0.7-1.4-0.9-2.3-1.2-3.5-2.2-8.8-2.4-11.6-2.1-11.7-2-13.6-1.9-14.8-1.5-14.2-1.1-13.8-0.9-14.5-0.5-13-0.2-12.4 0.2-11.8 0.6-9.4 0.8-6 0.6-2.3zM1436.4 265.2l0.3-0.3 0.4 0 0.4 0.4 0.3 0.7 0.8 2.3 0.7 3.5 0.8 4.6 0.9 6.9 2.1 18.9 8.4 87.8 1.8 21.3 0.6 9 0.2 7-0.2 3.6-0.4 1.4-0.4 0.4-0.3-0.1-0.4-0.4-0.8-1.3-0.9-2.3-1.1-3.5-2.2-8.6-2.5-11.4-2.2-12.4-2.1-13.3-1.8-14.1-1.5-13.5-1.3-14.5-1-13.4-0.6-13.3-0.3-13 0-11.8 0.5-10 0.4-4.1 0.4-3.2 0.5-2.1zM1459.8 268.8l0.4-0.2 0.4 0.2 0.7 1.5 0.8 2.7 0.7 3.8 1.7 11.9 2.1 18.5 8.7 87.4 1.9 20.3 0.8 10.1 0.2 6.5-0.3 4.1-0.3 1.1-0.4 0.3-0.4-0.2-0.3-0.4-0.8-1.4-0.9-2.5-1.1-3.5-2.5-9.5-2.4-11.5-2.2-12.4-2.1-13.1-1.8-13.9-1.7-14.8-1.3-14-1-13.3-0.7-14-0.3-12.5 0-11.8 0.4-9.4 0.3-4.2 0.5-2.9 0.4-1.8zM1483.1 272.9l0.3-0.2 0.3 0 0.4 0.4 0.4 0.7 0.7 2.5 0.8 3.5 1.7 11.2 2 17.5 9.7 92.3 1.9 18.9 0.7 9.4 0.3 6.5-0.2 4.1-0.3 1.2-0.3 0.4-0.2 0-0.4-0.3-0.7-1.2-1-2.3-1.1-3.4-2.4-9.3-2.4-11.2-2.3-11.9-2.2-13.7-2.1-14.7-1.7-14.1-1.3-13.2-1.1-14.2-0.8-13.5-0.5-13.1-0.1-11.7 0.3-10 0.4-4.7 0.3-2.8 0.4-1.8zM1506.4 277.6l0.3-0.5 0.4-0.1 0.5 0.7 0.8 2.1 0.7 3.2 1.7 10.4 2.2 18.2 10.5 95 1.8 18.2 0.8 9.1 0.3 7-0.2 3.5-0.3 1.1-0.4 0.2-0.5-0.5-0.8-1.4-0.9-2.4-1.1-3.5-2.5-9.4-2.4-11.2-2.2-11.8-2.3-13.5-2-14.2-1.7-13.5-1.5-14.2-1.1-13-0.9-14.1-0.6-12.4-0.2-11.8 0.2-10 0.6-7.5 0.3-2.2zM1529.9 282.3l0.3-0.5 0.2 0 0.4 0.2 0.3 0.6 0.8 2.2 0.7 3.4 1.7 10.3 2.2 17.7 10.9 94.3 2 19 0.8 8.5 0.3 7 0 2.4-0.2 1.7-0.1 0.7-0.4 0.3-0.6-0.4-0.9-1.9-0.9-2.5-1.2-3.7-2.4-9.4-2.4-11.2-2.4-12.8-2.3-13.4-2-14.1-1.7-13.2-1.5-13.8-1.2-13-0.9-13-0.6-13-0.3-11.2 0.1-10 0.5-7.3 0.3-2.4zM1553.7 287l0.2-0.1 0.4 0.2 0.7 1.7 0.8 2.8 0.7 3.8 1.7 10.8 2.2 17.5 11 92.2 2.1 18.2 0.8 8.6 0.4 6.4-0.1 4-0.2 0.9-0.4 0.5-0.5-0.4-0.8-1.4-0.9-2.5-1.1-3.6-2.4-9.3-2.7-11.8-2.4-12.6-2.2-13.1-2.1-13.6-1.8-14.2-1.5-13.1-1.4-14.1-1-14.1-0.7-12.4-0.3-11.8 0.1-10 0.5-6.5 0.4-1.8zM1577 292.9l0.2-0.3 0.4-0.1 0.5 0.7 0.8 2.2 0.7 3.3 1.7 9.9 2.3 16.4 11.7 94.5 2.2 19 1 9.5 0.4 5.9-0.1 3.5-0.1 0.9-0.2 0.5-0.2 0.1-0.2 0-0.4-0.4-0.7-1.4-0.9-2.5-1.2-3.6-2.4-9.3-2.4-10.9-2.4-12.3-2.3-12.7-2.2-14.4-1.9-13.6-1.7-14.1-1.3-12.9-1.1-13.7-0.7-12.2-0.5-11.3 0-10.1 0.4-7 0.3-2.2zM1600.8 298.8l0.3-0.3 0.2 0 0.5 0.8 0.8 2.3 0.7 3.4 1.9 11 2.2 16.1 12 92.5 2.2 18.2 0.9 8.8 0.5 6.4 0 4.1-0.3 1-0.2 0.2-0.1-0.1-0.4-0.3-0.8-1.5-1.8-5.5-2.4-9.2-2.7-11.6-2.4-12.1-2.4-13.6-2.3-14.2-1.8-13.3-1.7-13.7-1.5-14.3-1.1-13.1-0.7-11.3-0.5-11.2-0.1-9.5 0.4-7 0.2-1.8zM1624.5 305.3l0.3-0.4 0.2 0 0.5 0.8 0.8 2.3 0.7 3.3 1.9 10.7 2.2 15.5 12.2 90.6 2.4 18.9 0.9 8.6 0.6 6.5 0 4.1-0.2 1.2-0.2 0.2-0.2 0-0.4-0.4-0.7-1.5-1.9-5.6-2.4-9.2-2.4-10.6-2.4-12-2.5-13.3-2.2-13.7-1.9-12.7-1.7-13-1.4-13.2-1.4-13.8-0.8-12.1-0.6-11.7-0.2-8.9 0.2-7.1 0.3-2.3zM1648.6 311.8l0.3 0 0.3 0.5 0.6 1.5 0.7 2.9 0.8 3.7 1.8 11.1 2.7 17.9 11.5 83.5 2.5 18.2 1.1 9.7 0.5 6 0 3.6-0.1 1.1-0.2 0.3-0.2 0-0.4-0.4-0.7-1.5-1.9-5.7-2.4-9.2-2.5-10.6-2.4-11.8-2.4-13.1-2.3-13.5-2-13.7-1.9-14.2-1.5-13.1-1.1-11.5-0.9-12.2-0.6-11.2-0.2-9.5 0.2-6.3 0.4-1.9zM1672.3 319.5l0.3-0.3 0.1 0 0.6 0.8 0.7 2.4 0.8 3.3 1.9 10.4 2.6 17 11.9 83.2 2.6 18.9 1.1 9.2 0.6 6 0.2 4.1-0.2 1.2-0.2 0.3-0.2 0-0.3-0.4-0.6-1.1-1.9-5.5-2.2-8.4-2.4-10.4-2.5-11.6-2.4-12.7-2.2-13-2.1-13.2-1.8-13.5-1.5-12.1-1.3-12.3-1.2-12.8-0.7-11.3-0.3-8.8 0.1-5.9 0.2-2zM1696.3 327.7l0.3-0.6 0.2 0 0.4 0.6 0.7 2.1 0.8 3.2 1.8 9.9 2.8 17.7 11.8 79.2 3 20.9 1.1 9 0.6 6 0 3.5-0.1 0.6-0.3 0.2-0.6-0.7-0.5-1.2-1.9-5.8-2.2-8.5-2.5-10.5-2.2-10.6-2.4-12.7-2.1-11.7-2-12.8-1.9-13-1.5-11.6-1.3-11.5-1.1-11.7-0.8-10-0.4-9.4-0.1-7.1 0.2-2zM1720.4 336.5l0.1 14.3-0.3-8.9 0-3z"/>
<path fill="#9fc942" d="M974.2 251.1l0-0.2 0.2 0 0.4 0.3 0.7 1 0.6 1.5 0.5 2 1 4.9 0.9 7.6 0.7 8.8 0.5 10 0.3 11.8 0.1 11.8-0.1 11.8-0.4 11.2-0.5 10-0.6 8.3-0.9 7-1 4.8-0.5 2-0.6 1.3-0.6 0.9-0.3 0.3-0.4 0.1zM997 251.1l0.3-0.1 0.4 0.1 0.6 0.6 0.5 1.1 0.6 1.7 0.9 4.2 1 6.6 0.7 8.2 0.6 10.6 0.5 11.8 0.2 12.3 0 12.4-0.3 11.8-0.4 10.6-0.6 8.5-0.8 7.4-1.1 5.4-0.5 1.9-0.6 1.2-0.5 0.8-0.6 0.2-0.4-0.1-0.4-0.3-0.5-0.8-0.6-1.3-0.5-1.8-1.1-5.2-0.9-6.4-0.8-8.9-0.6-9.4-0.4-10.6-0.1-11.2 0-11.8 0.2-11.2 0.5-10.6 0.6-8.9 0.8-7.6 1-5.9 0.6-2.2 0.5-1.6 0.6-1zM1019.6 251.7l0.7-0.5 0.5 0.1 0.6 0.7 0.6 1.1 0.5 1.7 0.6 2.4 1 6.2 0.8 8.3 0.7 9.4 0.5 11.2 0.3 13 0.1 13-0.1 12.4-0.3 11.3-0.6 9.3-0.7 7.6-1 5.5-0.5 2-0.6 1.3-0.6 0.8-0.5 0.3-0.6-0.2-0.7-0.9-0.6-1.3-0.5-1.7-1.2-5-0.9-6.2-0.8-8.1-0.7-9-0.5-10.5-0.3-10.6 0-11.8 0.1-11.2 0.3-10.4 0.6-9.4 0.8-7.9 0.9-6.3 1-4.3 0.5-1.2zM1043 251.7l0.6-0.2 0.6 0.3 0.5 0.9 0.6 1.4 0.5 2 0.6 2.7 0.9 6.4 0.8 7.7 0.7 10.6 0.5 11.2 0.3 12.4 0.2 12.9-0.1 12.4-0.3 11.2-0.4 8.9-0.7 7.4-0.8 4.9-0.5 2.1-0.6 1.4-0.6 0.9-0.5 0.3-0.6-0.2-0.5-0.6-0.8-1.5-0.5-1.6-1.2-4.7-1.1-7.1-0.9-8.5-0.8-9.8-0.5-10.7-0.3-10.7-0.1-11.7 0.1-11.2 0.4-10.1 0.5-9.4 0.9-8.3 0.9-5.8 0.6-2.4 0.5-1.7 0.6-1.2zM1066 252.2l0.6-0.3 0.5 0.2 0.6 0.8 0.5 1.2 0.6 1.9 0.6 2.6 0.9 6.1 0.8 7.6 0.7 10.1 0.5 11.5 0.4 12 0.3 13.6 0 12.9-0.2 11.2-0.3 9.5-0.7 7.6-0.8 5.3-0.4 1.8-0.5 1.3-0.6 0.9-0.5 0.4-0.6-0.2-0.5-0.6-0.8-1.5-0.5-1.5-1.4-5.5-1.1-6.9-0.9-8-0.8-9.7-0.6-10.6-0.4-10.6-0.2-11.2 0.1-11.2 0.3-10 0.5-9.4 0.7-8.1 1-6.5 0.5-2.6 0.6-1.9 0.5-1.4zM1089.1 252.8l0.6-0.3 0.5 0.3 0.6 0.8 0.6 1.3 0.9 3.7 0.9 5.8 0.8 7.3 0.7 9.4 0.7 11.8 0.5 13 0.3 14.7 0.1 13-0.1 11.2-0.3 9.4-0.5 7.1-0.7 5.4-0.3 1.7-0.6 1.8-0.6 1-0.5 0.3-0.6-0.1-0.7-0.9-0.6-1.2-0.7-2.2-1.3-5.5-1.2-6.8-1-8.2-0.8-10-0.7-10.1-0.4-10.6-0.2-11.2 0-11.2 0.3-10 0.5-9.4 0.7-7.9 0.9-6.6 0.6-2.7 0.5-2 0.6-1.3zM1112.4 253.4l0.4-0.1 0.6 0.3 0.5 0.8 0.6 1.4 1 4.1 0.9 6.5 0.9 8.2 0.7 9.5 0.6 12.3 0.5 12.4 0.4 14.2 0.2 13-0.1 11.2-0.2 8.8-0.5 7.1-0.7 5.5-0.3 1.7-0.6 1.6-0.4 0.6-0.5 0.4-0.6-0.2-0.7-0.9-0.6-1.1-0.7-2.2-1.3-5.4-1.4-7.7-1-8.2-0.9-9.5-0.7-10.5-0.5-11.3-0.2-11.2 0-11.2 0.2-10.6 0.5-9.2 0.8-8.1 0.9-6.2 0.6-2.5 0.5-1.7 0.6-1.2zM1135.3 254.6l0.5-0.3 0.5 0.1 0.6 0.7 0.6 1.3 0.9 3.6 0.9 5.9 0.8 7 0.8 9.4 0.7 11.6 0.5 12.6 0.6 15.9 0.3 13.6 0 11.7-0.1 9.5-0.4 7.5-0.6 5-0.3 1.9-0.5 1.5-0.5 1-0.5 0.4-0.6-0.2-0.7-1-0.6-1.1-0.7-2.2-1.4-5.2-1.3-7.4-1.1-8.5-0.9-9.3-0.8-10.1-0.5-11.2-0.4-11.2-0.1-10.6 0.2-10.7 0.4-9.4 0.7-8.2 0.9-6.7 0.9-4.2 0.6-1.6zM1158.4 255.8l0.5-0.4 0.6 0.2 0.5 0.7 0.4 0.9 0.9 3.4 1 5.5 0.8 7.4 0.8 9.4 1.4 23.7 0.6 15.2 0.4 14.7 0.1 11.8 0 10.1-0.3 7.6-0.5 5.3-0.3 1.8-0.5 1.8-0.5 0.9-0.5 0.4-0.6-0.2-0.7-1-0.6-1.1-0.8-2.2-1.3-5.2-1.3-7.2-1.1-8-1.1-10.5-0.8-10.1-0.6-11.2-0.4-11.3-0.1-10.6 0.1-10 0.3-9.4 0.6-8.3 0.9-6.9 0.9-4.5 0.6-1.7zM1181.7 257l0.5-0.2 0.6 0.4 0.5 0.9 0.4 1.1 1 4 0.9 6.1 0.7 7.1 0.8 9.4 1.5 25.3 1.1 29.6 0.2 11.2 0 9.4-0.3 7.1-0.5 5.3-0.3 2-0.4 1.3-0.4 0.7-0.5 0.4-0.6-0.2-0.8-1-0.5-1.2-0.8-2.2-1.4-6.1-1.4-7.3-1.1-8.2-1.1-10-0.9-11.2-0.6-10.7-0.4-11.2-0.2-10.6 0.1-10 0.3-9.4 0.6-8.3 0.9-7 1-4.2 0.5-1.5zM1204.7 258.7l0.5-0.3 0.5 0.2 0.5 0.7 0.5 1.1 0.9 3.7 0.9 5.9 0.9 7.6 0.8 9.4 1.5 24.2 1.3 30.4 0.3 12 0.1 9.5-0.2 7.4-0.4 5-0.3 2.2-0.4 1.3-0.4 0.8-0.5 0.4-0.6-0.3-0.8-1.1-1.3-3.5-1.5-6.1-1.3-7.1-1.3-9.1-1.1-10-0.9-10.6-0.6-10-0.5-11.2-0.2-10.6 0-10 0.3-9.5 0.6-8.8 0.7-6.5 1-4.8 0.5-1.6zM1227.9 260.5l0.4-0.3 0.6 0.3 0.5 0.8 0.4 1 0.9 3.9 0.8 4.9 0.9 7.7 0.8 8.2 1.6 25 1.6 31 0.4 12.4 0.1 10-0.1 7.7-0.4 5.3-0.6 2.8-0.4 0.8-0.6 0.4-0.5-0.3-0.8-1.2-1.3-3.6-1.5-6.2-1.3-7-1.3-8.9-1.1-9.5-0.9-10.3-0.9-11.8-0.4-10.6-0.3-11.2 0-10.1 0.3-9.4 0.5-8.2 0.7-6.5 0.8-4.5 0.6-1.7zM1250.9 262.9l0.6-0.5 0.3 0 0.4 0.5 0.6 1.1 0.9 3.5 0.7 4.3 0.9 7 0.8 8.1 1.7 22.8 1.9 33.3 0.5 13 0.2 10 0 7.7-0.3 5.9-0.5 3.5-0.3 0.9-0.6 0.6-0.5-0.1-0.6-0.8-0.7-1.6-0.8-2.2-1.5-6-1.5-7.9-1.3-8.6-1.1-9.2-1.1-11.1-0.8-10.6-0.5-10.8-0.3-10.4-0.1-10 0.1-9.5 0.5-8.3 0.6-7 0.9-4.9 0.4-1.6zM1274.2 265.2l0.4-0.4 0.4 0.1 0.3 0.3 0.6 1.2 0.9 3.5 0.8 4.3 0.7 5.8 1 9.1 1.8 24.2 2.1 34.3 0.5 12.4 0.3 9.6 0 7.6-0.2 5.3-0.3 1.8-0.3 1.7-0.4 0.8-0.4 0.2-0.5-0.3-0.6-0.8-0.6-1.2-0.7-2.2-1.5-5.8-1.5-7.6-1.3-8.3-1.3-10.2-1.1-11.1-0.9-10.6-0.6-11.2-0.3-10-0.2-10.1 0.1-9.4 0.4-8.2 0.6-7.1 0.9-5.2 0.4-1.4zM1297.3 268.2l0.4-0.5 0.4-0.1 0.4 0.3 0.5 1.1 1 3.5 0.7 4.3 0.8 5.6 0.9 8.9 1.9 22.8 2.2 34.1 0.7 13.7 0.4 10 0 7.7-0.2 5.4-0.2 1.7-0.3 1.7-0.4 0.8-0.4 0.2-0.5-0.3-0.6-0.9-1.3-3.6-1.5-5.9-1.5-7.7-1.3-8.3-1.3-9.9-1.1-10.6-0.9-11-0.7-10.6-0.4-10.6-0.2-10 0.1-8.8 0.2-7.7 0.6-7.2 0.7-5.3 0.4-1.5zM1320.7 271.1l0.3-0.4 0.4 0.1 0.4 0.4 0.5 1.3 0.8 2.9 0.9 5.4 0.8 5.7 0.9 8.9 1.9 22 2.4 34.6 1.1 21.9 0.2 8-0.2 5.3-0.4 3.1-0.3 1.2-0.4 0.3-0.6-0.2-0.5-0.8-1.3-3.5-1.5-5.9-1.5-7.5-1.5-9.2-1.3-9.9-1.1-10.2-1-10.7-0.6-10.3-0.5-10-0.3-10.1 0-9.4 0.3-8.8 0.5-6.5 0.6-4.7 0.4-1.6zM1343.9 274.6l0.5-0.4 0.3 0.1 0.4 0.5 0.4 0.9 0.7 2.7 1 5.2 1.6 14 2.1 22.9 2.6 35 1.2 21.7 0.2 7.1-0.1 5.3-0.4 3.3-0.3 1.1-0.4 0.3-0.6-0.3-0.5-1-1.3-3.7-1.5-6-1.5-7.6-1.5-9.2-1.3-9.7-1.1-10.1-1-10.2-0.7-10.6-0.5-10-0.3-9.4 0-9.5 0.2-8.2 0.4-6.7 0.6-4.5 0.3-1.6zM1367.6 278.2l0.3-0.1 0.2 0.1 0.3 0.6 0.8 2.1 0.7 3.5 1 6 1.8 16.7 2.3 25.3 2.2 29 0.7 11.5 0.5 9 0.1 6.5-0.1 4.7-0.2 1.8-0.2 1.2-0.2 0.4-0.4 0.2-0.6-0.4-0.5-1.1-1.3-3.9-1.5-6.1-1.5-7.7-1.5-9.3-1.3-9.6-1.1-9.9-1-10-0.7-10-0.6-10.4-0.3-10.1-0.1-8.8 0.2-8.2 0.5-6.5 0.7-4.7 0.3-1.2zM1390.6 282.9l0.4-0.4 0.4 0 0.4 0.5 0.3 0.9 0.8 2.9 0.7 4.1 1.7 12.9 2.1 20.6 2.9 35 1.5 21.9 0.3 7.7 0.1 5.3-0.4 3.6-0.2 0.7-0.3 0.5-0.4-0.1-0.6-0.8-0.5-1.3-0.8-2.3-1.5-5.9-1.5-7.4-1.4-8.9-1.4-9.2-1.1-9.2-1.1-11-0.7-9.4-0.7-10-0.4-9.5-0.1-8.8 0-8.3 0.3-6.4 0.5-4.8 0.4-1.8zM1414.1 287.6l0.2-0.2 0.4-0.1 0.4 0.4 0.3 0.8 0.8 2.8 0.9 5.2 1.7 12.9 2.2 21.8 3 33.6 1.5 20.7 0.3 7 0 4.8-0.3 2.9-0.2 0.7-0.3 0.5-0.4-0.2-0.6-0.9-1.3-3.8-1.3-5.2-1.5-7.4-1.5-8.8-1.3-9-1.1-8.9-1.1-10.6-0.9-10.1-0.6-9.5-0.4-8.7-0.2-8.9 0-8.2 0.2-6.5 0.5-4.7 0.3-1.3zM1437.7 292.9l0.1-0.2 0.4-0.1 0.4 0.5 0.4 0.9 0.7 2.9 0.8 4 1.8 13.9 2.3 21 2.8 29.8 1.6 21.6 0.4 7.4 0 5-0.2 2.8-0.2 0.7-0.3 0.4-0.4-0.3-0.6-0.9-1.3-4-1.3-5.4-1.5-7.5-1.3-7.7-1.3-8.8-1.1-8.7-1.1-10.3-1.5-18.3-0.5-9.2-0.3-8.3 0-7.6 0.2-6.5 0.4-4.8zM1461.3 298.8l0.2-0.3 0.4 0.1 0.6 1.2 0.7 2.8 0.9 5.2 1.9 13.9 2.3 20.4 2.7 28.6 1.7 20.7 0.3 6.5 0.1 4.1-0.2 2.3-0.2 0.7-0.2 0.3-0.1 0.1-0.4-0.2-0.6-1.1-1.1-3.4-1.3-5.4-1.5-7.5-1.3-7.6-1.3-8.7-1.1-8.6-1.1-10-1.5-17.4-0.6-9-0.2-7.6-0.1-7.7 0.1-5.9 0.4-4.6zM1485 305.3l0.2-0.3 0.4 0.2 0.6 1.3 0.7 3 0.8 4.1 1.8 13.4 2.3 19.4 2.8 27.2 1.6 19.5 0.4 6.5 0.1 4.1-0.2 2.4-0.3 0.8-0.1 0.2-0.4-0.3-0.4-0.6-1.1-3.3-1.3-5.3-1.3-6.5-1.3-7.4-1.3-8.5-2.3-17.8-1.5-16.2-0.5-8.4-0.4-8-0.2-7.1 0.1-5.9 0.3-4.2 0.2-1.2zM1508.9 312.4l0.2-0.1 0.4 0.4 0.5 1.5 0.8 3.3 0.7 4.2 1.7 11.9 2.3 18.7 2.6 24.4 1.6 18.2 0.5 9.4-0.1 2.7-0.2 1-0.2 0.4-0.1 0-0.2-0.2-0.4-0.6-0.9-2.7-1.3-5.2-1.3-6.4-2.5-14.6-2.2-17.3-1.7-17.7-0.8-14.2-0.2-6.5 0.1-5.3 0.2-3.6 0.3-1.1zM1532.8 320.6l0.2-0.2 0.2 0.1 0.5 1.2 0.8 3 0.7 4.1 1.7 11.4 2.2 17.9 2.5 21.7 1.5 15.7 0.6 10-0.1 2.4-0.2 1-0.1 0.3-0.2 0-0.4-0.5-0.9-2.7-1.2-4.5-1.1-5.3-2.4-14.3-2.1-15.2-1.6-16.6-0.9-13.6-0.3-6.2 0-4.7 0.2-3.3zM1556.9 330.1l0.2-0.4 0.1 0.1 0.6 1.2 0.6 2.2 0.7 3.9 1.7 11 2 15.8 2.3 19.3 1.5 15.2 0.4 8.3-0.1 1.8-0.1 0.7-0.2 0.1-0.6-0.9-0.7-2.3-1-3.8-1.1-5.4-2-12.1-1.9-13.5-1.5-13.7-0.9-11.9-0.4-10.3 0.1-3.6zM1581.3 340.7l0.2-0.2 0.2 0.2 0.4 1 0.5 2.2 0.8 3.9 1.5 9.6 1.8 14 1.9 15.6 1.1 11.1 0.5 7.4-0.1 1.8 0 0.6-0.2 0.3-0.4-0.4-0.7-2.2-1.7-7.5-1.9-10.8-1.6-11.9-1.4-11.6-0.9-11.3-0.3-8.3 0.1-2.3zM1606 354.2l0.1-0.3 0.2 0 0.2 0.3 0.9 3.8 1.2 6.6 1.4 10.4 1.5 11.8 1.2 10.5 0.3 5.5 0 1.5-0.2 0.7-0.1-0.1-0.2-0.3-0.4-1.2-1.3-5.8-1.3-7.4-1.3-8.9-1.1-9.2-0.8-7.9-0.4-6.4 0-2.4zM1631.9 374.9l0.2-0.6 0.3 1.3 1.2 6.7 1.1 9.1 0.2 3.6-0.2 0-0.4-1.3-1.1-6.4-0.9-7.4z"/>
<path fill="#eaba31" d="M974.2 263.4l0-0.2 0.4 0.1 0.5 0.7 1 2.7 0.7 3.8 0.8 5.8 0.5 6.6 0.5 8.8 0.3 8.9 0.1 9.4-0.1 9.5-0.3 8.8-0.5 8.2-0.5 6.5-0.8 5.9-0.7 3.7-1 2.6-0.3 0.5-0.6 0.3zM996.9 263.4l0.4-0.1 0.6 0.3 0.6 1 0.3 1 1 4.1 0.7 5.3 0.6 6.7 0.5 7.9 0.4 9.2 0.1 9.4 0 9.5-0.2 9.4-0.3 8.3-0.5 7.1-0.8 6.3-0.7 3.9-0.5 1.5-0.5 1.1-0.3 0.5-0.6 0.3-0.6-0.3-0.3-0.6-1-2.5-0.9-4.4-0.7-5.3-0.6-6.8-0.4-7.3-0.4-8.3-0.1-8.8 0-8.9 0.2-8.8 0.3-8.3 0.5-7 0.7-5.9 0.7-4.6 0.9-3.4 0.4-0.8zM1019.7 264l0.6-0.4 0.5 0.2 0.6 0.8 0.4 0.9 0.9 3.8 0.7 4.8 0.7 6.4 0.5 7.7 0.4 8.8 0.3 10.1 0.1 10-0.1 9.4-0.4 8.8-0.4 7.1-0.7 6.3-0.7 4.2-0.4 1.4-0.6 1.3-0.3 0.5-0.6 0.2-0.5-0.3-0.4-0.6-0.9-2.5-1-4.4-0.7-4.9-0.6-5.9-0.5-7.7-0.4-7.8-0.2-8.6-0.1-8.9 0.1-8.8 0.3-8.3 0.4-7 0.6-5.9 0.7-5.2 0.8-3.3 0.4-1.1zM1042.8 264.6l0.4-0.4 0.6 0 0.6 0.7 0.3 0.8 1 3.4 0.7 4.6 0.8 6.8 0.5 7.1 0.4 8.3 0.3 10 0.2 10-0.1 10-0.2 8.9-0.4 7.6-0.6 6.3-0.7 4.4-0.8 2.6-0.3 0.7-0.6 0.4-0.4-0.1-0.5-0.6-1-2.2-0.9-3.9-0.8-5.2-0.7-5.9-0.6-7.7-0.5-8.2-0.2-8.3-0.2-8.8 0.1-8.9 0.3-8.2 0.4-7.1 0.5-6.4 0.8-5.3 0.7-3.3 0.4-1.1zM1066.1 265.2l0.5-0.3 0.3 0.1 0.6 0.7 0.4 0.9 0.9 3.6 0.7 4.7 0.8 6.8 0.5 7.7 0.8 17.8 0.2 10.5 0 9.9-0.2 8.9-0.3 7.1-0.6 5.9-0.6 4.2-0.7 2.6-0.4 0.7-0.6 0.3-0.4-0.1-0.5-0.6-0.9-2.3-1-3.8-0.9-5.8-0.8-6.4-0.6-7.1-0.5-8.8-0.3-8.3-0.1-8.8 0.1-8.3 0.2-7.6 0.4-7.7 0.5-5.9 0.7-5 0.8-3.4 0.5-1.5zM1089 266.4l0.5-0.4 0.4 0 0.5 0.5 0.4 0.7 0.9 3.3 0.8 4.5 0.7 6.5 0.6 6.9 0.6 9.7 0.3 9.6 0.3 10 0 10-0.1 8.8-0.3 7.7-0.4 5.9-0.6 4.2-0.7 2.7-0.4 0.7-0.6 0.4-0.3-0.2-0.6-0.7-0.9-2.3-1-3.9-0.9-5.5-0.7-6.1-0.8-8.2-0.5-7.6-0.3-8.3-0.2-8.8 0-8.3 0.2-7.6 0.3-7.1 0.6-6.5 0.7-5.1 0.7-3.5 0.4-1.1zM1112.2 267.6l0.4-0.4 0.4 0 0.6 0.6 0.3 0.8 1 3.5 0.7 4.6 0.8 6.7 0.5 6.9 1 18.5 0.3 10.7 0.1 10-0.1 8.2-0.2 7.7-0.4 5.9-0.6 4.1-0.6 2.5-0.4 0.6-0.6 0.4-0.3-0.2-0.6-0.7-0.9-2.5-1-3.8-0.9-5.5-0.7-5.8-0.8-7.7-0.5-8.1-0.4-8.7-0.3-8.2 0-8.3 0.2-7.7 0.3-7 0.5-6.5 0.6-4.7 0.7-3.7 0.4-1.2zM1135.3 269.3l0.5-0.5 0.3 0 0.4 0.4 0.4 0.6 0.9 3.2 0.8 4.2 0.7 6.3 0.6 7.1 0.6 8.8 0.5 10.2 0.4 11 0.1 10.1 0 8.8-0.2 7.1-0.3 5.7-0.6 4.3-0.3 1.6-0.4 1-0.4 0.5-0.4 0.1-0.3-0.2-0.6-0.8-0.9-2.5-1-3.9-0.9-5.5-0.7-5.6-0.8-7.7-0.6-7.7-0.4-8.8-0.3-8.3 0-7.6 0.1-7.7 0.2-7.1 0.5-6.1 0.5-4.8 0.8-4zM1158.5 271.1l0.4-0.4 0.4 0 0.4 0.4 0.5 1.1 0.8 2.8 0.7 4.4 0.8 6.3 0.5 6.4 1.1 18.5 0.7 20.6 0 8.9-0.1 7.1-0.3 5.9-0.4 4.1-0.6 2.5-0.4 0.8-0.4 0.2-0.3 0-0.6-0.7-0.9-2.3-1-3.8-0.9-5-0.9-6.8-0.8-7.1-0.6-7.9-0.5-8.2-0.3-8.3-0.1-7.7 0.1-7.6 0.2-7.1 0.5-6.7 0.5-4.8 0.8-3.8zM1181.6 273.5l0.4-0.6 0.4 0 0.4 0.4 0.4 0.6 0.7 2.5 0.8 4.1 0.7 5.9 0.6 6.5 1.2 18.3 0.8 21.2 0.1 8.9 0 7-0.3 5.9-0.3 3.9-0.6 2.6-0.4 0.8-0.4 0.2-0.3-0.1-0.6-0.7-0.9-2.5-0.9-3.8-1-5.1-0.9-6.7-0.8-6.9-0.6-7-0.5-8.3-0.3-8.2-0.1-7.7 0-7.7 0.2-6.4 0.3-5.9 0.5-4.9 0.6-4zM1205 275.8l0.4-0.3 0.3 0.1 0.4 0.5 0.4 0.9 0.7 2.9 0.7 4.2 0.7 5.3 0.7 7.5 1.1 16.7 0.8 20 0.2 8.8 0 7.1-0.1 5.3-0.4 4.1-0.5 2.8-0.4 0.8-0.3 0.2-0.4-0.1-0.6-0.8-0.9-2.6-0.9-3.9-1-5.2-0.9-6.7-0.8-6.8-1.1-15-0.5-15.1 0-7.1 0.2-7.1 0.3-6.3 0.5-4.9 0.6-3.4 0.4-1.2zM1228.3 278.8l0.2-0.2 0.4 0 0.3 0.4 0.4 0.9 0.8 2.8 0.7 4.5 1.3 12.2 1.3 18.3 0.8 18.8 0.3 14.8-0.2 5.3-0.3 3.9-0.6 2.6-0.2 0.3-0.3 0.3-0.4-0.2-0.6-0.9-0.9-2.7-0.9-4-1-5.3-0.9-6.7-0.7-6.8-1.1-14.1-0.4-7.7-0.2-7.6 0-7.1 0.1-6.5 0.4-5.9 0.4-4.5 0.6-3.1 0.3-1.2zM1251.5 282.3l0.3-0.2 0.4 0.1 0.4 0.5 0.3 1 0.8 3.1 0.5 3.5 1.4 11.7 1.3 17.7 0.9 18.6 0.3 14.2-0.1 5.2-0.3 3.6-0.5 2.5-0.2 0.5-0.3 0.2-0.4-0.2-0.4-0.5-0.9-2.5-0.9-4-1-5.1-0.9-6.5-0.7-6.5-1.2-13.6-0.6-14.4-0.1-7.1 0.1-6.5 0.3-5.6 0.3-4.4 0.6-3.5 0.4-1.3zM1274.8 286.4l0.3-0.3 0.4 0.2 0.6 1 0.5 2.1 0.8 4.2 1.3 11.2 1.3 16.4 1 18.3 0.4 14.1-0.1 4.8-0.2 3.7-0.4 2.2-0.2 0.5-0.3 0.4-0.4-0.2-0.4-0.6-0.7-2-0.9-3.7-1-5.1-0.9-6.4-0.7-5.9-1.2-13.2-0.7-14 0-12.9 0.2-5.7 0.3-4.3 0.5-3zM1298.2 291.2l0.3-0.4 0.3 0.1 0.6 1.1 0.6 2.1 0.5 3.1 1.3 10.6 1.3 15.2 1.1 17.7 0.5 12.9 0 5.3-0.2 3.6-0.4 2.3-0.4 0.8-0.4-0.1-0.4-0.6-0.7-2.1-0.7-3-1-4.9-1.5-10.8-1.3-14-0.7-13-0.1-11.8 0.1-5.3 0.3-4.1 0.4-3.1zM1321.8 296.5l0.2-0.2 0.3 0.1 0.6 1.4 0.6 2.4 0.5 3.3 1.3 11.1 1.2 13 0.9 14.8 0.5 13 0 4.1-0.1 3.6-0.4 2.1-0.4 0.4-0.2 0-0.3-0.6-0.8-2.1-0.7-3.1-0.8-4-1.5-10.6-1.2-12.8-0.7-12.4-0.2-11.2 0.1-4.7 0.2-3.5 0.3-2.4zM1345.3 302.9l0.2-0.2 0.2-0.1 0.5 1 0.6 2.2 0.6 3.2 1.1 8.9 1.1 12 0.9 13.1 0.6 12.4-0.1 7.1-0.3 2.1-0.2 0.4-0.2 0.1-0.2-0.1-0.3-0.7-0.6-1.6-1.3-6.2-1.3-9-1.2-11.5-0.7-10.7-0.3-10.6 0.2-7.6 0.3-2.8zM1369 310.6l0.2-0.2 0.2-0.1 0.3 0.6 0.4 1.3 0.6 2.8 0.9 6.8 1.1 11 1 12.1 0.5 9.9-0.1 6.5-0.2 1.8-0.2 0.5-0.2-0.1-0.2-0.2-0.6-1.5-1.1-5.2-1.3-9-0.9-9.1-0.7-9.6-0.3-8.3 0.1-6.5 0.2-2.3zM1392.9 320.6l0.2-0.4 0.1-0.1 0.2 0.2 0.4 1.2 0.4 1.7 0.7 5 1 8.5 0.7 9.1 0.4 7.8 0 5.3-0.2 1.2-0.2 0.3-0.4-0.7-0.3-1.2-0.8-3.7-0.9-6.6-0.8-7.1-0.5-7.5-0.2-5.3 0-5.3zM1417.6 336.5l0.1-0.4 0.2 0.2 0.2 0.6 0.7 5.5 0.4 5.9 0 3-0.2-0.1-0.4-1.6-0.5-4.2-0.4-4.7z"/>
<path fill="#fad42e" d="M974.2 278.2l0-0.5 0.6 0.5 0.7 2 0.6 2.9 0.5 3.9 0.4 5.2 0.3 5.4 0.2 12.4-0.2 12.4-0.7 10-0.5 3.8-0.6 2.9-0.6 1.6-0.3 0.6-0.4 0.2zM996.9 278.2l0.2-0.3 0.4 0.1 0.4 0.4 0.4 0.8 0.5 2.1 0.6 3.4 0.5 4.7 0.4 5.3 0.4 12.4-0.1 12.9-0.2 5.9-0.4 5.3-0.4 4.1-0.6 3.3-0.5 1.9-0.4 0.7-0.4 0.3-0.4-0.1-0.3-0.5-0.6-1.4-0.6-2.5-0.5-3.8-0.8-9-0.4-11.8 0.1-11.8 0.5-10.6 0.4-4.2 0.6-3.7 0.5-2.5zM1019.9 278.8l0.4-0.3 0.4 0 0.5 0.8 0.8 2.7 0.5 3.5 0.5 4.5 0.4 5.3 0.5 12.4-0.1 13-0.2 5.8-0.3 5.4-0.4 3.6-0.6 3.3-0.5 1.9-0.4 0.6-0.4 0.2-0.3-0.2-0.4-0.5-0.6-1.6-0.5-2.6-0.6-3.8-0.8-9.2-0.4-11.2 0-11.8 0.5-10 0.4-4.2 0.5-3.8 0.6-2.5zM1043.4 279.4l0.4 0 0.4 0.5 0.5 1.6 0.6 2.6 0.5 4.1 0.8 10 0.4 12.4 0 12.4-0.5 10-0.5 4-0.5 2.5-0.6 1.7-0.2 0.2-0.3 0.1-0.4-0.2-0.4-0.7-0.6-1.7-0.5-2.7-0.6-3.8-0.8-10-0.5-11.8 0.1-11.8 0.6-10 0.4-3.9 0.6-3.1 0.6-1.8 0.3-0.5zM1066.1 281.1l0.3-0.3 0.3-0.1 0.4 0.3 0.4 0.7 0.5 2 0.6 3.2 0.6 4.8 0.3 4.6 0.6 11.8 0.1 13.1-0.4 10.6-0.3 4.2-0.5 3.2-0.6 1.8-0.2 0.3-0.3 0.2-0.2 0-0.4-0.4-0.7-1.9-0.6-2.4-0.6-3.6-0.9-9-0.4-10.1-0.1-11.2 0.3-10.2 0.8-7.5 0.5-2.7zM1089.3 282.9l0.2-0.3 0.4-0.2 0.5 0.7 0.6 1.6 0.6 3.5 0.5 3.7 0.5 5.7 0.6 11.8 0.2 12.4-0.4 10.8-0.3 3.9-0.4 2.7-0.6 1.8-0.1 0.3-0.4 0.2-0.6-0.6-0.5-1.4-0.6-2.3-0.6-3.3-0.9-8.8-0.6-10.4-0.1-10.6 0.3-10 0.3-4.1 0.5-3.6 0.4-2zM1112.4 285.3l0.2-0.4 0.4-0.2 0.2 0.1 0.4 0.5 0.5 1.7 0.6 3 0.9 8.6 0.6 10.2 0.3 12.4-0.2 10.6-0.3 4.4-0.4 2.7-0.3 1.6-0.2 0.4-0.4 0.4-0.2 0-0.4-0.4-0.5-1.3-0.6-2.2-0.5-3.1-1-8.2-0.6-9.6-0.2-10.6 0.2-9.4 0.6-7.2 0.4-2.3zM1136 287.6l0.1-0.1 0.4 0.2 0.6 1.4 0.5 2.5 0.4 2.5 0.8 7.7 0.6 10.6 0.2 11.2-0.1 8.8-0.6 6-0.3 1.7-0.2 0.4-0.4 0.4-0.2 0-0.3-0.5-0.6-1.4-0.6-2.4-0.5-3.4-1-8.8-0.5-9.1-0.1-10 0.2-8.8 0.6-5.9 0.4-1.8zM1159.2 291.2l0.3-0.1 0.2 0.1 0.5 1.2 0.6 2.6 0.3 2.5 0.8 7.6 0.5 9.6 0.3 10.1-0.1 8.2-0.5 5.4-0.4 1.3-0.4 0.5-0.3-0.3-0.6-1.2-0.6-2.3-0.5-3.3-0.8-7.2-0.6-8.8-0.2-8.9 0.2-8.2 0.5-5.9 0.3-1.8zM1182.4 295.9l0.2-0.4 0.2 0 0.4 0.5 0.3 1.2 0.6 2.8 0.7 6.9 0.6 7.8 0.3 9.5 0 7.6-0.4 5.3-0.3 1.2-0.3 0.6-0.4-0.2-0.4-0.8-0.9-4.2-0.8-6-0.6-8.2-0.3-7.7 0.1-7.1 0.3-5.3 0.3-2.5zM1205.8 301.8l0.1-0.4 0.2-0.1 0.2 0.1 0.4 0.9 0.3 1.7 0.8 5.8 0.5 7.3 0.3 7.7 0 6.4-0.2 4-0.2 0.9-0.2 0.5-0.2 0.1-0.2-0.1-0.4-0.8-0.7-3.5-0.6-4.6-0.5-6.5-0.3-6.5 0-5.9 0.2-4.7zM1229.4 310l0.2-0.3 0.2 0.1 0.6 2.1 0.3 2.9 0.4 4.6 0.2 4.8 0.1 4.1-0.1 2.4-0.2 1-0.2 0.5-0.2 0-0.1-0.4-0.6-2.6-0.7-6.8-0.2-7.7 0.1-2.9z"/>
</g></g>
<path d="M974.2 603.0v-7.5M974.2 13.5v7.5M1048.8 603.0v-7.5M1048.8 13.5v7.5M1123.5 603.0v-7.5M1123.5 13.5v7.5M1198.1 603.0v-7.5M1198.1 13.5v7.5M1272.7 603.0v-7.5M1272.7 13.5v7.5M1347.3 603.0v-7.5M1347.3 13.5v7.5M1422.0 603.0v-7.5M1422.0 13.5v7.5M1496.6 603.0v-7.5M1496.6 13.5v7.5M1571.2 603.0v-7.5M1571.2 13.5v7.5M1645.9 603.0v-7.5M1645.9 13.5v7.5M974.2 506.1h7.5M1720.5 506.1h-7.5M974.2 407.9h7.5M1720.5 407.9h-7.5M974.2 309.6h7.5M1720.5 309.6h-7.5M974.2 211.3h7.5M1720.5 211.3h-7.5M974.2 113.1h7.5M1720.5 113.1h-7.5" stroke="#262626" stroke-opacity="0.55" stroke-width="1" fill="none"/>
<g clip-path="url(#c1)" fill="none" stroke="#f00" stroke-width="4.6" stroke-linejoin="round" stroke-linecap="round"><polyline points="974.2,309.6 992.9,309.7 1011.6,309.8 1030.3,310.2 1049.1,310.6 1067.8,311.1 1086.5,311.8 1105.2,312.6 1123.9,313.6 1142.6,314.6 1161.3,315.8 1180.0,317.1 1198.8,318.5 1217.5,320.0 1236.2,321.7 1254.9,323.5 1273.6,325.4 1292.3,327.5 1311.0,329.6 1329.8,331.9 1348.5,334.3 1367.2,336.8 1385.9,339.5 1404.6,342.3 1423.3,345.2 1442.0,348.2 1460.8,351.4 1479.5,354.6 1498.2,358.0 1516.9,361.6 1535.6,365.2 1554.3,369.0 1573.0,372.9 1591.7,376.9 1610.5,381.0 1629.2,385.3 1647.9,389.7 1666.6,394.2 1685.3,398.8 1704.0,403.6 1722.7,408.4"/></g>
<rect x="974.2" y="13.5" width="746.3" height="589.5" fill="none" stroke="#262626" stroke-opacity="0.8" stroke-width="1"/>
<text class="x" transform="translate(973.7 630.6) scale(0.97 1.05)" text-anchor="middle">0</text>
<text class="x" transform="translate(1048.3 630.6) scale(0.97 1.05)" text-anchor="middle">10</text>
<text class="x" transform="translate(1123.0 630.6) scale(0.97 1.05)" text-anchor="middle">20</text>
<text class="x" transform="translate(1197.6 630.6) scale(0.97 1.05)" text-anchor="middle">30</text>
<text class="x" transform="translate(1272.2 630.6) scale(0.97 1.05)" text-anchor="middle">40</text>
<text class="x" transform="translate(1346.8 630.6) scale(0.97 1.05)" text-anchor="middle">50</text>
<text class="x" transform="translate(1421.5 630.6) scale(0.97 1.05)" text-anchor="middle">60</text>
<text class="x" transform="translate(1496.1 630.6) scale(0.97 1.05)" text-anchor="middle">70</text>
<text class="x" transform="translate(1570.7 630.6) scale(0.97 1.05)" text-anchor="middle">80</text>
<text class="x" transform="translate(1645.4 630.6) scale(0.97 1.05)" text-anchor="middle">90</text>
<text transform="translate(964.7 610.9) scale(0.925 1.02)" text-anchor="end">-0.3</text>
<text transform="translate(964.7 512.6) scale(0.925 1.02)" text-anchor="end">-0.2</text>
<text transform="translate(964.7 414.4) scale(0.925 1.02)" text-anchor="end">-0.1</text>
<text transform="translate(964.7 316.1) scale(0.925 1.02)" text-anchor="end">0</text>
<text transform="translate(964.7 217.9) scale(0.925 1.02)" text-anchor="end">0.1</text>
<text transform="translate(964.7 119.7) scale(0.925 1.02)" text-anchor="end">0.2</text>
<text transform="translate(964.7 21.4) scale(0.925 1.02)" text-anchor="end">0.3</text>
<text class="l" transform="translate(1347.3 663.5) scale(1 1.02)" text-anchor="middle">t</text>
<text class="l" transform="translate(910.9 309.6) rotate(-90) scale(1 1.02)" text-anchor="middle">r</text>
</svg>
</body></html>
